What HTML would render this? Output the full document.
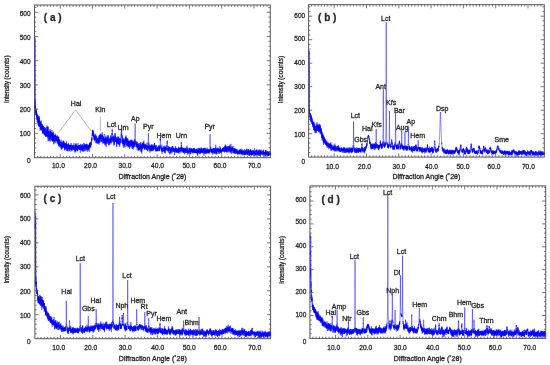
<!DOCTYPE html>
<html><head><meta charset="utf-8"><title>XRD patterns</title>
<style>
html,body{margin:0;padding:0;background:#fff;}
svg{display:block;}
text{font-family:"Liberation Sans", Arial, sans-serif;fill:#2a2a2a;stroke:#2a2a2a;stroke-width:0.3px;}
</style></head>
<body>
<svg width="550" height="365" viewBox="0 0 550 365">
<defs><filter id="soft" x="-2%" y="-5%" width="104%" height="110%"><feGaussianBlur stdDeviation="0.35"/></filter></defs>
<rect x="0" y="0" width="550" height="365" fill="#ffffff"/>
<rect x="34.5" y="5" width="235.8" height="152.7" fill="none" stroke="#585858" stroke-width="1"/>
<path d="M35.3 37.8V110" stroke="#8585f6" stroke-width="1.1" fill="none"/>
<polyline fill="none" stroke="#0000ff" stroke-width="0.45" stroke-linejoin="round" filter="url(#soft)" points="34.8,37.1 34.8,41.4 34.9,53.9 34.9,68.3 35,76 35,86.3 35,88.6 35.1,94.1 35.1,97.2 35.2,107.4 35.2,100.4 35.2,108.1 35.3,106.8 35.3,109.1 35.4,109.3 35.4,107.4 35.4,105.3 35.5,108.4 35.5,109.1 35.6,107.3 35.6,112.4 35.6,113.6 35.7,108.8 35.7,110.6 35.8,114.5 35.8,111.7 35.8,110.9 35.9,114.5 35.9,115 36,112.6 36,109.9 36.1,113.7 36.1,115.8 36.1,111.9 36.2,112.2 36.2,114.4 36.3,111.5 36.3,109 36.3,111.5 36.4,112.8 36.4,111 36.5,113.3 36.5,111.2 36.5,117.1 36.6,114.5 36.6,114.1 36.7,116.5 36.7,112.7 36.7,113.1 36.8,117.7 36.8,113.2 36.9,114.5 36.9,114.7 36.9,115.5 37,114.1 37,119.6 37.1,114.8 37.1,115.8 37.1,122.3 37.2,117.6 37.2,118.8 37.3,114.8 37.3,117.7 37.3,116.8 37.4,116.4 37.4,119 37.5,115.9 37.5,117.4 37.5,116.1 37.6,119.1 37.6,115 37.7,116.3 37.7,119.7 37.7,118.2 37.8,116.2 37.8,114.8 37.9,123.2 37.9,117.3 37.9,118.8 38,120.5 38,122.2 38.1,116 38.1,122.8 38.2,117.8 38.2,116.9 38.2,125.4 38.3,121.6 38.3,125.3 38.4,120.5 38.4,116.9 38.4,116.9 38.5,125.4 38.5,122.9 38.6,120.1 38.6,117.4 38.6,121.5 38.7,124.7 38.7,121.2 38.8,122.6 38.8,123.2 38.8,124.3 38.9,121.3 38.9,120.8 39,122.3 39,124.1 39,126.4 39.1,125.2 39.1,120.7 39.2,123.2 39.2,127.1 39.2,119.4 39.3,121.8 39.3,117.9 39.4,122.3 39.4,122.2 39.4,124.5 39.5,117.1 39.5,116.2 39.6,126.3 39.6,125.4 39.6,122.8 39.7,124.5 39.7,122.8 39.8,123.1 39.8,123.2 39.8,122.4 39.9,125.3 39.9,123.7 40,126.7 40,124.9 40,130.8 40.1,128.4 40.1,121.3 40.2,124.4 40.2,121.5 40.3,123.7 40.3,122.9 40.3,123.3 40.4,123.2 40.4,124.4 40.5,125.5 40.5,127.8 40.5,128.1 40.6,130 40.6,129 40.7,126.1 40.7,124.5 40.7,126.1 40.8,129.2 40.8,125.4 40.9,125.1 40.9,123.1 40.9,123.5 41,127.5 41,128 41.1,120.3 41.1,124.4 41.1,121.8 41.2,121.6 41.2,129.7 41.3,127.8 41.3,127.1 41.3,126.5 41.4,126.6 41.4,126.5 41.5,127.2 41.5,130.7 41.5,127.5 41.6,129.3 41.6,126.4 41.7,127.2 41.7,125.4 41.7,124.6 41.8,126 41.8,127.5 41.9,126.3 41.9,128.5 41.9,127.1 42,127 42,126 42.1,125.7 42.1,124.2 42.1,130 42.2,124 42.2,129.8 42.3,130.3 42.3,128.4 42.4,128.9 42.4,126.3 42.4,129 42.5,131.1 42.5,131.7 42.6,126.7 42.6,129.3 42.6,132.3 42.7,129.3 42.7,133.7 42.8,125.4 42.8,133.6 42.8,129.1 42.9,127.8 42.9,132.6 43,128.1 43,125.7 43,127.7 43.1,129.4 43.1,127.2 43.2,128.2 43.2,127.3 43.2,127.8 43.3,126.4 43.3,130.9 43.4,126.2 43.4,130.1 43.4,131.7 43.5,128.8 43.5,127.2 43.6,128.5 43.6,131.6 43.6,128.8 43.7,130.5 43.7,129.5 43.8,129.4 43.8,134.1 43.8,128.8 43.9,131.4 43.9,131.1 44,133.6 44,134.2 44,133.2 44.1,128.6 44.1,127.2 44.2,131.2 44.2,128.9 44.2,131.6 44.3,135.1 44.3,129.7 44.4,129.5 44.4,133.1 44.4,131.8 44.5,131.9 44.5,135.3 44.6,135.7 44.6,132.5 44.7,131.7 44.7,132.2 44.7,129.1 44.8,127 44.8,131.5 44.9,128.8 44.9,129.3 44.9,130.6 45,131.3 45,134.5 45.1,131.4 45.1,128.4 45.1,130.8 45.2,133.8 45.2,130.1 45.3,128.4 45.3,130.6 45.3,133.3 45.4,128.2 45.4,135 45.5,131.4 45.5,132.7 45.5,136.5 45.6,130.6 45.6,132.2 45.7,135.7 45.7,131.1 45.7,133.4 45.8,137 45.8,134.8 45.9,131.8 45.9,131.2 45.9,132.1 46,131.9 46,132.4 46.1,134.8 46.1,133.4 46.1,136 46.2,134.5 46.2,133.3 46.3,135.8 46.3,135.3 46.3,130.3 46.4,133 46.4,134.3 46.5,133.1 46.5,134 46.5,131.6 46.6,134.1 46.6,130.2 46.7,134.2 46.7,126.9 46.8,130.6 46.8,134.8 46.8,133 46.9,135 46.9,134.6 47,137 47,133.2 47,125.4 47.1,136.4 47.1,131.9 47.2,132.4 47.2,131.1 47.2,136.5 47.3,136.5 47.3,133.5 47.4,133.5 47.4,129 47.4,134.7 47.5,132.6 47.5,127 47.6,136.9 47.6,137.5 47.6,135.5 47.7,134.4 47.7,132.3 47.8,133.5 47.8,135.2 47.8,132.9 47.9,126.2 47.9,130.2 48,141.3 48,135 48,137.2 48.1,132.1 48.1,132.8 48.2,127 48.2,129.6 48.2,130.8 48.3,132.4 48.3,134.5 48.4,134.2 48.4,131.4 48.4,133.9 48.5,135.1 48.5,131 48.6,132.9 48.6,134 48.6,135.9 48.7,135.4 48.7,135.8 48.8,140.9 48.8,131.5 48.9,134.1 48.9,137.2 48.9,132.9 49,134.8 49,133.1 49.1,139.2 49.1,133.3 49.1,132.2 49.2,129.7 49.2,129.8 49.3,131.8 49.3,137.9 49.3,141.3 49.4,135.1 49.4,136.5 49.5,133.7 49.5,135.1 49.5,134.3 49.6,139.4 49.6,135 49.7,137.2 49.7,134.2 49.7,133.5 49.8,135.2 49.8,134.5 49.9,135.8 49.9,133.4 49.9,132.5 50,135.1 50,135.6 50.1,129.1 50.1,134.2 50.1,131.3 50.2,132.1 50.2,135.7 50.3,136.5 50.3,134.5 50.3,135.1 50.4,134.7 50.4,139.4 50.5,137.8 50.5,135.7 50.5,131 50.6,141.6 50.6,135.4 50.7,138.3 50.7,136.1 50.7,137.5 50.8,133.8 50.8,130.8 50.9,133.9 50.9,134.5 51,134.8 51,137.3 51,134.1 51.1,135.5 51.1,137.9 51.2,136.3 51.2,136 51.2,133.8 51.3,136 51.3,137.3 51.4,132.9 51.4,133.4 51.4,132 51.5,133 51.5,134.8 51.6,135.7 51.6,135.4 51.6,132.5 51.7,134.7 51.7,139.5 51.8,136.8 51.8,140.8 51.8,138.1 51.9,139.9 51.9,139 52,134.7 52,133.9 52,137.7 52.1,133.6 52.1,130.1 52.2,140.3 52.2,133.1 52.2,138.2 52.3,138.2 52.3,136 52.4,138.8 52.4,132.7 52.4,135.3 52.5,139.1 52.5,138.3 52.6,141.1 52.6,138.8 52.6,134.8 52.7,141.8 52.7,138.9 52.8,137.1 52.8,135.9 52.8,134.3 52.9,138.7 52.9,139.8 53,136.9 53,139.7 53,140.1 53.1,135.6 53.1,133.2 53.2,136.8 53.2,136.3 53.3,134 53.3,141.2 53.3,135.8 53.4,139.3 53.4,131.7 53.5,136.5 53.5,137.8 53.5,138.6 53.6,144.3 53.6,134.7 53.7,134.2 53.7,139.6 53.7,136.6 53.8,136.6 53.8,140.1 53.9,133.9 53.9,133.4 53.9,136 54,137.7 54,135.7 54.1,140.8 54.1,137.5 54.1,134.9 54.2,141.4 54.2,136.4 54.3,140.2 54.3,143.6 54.3,137.6 54.4,140.2 54.4,137.8 54.5,141.6 54.5,137.5 54.5,141.4 54.6,136.6 54.6,139.1 54.7,138.7 54.7,135 54.7,138.2 54.8,138.7 54.8,140 54.9,135 54.9,136.4 54.9,138.7 55,138.5 55,140.8 55.1,139.9 55.1,140.3 55.1,136.9 55.2,137.4 55.2,140.3 55.3,136.9 55.3,136.6 55.4,137 55.4,135.1 55.4,137.7 55.5,137.4 55.5,136.1 55.6,137.6 55.6,135.5 55.6,139.6 55.7,133.7 55.7,139 55.8,138.4 55.8,143.3 55.8,139.4 55.9,137.3 55.9,138.4 56,137.4 56,142.2 56,139.7 56.1,138.5 56.1,140.5 56.2,137.4 56.2,140.5 56.2,140.6 56.3,138.1 56.3,140.1 56.4,140.3 56.4,141 56.4,138.6 56.5,139 56.5,137.9 56.6,136.4 56.6,140.7 56.6,139 56.7,137.5 56.7,140.3 56.8,139.1 56.8,136.1 56.8,137 56.9,138.2 56.9,140.8 57,140.8 57,137 57,139.2 57.1,137.2 57.1,135.7 57.2,138.4 57.2,138 57.2,137 57.3,135.4 57.3,136.8 57.4,139.5 57.4,139 57.5,144.1 57.5,142.7 57.5,139.9 57.6,141.3 57.6,142.3 57.7,141.8 57.7,141.3 57.7,139.9 57.8,140.8 57.8,139.1 57.9,136.2 57.9,140.9 57.9,138.6 58,139.9 58,142.4 58.1,141.2 58.1,142.6 58.1,138.9 58.2,143.1 58.2,137.3 58.3,138.6 58.3,144.5 58.3,138 58.4,137.3 58.4,142.3 58.5,138.9 58.5,145.2 58.5,140.1 58.6,144.1 58.6,139.3 58.7,143.9 58.7,145.9 58.7,140.3 58.8,136.6 58.8,142.4 58.9,139.6 58.9,140.9 58.9,142.1 59,141.7 59,140.6 59.1,146.5 59.1,142.8 59.1,142 59.2,145.1 59.2,139.8 59.3,139.4 59.3,145.1 59.3,139.7 59.4,142.8 59.4,143.9 59.5,141.6 59.5,144.8 59.5,143.9 59.6,141.1 59.6,140.3 59.7,139.9 59.7,144.3 59.8,145 59.8,140.6 59.8,145 59.9,144 59.9,146.6 60,145.6 60,147.3 60,141.5 60.1,146.5 60.1,144.5 60.2,144.9 60.2,142.7 60.2,146.2 60.3,144.1 60.3,144.2 60.4,142.1 60.4,143.3 60.4,144.8 60.5,144 60.5,145.6 60.6,143.4 60.6,144.5 60.6,146.2 60.7,144.9 60.7,145 60.8,141.7 60.8,146 60.8,144.6 60.9,141.6 60.9,148 61,147.7 61,146 61,144.2 61.1,139.6 61.1,143.1 61.2,142.5 61.2,145.4 61.2,149.8 61.3,148.8 61.3,142.1 61.4,144.6 61.4,147.3 61.4,143.7 61.5,149.3 61.5,144.4 61.6,143.2 61.6,147.6 61.6,147.7 61.7,143.2 61.7,146.3 61.8,142.7 61.8,146 61.9,143.1 61.9,144.4 61.9,144.5 62,145.9 62,143.9 62.1,147.7 62.1,144.9 62.1,146 62.2,144.7 62.2,149.1 62.3,144.4 62.3,147.1 62.3,147.5 62.4,142.6 62.4,142 62.5,145.2 62.5,146.8 62.5,145.9 62.6,147.9 62.6,147.4 62.7,144.1 62.7,146.3 62.7,146.1 62.8,146.2 62.8,146.4 62.9,145 62.9,144.7 62.9,146.5 63,145.8 63,140.5 63.1,143.1 63.1,144.8 63.1,141.3 63.2,144.8 63.2,146.9 63.3,143.3 63.3,146 63.3,146.2 63.4,145.1 63.4,145.9 63.5,147.4 63.5,146.7 63.5,147.5 63.6,144.3 63.6,147.3 63.7,146.3 63.7,140.8 63.7,145.5 63.8,141.4 63.8,141.8 63.9,144.3 63.9,146.8 64,143.8 64,143.1 64,142.9 64.1,144.5 64.1,142.6 64.2,142.2 64.2,146.8 64.2,142.6 64.3,144.6 64.3,146.9 64.4,146.9 64.4,143.5 64.4,145.4 64.5,150.4 64.5,145.9 64.6,145.9 64.6,146.6 64.6,147.2 64.7,149.9 64.7,145.2 64.8,148.1 64.8,146.2 64.8,146 64.9,145.8 64.9,143.1 65,143.9 65,146.8 65,148.3 65.1,147.7 65.1,145.2 65.2,145.8 65.2,145.2 65.2,146.2 65.3,147 65.3,146.2 65.4,149.5 65.4,143.3 65.4,146.3 65.5,146.1 65.5,143.5 65.6,145.5 65.6,146.5 65.6,147.8 65.7,149.4 65.7,146.6 65.8,145.2 65.8,147.9 65.8,143.7 65.9,147.7 65.9,146.9 66,146 66,147 66.1,145.9 66.1,147.4 66.1,148 66.2,149.5 66.2,147.7 66.3,148.4 66.3,147.6 66.3,144.4 66.4,146.1 66.4,148.5 66.5,141.3 66.5,146.9 66.5,148 66.6,142.8 66.6,143.2 66.7,148.4 66.7,148.8 66.7,148 66.8,144.8 66.8,146.1 66.9,147.3 66.9,146.7 66.9,145.5 67,150.8 67,149 67.1,150.9 67.1,144.6 67.1,144.3 67.2,145.5 67.2,147.4 67.3,146.2 67.3,150.9 67.3,147.2 67.4,149.3 67.4,148.1 67.5,147.4 67.5,146.8 67.5,145.2 67.6,145.6 67.6,146.9 67.7,148.6 67.7,146.1 67.7,147.6 67.8,144.5 67.8,148.4 67.9,151.7 67.9,147.4 67.9,143.8 68,147.1 68,148.1 68.1,147.1 68.1,146.9 68.1,146.7 68.2,148.9 68.2,147.6 68.3,148.6 68.3,149.2 68.4,149.3 68.4,146.8 68.4,144.4 68.5,145.4 68.5,146.1 68.6,146 68.6,142.9 68.6,147.1 68.7,146.2 68.7,144.5 68.8,147.7 68.8,147.2 68.8,145.9 68.9,144.9 68.9,147.2 69,146.6 69,146.3 69,149.1 69.1,145.1 69.1,148.3 69.2,151.3 69.2,148.4 69.2,150.9 69.3,148.8 69.3,146.5 69.4,148.1 69.4,145.1 69.4,149.7 69.5,147 69.5,146.3 69.6,145.1 69.6,146 69.6,146.5 69.7,146.9 69.7,147.1 69.8,144.8 69.8,148.3 69.8,146.2 69.9,147.3 69.9,147.3 70,148.6 70,144.6 70,148.3 70.1,146.1 70.1,145.4 70.2,145.2 70.2,146.1 70.2,146.4 70.3,145.7 70.3,150.2 70.4,147.3 70.4,149.2 70.5,146.5 70.5,148.5 70.5,148.7 70.6,147.5 70.6,145.3 70.7,147 70.7,147.5 70.7,146.1 70.8,149.6 70.8,151.5 70.9,149.1 70.9,148.8 70.9,146.8 71,145.1 71,149.6 71.1,142.9 71.1,145.3 71.1,146.1 71.2,147.4 71.2,144.8 71.3,147.7 71.3,148.7 71.3,148 71.4,150 71.4,146.9 71.5,148.1 71.5,147.2 71.5,147.5 71.6,149.7 71.6,145.9 71.7,149.2 71.7,145 71.7,148.6 71.8,145.3 71.8,147.5 71.9,147 71.9,148.6 71.9,151.2 72,150 72,148 72.1,147.6 72.1,150.2 72.1,150.6 72.2,148.5 72.2,147.2 72.3,148.3 72.3,148.5 72.3,146 72.4,145.7 72.4,145.4 72.5,148.3 72.5,146.8 72.6,147.4 72.6,149.5 72.6,146.1 72.7,147.4 72.7,147.9 72.8,144.9 72.8,145.2 72.8,145.2 72.9,144.9 72.9,146.3 73,149.8 73,148.7 73,146.7 73.1,149 73.1,147.7 73.2,147.5 73.2,145.3 73.2,145.8 73.3,146.6 73.3,147.5 73.4,146.2 73.4,146.6 73.4,147.6 73.5,145.7 73.5,147.3 73.6,149.1 73.6,145.5 73.6,147.1 73.7,145.7 73.7,149.5 73.8,147.1 73.8,148.8 73.8,148.3 73.9,149.6 73.9,143.1 74,146.6 74,146.1 74,145.6 74.1,148 74.1,146.9 74.2,149.4 74.2,146.4 74.2,146.9 74.3,145.7 74.3,147.2 74.4,149.6 74.4,150.6 74.4,149.6 74.5,146.8 74.5,147.4 74.6,147.8 74.6,151.1 74.7,152.4 74.7,148.8 74.7,148.4 74.8,148.9 74.8,147.4 74.9,148.2 74.9,149.5 74.9,148.4 75,146.8 75,147.9 75.1,148 75.1,144.7 75.1,148.8 75.2,147.3 75.2,149 75.3,147.8 75.3,145.7 75.3,146.4 75.4,148.6 75.4,147.5 75.5,147.9 75.5,150.1 75.5,151.7 75.6,143.6 75.6,146.2 75.7,148.4 75.7,151 75.7,150.6 75.8,146.5 75.8,152.4 75.9,148.3 75.9,146.2 75.9,146.6 76,145.6 76,147 76.1,143.3 76.1,149 76.1,149.5 76.2,147.1 76.2,144.1 76.3,147.3 76.3,146.1 76.3,148.6 76.4,150.1 76.4,145.7 76.5,144.8 76.5,144.8 76.5,147.9 76.6,148.9 76.6,149.4 76.7,148 76.7,146.9 76.7,146.6 76.8,149.5 76.8,147 76.9,147.4 76.9,148.2 77,148.9 77,149 77,148 77.1,148.2 77.1,147.5 77.2,148.6 77.2,146.7 77.2,147.6 77.3,151.4 77.3,146.9 77.4,147.1 77.4,146.2 77.4,147.5 77.5,147.8 77.5,148.1 77.6,147.6 77.6,148.9 77.6,151.1 77.7,145.6 77.7,151 77.8,148.5 77.8,147 77.8,146.5 77.9,146.6 77.9,146.4 78,145.9 78,148.3 78,143.2 78.1,149.3 78.1,147.2 78.2,148.5 78.2,149.2 78.2,148.1 78.3,145.7 78.3,148.9 78.4,149.3 78.4,146.8 78.4,147.9 78.5,144.9 78.5,146.7 78.6,147.9 78.6,148 78.6,146.7 78.7,146.8 78.7,148.4 78.8,146.6 78.8,147.8 78.8,148 78.9,148.3 78.9,145.1 79,146.4 79,145 79.1,148.2 79.1,149.2 79.1,148.3 79.2,148.6 79.2,148.6 79.3,147.5 79.3,145.1 79.3,146.3 79.4,149 79.4,148.2 79.5,149.2 79.5,147.6 79.5,149.8 79.6,148.2 79.6,147 79.7,148.9 79.7,149.8 79.7,149.4 79.8,147.8 79.8,145.6 79.9,145.1 79.9,146.5 79.9,148.6 80,145 80,147.1 80.1,147.2 80.1,146.6 80.1,148.6 80.2,147.3 80.2,146.6 80.3,146.1 80.3,147.5 80.3,152.7 80.4,148 80.4,146.7 80.5,145.6 80.5,146.8 80.5,143.8 80.6,145.3 80.6,145.3 80.7,146.2 80.7,150.1 80.7,146.7 80.8,147.5 80.8,149 80.9,147 80.9,147.9 80.9,149.7 81,149.5 81,149.7 81.1,148.4 81.1,148.2 81.2,146.3 81.2,150.2 81.2,147.5 81.3,150.4 81.3,147.8 81.4,146.4 81.4,147.6 81.4,147.8 81.5,147.7 81.5,145.3 81.6,149.6 81.6,146 81.6,149.8 81.7,148.1 81.7,146.5 81.8,148.6 81.8,146.8 81.8,146.2 81.9,149.6 81.9,147.8 82,149.1 82,151.2 82,148 82.1,149.2 82.1,144.7 82.2,148.1 82.2,144.1 82.2,147.7 82.3,144.4 82.3,146.4 82.4,147 82.4,146.4 82.4,146.5 82.5,146.5 82.5,145.4 82.6,148.8 82.6,149.3 82.6,151.6 82.7,148.3 82.7,146.1 82.8,147.6 82.8,148.4 82.8,149.2 82.9,149.7 82.9,149.1 83,147.1 83,151.1 83,146.9 83.1,149.3 83.1,147 83.2,146.7 83.2,146.5 83.3,148.5 83.3,148.6 83.3,147.6 83.4,148.6 83.4,143 83.5,147.9 83.5,148.2 83.5,149 83.6,149.6 83.6,151.8 83.7,148 83.7,146.1 83.7,148.6 83.8,146.3 83.8,148.8 83.9,146.6 83.9,145.7 83.9,145.5 84,144.8 84,147 84.1,145.8 84.1,148.1 84.1,147.7 84.2,146.6 84.2,147.6 84.3,149.1 84.3,145.6 84.3,148.4 84.4,148.1 84.4,148.5 84.5,145.2 84.5,147.7 84.5,150.9 84.6,145.3 84.6,143.2 84.7,143.4 84.7,147.5 84.7,147.3 84.8,146.1 84.8,144.4 84.9,145.8 84.9,148 84.9,145.7 85,147.3 85,151.3 85.1,148.9 85.1,147.7 85.1,147.8 85.2,145.8 85.2,145.3 85.3,146.1 85.3,146.8 85.3,149.6 85.4,146.5 85.4,145.1 85.5,144.3 85.5,147.2 85.6,147.3 85.6,144.4 85.6,144.4 85.7,146.1 85.7,144.7 85.8,147.7 85.8,145.5 85.8,147.3 85.9,146.5 85.9,146.9 86,147.3 86,150.7 86,148.3 86.1,145.5 86.1,146.3 86.2,146.3 86.2,145.1 86.2,144.5 86.3,144.9 86.3,148.4 86.4,147.1 86.4,147.4 86.4,148.2 86.5,149 86.5,146.4 86.6,148.4 86.6,143.6 86.6,147.9 86.7,148.1 86.7,148.6 86.8,144.2 86.8,148 86.8,147.3 86.9,147.7 86.9,147.6 87,147.7 87,145.8 87,150 87.1,146.8 87.1,144 87.2,146.9 87.2,146.7 87.2,148.5 87.3,151.9 87.3,147.5 87.4,145.6 87.4,147.9 87.4,149.6 87.5,146.5 87.5,146.8 87.6,145.9 87.6,145.8 87.7,147.9 87.7,147.1 87.7,150.1 87.8,145.7 87.8,147.7 87.9,145.6 87.9,145.3 87.9,147.4 88,146.4 88,148 88.1,150.6 88.1,147.7 88.1,147.4 88.2,148.5 88.2,145 88.3,145.8 88.3,145 88.3,148.2 88.4,149.4 88.4,145.6 88.5,146.4 88.5,146.8 88.5,147.1 88.6,146.7 88.6,146.1 88.7,147.1 88.7,150.1 88.7,145.1 88.8,148.6 88.8,146.4 88.9,145.9 88.9,146.5 88.9,149.6 89,144.8 89,145.8 89.1,145.2 89.1,144.6 89.1,147.9 89.2,151.8 89.2,145.4 89.3,143.9 89.3,144.3 89.3,146.6 89.4,146.1 89.4,144.5 89.5,147.7 89.5,146 89.5,146.2 89.6,143.4 89.6,147.5 89.7,143.7 89.7,145.6 89.8,148.4 89.8,142.4 89.8,147.9 89.9,145.2 89.9,143 90,145.9 90,146.9 90,143.5 90.1,145.1 90.1,147.3 90.2,146.9 90.2,146 90.2,143.2 90.3,145.6 90.3,144.5 90.4,143.1 90.4,143.8 90.4,142.5 90.5,143 90.5,147 90.6,143 90.6,145.1 90.6,145.8 90.7,147.1 90.7,147.5 90.8,146.3 90.8,144 90.8,145.7 90.9,144.5 90.9,143.6 91,141.9 91,144.2 91,144.2 91.1,141.9 91.1,144.4 91.2,142.3 91.2,144.9 91.2,142.3 91.3,142.2 91.3,141.8 91.4,141.7 91.4,141.8 91.4,140.9 91.5,140.5 91.5,138.2 91.6,139 91.6,141.6 91.6,139.2 91.7,141.3 91.7,139.3 91.8,139.9 91.8,140.9 91.8,136.8 91.9,137.6 91.9,139 92,139.8 92,137.9 92.1,138.3 92.1,137.8 92.1,136.2 92.2,134.6 92.2,136 92.3,133.5 92.3,133.3 92.3,134.5 92.4,136.2 92.4,132.5 92.5,133 92.5,130.7 92.5,131.2 92.6,131.9 92.6,130.7 92.7,133.6 92.7,131.7 92.7,132.5 92.8,129.7 92.8,131 92.8,135.8 92.9,129.9 92.9,132.3 92.9,131 93,132.6 93,132.3 93.1,132.6 93.1,133.2 93.1,135 93.2,132.6 93.2,133.1 93.3,134 93.3,133.2 93.3,134.5 93.4,131.2 93.4,134 93.5,134.5 93.5,134.1 93.5,135.8 93.6,136.6 93.6,134.9 93.7,135.6 93.7,133.7 93.7,134.9 93.8,137.2 93.8,134.6 93.9,133.8 93.9,133.4 93.9,134.9 94,138.6 94,135.4 94.1,138.2 94.1,136.7 94.2,140.1 94.2,137.4 94.2,140.4 94.3,136.1 94.3,134.8 94.4,135.1 94.4,139.9 94.4,139.7 94.5,140 94.5,138.4 94.6,137.8 94.6,139 94.6,139.2 94.7,137.7 94.7,137.7 94.8,134.9 94.8,137.1 94.8,137.9 94.9,141.5 94.9,140.8 95,139.9 95,140 95,137.6 95.1,136.3 95.1,139.4 95.2,139.8 95.2,139.6 95.2,139.2 95.3,139.9 95.3,138.5 95.4,138.3 95.4,136.9 95.4,135.8 95.5,137.1 95.5,137.1 95.6,133.7 95.6,137.9 95.6,136 95.7,139.5 95.7,141.5 95.8,142.5 95.8,143.3 95.8,140.5 95.9,140.8 95.9,139.5 96,135.6 96,138.7 96,136.2 96.1,138.4 96.1,138.4 96.2,141.9 96.2,140.6 96.3,135.7 96.3,139 96.3,138.3 96.4,140.4 96.4,137.5 96.5,141.4 96.5,140.9 96.5,137.9 96.6,138.3 96.6,141.7 96.7,140.1 96.7,140.8 96.7,140.3 96.8,141.9 96.8,143.3 96.9,138.5 96.9,142.5 96.9,141.4 97,140.6 97,143.5 97.1,140 97.1,140.5 97.1,140.1 97.2,140.8 97.2,140.8 97.3,139 97.3,138.3 97.3,140.5 97.4,139.2 97.4,139.5 97.5,140.2 97.5,137.8 97.5,141.2 97.6,138.9 97.6,139.3 97.7,140.9 97.7,143.3 97.7,138.9 97.8,139.5 97.8,139.2 97.9,139.5 97.9,139.9 97.9,141.7 98,139.4 98,143.9 98.1,140.8 98.1,142.6 98.1,140 98.2,137.9 98.2,139 98.3,140.6 98.3,138.3 98.4,140 98.4,140.9 98.4,141 98.5,138 98.5,139.6 98.6,139.1 98.6,142.4 98.6,138.4 98.7,142.7 98.7,139.4 98.8,142.1 98.8,135.6 98.8,143.1 98.9,137.3 98.9,138.7 99,144.7 99,139.8 99,136.3 99.1,137.4 99.1,142.8 99.2,141.1 99.2,142.2 99.2,141.2 99.3,139.8 99.3,135.2 99.4,138.2 99.4,139.4 99.4,139.7 99.5,137.2 99.5,138.4 99.6,141.1 99.6,135.6 99.6,141.9 99.7,140.2 99.7,138.4 99.8,136 99.8,139.1 99.8,137.5 99.9,135.9 99.9,137.6 100,136.6 100,136.7 100,137.6 100.1,136.1 100.1,135.1 100.2,137.2 100.2,134.2 100.2,139.6 100.3,137.7 100.3,133.7 100.4,135 100.4,138.5 100.4,137.6 100.5,135.8 100.5,138.7 100.6,135.4 100.6,135.7 100.6,135.6 100.7,136.2 100.7,134.5 100.7,139.1 100.8,138.8 100.8,137.2 100.9,141.4 100.9,142.4 100.9,138.4 101,139.6 101,139.4 101.1,139.1 101.1,141.2 101.1,134.2 101.2,141.5 101.2,139.9 101.3,141.4 101.3,139.4 101.3,135.5 101.4,138.3 101.4,137.6 101.5,139.8 101.5,135.8 101.5,139.3 101.6,141.6 101.6,138.1 101.7,139.1 101.7,137.5 101.7,138.2 101.8,136.8 101.8,137 101.9,138.6 101.9,139.2 101.9,135.3 102,137.2 102,135.2 102.1,136.4 102.1,136.9 102.1,135.6 102.2,132.2 102.2,134.5 102.2,133.7 102.3,135.5 102.3,136 102.3,135.3 102.4,136.5 102.4,136.6 102.5,137.7 102.5,139.3 102.5,138.5 102.6,138.6 102.6,138.9 102.7,135.6 102.7,138.5 102.8,137.7 102.8,140.6 102.8,136.6 102.9,141.3 102.9,143.6 103,142.7 103,139.4 103,142.3 103.1,137.3 103.1,139.2 103.2,143.2 103.2,141 103.2,136.1 103.3,143 103.3,143.3 103.4,139.7 103.4,139.2 103.4,138.5 103.5,141.5 103.5,140.1 103.6,139.3 103.6,138.2 103.6,137 103.7,141.8 103.7,139.3 103.8,142.6 103.8,139.9 103.8,142.6 103.9,141.6 103.9,138.8 104,141.8 104,138.1 104,140.7 104.1,139.8 104.1,140.2 104.2,141.6 104.2,141.4 104.2,139.4 104.3,134 104.3,141.8 104.4,139.3 104.4,139.7 104.4,142.3 104.5,141.2 104.5,142.9 104.6,141.9 104.6,138.9 104.6,144.6 104.7,140.4 104.7,138.9 104.8,141.9 104.8,139.5 104.9,140.3 104.9,141.4 104.9,138.6 105,143.4 105,138.5 105.1,140.9 105.1,142.9 105.1,142.3 105.2,142.7 105.2,141.5 105.3,145.7 105.3,140.9 105.3,141.8 105.4,136.6 105.4,142.6 105.5,137.6 105.5,143.4 105.5,139.1 105.6,139.6 105.6,140.3 105.7,141.9 105.7,144.7 105.7,144.3 105.8,138.3 105.8,141.3 105.9,143.4 105.9,139.2 105.9,142.8 106,142.8 106,142.9 106.1,138.1 106.1,135.5 106.1,141.5 106.2,139.7 106.2,138.5 106.3,137.7 106.3,147.1 106.3,141.6 106.4,139.7 106.4,142.7 106.5,138.8 106.5,139.8 106.5,139.9 106.6,142.9 106.6,140.2 106.7,142 106.7,139.4 106.7,140.3 106.8,141.7 106.8,143.7 106.9,137.1 106.9,138.3 107,139.2 107,142.9 107,143.4 107.1,139.2 107.1,140.6 107.2,143.8 107.2,140.1 107.2,139.5 107.3,139.4 107.3,140.5 107.4,136.8 107.4,138.6 107.4,140.3 107.5,142.1 107.5,140.4 107.6,139.4 107.6,138.9 107.6,141.7 107.7,137.8 107.7,139 107.8,138.4 107.8,141.3 107.8,138.9 107.9,139.7 107.9,138 108,136.9 108,135.5 108,137.5 108,139.3 108.1,134.9 108.1,137.4 108.2,138.4 108.2,138.7 108.2,140.9 108.3,137.9 108.3,137.8 108.4,136.4 108.4,138.2 108.4,139.5 108.5,139.7 108.5,142.2 108.6,141.6 108.6,140.2 108.6,142.4 108.7,141.1 108.7,142.1 108.8,140.1 108.8,142.2 108.8,145.4 108.9,141.4 108.9,138.6 109,145 109,143.4 109,141.8 109.1,145 109.1,142.6 109.2,140.9 109.2,143.6 109.3,140.4 109.3,140.8 109.3,143.1 109.4,141.5 109.4,138.8 109.5,141.5 109.5,141.2 109.5,140.3 109.6,142.2 109.6,139.8 109.7,140.8 109.7,142.2 109.7,139.8 109.8,139.5 109.8,139.3 109.9,142.1 109.9,139.1 109.9,137.5 110,141.2 110,139.6 110.1,138.6 110.1,140.4 110.1,138.9 110.2,140.7 110.2,139.4 110.3,142 110.3,142.6 110.3,142.4 110.4,141.6 110.4,140.8 110.5,140.3 110.5,142.8 110.5,141.5 110.6,138.3 110.6,138.3 110.7,140.4 110.7,135.7 110.7,139.2 110.8,141.3 110.8,139.1 110.9,137.7 110.9,140.3 110.9,144.3 111,139.5 111,139.7 111.1,135.1 111.1,143.1 111.1,136.8 111.2,140 111.2,137.7 111.3,140.6 111.3,139.1 111.4,138 111.4,139.6 111.4,138 111.5,140.6 111.5,141.1 111.6,141.6 111.6,142 111.6,141.8 111.7,137.9 111.7,141.7 111.8,142.2 111.8,138.8 111.8,136.1 111.9,136.1 111.9,134.5 112,133.5 112,135.2 112,133.2 112.1,134.8 112.1,130.9 112.2,128.8 112.2,130.8 112.2,131.2 112.2,131 112.3,130.6 112.3,130.4 112.4,130.3 112.4,132.6 112.4,136.5 112.5,138.9 112.5,136.9 112.6,136.4 112.6,141.4 112.6,140.1 112.7,139.6 112.7,138.9 112.8,139.4 112.8,138.5 112.8,138.3 112.9,140.2 112.9,139.2 113,136.7 113,142.3 113,142 113.1,139.4 113.1,137.3 113.2,140.5 113.2,138.3 113.2,140.3 113.3,137.7 113.3,140.8 113.4,138.5 113.4,139.1 113.5,137.7 113.5,135.6 113.5,138.1 113.6,141.4 113.6,139.7 113.7,145.7 113.7,139.8 113.7,137.1 113.8,141.3 113.8,140.5 113.9,140 113.9,137.7 113.9,139.5 114,137.9 114,140.7 114.1,140.4 114.1,139.6 114.1,140 114.2,142.6 114.2,136.2 114.3,139.5 114.3,143.5 114.3,138.6 114.4,140.4 114.4,140.7 114.5,139.5 114.5,141.8 114.5,145.1 114.6,139.7 114.6,138 114.7,137.1 114.7,139.7 114.7,138.8 114.8,137.9 114.8,138.4 114.9,138.6 114.9,136.7 114.9,138 115,133.4 115,136.4 115.1,135.5 115.1,136.2 115.1,136.8 115.1,134.5 115.2,133.9 115.2,133.3 115.3,135.5 115.3,137.4 115.3,135.6 115.4,139.3 115.4,137.6 115.5,137.6 115.5,137.9 115.6,141.3 115.6,141.9 115.6,136.9 115.7,139.7 115.7,141.8 115.8,140.9 115.8,138.7 115.8,138.4 115.9,142 115.9,140.2 116,141.8 116,140.6 116,139.3 116.1,141.5 116.1,140.5 116.2,141.4 116.2,141.5 116.2,139.2 116.3,142.3 116.3,141.3 116.4,142.9 116.4,141.3 116.4,141.5 116.5,138.4 116.5,140.9 116.6,141 116.6,137.6 116.6,146.7 116.7,142.8 116.7,146.5 116.8,141.4 116.8,139.9 116.8,139.7 116.9,140.1 116.9,141.9 117,136.8 117,139.6 117,141.6 117.1,144 117.1,140.5 117.2,141.7 117.2,140.3 117.2,139.1 117.3,139.8 117.3,142.6 117.4,138.9 117.4,143.3 117.4,143.9 117.5,140.8 117.5,141.3 117.6,140.9 117.6,141.1 117.6,139 117.7,140.1 117.7,143.1 117.8,138.2 117.8,143.1 117.9,142.4 117.9,139.7 117.9,141.9 118,136.1 118,144.2 118.1,143.3 118.1,142.1 118.1,139.2 118.2,141.6 118.2,144 118.3,137.4 118.3,141.7 118.3,140.2 118.4,137.2 118.4,141.4 118.5,141.1 118.5,139.8 118.5,141.5 118.6,140.1 118.6,142 118.7,139.5 118.7,141.8 118.7,142.5 118.8,136.7 118.8,139.9 118.9,138.5 118.9,142.9 118.9,141.8 119,141.8 119,144.5 119.1,140.3 119.1,142.5 119.1,142.6 119.2,145.6 119.2,141.1 119.3,141.2 119.3,141.2 119.3,143.9 119.4,142 119.4,138.3 119.5,141.2 119.5,140.2 119.5,141.3 119.6,144.5 119.6,140.1 119.7,146.8 119.7,141.7 119.7,142.7 119.8,144.6 119.8,140.9 119.9,140.8 119.9,140.8 120,142.2 120,139.9 120,138.4 120.1,140.6 120.1,139.2 120.2,139.6 120.2,140 120.2,138.9 120.3,141.1 120.3,141.5 120.4,139.8 120.4,139.4 120.4,138 120.5,138.9 120.5,141.5 120.6,141.4 120.6,142.6 120.6,143.1 120.7,142 120.7,138.8 120.8,141 120.8,140.1 120.8,139.6 120.9,141.8 120.9,140.8 121,143.2 121,138.2 121,138.1 121.1,136.3 121.1,135.8 121.2,138.1 121.2,132.8 121.2,135.3 121.3,134.6 121.3,135.9 121.4,132 121.4,131.8 121.4,132.3 121.5,131.5 121.5,130.3 121.6,131.5 121.6,130.8 121.6,128.7 121.6,129.6 121.7,130.8 121.7,129.2 121.8,132.4 121.8,133.4 121.8,133.4 121.9,134.9 121.9,135.2 122,135.4 122,137.2 122.1,137.2 122.1,136.6 122.1,137.8 122.2,138.1 122.2,138.8 122.3,139.2 122.3,138.9 122.3,140.5 122.4,140.3 122.4,138.8 122.5,143.9 122.5,139.9 122.5,135.2 122.6,144 122.6,137.9 122.7,143.9 122.7,140.1 122.7,138.1 122.8,138.8 122.8,143.9 122.9,143.8 122.9,143.6 122.9,139.8 123,141.7 123,141.5 123.1,142 123.1,141.5 123.1,141.8 123.2,142.3 123.2,145.6 123.3,139 123.3,147.5 123.3,139.9 123.4,142.7 123.4,142.9 123.5,143.4 123.5,143.3 123.5,143.4 123.6,143.1 123.6,144 123.7,140.3 123.7,142.6 123.7,139 123.8,141.9 123.8,142.8 123.9,140.5 123.9,140.2 123.9,143.2 124,141.5 124,137.9 124.1,142.3 124.1,142.2 124.1,141.4 124.2,144.9 124.2,147.9 124.3,146.8 124.3,142.1 124.4,141.5 124.4,141.5 124.4,142.3 124.5,146.1 124.5,142.8 124.6,141.2 124.6,144.2 124.6,140.3 124.7,141.5 124.7,140.6 124.8,140.1 124.8,144 124.8,139.1 124.9,144.7 124.9,143.3 125,144.4 125,142.9 125,142.1 125.1,143 125.1,139.7 125.2,141.8 125.2,143.3 125.2,147.1 125.3,142.3 125.3,141.5 125.4,141.9 125.4,142.7 125.4,139.7 125.5,138.6 125.5,137.1 125.6,137.5 125.6,140.3 125.6,138 125.7,139.6 125.7,136.5 125.8,137.7 125.8,139.9 125.8,139.4 125.8,140.3 125.9,140.8 125.9,137.8 126,135.4 126,139.3 126,139.4 126.1,141.2 126.1,142.1 126.2,137.9 126.2,142.5 126.2,141 126.3,141.4 126.3,140.3 126.4,141.1 126.4,138.6 126.5,142.9 126.5,139.7 126.5,137.3 126.6,143.6 126.6,143.2 126.7,139.8 126.7,141.9 126.7,139.8 126.8,145.8 126.8,141 126.9,144 126.9,145 126.9,142.1 127,141.3 127,146.7 127.1,145.5 127.1,144.3 127.1,143.6 127.2,145.5 127.2,138.9 127.3,141.6 127.3,143.3 127.3,143.2 127.4,138.2 127.4,138.8 127.5,144.3 127.5,143.9 127.5,140.7 127.6,145.9 127.6,144.3 127.7,139.4 127.7,143.7 127.7,142.8 127.8,146 127.8,145 127.9,142.8 127.9,145.2 127.9,145.1 128,143.6 128,138.7 128.1,142.2 128.1,142.5 128.1,142 128.2,142.6 128.2,143 128.3,147.5 128.3,143 128.3,143.3 128.4,141.4 128.4,146.2 128.5,142 128.5,144.4 128.6,147 128.6,140.5 128.6,144 128.7,142.6 128.7,143.5 128.8,141 128.8,140.8 128.8,141.1 128.9,141.7 128.9,146.2 129,146.3 129,142.8 129,145.4 129.1,143.6 129.1,143.7 129.2,146.3 129.2,144.8 129.2,144.3 129.3,144.5 129.3,142.8 129.4,141.6 129.4,140.5 129.4,145.7 129.5,145.4 129.5,141.6 129.6,143.3 129.6,143.6 129.6,149 129.7,146.5 129.7,145 129.8,146.7 129.8,141.5 129.8,144.3 129.9,142.8 129.9,145.1 130,145.9 130,146.2 130,146.7 130.1,145.6 130.1,142.9 130.2,142.9 130.2,140.9 130.2,145.9 130.3,143.3 130.3,143.1 130.4,140.4 130.4,143.9 130.4,143.2 130.5,144.9 130.5,143 130.6,143.3 130.6,144 130.7,144.2 130.7,143.4 130.7,142.5 130.8,147.2 130.8,142.8 130.9,145.2 130.9,139.9 130.9,140.8 131,144.5 131,144.7 131.1,139.6 131.1,143.3 131.1,143.2 131.2,145.1 131.2,144.4 131.3,141.5 131.3,142.8 131.3,145 131.4,140.8 131.4,142.7 131.5,144.4 131.5,141.6 131.5,144.2 131.6,142.4 131.6,145.4 131.7,142.9 131.7,146.2 131.7,142.1 131.8,146 131.8,142.8 131.9,148.4 131.9,144.7 131.9,142.7 132,143.2 132,141.5 132.1,145.2 132.1,139.8 132.1,139.9 132.2,144.8 132.2,143.9 132.3,143.8 132.3,143 132.3,143.6 132.4,149 132.4,144.4 132.5,146.2 132.5,147.1 132.5,143.7 132.6,145.4 132.6,142.2 132.7,143.5 132.7,144.7 132.7,141 132.8,142 132.8,143.9 132.9,145.8 132.9,144.4 133,142 133,144 133,140.2 133.1,143.4 133.1,144.1 133.2,143.4 133.2,146.4 133.2,145.8 133.3,146.8 133.3,149.5 133.4,148.7 133.4,142.8 133.4,145 133.5,145.6 133.5,147.8 133.6,147.3 133.6,144.2 133.6,145 133.7,145.8 133.7,141.2 133.8,145.1 133.8,145.7 133.8,142.7 133.9,147.5 133.9,143 134,146 134,146 134,146.6 134.1,144.8 134.1,145.2 134.2,145.1 134.2,144.5 134.2,142.5 134.3,141.6 134.3,142.8 134.4,143.2 134.4,144.9 134.4,145.4 134.5,142.5 134.5,144 134.6,142.3 134.6,147 134.6,139.4 134.7,144.1 134.7,141.9 134.8,139.6 134.8,142.5 134.8,140.6 134.9,140.6 134.9,137.4 135,134.6 135,129.6 135.1,127.8 135.1,125.6 135.1,124 135.1,123.7 135.2,125.3 135.2,127 135.3,130 135.3,132.8 135.3,133.5 135.4,136.8 135.4,139.4 135.5,141.2 135.5,141.8 135.5,143.6 135.6,143.1 135.6,144 135.7,141.2 135.7,141.8 135.7,145.5 135.8,143.2 135.8,141.8 135.9,144.3 135.9,143.2 135.9,144.2 136,144.1 136,145.1 136.1,144.3 136.1,143.8 136.1,147.1 136.2,146.2 136.2,146.9 136.3,143.4 136.3,146.3 136.3,146.1 136.4,146.5 136.4,146.6 136.5,146.1 136.5,143.6 136.5,144.9 136.6,142.1 136.6,145 136.7,144.8 136.7,145.7 136.7,145 136.8,144.8 136.8,142.5 136.9,140.9 136.9,147.5 136.9,145.4 137,144.3 137,147 137.1,147 137.1,146.4 137.2,150.5 137.2,145.3 137.2,145.7 137.3,146.6 137.3,146.3 137.4,145.7 137.4,142.4 137.4,146.3 137.5,144.4 137.5,147.3 137.6,146.3 137.6,146.6 137.6,147 137.7,148 137.7,147.4 137.8,144.3 137.8,143.3 137.8,143.7 137.9,145.7 137.9,144.9 138,149.9 138,144.4 138,145.8 138.1,145.7 138.1,144.6 138.2,147.2 138.2,144.6 138.2,146.4 138.3,145.7 138.3,146.8 138.4,146 138.4,144.3 138.4,146.2 138.5,146.9 138.5,146.9 138.6,146.5 138.6,143.4 138.6,148.5 138.7,150.9 138.7,148.2 138.8,149.2 138.8,148.2 138.8,147.2 138.9,148.8 138.9,148.3 139,150.2 139,146.7 139,148 139.1,145.8 139.1,145.7 139.2,149.5 139.2,149 139.3,147.8 139.3,146.5 139.3,150 139.4,146.5 139.4,143 139.5,146.2 139.5,145.7 139.5,146.8 139.6,148.2 139.6,145.4 139.7,146 139.7,146.2 139.7,145.6 139.8,145.4 139.8,150.2 139.9,145.8 139.9,148.6 139.9,147.2 140,148.6 140,148.6 140.1,144.7 140.1,146.2 140.1,147 140.2,147.8 140.2,147.7 140.3,147.6 140.3,151.5 140.3,148.3 140.4,146.8 140.4,145.1 140.5,144.1 140.5,147.9 140.5,142.4 140.6,146 140.6,145.2 140.7,147.4 140.7,148.2 140.7,144.3 140.8,147.4 140.8,147 140.9,145 140.9,144.3 140.9,149.2 141,146.5 141,146.2 141.1,143.2 141.1,142.2 141.1,146.1 141.2,145.8 141.2,144.5 141.3,144.4 141.3,148 141.3,146.2 141.4,149 141.4,152 141.5,149.6 141.5,147.1 141.6,146.6 141.6,151.8 141.6,151 141.7,148.8 141.7,153.7 141.8,146.9 141.8,145.8 141.8,151.1 141.9,145.4 141.9,147.1 142,145.4 142,147.5 142,148.3 142.1,147.5 142.1,144.9 142.2,146.2 142.2,146.8 142.2,149.2 142.3,146.1 142.3,146.5 142.4,143.4 142.4,146.7 142.4,147.3 142.5,148.7 142.5,147.2 142.6,148.1 142.6,148.7 142.6,144.4 142.7,143.7 142.7,147.2 142.8,148.6 142.8,146.1 142.8,148.4 142.9,143.4 142.9,147.4 143,144.5 143,147.5 143,144.7 143.1,142.8 143.1,144.3 143.2,146.2 143.2,141.5 143.2,144.2 143.3,145.4 143.3,145.3 143.4,145.4 143.4,142.8 143.4,145.4 143.5,144.7 143.5,146.1 143.5,143.2 143.6,144.6 143.6,142.9 143.7,143.3 143.7,145.4 143.7,144.3 143.8,143.9 143.8,147.3 143.9,144.7 143.9,140.5 143.9,146.2 144,144.9 144,147.7 144.1,145.2 144.1,147.2 144.1,144.9 144.2,146.6 144.2,148.4 144.3,144.5 144.3,146.9 144.3,148 144.4,146.5 144.4,148.4 144.5,145.6 144.5,146.1 144.5,147.1 144.6,145.5 144.6,149.5 144.7,145.2 144.7,149.8 144.7,144.5 144.8,146.3 144.8,148.1 144.9,148.7 144.9,146.4 144.9,148 145,148 145,146.8 145.1,149.1 145.1,148.3 145.1,146.4 145.2,144.6 145.2,146.3 145.3,146.3 145.3,146.6 145.3,144.7 145.4,143.7 145.4,147.5 145.5,146.7 145.5,146.8 145.5,146.3 145.6,144.3 145.6,147.1 145.7,147.5 145.7,145.6 145.8,149.6 145.8,148.2 145.8,146.9 145.9,146.6 145.9,146.5 146,147.7 146,144.5 146,147.7 146.1,146.9 146.1,145.2 146.2,146.6 146.2,148.9 146.2,148 146.3,147.6 146.3,148 146.4,146.1 146.4,148.9 146.4,146.6 146.5,149.7 146.5,148.5 146.6,148.9 146.6,146 146.6,149.2 146.7,148.2 146.7,149.6 146.8,147.5 146.8,146.8 146.8,147.4 146.9,144.9 146.9,149.4 147,145.4 147,142.4 147,148.4 147.1,145.6 147.1,148.4 147.2,146.1 147.2,148.4 147.2,146.3 147.3,148.7 147.3,150.2 147.4,149.3 147.4,149.7 147.4,147.8 147.5,146.7 147.5,149.1 147.6,149.5 147.6,149.1 147.6,147.1 147.7,151 147.7,147.1 147.8,146.6 147.8,151.5 147.9,146.1 147.9,149.6 147.9,148.1 148,145.8 148,148.5 148.1,148.4 148.1,146.4 148.1,144.5 148.2,142 148.2,139.6 148.3,137.2 148.3,135.3 148.3,133.4 148.4,133.2 148.4,133.2 148.4,133.1 148.5,135.7 148.5,135.5 148.5,139.7 148.6,140.7 148.6,143.7 148.7,143.6 148.7,144.2 148.7,144.2 148.8,144.3 148.8,147.7 148.9,142.6 148.9,146.8 148.9,148.6 149,149.5 149,144.4 149.1,144.9 149.1,147.9 149.1,146.7 149.2,145.8 149.2,147.6 149.3,148.1 149.3,147.3 149.3,146.3 149.4,146.9 149.4,149.3 149.5,146.8 149.5,150.4 149.5,149.7 149.6,146 149.6,146.7 149.7,146 149.7,146.5 149.7,145.2 149.8,147.7 149.8,151.3 149.9,147.5 149.9,152.6 149.9,151.2 150,145.6 150,146.4 150.1,148.9 150.1,147.7 150.2,146.9 150.2,146.2 150.2,149.7 150.3,150.3 150.3,150.4 150.4,149.1 150.4,148.4 150.4,149 150.5,147 150.5,148.9 150.6,146.9 150.6,148.9 150.6,149.2 150.7,145.8 150.7,149.2 150.8,150.1 150.8,148.7 150.8,151 150.9,147.3 150.9,146.8 151,145.8 151,149.4 151,148.9 151.1,145.3 151.1,149 151.2,146.1 151.2,144.9 151.2,148.9 151.3,144.3 151.3,145.1 151.4,145.2 151.4,144.6 151.4,146.8 151.5,148.2 151.5,147.8 151.6,149.3 151.6,148.7 151.6,151.3 151.7,145.7 151.7,149.4 151.8,148 151.8,148.9 151.8,149.1 151.9,148.5 151.9,147.8 152,151.2 152,149.9 152,147.2 152.1,150.9 152.1,150.8 152.2,145.1 152.2,147.2 152.3,146.5 152.3,148.9 152.3,148.6 152.4,147.3 152.4,147.9 152.5,148.1 152.5,149.8 152.5,149.4 152.6,150.6 152.6,146.5 152.7,149.2 152.7,147.8 152.7,146.8 152.8,146.1 152.8,145.5 152.9,147.3 152.9,148.8 152.9,144.2 153,148 153,148 153.1,148.2 153.1,148.5 153.1,148.5 153.2,147.7 153.2,150.5 153.3,148.2 153.3,149.4 153.3,146.5 153.4,150.6 153.4,148.5 153.5,146.9 153.5,149.9 153.5,147.4 153.6,147.6 153.6,149.3 153.7,147.2 153.7,145.9 153.7,146.7 153.8,147.4 153.8,148.4 153.9,147.3 153.9,146.3 153.9,147 154,147 154,145.1 154.1,149 154.1,148.6 154.1,149.1 154.2,145.3 154.2,149.4 154.3,145.7 154.3,144.8 154.4,146.3 154.4,144.9 154.4,144.6 154.5,142.9 154.5,144.8 154.5,143.2 154.6,142.9 154.6,143.6 154.6,144.6 154.7,144.1 154.7,145.7 154.8,146.8 154.8,147.2 154.8,146 154.9,147.1 154.9,146.2 155,147 155,146.1 155,149.1 155.1,147.6 155.1,147.1 155.2,146.4 155.2,145.4 155.2,146.9 155.3,146.2 155.3,145.4 155.4,147 155.4,150.5 155.4,151.6 155.5,148.7 155.5,150.6 155.6,149 155.6,149.2 155.6,146.6 155.7,146.4 155.7,149.7 155.8,147.5 155.8,148.3 155.8,149.8 155.9,146.7 155.9,148.7 156,148.6 156,145.8 156,147.7 156.1,147.6 156.1,149.5 156.2,151 156.2,147.9 156.2,150.6 156.3,150.5 156.3,150 156.4,149.3 156.4,145 156.4,148.4 156.5,148.5 156.5,148.1 156.6,148.2 156.6,150.5 156.7,151.4 156.7,149.3 156.7,149.4 156.8,150.1 156.8,150.6 156.9,150.8 156.9,149.7 156.9,148.9 157,150.8 157,149 157.1,148.3 157.1,149.1 157.1,150.8 157.2,149.4 157.2,148.4 157.3,147.4 157.3,151.5 157.3,147.7 157.4,149.3 157.4,147.9 157.5,146.9 157.5,149.9 157.5,149.2 157.6,148.8 157.6,147.7 157.7,149.1 157.7,150.7 157.7,149.5 157.8,148.3 157.8,147.5 157.9,150.1 157.9,150 157.9,149.5 158,149.1 158,150.8 158.1,149.7 158.1,148.9 158.1,148.8 158.2,148.1 158.2,149.9 158.3,149 158.3,150 158.3,147.1 158.4,146 158.4,147.6 158.5,145.4 158.5,148.5 158.5,149.3 158.6,150.4 158.6,148.1 158.7,149.7 158.7,149.1 158.8,149.3 158.8,150.1 158.8,150.9 158.9,149 158.9,148.8 159,148.5 159,147.6 159,148.8 159.1,148.3 159.1,145.7 159.2,146.9 159.2,148.6 159.2,150 159.3,149.2 159.3,148.1 159.4,147 159.4,145.6 159.4,150.1 159.5,149.5 159.5,151.2 159.6,150.2 159.6,150.1 159.6,150.7 159.7,147.3 159.7,148.7 159.8,146.8 159.8,149.4 159.8,147.9 159.9,146.6 159.9,149.6 160,147.7 160,145.3 160,145 160.1,145.8 160.1,143.7 160.2,143 160.2,141.5 160.2,138.7 160.3,140.3 160.3,138.2 160.3,139.9 160.4,140.4 160.4,139.1 160.4,140.3 160.5,140.6 160.5,141.1 160.6,142.8 160.6,143.8 160.6,147.9 160.7,146.9 160.7,146.3 160.8,146.4 160.8,146.4 160.9,148.2 160.9,146.7 160.9,146.3 161,148.5 161,148.7 161.1,148.6 161.1,147.2 161.1,147.6 161.2,148.1 161.2,147.6 161.3,148.5 161.3,151.4 161.3,148.9 161.4,149 161.4,148.6 161.5,149.6 161.5,148.9 161.5,148.7 161.6,150.6 161.6,148.4 161.7,147.4 161.7,147.8 161.7,150.6 161.8,151.1 161.8,149.2 161.9,149.8 161.9,144.6 161.9,149.2 162,150 162,148.5 162.1,150.8 162.1,153.9 162.1,151.1 162.2,151.9 162.2,150.5 162.3,151.7 162.3,150.1 162.3,149.9 162.4,149.5 162.4,150.8 162.5,150.1 162.5,149.7 162.5,148.1 162.6,148.7 162.6,150.4 162.7,148.5 162.7,151 162.7,149.9 162.8,151.5 162.8,148.8 162.9,149.1 162.9,148.3 163,148.7 163,149.1 163,149.9 163.1,149.9 163.1,150.8 163.2,148.8 163.2,151.2 163.2,151.2 163.3,148.2 163.3,148.7 163.4,145.9 163.4,147.6 163.4,148 163.5,149.7 163.5,148.9 163.6,147.6 163.6,148.3 163.6,148.5 163.7,149.2 163.7,150 163.8,149.6 163.8,150.4 163.8,147.9 163.9,149.5 163.9,149.6 164,148.5 164,149.8 164,148.3 164.1,147.6 164.1,148.9 164.2,150.9 164.2,151.5 164.2,146.7 164.3,149.6 164.3,151.8 164.4,148.5 164.4,152.6 164.4,150.7 164.5,149.8 164.5,149.7 164.6,151 164.6,145.6 164.6,149.7 164.7,148.4 164.7,148.6 164.8,151.5 164.8,150 164.8,148.8 164.9,147.8 164.9,149.3 165,148.3 165,150.1 165,148.3 165.1,152.9 165.1,148.2 165.2,150.4 165.2,150.4 165.3,153.6 165.3,151.5 165.3,148.8 165.4,147.5 165.4,151.2 165.5,150.8 165.5,148.7 165.5,148.1 165.6,149.7 165.6,149.4 165.7,149.9 165.7,147.9 165.7,148 165.8,146.8 165.8,147.4 165.9,148.3 165.9,148.7 165.9,147.4 166,150.5 166,145.6 166.1,148.4 166.1,147 166.1,150.5 166.2,148.2 166.2,148.5 166.3,149.5 166.3,149.8 166.3,149.8 166.4,146.9 166.4,147 166.5,148.4 166.5,148 166.5,148.3 166.6,149.7 166.6,149.2 166.7,147.4 166.7,147 166.7,147.6 166.8,145.4 166.8,145.2 166.9,145.4 166.9,146.9 166.9,144 167,143.5 167,143.4 167.1,144.1 167.1,140.7 167.1,142.1 167.1,142.6 167.2,140.8 167.2,141.6 167.3,142.2 167.3,143.3 167.4,143.7 167.4,143.4 167.4,145.5 167.5,146.4 167.5,146.2 167.6,151 167.6,148.6 167.6,149.7 167.7,149.2 167.7,149.7 167.8,148.9 167.8,149 167.8,149.5 167.9,149.3 167.9,148.2 168,149.6 168,147.7 168,151.6 168.1,148.7 168.1,148.8 168.2,151.1 168.2,150.6 168.2,148.8 168.3,150.5 168.3,150.7 168.4,153 168.4,147.9 168.4,148.3 168.5,147.8 168.5,146.1 168.6,149 168.6,149.5 168.6,150.8 168.7,149.4 168.7,149.3 168.8,147.9 168.8,147.8 168.8,149.5 168.9,149.1 168.9,146.4 169,150.1 169,148.1 169,147.2 169.1,148.3 169.1,148.7 169.2,147.1 169.2,148.2 169.2,149 169.3,149.5 169.3,147.9 169.4,148.7 169.4,147.6 169.5,150.2 169.5,149.5 169.5,149.6 169.6,148.4 169.6,150 169.7,148.5 169.7,149.7 169.7,151.9 169.8,154.5 169.8,152 169.9,147 169.9,148.7 169.9,148.6 170,150.2 170,148.8 170.1,153 170.1,153.5 170.1,152.8 170.2,150.5 170.2,148.9 170.3,148.8 170.3,149.2 170.3,150.9 170.4,148.8 170.4,150.7 170.5,151.1 170.5,151.3 170.5,152 170.6,152.5 170.6,152 170.7,152.7 170.7,149.7 170.7,150 170.8,147.9 170.8,152.3 170.9,147.3 170.9,149.6 170.9,150.4 171,151.8 171,153.2 171.1,153.7 171.1,149.4 171.1,150.4 171.2,148.7 171.2,148.5 171.3,150.7 171.3,150.5 171.3,150.4 171.4,148.4 171.4,149.6 171.5,149.1 171.5,148.4 171.6,149.2 171.6,146.6 171.6,150.8 171.7,148.4 171.7,149.1 171.8,152.5 171.8,149.7 171.8,149.8 171.9,148.2 171.9,150.7 172,149.4 172,151.4 172,150.5 172.1,148.6 172.1,150 172.2,152.6 172.2,151 172.2,150.4 172.3,146.7 172.3,149 172.4,149.9 172.4,146.3 172.4,147.2 172.5,147.4 172.5,148.9 172.6,146.1 172.6,148 172.6,149.8 172.6,148.6 172.7,148.6 172.7,148.5 172.8,148.1 172.8,149.5 172.8,150.1 172.9,146.4 172.9,148.6 173,150 173,149.2 173,151.3 173.1,149 173.1,148.7 173.2,150 173.2,147.8 173.2,149.2 173.3,148.4 173.3,150 173.4,149.9 173.4,151.4 173.4,149.4 173.5,150.4 173.5,150.5 173.6,151.6 173.6,151.5 173.6,151.2 173.7,150 173.7,150.3 173.8,151.3 173.8,149.7 173.9,147.7 173.9,150.3 173.9,148.2 174,150.9 174,149.4 174.1,152 174.1,149.3 174.1,151.6 174.2,149.2 174.2,149.3 174.3,151.6 174.3,151.2 174.3,148.2 174.4,150.1 174.4,149.5 174.5,151.2 174.5,155.2 174.5,149.5 174.6,150.2 174.6,150.4 174.7,150.7 174.7,151.7 174.7,152.3 174.8,148.8 174.8,149.7 174.9,151.4 174.9,150.5 174.9,148.4 175,149.4 175,149.3 175.1,151.1 175.1,150 175.1,150.8 175.2,152.3 175.2,148.6 175.3,150.3 175.3,150.5 175.3,150.5 175.4,148 175.4,146 175.5,147.6 175.5,148.2 175.5,151.3 175.6,149 175.6,149.6 175.7,147.5 175.7,149.9 175.7,151.6 175.8,150.7 175.8,150.8 175.9,147.7 175.9,149 176,148.8 176,149.7 176,149.2 176.1,150.8 176.1,151.7 176.2,153.1 176.2,148.7 176.2,149.9 176.3,150.1 176.3,150.5 176.4,148 176.4,151.5 176.4,148.3 176.5,151.1 176.5,150.7 176.6,151.8 176.6,149.8 176.6,150.3 176.7,149 176.7,150.7 176.8,151.9 176.8,149 176.8,148.2 176.9,148.8 176.9,149.4 177,149 177,151.6 177,150 177.1,148.7 177.1,149.8 177.2,151.2 177.2,149 177.2,150.7 177.3,149.4 177.3,153 177.4,151.5 177.4,149.5 177.4,149.6 177.5,149.5 177.5,150.1 177.6,150.8 177.6,149.8 177.6,149.3 177.7,153 177.7,151.4 177.8,151.2 177.8,150.1 177.8,148.7 177.9,152.1 177.9,149.5 178,152.8 178,151.3 178.1,150.2 178.1,150.2 178.1,150.5 178.2,150.1 178.2,150.8 178.3,150.3 178.3,153 178.3,152.7 178.4,151 178.4,149.8 178.5,149.3 178.5,146.6 178.5,149.9 178.6,150.7 178.6,148.9 178.7,147.9 178.7,148.9 178.7,151.1 178.8,150.4 178.8,150.3 178.9,152.4 178.9,152 178.9,148.8 179,153.7 179,149.8 179.1,150.5 179.1,147.5 179.1,148.8 179.2,151.2 179.2,148.3 179.3,152 179.3,148.3 179.3,148.6 179.4,150.7 179.4,148.2 179.5,148.9 179.5,150.4 179.5,148 179.6,148.5 179.6,148.6 179.7,148.6 179.7,148 179.7,149.1 179.8,150.1 179.8,149.6 179.9,149.5 179.9,150.7 179.9,150.7 180,148.1 180,149.9 180.1,147.7 180.1,151.9 180.2,150.7 180.2,150.7 180.2,151 180.3,150.7 180.3,150 180.4,150.6 180.4,147.3 180.4,149 180.5,151.2 180.5,150.7 180.6,149 180.6,149.1 180.6,150.1 180.7,148.7 180.7,151.1 180.8,149.5 180.8,147.6 180.8,152.8 180.9,150 180.9,148.2 181,148.8 181,148.5 181,147.8 181.1,148.5 181.1,146.5 181.2,144.3 181.2,144.1 181.2,142.8 181.3,142.8 181.3,142.3 181.3,143.5 181.4,142.6 181.4,143.8 181.4,144.8 181.5,145.7 181.5,147.6 181.6,146.3 181.6,146.1 181.6,145.3 181.7,148.4 181.7,147.7 181.8,150 181.8,151.6 181.8,149.1 181.9,150.5 181.9,148.1 182,148.7 182,151.1 182,149 182.1,149.3 182.1,149.5 182.2,148.6 182.2,147 182.2,149.5 182.3,152.3 182.3,151.6 182.4,149.5 182.4,149.9 182.5,151.3 182.5,147.9 182.5,149.8 182.6,148.1 182.6,149 182.7,150.6 182.7,149.5 182.7,150.8 182.8,151.4 182.8,151 182.9,150.2 182.9,149.1 182.9,152.1 183,149.5 183,150.1 183.1,150 183.1,147.7 183.1,149.8 183.2,147.9 183.2,150.6 183.3,151.6 183.3,150 183.3,152.9 183.4,153 183.4,151.1 183.5,150.1 183.5,150.8 183.5,152.5 183.6,152.4 183.6,149.5 183.7,149 183.7,151.1 183.7,149.3 183.8,149.7 183.8,148.8 183.9,151.3 183.9,148.3 183.9,151.3 184,149.4 184,150.4 184.1,153.4 184.1,152.2 184.1,150.5 184.2,149.2 184.2,151.8 184.3,150.5 184.3,149.1 184.3,149.2 184.4,151.3 184.4,150.6 184.5,149 184.5,150.5 184.6,149.3 184.6,148.8 184.6,150 184.7,154.4 184.7,148.6 184.8,147.9 184.8,147.8 184.8,148.4 184.9,152.2 184.9,148.9 185,150.8 185,150 185,150.9 185.1,150.8 185.1,149.8 185.2,147.8 185.2,150.2 185.2,150.8 185.3,152.5 185.3,149.7 185.4,150.1 185.4,149.4 185.4,148.8 185.5,149.2 185.5,150.3 185.6,150.6 185.6,150.3 185.6,150 185.7,150.5 185.7,151.1 185.8,153.1 185.8,149.6 185.8,148.7 185.9,150.9 185.9,148.1 186,149.6 186,152.7 186,150.2 186.1,149.7 186.1,152 186.2,152 186.2,150.1 186.2,152.7 186.3,152.6 186.3,152.2 186.4,150.4 186.4,150.8 186.4,152.7 186.5,152 186.5,152 186.6,152.2 186.6,152.6 186.7,153 186.7,149.4 186.7,150.1 186.8,145.7 186.8,149 186.9,151.7 186.9,150.8 186.9,150.5 187,150.2 187,150 187.1,150.4 187.1,151.5 187.1,150.1 187.2,147.5 187.2,150.6 187.3,150.1 187.3,148.7 187.3,148.3 187.4,148.7 187.4,148.7 187.5,150.2 187.5,150.4 187.5,149.2 187.6,148.8 187.6,147.9 187.7,148.4 187.7,153.3 187.7,150.6 187.8,152.7 187.8,154.7 187.9,151.5 187.9,151.8 187.9,152.1 188,153.3 188,153 188.1,151.2 188.1,152.6 188.1,150.6 188.2,149.9 188.2,150.7 188.3,150.1 188.3,150.2 188.3,151.7 188.4,151.5 188.4,150.3 188.5,149.7 188.5,151 188.5,152.3 188.6,151.1 188.6,153.6 188.7,153.1 188.7,151.4 188.7,151 188.8,151.8 188.8,151.6 188.9,153.1 188.9,151.7 189,150 189,152.6 189,151.9 189.1,150.6 189.1,147.8 189.2,149.5 189.2,148.2 189.2,148.8 189.3,151.7 189.3,150.6 189.4,151.9 189.4,149.1 189.4,149.3 189.5,149.6 189.5,149.3 189.6,149.3 189.6,150 189.6,149.6 189.7,148.5 189.7,150.8 189.8,151 189.8,149.3 189.8,148.1 189.9,149.8 189.9,150.8 190,150.4 190,151 190,154.3 190.1,152.9 190.1,153.6 190.2,151 190.2,151 190.2,149.8 190.3,147.7 190.3,151.1 190.4,150.2 190.4,150.6 190.4,154 190.5,151.7 190.5,151.5 190.6,150.1 190.6,151.4 190.6,152.1 190.7,149.6 190.7,150.5 190.8,152.2 190.8,152 190.8,151.4 190.9,150.4 190.9,149.5 191,153.5 191,150.2 191.1,151.5 191.1,151.1 191.1,149.7 191.2,151.9 191.2,148.9 191.3,152 191.3,150.9 191.3,152.2 191.4,148.8 191.4,148.4 191.5,149.8 191.5,149.8 191.5,151.1 191.6,148 191.6,148.6 191.7,149.5 191.7,151.6 191.7,152.2 191.8,151.9 191.8,149.8 191.9,152.2 191.9,151.1 191.9,149 192,150.2 192,149.6 192.1,151.1 192.1,151 192.1,149.5 192.2,149.8 192.2,150 192.3,151 192.3,152.4 192.3,148.5 192.4,151 192.4,151.9 192.5,149.8 192.5,152.5 192.5,153.4 192.6,151.5 192.6,150.7 192.7,150 192.7,149.9 192.7,149.5 192.8,150.9 192.8,150.6 192.9,150.9 192.9,151.8 192.9,151.1 193,150.9 193,148.9 193.1,150.4 193.1,151.5 193.2,149.7 193.2,150.8 193.2,148.3 193.3,153.3 193.3,152.1 193.4,152.3 193.4,151.4 193.4,150.9 193.5,152.4 193.5,152.8 193.6,150.1 193.6,148.1 193.6,148.7 193.7,151.2 193.7,149.4 193.8,151.5 193.8,151.8 193.8,148.2 193.9,149.2 193.9,149.9 194,150 194,148.3 194,149.1 194.1,150.3 194.1,149.5 194.2,150 194.2,150.8 194.2,152 194.3,149.6 194.3,151.3 194.4,152.2 194.4,147.9 194.4,148.7 194.5,150.3 194.5,151.1 194.6,150.7 194.6,153.1 194.6,151 194.7,150.3 194.7,151.2 194.8,150.3 194.8,151.6 194.8,150.8 194.9,153.1 194.9,151.7 195,152.5 195,153 195,152 195.1,150.9 195.1,152.1 195.2,150.1 195.2,152.3 195.3,150.5 195.3,150.3 195.3,152.3 195.4,149.5 195.4,153 195.5,150.2 195.5,151 195.5,149.9 195.6,152.9 195.6,152.2 195.7,151 195.7,149.3 195.7,149.8 195.8,149.9 195.8,150.6 195.9,151.5 195.9,151.7 195.9,150.5 196,149.6 196,149.4 196.1,151.7 196.1,149.7 196.1,153.1 196.2,150.1 196.2,152.9 196.3,151.1 196.3,152.9 196.3,152.8 196.4,152 196.4,149.2 196.5,151.4 196.5,148.9 196.5,149.5 196.6,150 196.6,150.2 196.7,150.9 196.7,153.2 196.7,151.1 196.8,150.7 196.8,151.3 196.9,150.1 196.9,152.3 196.9,150.1 197,152 197,150.8 197.1,148.9 197.1,148.5 197.1,151.1 197.2,151.7 197.2,149.9 197.3,155.5 197.3,150 197.3,150.4 197.4,153.5 197.4,149.9 197.5,151 197.5,150.1 197.6,153.9 197.6,151.5 197.6,150.7 197.7,151.1 197.7,151.5 197.8,151.5 197.8,155.6 197.8,151.9 197.9,152.3 197.9,151 198,151.4 198,151.2 198,150.5 198.1,148.5 198.1,152.2 198.2,148.2 198.2,151.3 198.2,152 198.3,152.2 198.3,149.6 198.4,152.6 198.4,149.9 198.4,151.6 198.5,152.5 198.5,152.6 198.6,150.8 198.6,151.2 198.6,150.4 198.7,151.3 198.7,152.6 198.8,149.8 198.8,152 198.8,149.6 198.9,150.6 198.9,152.5 199,152.1 199,150.7 199,152.6 199.1,148 199.1,149.3 199.2,151.8 199.2,150.1 199.2,148.3 199.3,150 199.3,152.5 199.4,154.2 199.4,153.1 199.4,149.1 199.5,150.4 199.5,152.2 199.6,149.6 199.6,151 199.7,150.7 199.7,150.9 199.7,150.6 199.8,147.8 199.8,151.8 199.9,151.3 199.9,149.5 199.9,149.2 200,152.5 200,148.4 200.1,150.1 200.1,153.8 200.1,148.7 200.2,153 200.2,150 200.3,152.5 200.3,154.1 200.3,150.5 200.4,151.1 200.4,151.2 200.5,150.9 200.5,151.3 200.5,150.8 200.6,152.3 200.6,149.5 200.7,150.2 200.7,150.7 200.7,150.5 200.8,150.8 200.8,152.2 200.9,151.2 200.9,152.7 200.9,149.6 201,152.7 201,152.1 201.1,152.1 201.1,150.7 201.1,151.1 201.2,151 201.2,147.4 201.3,150.5 201.3,150.3 201.3,147.9 201.4,152.7 201.4,150.6 201.5,150.7 201.5,152.2 201.5,151.1 201.6,148.5 201.6,152 201.7,150.9 201.7,148.8 201.8,150.8 201.8,149.7 201.8,151.1 201.9,151.6 201.9,151.3 202,151.8 202,150.7 202,151.8 202.1,149.6 202.1,151 202.2,151.1 202.2,148.5 202.2,151.9 202.3,153.1 202.3,151.5 202.4,153.1 202.4,151 202.4,149.8 202.5,151.2 202.5,152.9 202.6,152.2 202.6,150.9 202.6,150.1 202.7,151.9 202.7,152.1 202.8,149.9 202.8,150.9 202.8,150.7 202.9,150.7 202.9,153 203,152.1 203,149.4 203,150.4 203.1,150 203.1,149 203.2,150.4 203.2,148.1 203.2,152.5 203.3,151.3 203.3,148 203.4,150.3 203.4,149.9 203.4,152.4 203.5,149.3 203.5,149.3 203.6,149.2 203.6,150.7 203.6,150.2 203.7,151.1 203.7,150.2 203.8,151.1 203.8,149.9 203.9,153.2 203.9,152 203.9,155.7 204,152.2 204,150.6 204.1,151.9 204.1,147.9 204.1,152.1 204.2,150.6 204.2,151.8 204.3,151.8 204.3,152.3 204.3,153.8 204.4,152.5 204.4,148.2 204.5,151.1 204.5,149.8 204.5,152.5 204.6,150.3 204.6,149.5 204.7,150.2 204.7,151.2 204.7,150.7 204.8,149.4 204.8,148.5 204.9,147.7 204.9,152.4 204.9,154 205,152.1 205,152.2 205.1,150.2 205.1,150.4 205.1,151.5 205.2,147.8 205.2,150.3 205.3,152.7 205.3,149.5 205.3,150.5 205.4,150.7 205.4,153.8 205.5,152 205.5,151 205.5,151.5 205.6,149.7 205.6,149.6 205.7,149.7 205.7,149.8 205.7,151.5 205.8,148.5 205.8,149.8 205.9,148.8 205.9,150.3 205.9,152 206,153.5 206,150.1 206.1,151.6 206.1,151.1 206.2,149.7 206.2,153.8 206.2,154 206.3,151.4 206.3,151.7 206.4,151 206.4,151.8 206.4,152.5 206.5,150.4 206.5,152.7 206.6,151 206.6,150.4 206.6,152.4 206.7,150.8 206.7,150.1 206.8,150 206.8,149.4 206.8,150.6 206.9,150.6 206.9,150 207,150.6 207,149.7 207,149.5 207.1,148.6 207.1,148.9 207.2,147.6 207.2,152.1 207.2,150.4 207.3,152.6 207.3,151.4 207.4,152.7 207.4,149 207.4,149.2 207.5,151.5 207.5,149.8 207.6,149.8 207.6,149.5 207.6,150.9 207.7,152.1 207.7,151.2 207.8,149.9 207.8,150.5 207.8,151.2 207.9,153.4 207.9,150.1 208,152.6 208,153.1 208,151.5 208.1,152.7 208.1,150.8 208.2,153 208.2,150.3 208.3,153 208.3,153.2 208.3,152.4 208.4,150.1 208.4,150.9 208.5,152.2 208.5,148.9 208.5,152.6 208.6,151.7 208.6,150.6 208.7,150.9 208.7,149.5 208.7,149.3 208.8,150.9 208.8,150.3 208.9,152 208.9,152.6 208.9,150.7 209,151.2 209,150 209.1,150.6 209.1,150.8 209.1,150.5 209.2,150.7 209.2,154.2 209.3,150.7 209.3,150.1 209.3,149.4 209.4,151.6 209.4,152.2 209.5,149.9 209.5,149.3 209.5,152.5 209.6,151.4 209.6,150 209.7,151.9 209.7,149.2 209.7,148 209.8,147.9 209.8,145.3 209.9,144.1 209.9,140.6 209.9,138.6 210,135.7 210,135.3 210.1,134.1 210.1,134.3 210.1,135.5 210.1,135.3 210.2,139 210.2,140.7 210.3,140.7 210.3,144.1 210.4,146.9 210.4,147.1 210.4,148.7 210.5,148.5 210.5,150.1 210.6,148.3 210.6,151 210.6,149 210.7,149 210.7,148.9 210.8,146.7 210.8,151.8 210.8,151.9 210.9,151.7 210.9,151.5 211,149.7 211,151.7 211,151.9 211.1,152.1 211.1,151.1 211.2,150.9 211.2,150.4 211.2,153.4 211.3,151.7 211.3,149.9 211.4,151.1 211.4,152.6 211.4,149.5 211.5,149.7 211.5,149.3 211.6,151.3 211.6,151.4 211.6,149.5 211.7,151.4 211.7,151.8 211.8,149.5 211.8,150.1 211.8,149.9 211.9,149.4 211.9,149.3 212,151.9 212,149.1 212,150.3 212.1,150 212.1,148.6 212.2,150.3 212.2,149.1 212.2,151.4 212.3,152 212.3,152.1 212.4,150.8 212.4,153 212.5,150.8 212.5,151.3 212.5,152.2 212.6,154.2 212.6,154.4 212.7,150.8 212.7,152.8 212.7,149.4 212.8,151.7 212.8,149.8 212.9,151.7 212.9,150.9 212.9,150.7 213,149.5 213,148.3 213.1,149.5 213.1,152.4 213.1,150.5 213.2,151 213.2,151.4 213.3,150.8 213.3,149 213.3,151.6 213.4,149.4 213.4,148.2 213.5,152 213.5,147.9 213.5,148.2 213.6,149.9 213.6,148.4 213.7,150.2 213.7,148.9 213.7,149.8 213.8,151.6 213.8,151 213.9,151.5 213.9,153 213.9,153.2 214,152.7 214,153.7 214.1,149.4 214.1,153.5 214.1,150.4 214.2,150.8 214.2,152 214.3,150.1 214.3,152 214.3,149.9 214.4,152.2 214.4,151.6 214.5,152.6 214.5,151.2 214.5,149.8 214.6,151.3 214.6,150.7 214.7,148 214.7,151.5 214.8,148.4 214.8,151.6 214.8,151.8 214.9,153.4 214.9,151.9 215,153.2 215,151.5 215,150 215.1,151.3 215.1,151.9 215.2,153.1 215.2,152.1 215.2,153.8 215.3,152.9 215.3,147.5 215.4,149.8 215.4,151.4 215.4,149.3 215.5,148.8 215.5,152 215.6,150.7 215.6,152.2 215.6,152.1 215.7,147.9 215.7,144.7 215.8,150.9 215.8,151.9 215.8,148.1 215.9,149.3 215.9,150.1 216,149.2 216,151.1 216,150.4 216.1,149.5 216.1,151.1 216.2,149.5 216.2,150.1 216.2,149.7 216.3,150.7 216.3,154.5 216.4,151.4 216.4,153 216.4,151.7 216.5,153 216.5,149.7 216.6,151.4 216.6,150.7 216.6,148.2 216.7,149.2 216.7,150.7 216.8,154.1 216.8,151 216.9,151.9 216.9,151.8 216.9,150.2 217,151.8 217,151.1 217.1,149.7 217.1,149.9 217.1,151.1 217.2,148.6 217.2,148.9 217.3,147.6 217.3,150.5 217.3,150.5 217.4,149.3 217.4,150.3 217.5,150.6 217.5,150.2 217.5,150.4 217.6,151 217.6,151 217.7,149.4 217.7,150.7 217.7,152.1 217.8,150 217.8,148.1 217.9,148.8 217.9,153.8 217.9,152.1 218,149.6 218,150.2 218.1,150.4 218.1,150.5 218.1,149.5 218.2,151 218.2,147.7 218.3,150.9 218.3,150.9 218.3,148.4 218.4,149.3 218.4,151.3 218.5,150.8 218.5,152.4 218.5,152 218.6,151.4 218.6,149.2 218.7,151 218.7,149.4 218.7,149.7 218.8,149.8 218.8,151.4 218.9,149.8 218.9,150.7 219,150.9 219,150.9 219,153.7 219.1,149.3 219.1,148.9 219.2,151.7 219.2,151.1 219.2,150.2 219.3,152 219.3,149 219.4,149.3 219.4,149.4 219.4,149.5 219.5,153.6 219.5,150.3 219.6,151.9 219.6,149.5 219.6,149.7 219.7,149.5 219.7,150.1 219.8,146.1 219.8,149.8 219.8,151.2 219.9,149.1 219.9,152.7 220,148.4 220,150.1 220,148.9 220.1,149.3 220.1,149.9 220.2,152.1 220.2,151.8 220.2,150 220.3,151.1 220.3,150.1 220.4,151.5 220.4,151.5 220.4,149.9 220.5,149.5 220.5,150.5 220.6,151.4 220.6,152.7 220.6,147.5 220.7,151.7 220.7,151.6 220.8,151.4 220.8,149.4 220.8,151.9 220.9,149.9 220.9,149.7 221,151.4 221,149.7 221,152.1 221.1,150.8 221.1,150 221.2,151.7 221.2,152.6 221.3,151.2 221.3,150.4 221.3,149.8 221.4,153.8 221.4,153.8 221.5,150.9 221.5,151.1 221.5,150.8 221.6,150.8 221.6,151.4 221.7,151.8 221.7,150.6 221.7,149.5 221.8,149.3 221.8,149.9 221.9,151.1 221.9,149.8 221.9,151.7 222,151.1 222,150.4 222.1,150.4 222.1,149 222.1,149.1 222.2,149.2 222.2,150.4 222.3,150 222.3,150.7 222.3,148.1 222.4,149.1 222.4,151.1 222.5,150.7 222.5,148.2 222.5,151.1 222.6,149 222.6,149.5 222.7,148.2 222.7,150.9 222.7,149.1 222.8,149.7 222.8,148.2 222.9,148.2 222.9,150 222.9,150.4 223,149.4 223,152 223.1,149.2 223.1,151 223.1,150.6 223.2,151.1 223.2,151.8 223.3,147.8 223.3,147.6 223.4,149.2 223.4,147.9 223.4,149.8 223.5,150.5 223.5,150.8 223.6,148.3 223.6,147.9 223.6,147.7 223.7,151 223.7,149.7 223.8,151.1 223.8,147.3 223.8,147.8 223.9,148.3 223.9,149.3 224,149.7 224,149.9 224,148.4 224.1,150.4 224.1,147.9 224.2,148.8 224.2,150 224.2,150.8 224.3,150.6 224.3,150.1 224.4,152.1 224.4,149.6 224.4,148.5 224.5,149.2 224.5,152.4 224.6,152.6 224.6,147.9 224.6,146.6 224.7,149.8 224.7,148.7 224.8,150.1 224.8,150.4 224.8,147.9 224.9,150.6 224.9,148 225,146.6 225,149.2 225,146.1 225.1,151.3 225.1,148.1 225.2,148.3 225.2,144.4 225.2,147.6 225.3,149.5 225.3,146.9 225.4,151.4 225.4,149 225.5,150.3 225.5,146.8 225.5,148.8 225.6,147.3 225.6,148.8 225.7,150 225.7,151.9 225.7,145.6 225.8,148 225.8,150.7 225.9,149.2 225.9,147.5 225.9,151.2 226,145.7 226,149.9 226.1,150.3 226.1,147.7 226.1,149.3 226.2,151.2 226.2,148.1 226.3,148.4 226.3,146.5 226.3,149.5 226.4,150.4 226.4,147.9 226.5,150.1 226.5,152.2 226.5,149.2 226.6,147.7 226.6,149.6 226.7,147.4 226.7,150.8 226.7,149.9 226.8,151.5 226.8,150.2 226.9,149.3 226.9,148.5 226.9,149.5 227,148.3 227,152.7 227.1,148.8 227.1,150 227.1,151.1 227.2,149.3 227.2,150.5 227.3,148.2 227.3,148.7 227.3,147.4 227.4,150.3 227.4,146.7 227.5,148.5 227.5,146.8 227.6,149.2 227.6,150.1 227.6,149.5 227.7,150.8 227.7,152.2 227.8,150.2 227.8,149.4 227.8,150.1 227.9,149.4 227.9,150.4 228,148.8 228,150.9 228,146 228.1,148.6 228.1,147.4 228.2,150.8 228.2,148.1 228.2,148.6 228.3,146.4 228.3,146.4 228.4,150.5 228.4,146.8 228.4,151.4 228.5,147.5 228.5,149.4 228.6,150.5 228.6,147.3 228.6,148.1 228.7,149.6 228.7,150 228.8,148 228.8,151 228.8,151 228.9,146.4 228.9,150.7 229,148.7 229,147.9 229,147.1 229.1,147.5 229.1,152.5 229.2,149.3 229.2,146.9 229.2,149.9 229.3,146.2 229.3,149.1 229.4,150.7 229.4,148 229.4,146.3 229.5,149.2 229.5,147.2 229.6,148.6 229.6,147.8 229.6,147.9 229.7,147.3 229.7,147.6 229.8,148 229.8,144.5 229.9,150.1 229.9,151.8 229.9,148.5 230,148.8 230,151.2 230.1,146.9 230.1,149.6 230.1,151.2 230.2,149.2 230.2,148.5 230.3,146.6 230.3,152.1 230.3,151.9 230.4,150.1 230.4,150.2 230.5,149.8 230.5,151 230.5,152.7 230.6,151.4 230.6,149.2 230.7,148.5 230.7,150.2 230.7,147.2 230.8,147.7 230.8,148.9 230.9,148.6 230.9,148.5 230.9,143.9 231,147.8 231,150.1 231.1,150.1 231.1,151.4 231.1,149 231.2,154 231.2,152.2 231.3,149.2 231.3,149.8 231.3,150.2 231.4,148.1 231.4,150.8 231.5,148.5 231.5,150.3 231.5,151.2 231.6,149.1 231.6,150.8 231.7,149.6 231.7,148.1 231.7,150.6 231.8,148 231.8,146.2 231.9,149.8 231.9,147.9 232,148.4 232,151.9 232,152.6 232.1,150.5 232.1,153.2 232.2,149.6 232.2,148.8 232.2,148.1 232.3,148.2 232.3,146.8 232.4,149.6 232.4,147.7 232.4,149.2 232.5,149 232.5,149.7 232.6,148 232.6,150.5 232.6,148.1 232.7,147.7 232.7,150.6 232.8,150.8 232.8,151.1 232.8,149.4 232.9,148.1 232.9,147.4 233,145.9 233,146.7 233,148.7 233.1,149.6 233.1,150.6 233.2,148.4 233.2,149.7 233.2,151.1 233.3,151 233.3,149.9 233.4,153.2 233.4,150 233.4,149.7 233.5,150.8 233.5,153 233.6,151.1 233.6,150.7 233.6,148.5 233.7,148.6 233.7,149 233.8,149.8 233.8,151.9 233.8,150.9 233.9,152.7 233.9,150.6 234,148.8 234,148.5 234.1,148.2 234.1,149.9 234.1,148.5 234.2,150.7 234.2,153.3 234.3,151 234.3,151.4 234.3,153.3 234.4,151.6 234.4,153.1 234.5,150.2 234.5,148.9 234.5,151.7 234.6,149.5 234.6,151.1 234.7,151.7 234.7,152.6 234.7,149.2 234.8,148.5 234.8,151.6 234.9,150.9 234.9,148.3 234.9,151.4 235,150.1 235,153.5 235.1,152.3 235.1,150.4 235.1,152.5 235.2,152.7 235.2,153.3 235.3,151.5 235.3,154.1 235.3,151.3 235.4,150.2 235.4,148.8 235.5,151.5 235.5,149.3 235.5,150.5 235.6,152 235.6,150.5 235.7,149.2 235.7,148.9 235.7,149.4 235.8,151.3 235.8,149.2 235.9,150.4 235.9,151 235.9,150.4 236,148.8 236,152.8 236.1,150.8 236.1,151.9 236.2,149.7 236.2,149.5 236.2,149.7 236.3,152.8 236.3,152.2 236.4,151.6 236.4,152.1 236.4,151.6 236.5,151.4 236.5,151.1 236.6,151.7 236.6,150.7 236.6,153.6 236.7,152.3 236.7,153.6 236.8,152.2 236.8,153.2 236.8,151.4 236.9,150.2 236.9,152.8 237,151.9 237,150.5 237,149.5 237.1,151 237.1,151.1 237.2,151.3 237.2,151.3 237.2,149.8 237.3,149.5 237.3,149.9 237.4,150.9 237.4,152.8 237.4,152.3 237.5,152 237.5,153.4 237.6,151.3 237.6,153.9 237.6,153 237.7,152.4 237.7,151.5 237.8,152.2 237.8,150.8 237.8,152.6 237.9,153.2 237.9,150.9 238,153.7 238,153.2 238,155.1 238.1,151.3 238.1,151.4 238.2,153 238.2,154.2 238.2,151.7 238.3,152.5 238.3,151.4 238.4,150.4 238.4,151.9 238.5,151.7 238.5,151.7 238.5,152.2 238.6,153.8 238.6,153.6 238.7,152.3 238.7,154 238.7,153.3 238.8,150.2 238.8,152.4 238.9,151.3 238.9,151.3 238.9,152.6 239,152 239,152.8 239.1,153.3 239.1,152.4 239.1,151.9 239.2,152.1 239.2,152.5 239.3,152.8 239.3,150.9 239.3,152.5 239.4,153.4 239.4,151.3 239.5,154.3 239.5,152.8 239.5,150.3 239.6,152.2 239.6,150 239.7,151.7 239.7,151.6 239.7,151.4 239.8,152.2 239.8,151.9 239.9,152.1 239.9,150.6 239.9,151.5 240,152.8 240,153.7 240.1,148.9 240.1,152.4 240.1,149.5 240.2,152.8 240.2,152 240.3,149.6 240.3,152.8 240.3,153.4 240.4,152.3 240.4,153 240.5,153 240.5,152.3 240.6,151.1 240.6,152.8 240.6,152.3 240.7,150.3 240.7,150.4 240.8,152.6 240.8,154.6 240.8,153.9 240.9,151.3 240.9,153.1 241,153.7 241,153.5 241,150.6 241.1,152.1 241.1,152.7 241.2,153.2 241.2,153.7 241.2,148.8 241.3,152 241.3,151 241.4,151.6 241.4,150.2 241.4,153.1 241.5,154.8 241.5,153.3 241.6,152.7 241.6,149.8 241.6,152.8 241.7,153.7 241.7,152.3 241.8,153.5 241.8,153.2 241.8,152.4 241.9,152.3 241.9,153.3 242,150.9 242,152.5 242,152.2 242.1,153.7 242.1,152.8 242.2,152.3 242.2,152.4 242.2,153.3 242.3,151.9 242.3,153.1 242.4,152.3 242.4,151.7 242.4,150.9 242.5,153.9 242.5,154.6 242.6,153.2 242.6,151.5 242.7,153.4 242.7,149.5 242.7,155.3 242.8,150.9 242.8,151.2 242.9,151.6 242.9,153.7 242.9,151.3 243,151 243,150.3 243.1,152.7 243.1,152.5 243.1,151.2 243.2,152.6 243.2,152.8 243.3,152.9 243.3,151.1 243.3,153.6 243.4,151.3 243.4,152.2 243.5,154.5 243.5,151.7 243.5,151.4 243.6,152.6 243.6,154.1 243.7,153.1 243.7,150.5 243.7,153.1 243.8,152.7 243.8,150.8 243.9,153 243.9,153.1 243.9,151.4 244,150.9 244,152.1 244.1,154.4 244.1,154.7 244.1,152.6 244.2,154.5 244.2,152.4 244.3,151.3 244.3,155.4 244.3,151.8 244.4,151.3 244.4,152.3 244.5,151.3 244.5,151.4 244.5,151 244.6,149.1 244.6,152.7 244.7,154.8 244.7,155 244.8,155 244.8,152.3 244.8,153.1 244.9,152.6 244.9,152.4 245,151.1 245,151.4 245,151.7 245.1,154.4 245.1,153.4 245.2,154.9 245.2,153.7 245.2,152.7 245.3,154.6 245.3,153.5 245.4,150.4 245.4,152.6 245.4,154 245.5,153.9 245.5,151.9 245.6,151.1 245.6,152.2 245.6,150.5 245.7,151.9 245.7,153.8 245.8,151.4 245.8,153.1 245.8,150.3 245.9,153.7 245.9,153.2 246,153.8 246,152.9 246,151.9 246.1,152.6 246.1,150.7 246.2,152.1 246.2,150.5 246.2,152.3 246.3,150.8 246.3,150.9 246.4,153 246.4,149.4 246.4,151.3 246.5,152.4 246.5,153.1 246.6,153.5 246.6,154 246.6,152.8 246.7,154.8 246.7,152.5 246.8,152.4 246.8,149.7 246.8,150.3 246.9,149.1 246.9,148.5 247,151.6 247,149.6 247.1,152.3 247.1,152.9 247.1,154.2 247.2,153.3 247.2,151.3 247.3,152.2 247.3,153.3 247.3,152.5 247.4,153.5 247.4,153.4 247.5,154.8 247.5,151.8 247.5,151.9 247.6,153.4 247.6,154.6 247.7,153.2 247.7,149.9 247.7,153.5 247.8,153 247.8,153 247.9,152 247.9,155.2 247.9,152.9 248,154.4 248,153.4 248.1,154.2 248.1,151.9 248.1,153.2 248.2,153.3 248.2,150.8 248.3,151.4 248.3,149 248.3,152 248.4,153.2 248.4,153.3 248.5,149.4 248.5,150.5 248.5,151.5 248.6,151.2 248.6,152.9 248.7,151.3 248.7,152.9 248.7,152.8 248.8,151.2 248.8,150.4 248.9,151.7 248.9,151.7 248.9,152.7 249,155.9 249,152.8 249.1,152.9 249.1,152.3 249.2,150.9 249.2,151.8 249.2,155 249.3,152.3 249.3,152.1 249.4,150.9 249.4,152.2 249.4,155.3 249.5,154.3 249.5,153.8 249.6,155.5 249.6,152.7 249.6,152.8 249.7,150.7 249.7,153 249.8,153.8 249.8,152.9 249.8,152.6 249.9,151.6 249.9,153.6 250,155.2 250,149.5 250,151.6 250.1,152.5 250.1,150 250.2,154.3 250.2,154.7 250.2,154.6 250.3,153.4 250.3,154.4 250.4,151.6 250.4,152.1 250.4,149.5 250.5,150.6 250.5,154 250.6,152.7 250.6,154.2 250.6,153 250.7,152.5 250.7,149.3 250.8,152.9 250.8,154.8 250.8,152.3 250.9,154.1 250.9,149.8 251,151 251,150.6 251,152.8 251.1,154 251.1,152.3 251.2,153.9 251.2,153.6 251.3,153.6 251.3,152.8 251.3,155.1 251.4,155.8 251.4,151.2 251.5,153.4 251.5,152.8 251.5,151.9 251.6,152.1 251.6,154.4 251.7,154 251.7,151.4 251.7,152 251.8,152.2 251.8,150.9 251.9,155.2 251.9,152.3 251.9,152.5 252,154.4 252,151.7 252.1,151.4 252.1,152.2 252.1,155.2 252.2,153.3 252.2,153.1 252.3,153.6 252.3,152.6 252.3,152.3 252.4,151 252.4,152.8 252.5,150.4 252.5,153.6 252.5,153.3 252.6,152.9 252.6,153.2 252.7,153 252.7,151.1 252.7,155 252.8,154.7 252.8,150.2 252.9,151.4 252.9,151.5 252.9,151.9 253,152.1 253,153.9 253.1,152.9 253.1,153.8 253.1,150.3 253.2,151.5 253.2,152.7 253.3,153.2 253.3,154.5 253.3,155.6 253.4,151.6 253.4,152.3 253.5,152.8 253.5,152 253.6,150.7 253.6,151.1 253.6,152.3 253.7,151.7 253.7,153.1 253.8,150.8 253.8,151.3 253.8,151.1 253.9,154.1 253.9,152 254,151.7 254,151.9 254,156.3 254.1,155.3 254.1,152.1 254.2,153.9 254.2,152.1 254.2,152.5 254.3,151.7 254.3,153.8 254.4,154 254.4,151.6 254.4,152.7 254.5,153.1 254.5,154.6 254.6,148.4 254.6,152.8 254.6,153.4 254.7,155.7 254.7,154.9 254.8,154 254.8,153.5 254.8,152.9 254.9,154.5 254.9,152.6 255,151.5 255,153 255,152.7 255.1,154.9 255.1,153.5 255.2,154.9 255.2,152.2 255.2,153.6 255.3,151.6 255.3,153.7 255.4,152.9 255.4,152.9 255.4,153 255.5,154.2 255.5,150.8 255.6,153 255.6,155.3 255.7,153.6 255.7,154.2 255.7,151.5 255.8,151.5 255.8,150.7 255.9,150 255.9,153 255.9,154.9 256,153.9 256,152 256.1,156.5 256.1,153.9 256.1,152.1 256.2,154.6 256.2,153.7 256.3,154.2 256.3,150.7 256.3,150.2 256.4,154 256.4,153.4 256.5,152.4 256.5,151.1 256.5,151.6 256.6,151.8 256.6,150.9 256.7,151.3 256.7,150.5 256.7,152.5 256.8,153.3 256.8,152.3 256.9,148.9 256.9,151.1 256.9,151.6 257,150.8 257,151.1 257.1,150 257.1,153.8 257.1,153.1 257.2,152.7 257.2,152.3 257.3,153.8 257.3,155.5 257.3,153.3 257.4,153.3 257.4,152.7 257.5,150.9 257.5,151.6 257.5,154.9 257.6,154.1 257.6,153.2 257.7,151.8 257.7,152.6 257.8,152.8 257.8,154.7 257.8,153.2 257.9,153.8 257.9,152.1 258,152.3 258,153 258,153.7 258.1,152.3 258.1,153.7 258.2,151.8 258.2,153.2 258.2,153.8 258.3,152 258.3,154.4 258.4,151.4 258.4,153.5 258.4,152 258.5,153.9 258.5,154.2 258.6,155.5 258.6,153.5 258.6,152.9 258.7,154.6 258.7,150.3 258.8,152 258.8,153.5 258.8,150.3 258.9,153.3 258.9,150.7 259,156.1 259,149.5 259,152.3 259.1,153.2 259.1,152.7 259.2,154.7 259.2,151.8 259.2,152.2 259.3,152.8 259.3,154 259.4,154.7 259.4,153 259.4,152.4 259.5,152.8 259.5,153.1 259.6,153.9 259.6,152.5 259.6,151.7 259.7,154.2 259.7,154.3 259.8,149.5 259.8,154.5 259.9,151.5 259.9,152.5 259.9,151.2 260,153.5 260,156 260.1,154.7 260.1,152.8 260.1,153.1 260.2,153.9 260.2,154.3 260.3,155.8 260.3,155.8 260.3,154.1 260.4,153.7 260.4,153 260.5,154 260.5,150.8 260.5,155.2 260.6,151.4 260.6,151.7 260.7,150 260.7,150.1 260.7,154.2 260.8,152.3 260.8,152.6 260.9,152.1 260.9,152.4 260.9,153.2 261,151.1 261,153.2 261.1,153.9 261.1,153.4 261.1,153.9 261.2,154.7 261.2,152.7 261.3,149.7 261.3,152.8 261.3,152.3 261.4,153.3 261.4,152.7 261.5,154.3 261.5,152.4 261.5,153.2 261.6,152.8 261.6,152.6 261.7,154 261.7,152.1 261.7,152 261.8,152 261.8,152.8 261.9,152 261.9,153.5 261.9,151.5 262,152.9 262,151.7 262.1,153.3 262.1,153.7 262.2,154.7 262.2,152.3 262.2,152.7 262.3,153.1 262.3,152.7 262.4,152.9 262.4,154.1 262.4,154.3 262.5,152.2 262.5,152.9 262.6,151.1 262.6,150.6 262.6,153 262.7,153 262.7,153 262.8,153.2 262.8,152.6 262.8,155.4 262.9,150.9 262.9,151.5 263,153.2 263,153.2 263,152.4 263.1,152.4 263.1,152.6 263.2,152.9 263.2,151.8 263.2,151.3 263.3,150.3 263.3,154.1 263.4,152.1 263.4,154.3 263.4,153.4 263.5,149.7 263.5,153.1 263.6,153.1 263.6,154.3 263.6,152.8 263.7,154.7 263.7,156.2 263.8,153.2 263.8,152.2 263.8,152.8 263.9,152.1 263.9,153 264,153.6 264,152.8 264,154.2 264.1,153.7 264.1,154.6 264.2,153.7 264.2,152.5 264.3,153.6 264.3,151.9 264.3,152.7 264.4,153.6 264.4,154.6 264.5,153 264.5,154.4 264.5,152.1 264.6,154.1 264.6,154.2 264.7,153.8 264.7,154.1 264.7,152.4 264.8,154 264.8,153.9 264.9,153.2 264.9,157 264.9,154.6 265,153.6 265,152.9 265.1,153.5 265.1,153.9 265.1,152 265.2,151.5 265.2,150.2 265.3,151 265.3,153.8 265.3,151.6 265.4,153 265.4,154.2 265.5,152 265.5,151.8 265.5,156.3 265.6,151.4 265.6,154.2 265.7,150.8 265.7,152.2 265.7,152.3 265.8,150.3 265.8,152.5 265.9,149.9 265.9,153.8 265.9,153.3 266,154.1 266,151.7 266.1,152.9 266.1,152 266.1,152.2 266.2,152.3 266.2,151.4 266.3,151.4 266.3,152.6 266.4,154 266.4,154.7 266.4,153 266.5,154.4 266.5,155 266.6,154.6 266.6,153.6 266.6,152.8 266.7,153 266.7,153.4 266.8,151.4 266.8,155.5 266.8,153.3 266.9,151.9 266.9,153.2 267,151.7 267,153.2 267,152.7 267.1,152.9 267.1,153.7 267.2,152.8 267.2,152.3 267.2,155.8 267.3,154.7 267.3,156.1 267.4,154.6 267.4,155.4 267.4,153.9 267.5,153.6 267.5,152 267.6,151.2 267.6,153.9 267.6,153.1 267.7,152.2 267.7,153.7 267.8,153.4 267.8,156.2 267.8,152.7 267.9,153.8 267.9,155.2 268,155.4 268,154.5 268,152.5 268.1,153.8 268.1,154.8 268.2,153.8 268.2,152.3 268.2,151.3 268.3,151.2 268.3,153 268.4,153 268.4,153.6 268.5,153.1 268.5,153.3 268.5,155.8 268.6,155.7 268.6,155.5 268.7,154.6 268.7,155.8 268.7,155.5 268.8,152.9 268.8,152.1 268.9,155.3 268.9,154.6 268.9,153.3 269,154.7 269,152.6 269.1,155.3 269.1,153.6 269.1,152.4 269.2,151.3 269.2,151.4 269.3,154.3 269.3,154.4 269.3,153.7 269.4,152.4 269.4,153 269.5,152.5 269.5,152.8 269.5,153.8 269.6,153.2 269.6,153.7 269.7,151.5 269.7,154.6 269.7,152.9 269.8,152.8 269.8,151.7 269.9,154.2 269.9,152.9 269.9,155.4 270,152.7 270,154.8 270.1,154 270.1,154.3 270.1,154"/>
<path d="M37.6 157.7v-1.8 M37.6 5v1.8 M40.8 157.7v-1.8 M40.8 5v1.8 M44.1 157.7v-1.8 M44.1 5v1.8 M47.3 157.7v-1.8 M47.3 5v1.8 M50.5 157.7v-1.8 M50.5 5v1.8 M53.7 157.7v-1.8 M53.7 5v1.8 M57 157.7v-1.8 M57 5v1.8 M60.2 157.7v-3.6 M60.2 5v3.6 M63.4 157.7v-1.8 M63.4 5v1.8 M66.7 157.7v-1.8 M66.7 5v1.8 M69.9 157.7v-1.8 M69.9 5v1.8 M73.1 157.7v-1.8 M73.1 5v1.8 M76.3 157.7v-1.8 M76.3 5v1.8 M79.6 157.7v-1.8 M79.6 5v1.8 M82.8 157.7v-1.8 M82.8 5v1.8 M86 157.7v-1.8 M86 5v1.8 M89.3 157.7v-1.8 M89.3 5v1.8 M92.5 157.7v-3.6 M92.5 5v3.6 M95.7 157.7v-1.8 M95.7 5v1.8 M99 157.7v-1.8 M99 5v1.8 M102.2 157.7v-1.8 M102.2 5v1.8 M105.4 157.7v-1.8 M105.4 5v1.8 M108.7 157.7v-1.8 M108.7 5v1.8 M111.9 157.7v-1.8 M111.9 5v1.8 M115.1 157.7v-1.8 M115.1 5v1.8 M118.3 157.7v-1.8 M118.3 5v1.8 M121.6 157.7v-1.8 M121.6 5v1.8 M124.8 157.7v-3.6 M124.8 5v3.6 M128 157.7v-1.8 M128 5v1.8 M131.3 157.7v-1.8 M131.3 5v1.8 M134.5 157.7v-1.8 M134.5 5v1.8 M137.7 157.7v-1.8 M137.7 5v1.8 M140.9 157.7v-1.8 M140.9 5v1.8 M144.2 157.7v-1.8 M144.2 5v1.8 M147.4 157.7v-1.8 M147.4 5v1.8 M150.6 157.7v-1.8 M150.6 5v1.8 M153.9 157.7v-1.8 M153.9 5v1.8 M157.1 157.7v-3.6 M157.1 5v3.6 M160.3 157.7v-1.8 M160.3 5v1.8 M163.6 157.7v-1.8 M163.6 5v1.8 M166.8 157.7v-1.8 M166.8 5v1.8 M170 157.7v-1.8 M170 5v1.8 M173.2 157.7v-1.8 M173.2 5v1.8 M176.5 157.7v-1.8 M176.5 5v1.8 M179.7 157.7v-1.8 M179.7 5v1.8 M182.9 157.7v-1.8 M182.9 5v1.8 M186.2 157.7v-1.8 M186.2 5v1.8 M189.4 157.7v-3.6 M189.4 5v3.6 M192.6 157.7v-1.8 M192.6 5v1.8 M195.9 157.7v-1.8 M195.9 5v1.8 M199.1 157.7v-1.8 M199.1 5v1.8 M202.3 157.7v-1.8 M202.3 5v1.8 M205.6 157.7v-1.8 M205.6 5v1.8 M208.8 157.7v-1.8 M208.8 5v1.8 M212 157.7v-1.8 M212 5v1.8 M215.2 157.7v-1.8 M215.2 5v1.8 M218.5 157.7v-1.8 M218.5 5v1.8 M221.7 157.7v-3.6 M221.7 5v3.6 M224.9 157.7v-1.8 M224.9 5v1.8 M228.2 157.7v-1.8 M228.2 5v1.8 M231.4 157.7v-1.8 M231.4 5v1.8 M234.6 157.7v-1.8 M234.6 5v1.8 M237.9 157.7v-1.8 M237.9 5v1.8 M241.1 157.7v-1.8 M241.1 5v1.8 M244.3 157.7v-1.8 M244.3 5v1.8 M247.5 157.7v-1.8 M247.5 5v1.8 M250.8 157.7v-1.8 M250.8 5v1.8 M254 157.7v-3.6 M254 5v3.6 M257.2 157.7v-1.8 M257.2 5v1.8 M260.5 157.7v-1.8 M260.5 5v1.8 M263.7 157.7v-1.8 M263.7 5v1.8 M266.9 157.7v-1.8 M266.9 5v1.8 M34.5 152.7h1.8 M270.3 152.7h-1.8 M34.5 147.8h1.8 M270.3 147.8h-1.8 M34.5 143h1.8 M270.3 143h-1.8 M34.5 138.1h1.8 M270.3 138.1h-1.8 M34.5 133.3h3.6 M270.3 133.3h-3.6 M34.5 128.5h1.8 M270.3 128.5h-1.8 M34.5 123.6h1.8 M270.3 123.6h-1.8 M34.5 118.8h1.8 M270.3 118.8h-1.8 M34.5 113.9h1.8 M270.3 113.9h-1.8 M34.5 109.1h3.6 M270.3 109.1h-3.6 M34.5 104.3h1.8 M270.3 104.3h-1.8 M34.5 99.4h1.8 M270.3 99.4h-1.8 M34.5 94.6h1.8 M270.3 94.6h-1.8 M34.5 89.7h1.8 M270.3 89.7h-1.8 M34.5 84.9h3.6 M270.3 84.9h-3.6 M34.5 80.1h1.8 M270.3 80.1h-1.8 M34.5 75.2h1.8 M270.3 75.2h-1.8 M34.5 70.4h1.8 M270.3 70.4h-1.8 M34.5 65.5h1.8 M270.3 65.5h-1.8 M34.5 60.7h3.6 M270.3 60.7h-3.6 M34.5 55.9h1.8 M270.3 55.9h-1.8 M34.5 51h1.8 M270.3 51h-1.8 M34.5 46.2h1.8 M270.3 46.2h-1.8 M34.5 41.3h1.8 M270.3 41.3h-1.8 M34.5 36.5h3.6 M270.3 36.5h-3.6 M34.5 31.7h1.8 M270.3 31.7h-1.8 M34.5 26.8h1.8 M270.3 26.8h-1.8 M34.5 22h1.8 M270.3 22h-1.8 M34.5 17.1h1.8 M270.3 17.1h-1.8 M34.5 12.3h3.6 M270.3 12.3h-3.6 M34.5 7.5h1.8 M270.3 7.5h-1.8" stroke="#585858" stroke-width="0.8" fill="none"/>
<text x="30.5" y="162.6" text-anchor="end" font-size="7.2" textLength="3.6" lengthAdjust="spacingAndGlyphs">0</text>
<text x="30.5" y="135.9" text-anchor="end" font-size="7.2" textLength="10.8" lengthAdjust="spacingAndGlyphs">100</text>
<text x="30.5" y="112" text-anchor="end" font-size="7.2" textLength="10.8" lengthAdjust="spacingAndGlyphs">200</text>
<text x="30.5" y="87.9" text-anchor="end" font-size="7.2" textLength="10.8" lengthAdjust="spacingAndGlyphs">300</text>
<text x="30.5" y="63.6" text-anchor="end" font-size="7.2" textLength="10.8" lengthAdjust="spacingAndGlyphs">400</text>
<text x="30.5" y="39.8" text-anchor="end" font-size="7.2" textLength="10.8" lengthAdjust="spacingAndGlyphs">500</text>
<text x="30.5" y="16.2" text-anchor="end" font-size="7.2" textLength="10.8" lengthAdjust="spacingAndGlyphs">600</text>
<text x="58.4" y="168.3" text-anchor="middle" font-size="7.2" textLength="12.9" lengthAdjust="spacingAndGlyphs">10.0</text>
<text x="90.5" y="168.3" text-anchor="middle" font-size="7.2" textLength="12.9" lengthAdjust="spacingAndGlyphs">20.0</text>
<text x="125" y="168.3" text-anchor="middle" font-size="7.2" textLength="12.9" lengthAdjust="spacingAndGlyphs">30.0</text>
<text x="157.5" y="168.3" text-anchor="middle" font-size="7.2" textLength="12.9" lengthAdjust="spacingAndGlyphs">40.0</text>
<text x="188.9" y="168.3" text-anchor="middle" font-size="7.2" textLength="12.9" lengthAdjust="spacingAndGlyphs">50.0</text>
<text x="220" y="168.3" text-anchor="middle" font-size="7.2" textLength="12.9" lengthAdjust="spacingAndGlyphs">60.0</text>
<text x="254.4" y="168.3" text-anchor="middle" font-size="7.2" textLength="12.9" lengthAdjust="spacingAndGlyphs">70.0</text>
<text x="152.4" y="179" text-anchor="middle" font-size="7.0" textLength="68" lengthAdjust="spacingAndGlyphs">Diffraction Angle (&#730;2&#952;)</text>
<g transform="translate(6.1 78.9) rotate(-90)"><text x="-24.05" y="2.4" font-size="6.6" textLength="21.9" lengthAdjust="spacingAndGlyphs">Intensity</text><text x="-0.75" y="2.4" font-size="6.6" textLength="24.3" lengthAdjust="spacingAndGlyphs">(counts)</text></g>
<text x="43.8" y="20.7" font-size="10" font-weight="bold" fill="#111" xml:space="preserve">( a )</text>
<text x="76.1" y="106.1" text-anchor="middle" font-size="7">Hal</text>
<text x="100.4" y="112.3" text-anchor="middle" font-size="7">Kln</text>
<text x="111.5" y="127.3" text-anchor="middle" font-size="7">Lct</text>
<text x="123.1" y="130.2" text-anchor="middle" font-size="7">Urn</text>
<text x="135.3" y="120.6" text-anchor="middle" font-size="7">Ap</text>
<text x="148.3" y="128.8" text-anchor="middle" font-size="7">Pyr</text>
<text x="163.9" y="137.6" text-anchor="middle" font-size="7">Hem</text>
<text x="181.4" y="137.6" text-anchor="middle" font-size="7">Urn</text>
<text x="209.7" y="129" text-anchor="middle" font-size="7">Pyr</text>
<rect x="308.6" y="4.7" width="235.7" height="152.4" fill="none" stroke="#585858" stroke-width="1"/>
<path d="M309.4 50.4V116" stroke="#6a6af4" stroke-width="1.1" fill="none"/>
<polyline fill="none" stroke="#0000ff" stroke-width="0.45" stroke-linejoin="round" filter="url(#soft)" points="308.9,51 308.9,54.1 309,62 309,68.2 309.1,71.3 309.1,82.5 309.1,85 309.2,90.4 309.2,92.5 309.3,93.7 309.3,99.7 309.3,102.3 309.4,110.6 309.4,109.3 309.5,114.6 309.5,110 309.5,111.1 309.6,110.2 309.6,112.3 309.7,111.6 309.7,111.7 309.7,114.8 309.8,115.3 309.8,114.7 309.9,116.5 309.9,117.3 309.9,116.5 310,116.9 310,112.8 310.1,117.9 310.1,113.5 310.2,117.8 310.2,118.5 310.2,120.3 310.3,117.3 310.3,117.9 310.4,117.4 310.4,119.9 310.4,118.4 310.5,113.7 310.5,116.4 310.6,117.8 310.6,114.3 310.6,117.1 310.7,115.7 310.7,116.1 310.8,119.1 310.8,122.3 310.8,119.2 310.9,117.2 310.9,119.5 311,118 311,117 311,120.6 311.1,116.4 311.1,116 311.2,117.4 311.2,117 311.2,117.8 311.3,114.8 311.3,119.6 311.4,120.3 311.4,118.1 311.4,121.6 311.5,121.9 311.5,119.7 311.6,117.6 311.6,118 311.6,123.2 311.7,123.6 311.7,120.4 311.8,119.6 311.8,119.1 311.8,118.3 311.9,117.4 311.9,119.6 312,119.2 312,123.6 312,123.7 312.1,121.3 312.1,119.3 312.2,119.7 312.2,119.3 312.3,118.9 312.3,119.7 312.3,124.4 312.4,123 312.4,121 312.5,120.9 312.5,125.2 312.5,120.4 312.6,124.2 312.6,124.5 312.7,124 312.7,122.6 312.7,126.9 312.8,121.2 312.8,122.5 312.9,123.3 312.9,122.3 312.9,126.6 313,123.8 313,122.3 313.1,123.4 313.1,123.3 313.1,123 313.2,124 313.2,122.7 313.3,125.3 313.3,126.4 313.3,125.1 313.4,122.3 313.4,127.2 313.5,125.1 313.5,129.9 313.5,123.3 313.6,124.3 313.6,122.7 313.7,124.7 313.7,128.1 313.7,124.3 313.8,124.6 313.8,127.7 313.9,127.4 313.9,123.6 313.9,126.3 314,121.6 314,129.6 314.1,129.6 314.1,127.9 314.1,130.3 314.2,128.9 314.2,123.3 314.3,126.9 314.3,128.1 314.4,128.8 314.4,125.5 314.4,125.6 314.5,126.9 314.5,128.6 314.6,126.8 314.6,127.4 314.6,130.2 314.7,127.2 314.7,132.6 314.8,129.9 314.8,127.6 314.8,127.5 314.9,130.7 314.9,127.9 315,126.2 315,127.1 315,127 315.1,126.2 315.1,127 315.2,130.9 315.2,129.6 315.2,126.7 315.3,131.9 315.3,128.6 315.4,129.4 315.4,130.7 315.4,131 315.5,128.8 315.5,128.7 315.6,128.6 315.6,132.7 315.6,130.8 315.7,127.9 315.7,127 315.8,126.8 315.8,126 315.8,125.8 315.9,126 315.9,129.8 316,128 316,130 316,133.3 316.1,131.3 316.1,123.4 316.2,130.6 316.2,132.9 316.2,129.3 316.3,125.6 316.3,128 316.4,127.5 316.4,129.5 316.5,128.8 316.5,126 316.5,126.3 316.6,127.4 316.6,125.5 316.7,124.6 316.7,126.2 316.7,125.5 316.8,125.9 316.8,128.7 316.9,126 316.9,128.9 316.9,129.3 317,130.5 317,128.4 317.1,122.3 317.1,127.5 317.1,124.7 317.2,127.6 317.2,126.2 317.3,126.9 317.3,130.9 317.3,130.1 317.4,129 317.4,128.7 317.5,128.4 317.5,128.9 317.5,127.3 317.6,126 317.6,127.3 317.7,130.3 317.7,127 317.7,127.7 317.8,127.1 317.8,124.1 317.9,129.5 317.9,128.8 317.9,130.5 318,128.7 318,129.5 318.1,125.7 318.1,128.3 318.1,130.6 318.2,125.3 318.2,131.2 318.3,127 318.3,125.9 318.3,126.4 318.4,127.8 318.4,127.2 318.5,127.8 318.5,125.6 318.5,131.8 318.6,128.2 318.6,127 318.7,127.9 318.7,131.3 318.8,129.2 318.8,130.8 318.8,127.5 318.9,125.9 318.9,127 319,130.9 319,127.7 319,129.9 319.1,127.5 319.1,124.4 319.2,127.2 319.2,123.7 319.2,124.4 319.3,126.7 319.3,130.3 319.4,127.8 319.4,131.1 319.4,126.1 319.5,127.6 319.5,125.1 319.6,127.9 319.6,133.3 319.6,127.9 319.7,127.3 319.7,125.7 319.8,130.4 319.8,130.1 319.8,127.6 319.9,129.7 319.9,131.1 320,131.7 320,124.6 320,131.6 320.1,131.9 320.1,130.1 320.2,129.1 320.2,126.3 320.2,126.9 320.3,128.1 320.3,130.6 320.4,129.6 320.4,131.8 320.4,132.8 320.5,125.3 320.5,131.1 320.6,128.6 320.6,131.4 320.6,131.6 320.7,131.9 320.7,133.8 320.8,132 320.8,130.1 320.9,129.7 320.9,130 320.9,128.9 321,131.7 321,131.7 321.1,135.1 321.1,132.5 321.1,127.9 321.2,130.5 321.2,129.8 321.3,132.6 321.3,133.8 321.3,128.6 321.4,132.8 321.4,129.7 321.5,132 321.5,134.6 321.5,138.1 321.6,134 321.6,136.5 321.7,138 321.7,131.1 321.7,132.4 321.8,132.6 321.8,134.2 321.9,135.3 321.9,135.1 321.9,136.2 322,135.9 322,134.9 322.1,140.3 322.1,134.2 322.1,136.3 322.2,133 322.2,132 322.3,136 322.3,134.1 322.3,134.4 322.4,137.5 322.4,137.5 322.5,136.1 322.5,140.5 322.5,137.1 322.6,135.4 322.6,136.1 322.7,138.6 322.7,137 322.7,133.7 322.8,135.1 322.8,136.7 322.9,138.4 322.9,137.8 323,137.6 323,139.1 323,138.5 323.1,137 323.1,135.5 323.2,141.5 323.2,136.4 323.2,137.4 323.3,136.1 323.3,138 323.4,136.7 323.4,134.7 323.4,143.4 323.5,135.9 323.5,138.8 323.6,142.9 323.6,145 323.6,140.5 323.7,142.4 323.7,139.3 323.8,139.4 323.8,139.6 323.8,137.6 323.9,138.4 323.9,138.1 324,137 324,137.9 324,137.4 324.1,136.6 324.1,140.9 324.2,139.8 324.2,139.3 324.2,140.5 324.3,142.6 324.3,140.4 324.4,139.6 324.4,139.8 324.4,137.8 324.5,141.7 324.5,141.1 324.6,141 324.6,140.5 324.6,141.5 324.7,143.5 324.7,140.6 324.8,139.9 324.8,139.5 324.8,143.4 324.9,142.2 324.9,138.6 325,140.9 325,140.2 325.1,141.4 325.1,140.2 325.1,140.8 325.2,138.7 325.2,140.9 325.3,141.2 325.3,143.5 325.3,142.8 325.4,142.9 325.4,142.2 325.5,144.3 325.5,139.9 325.5,144 325.6,142.1 325.6,144.4 325.7,141.9 325.7,140.3 325.7,143.8 325.8,142 325.8,143.3 325.9,142.6 325.9,142.5 325.9,143.7 326,142.6 326,143.6 326.1,144.3 326.1,145.5 326.1,142.2 326.2,144.3 326.2,142 326.3,142.2 326.3,145 326.3,142.4 326.4,145.3 326.4,143.1 326.5,141.6 326.5,144.3 326.5,144.7 326.6,145.1 326.6,140.6 326.7,144.1 326.7,145.9 326.7,142.7 326.8,143.9 326.8,144.8 326.9,145.8 326.9,147.7 326.9,145.3 327,145.4 327,146.1 327.1,144.5 327.1,144.4 327.1,141.5 327.2,142 327.2,143.1 327.3,144.6 327.3,146 327.4,143.7 327.4,143.1 327.4,142.7 327.5,144 327.5,143.9 327.6,143.2 327.6,145.4 327.6,145.9 327.7,144.5 327.7,147.5 327.8,144.7 327.8,143.8 327.8,143.8 327.9,143.3 327.9,146.3 328,144.4 328,145 328,144 328.1,143.7 328.1,144.2 328.2,142.3 328.2,143.9 328.2,144.8 328.3,146.2 328.3,144.9 328.4,146.4 328.4,143.5 328.4,144.4 328.5,145.1 328.5,145.7 328.6,147.2 328.6,145.8 328.6,143.7 328.7,144.2 328.7,145.2 328.8,145.8 328.8,149.1 328.8,145.5 328.9,147.4 328.9,145 329,147.5 329,148.1 329,146.1 329.1,146.9 329.1,143.5 329.2,144.6 329.2,145 329.2,146 329.3,147.1 329.3,146.3 329.4,146.8 329.4,143.9 329.5,146.5 329.5,145.4 329.5,145.6 329.6,145.8 329.6,145.8 329.7,143.5 329.7,145.9 329.7,144.3 329.8,145.9 329.8,146.1 329.9,148.7 329.9,145.3 329.9,143.6 330,147.2 330,145.2 330.1,145.4 330.1,147.5 330.1,145.2 330.2,146.6 330.2,145.9 330.3,143.8 330.3,145.6 330.3,147.3 330.4,143.7 330.4,147.6 330.5,146.4 330.5,147.6 330.5,147.1 330.6,147.4 330.6,148.5 330.7,143.6 330.7,147.8 330.7,148.4 330.8,150.6 330.8,146.7 330.9,144.9 330.9,144.6 330.9,142.2 331,144.8 331,146.4 331.1,146.8 331.1,144.8 331.1,146.6 331.2,146.7 331.2,148.2 331.3,147 331.3,144.5 331.3,146.5 331.4,146.4 331.4,150.7 331.5,145.1 331.5,147.3 331.6,145 331.6,146.6 331.6,148.4 331.7,148 331.7,145.9 331.8,146.7 331.8,147.3 331.8,146.6 331.9,147.7 331.9,145.9 332,148.8 332,150.3 332,148.2 332.1,149 332.1,145.2 332.2,147.3 332.2,149.4 332.2,147.2 332.3,147.7 332.3,147.2 332.4,147 332.4,148.9 332.4,147.8 332.5,148.1 332.5,149.3 332.6,148.4 332.6,147.1 332.6,149.3 332.7,148 332.7,147.5 332.8,147.5 332.8,147 332.8,150.2 332.9,147.1 332.9,145.9 333,144.6 333,146.7 333,148.2 333.1,149.2 333.1,147 333.2,146.8 333.2,149.4 333.2,148.7 333.3,147.8 333.3,147.9 333.4,149.1 333.4,147.5 333.4,147.9 333.5,148.7 333.5,147.1 333.6,146.8 333.6,149.4 333.6,147.2 333.7,145.7 333.7,150.7 333.8,147.1 333.8,147 333.9,147.8 333.9,147.1 333.9,148.3 334,146.1 334,149.3 334.1,148.2 334.1,150 334.1,146.7 334.2,146.9 334.2,150.4 334.3,149.7 334.3,148.4 334.3,149.3 334.4,149.8 334.4,151.5 334.5,148 334.5,145.9 334.5,149.3 334.6,148.2 334.6,148.2 334.7,148.1 334.7,147.2 334.7,147 334.8,148 334.8,143.9 334.9,143.5 334.9,146.6 334.9,145.1 335,149.4 335,148.2 335.1,147.1 335.1,150.1 335.1,149.5 335.2,148 335.2,150.4 335.3,145.6 335.3,147 335.3,148.1 335.4,147.7 335.4,149.6 335.5,149.9 335.5,147.8 335.5,147.7 335.6,148.5 335.6,148.5 335.7,149.1 335.7,146.8 335.7,151.4 335.8,151 335.8,150.2 335.9,151.5 335.9,150.4 336,150.1 336,147.1 336,145.9 336.1,148.1 336.1,150 336.2,149.4 336.2,149.1 336.2,148.9 336.3,148.9 336.3,147.8 336.4,150.7 336.4,149.4 336.4,149.2 336.5,148.7 336.5,149.3 336.6,150 336.6,150 336.6,150 336.7,148.8 336.7,148.9 336.8,149.2 336.8,147.2 336.8,146.7 336.9,148.2 336.9,147.4 337,146.7 337,148.5 337,149.1 337.1,148.6 337.1,151.3 337.2,150.5 337.2,148.1 337.2,148.6 337.3,147.3 337.3,150.1 337.4,147.5 337.4,147.4 337.4,146 337.5,149.8 337.5,149.5 337.6,148.3 337.6,148.7 337.6,150.4 337.7,149.6 337.7,150.8 337.8,146.3 337.8,148.9 337.8,149 337.9,149.8 337.9,149 338,147.8 338,149.1 338.1,148.2 338.1,145.3 338.1,147.7 338.2,149.3 338.2,150 338.3,149.5 338.3,149.9 338.3,147.9 338.4,149.2 338.4,149.5 338.5,149 338.5,150 338.5,148.8 338.6,145.6 338.6,149.8 338.7,151.3 338.7,148.1 338.7,149.6 338.8,146.8 338.8,148.6 338.9,147.5 338.9,149.4 338.9,150.8 339,149.4 339,148.6 339.1,150.3 339.1,150.6 339.1,148.8 339.2,149 339.2,149.6 339.3,149.9 339.3,147.8 339.3,150.4 339.4,150.3 339.4,150.9 339.5,148.4 339.5,151 339.5,148.1 339.6,150 339.6,151.7 339.7,150 339.7,150.4 339.7,148.7 339.8,151.9 339.8,149.7 339.9,149.3 339.9,148.5 339.9,150.9 340,150.6 340,147.2 340.1,148.4 340.1,151.1 340.2,148.9 340.2,150.6 340.2,150.4 340.3,151.2 340.3,149.2 340.4,150.8 340.4,149.9 340.4,150.4 340.5,152 340.5,151.1 340.6,149.6 340.6,152.1 340.6,149.7 340.7,150 340.7,148.8 340.8,148.4 340.8,148.1 340.8,149.2 340.9,149.2 340.9,150.5 341,150.5 341,148.5 341,150.3 341.1,148.4 341.1,148.2 341.2,150.5 341.2,148.9 341.2,150.6 341.3,148.9 341.3,150.5 341.4,149.5 341.4,149.9 341.4,151.5 341.5,147.5 341.5,148.5 341.6,150.9 341.6,149.1 341.6,150.3 341.7,147.5 341.7,150.5 341.8,149.9 341.8,150.6 341.8,148.8 341.9,150.2 341.9,150.5 342,149.8 342,150.3 342,149.2 342.1,150.1 342.1,150.8 342.2,150.7 342.2,151.1 342.2,150 342.3,152.6 342.3,150.4 342.4,148.6 342.4,149.9 342.5,150 342.5,150 342.5,151 342.6,151 342.6,149.6 342.7,151 342.7,148.1 342.7,150.1 342.8,150.4 342.8,150.5 342.9,150.5 342.9,152.6 342.9,149.7 343,149.3 343,149.1 343.1,150.5 343.1,149.4 343.1,149.7 343.2,150.8 343.2,149.9 343.3,148.6 343.3,149 343.3,149.8 343.4,149.3 343.4,149.7 343.5,151.4 343.5,149.2 343.5,150.1 343.6,152.5 343.6,151.9 343.7,147.8 343.7,149 343.7,147.4 343.8,149.6 343.8,147.5 343.9,149.2 343.9,150.9 343.9,150 344,148.5 344,147.5 344.1,149.6 344.1,150.3 344.1,150.5 344.2,148.5 344.2,148.7 344.3,150.2 344.3,151 344.3,150.6 344.4,150.6 344.4,150.6 344.5,153 344.5,151.6 344.6,148.7 344.6,150.8 344.6,147.5 344.7,149.4 344.7,150.2 344.8,149.5 344.8,149.2 344.8,151.3 344.9,149.7 344.9,150.8 345,148.1 345,150.3 345,150.2 345.1,152.3 345.1,152.1 345.2,150.9 345.2,152.1 345.2,151.4 345.3,150.9 345.3,150.4 345.4,152.6 345.4,151.1 345.4,150.4 345.5,151.9 345.5,152.6 345.6,152.1 345.6,149.7 345.6,150.8 345.7,148.8 345.7,150.7 345.8,148.7 345.8,152.6 345.8,151.7 345.9,151.2 345.9,149.4 346,150.7 346,150 346,151.9 346.1,151.6 346.1,149.7 346.2,148.7 346.2,148.7 346.2,149.1 346.3,150.7 346.3,147.7 346.4,150.2 346.4,148.6 346.4,149.7 346.5,152.6 346.5,152.2 346.6,152 346.6,150.1 346.7,149.2 346.7,151 346.7,149.5 346.8,151.8 346.8,150.7 346.9,151.6 346.9,150.8 346.9,152.2 347,151 347,149.8 347.1,150.7 347.1,151.5 347.1,150.8 347.2,151.8 347.2,151.8 347.3,149.3 347.3,149.9 347.3,151.7 347.4,150.1 347.4,149 347.5,148.5 347.5,149 347.5,148.9 347.6,150.1 347.6,150.5 347.7,150.8 347.7,148.8 347.7,148.8 347.8,147.4 347.8,148.4 347.9,150.8 347.9,151.8 347.9,151.6 348,150.9 348,149.2 348.1,151.7 348.1,152.8 348.1,151 348.2,149.5 348.2,149.3 348.3,148.5 348.3,150.2 348.3,151.4 348.4,151.2 348.4,152.2 348.5,151.6 348.5,149.3 348.5,148.5 348.6,149.4 348.6,150.4 348.7,150.8 348.7,149.8 348.8,152.1 348.8,149.3 348.8,149.2 348.9,151.1 348.9,150.9 349,152.8 349,149.7 349,149.8 349.1,153.6 349.1,151.1 349.2,149.9 349.2,147.3 349.2,150 349.3,148.8 349.3,147.9 349.4,149.7 349.4,150.9 349.4,151.8 349.5,150.6 349.5,151.6 349.6,149.9 349.6,152.1 349.6,151 349.7,150.9 349.7,150.2 349.8,151.3 349.8,151.3 349.8,150.6 349.9,150.8 349.9,149.5 350,150.8 350,148.5 350,147.5 350.1,151.4 350.1,149.8 350.2,151.6 350.2,149.3 350.2,149.8 350.3,150.8 350.3,151.6 350.4,150.3 350.4,147.8 350.4,148.6 350.5,149.9 350.5,151.5 350.6,151.5 350.6,152.1 350.6,152.6 350.7,152.2 350.7,149.5 350.8,149.8 350.8,150.1 350.8,151.5 350.9,151.7 350.9,149.5 351,150.4 351,148.5 351.1,150.7 351.1,148.8 351.1,150.2 351.2,151.2 351.2,151.8 351.3,148.2 351.3,149.1 351.3,150.3 351.4,149.5 351.4,151.5 351.5,147.5 351.5,147.8 351.5,149.6 351.6,149.4 351.6,153.3 351.7,149 351.7,149.8 351.7,150.3 351.8,150.1 351.8,150.9 351.9,152.4 351.9,151.8 351.9,150.8 352,149.8 352,150.3 352.1,150.6 352.1,149.4 352.1,150.9 352.2,147.7 352.2,150.2 352.3,152.2 352.3,150.8 352.3,149.9 352.4,150.1 352.4,148.1 352.5,151.8 352.5,148.7 352.5,150.1 352.6,148.9 352.6,148.3 352.7,151.6 352.7,151.9 352.7,151.3 352.8,152.2 352.8,152 352.9,150 352.9,148.4 352.9,150 353,148.8 353,145.4 353.1,148.5 353.1,149.2 353.2,148 353.2,147.4 353.2,147.1 353.3,145.1 353.3,144.2 353.4,141.7 353.4,138.4 353.4,134.7 353.5,130.6 353.5,126 353.6,122.7 353.6,121.5 353.6,122 353.6,125 353.7,129.6 353.7,132.9 353.8,137.8 353.8,140.3 353.8,144.4 353.9,145.1 353.9,145.8 354,147.6 354,149.2 354,147.2 354.1,149.5 354.1,151.1 354.2,151.3 354.2,149.9 354.2,150.8 354.3,149.4 354.3,149.3 354.4,148.5 354.4,150.1 354.4,150.4 354.5,150.8 354.5,151.3 354.6,150.6 354.6,150.2 354.6,149.3 354.7,150.9 354.7,150.6 354.8,149.4 354.8,152.8 354.8,151.4 354.9,151.3 354.9,150.4 355,152 355,150.9 355,147.7 355.1,150.9 355.1,149.7 355.2,149.2 355.2,150.1 355.3,151.4 355.3,149 355.3,152.9 355.4,151.3 355.4,151 355.5,151 355.5,148.8 355.5,151.1 355.6,148.5 355.6,150.6 355.7,148.7 355.7,149.6 355.7,150.2 355.8,150.5 355.8,149.1 355.9,150.5 355.9,149.9 355.9,150.6 356,152.5 356,150.2 356.1,150.3 356.1,152.8 356.1,150.7 356.2,151 356.2,152.8 356.3,151.6 356.3,149.6 356.3,149.3 356.4,150 356.4,147.3 356.5,150.5 356.5,151.5 356.5,152.6 356.6,149.4 356.6,151.4 356.7,151.7 356.7,152 356.7,151.7 356.8,151 356.8,149.8 356.9,149.7 356.9,149.7 356.9,149.2 357,150.8 357,151.3 357.1,150.3 357.1,152.1 357.1,149 357.2,149 357.2,149.1 357.3,151.4 357.3,150.5 357.4,150.5 357.4,152 357.4,152.5 357.5,152 357.5,151.4 357.6,151.9 357.6,149.1 357.6,147.7 357.7,149.2 357.7,150.1 357.8,151.2 357.8,148.7 357.8,150.8 357.9,150.9 357.9,150.7 358,151.9 358,149.5 358,150.4 358.1,150.2 358.1,153 358.2,147.9 358.2,150.2 358.2,150.9 358.3,150.8 358.3,151.3 358.4,152.9 358.4,150.2 358.4,152 358.5,150 358.5,149.6 358.6,148.1 358.6,149.7 358.6,149.2 358.7,149 358.7,150.7 358.8,150.7 358.8,150.7 358.8,149.9 358.9,150.4 358.9,151.6 359,149.4 359,150.8 359,151.9 359.1,148.4 359.1,150 359.2,150.7 359.2,150.9 359.2,150.1 359.3,148.3 359.3,149.9 359.4,148 359.4,150.2 359.4,148.8 359.5,150.5 359.5,150.9 359.6,150.8 359.6,150.6 359.7,151.6 359.7,152.1 359.7,150.8 359.8,150.2 359.8,151.5 359.9,150.9 359.9,151.5 359.9,148.7 360,149 360,151.6 360.1,150.1 360.1,151.1 360.1,152 360.2,148.6 360.2,149.6 360.3,149.7 360.3,148.6 360.3,150.8 360.4,149.6 360.4,149.1 360.5,150.7 360.5,150.2 360.5,151.7 360.6,149.7 360.6,149.5 360.7,151.6 360.7,150.9 360.7,150.6 360.8,149.2 360.8,151 360.9,152.3 360.9,150.9 360.9,149.6 361,152.8 361,150.8 361.1,149.3 361.1,150.3 361.1,150.8 361.2,149.4 361.2,151.2 361.3,147.3 361.3,148.3 361.3,148.7 361.4,148.5 361.4,149.5 361.5,149.9 361.5,150.5 361.5,149.2 361.6,150.2 361.6,146.9 361.7,149 361.7,148.4 361.8,147.6 361.8,145.8 361.8,146 361.9,144.1 361.9,144.9 362,144.2 362,144.1 362,144.2 362,143.1 362.1,143.7 362.1,144.3 362.2,147.5 362.2,147 362.2,148.5 362.3,148.6 362.3,149.7 362.4,148.9 362.4,148.3 362.4,148.1 362.5,147.7 362.5,151 362.6,150.9 362.6,150.1 362.6,150.6 362.7,150.7 362.7,152.2 362.8,149.8 362.8,148.5 362.8,148.6 362.9,149.6 362.9,151 363,150.7 363,148.8 363,149.3 363.1,148.4 363.1,147.7 363.2,150.6 363.2,149.2 363.2,149.5 363.3,148.4 363.3,150.1 363.4,149.8 363.4,150.4 363.4,149.8 363.5,150 363.5,150.3 363.6,149.2 363.6,149.8 363.6,150.2 363.7,149.6 363.7,150.7 363.8,149.5 363.8,149 363.9,150.8 363.9,152.6 363.9,149.4 364,150 364,150.5 364.1,150.1 364.1,148.2 364.1,152.1 364.2,151.5 364.2,150.5 364.3,153.3 364.3,150.3 364.3,149 364.4,149.4 364.4,149.6 364.5,150.7 364.5,150.9 364.5,147 364.6,149.9 364.6,148.5 364.7,150.7 364.7,149.7 364.7,149.3 364.8,149.2 364.8,152.2 364.9,150 364.9,148.6 364.9,149.2 365,150.4 365,148.2 365.1,150.6 365.1,147.5 365.1,147.5 365.2,148.4 365.2,148.8 365.3,150.1 365.3,148.5 365.3,146.8 365.4,147.6 365.4,147.9 365.5,147.5 365.5,148.5 365.5,147 365.6,150.7 365.6,147.8 365.7,148.3 365.7,148.4 365.7,148.5 365.8,147.7 365.8,148.9 365.9,146.7 365.9,147.5 365.9,146.2 366,146.8 366,145.9 366.1,146.2 366.1,147.7 366.2,146.7 366.2,148.4 366.2,147.2 366.3,146.2 366.3,147 366.4,146.8 366.4,145 366.4,144.9 366.5,144.5 366.5,146 366.6,145.9 366.6,143.7 366.6,143.8 366.7,146.3 366.7,142.9 366.8,144.4 366.8,146.3 366.8,144 366.9,145.3 366.9,144.2 367,144.2 367,143.9 367,143.3 367.1,143.1 367.1,143.7 367.2,142.5 367.2,142.6 367.2,141.6 367.3,142.2 367.3,142.1 367.4,140 367.4,142.5 367.4,141.6 367.5,140.1 367.5,140 367.6,139.8 367.6,138.4 367.6,139.2 367.7,138.4 367.7,137.6 367.8,137.8 367.8,138.2 367.8,137.8 367.9,137.1 367.9,136.9 368,138.3 368,136.5 368,137 368.1,136 368.1,136 368.2,135.6 368.2,137.5 368.3,136.3 368.3,135.3 368.3,135.8 368.4,136.1 368.4,135.2 368.4,135.8 368.5,135.4 368.5,136 368.5,135.5 368.6,134.9 368.6,135.7 368.7,135.7 368.7,136.7 368.7,136.4 368.8,137.6 368.8,138.1 368.9,137 368.9,137.1 368.9,136.3 369,136 369,137.9 369.1,138.4 369.1,138.4 369.1,139.4 369.2,139.6 369.2,139.3 369.3,139.4 369.3,140.1 369.3,138 369.4,138.8 369.4,140 369.5,141.8 369.5,141.6 369.5,140.8 369.6,142.6 369.6,139.2 369.7,141.6 369.7,141.9 369.7,141.7 369.8,143.7 369.8,142.3 369.9,143.3 369.9,142.5 369.9,144 370,142.5 370,141.5 370.1,142.2 370.1,142.7 370.1,143.6 370.2,144.5 370.2,143.8 370.3,143.7 370.3,142.6 370.4,143.1 370.4,142.7 370.4,145 370.5,144.9 370.5,146.8 370.6,146.2 370.6,146.4 370.6,145.4 370.7,144.5 370.7,145.5 370.8,145.3 370.8,144.7 370.8,144.1 370.9,144.5 370.9,148.6 371,144.3 371,146 371,147.4 371.1,145.9 371.1,144.5 371.2,149.5 371.2,145.5 371.2,146.2 371.3,146.3 371.3,148.5 371.4,146.8 371.4,147.4 371.4,144.1 371.5,147.2 371.5,145.9 371.6,147.2 371.6,148.4 371.6,144.8 371.7,144.4 371.7,143.7 371.8,146.4 371.8,145.1 371.8,144.6 371.9,146.1 371.9,146 372,143.5 372,146.5 372,144.7 372.1,146.9 372.1,145 372.2,147.7 372.2,148.6 372.2,146.5 372.3,147.6 372.3,148 372.4,148 372.4,148.2 372.5,146.3 372.5,146.4 372.5,144.4 372.6,147.6 372.6,144.9 372.7,145.8 372.7,147.7 372.7,144.6 372.8,148.2 372.8,145.3 372.9,149 372.9,145.9 372.9,146.7 373,147.1 373,148.1 373.1,147.3 373.1,145.4 373.1,146 373.2,147.5 373.2,146.8 373.3,147.2 373.3,145.2 373.3,147.1 373.4,145.7 373.4,148.9 373.5,148.2 373.5,144.1 373.5,147.3 373.6,146.8 373.6,146.6 373.7,145.6 373.7,145.2 373.7,144.9 373.8,143.4 373.8,145.4 373.9,144.8 373.9,146.1 373.9,145.9 374,143.8 374,146.6 374.1,149.8 374.1,146 374.1,146 374.2,143.8 374.2,146.9 374.3,147.7 374.3,146 374.3,143.8 374.4,146.8 374.4,145.1 374.5,146.2 374.5,146.1 374.5,147.7 374.6,146.2 374.6,147.3 374.7,146.7 374.7,147.7 374.8,145.6 374.8,147.9 374.8,147.3 374.9,149.8 374.9,148.4 375,143.7 375,146.6 375,148.2 375.1,146 375.1,146.2 375.2,147.3 375.2,146.9 375.2,147.5 375.3,145.7 375.3,148.9 375.4,146.4 375.4,144.9 375.4,147 375.5,142.1 375.5,145.4 375.6,145.6 375.6,146.4 375.6,145.4 375.7,148.4 375.7,145.9 375.8,144.2 375.8,145.3 375.8,144.1 375.9,145.6 375.9,142.2 376,142.2 376,139.6 376,137 376.1,133.2 376.1,131.9 376.2,131.1 376.2,129.2 376.2,128.9 376.2,130.8 376.3,133.4 376.3,135.6 376.4,138.6 376.4,140.7 376.4,143.5 376.5,145.8 376.5,143.3 376.6,146.5 376.6,144.4 376.6,144.7 376.7,147.9 376.7,147.4 376.8,146.2 376.8,145.5 376.9,147.9 376.9,147 376.9,148.3 377,148.3 377,146.2 377.1,146.6 377.1,148.3 377.1,144.8 377.2,146.1 377.2,146.1 377.3,147.1 377.3,144.5 377.3,145.7 377.4,145.5 377.4,146.4 377.5,145.6 377.5,144.2 377.5,146.5 377.6,146.7 377.6,148.1 377.7,146.6 377.7,148 377.7,148.2 377.8,145 377.8,146.5 377.9,147.1 377.9,146.9 377.9,147 378,147.9 378,144.6 378.1,145.8 378.1,148.6 378.1,145.3 378.2,147.3 378.2,146.2 378.3,147.1 378.3,145.8 378.3,146.8 378.4,146.4 378.4,145.9 378.5,150 378.5,146.6 378.5,146.2 378.6,147 378.6,149.3 378.7,148.3 378.7,147.8 378.7,150.3 378.8,148.4 378.8,145.4 378.9,147.7 378.9,146.9 379,146.7 379,146.4 379,146.5 379.1,145.4 379.1,146.3 379.2,146.1 379.2,146.3 379.2,146.4 379.3,147.1 379.3,145.8 379.4,144.9 379.4,147.5 379.4,148.7 379.5,145.1 379.5,146.7 379.6,148.3 379.6,145.1 379.6,144.6 379.7,147.8 379.7,148 379.8,147.5 379.8,147.3 379.8,146.4 379.9,147.2 379.9,145.8 380,146.1 380,144.5 380,144.7 380.1,143.4 380.1,141.8 380.2,142.6 380.2,142.3 380.2,142.6 380.3,142.1 380.3,140.2 380.4,140.5 380.4,142.4 380.4,143 380.4,142.4 380.5,141.8 380.5,144.8 380.6,143.2 380.6,145.4 380.6,142.7 380.7,146.1 380.7,143.1 380.8,144.8 380.8,144.6 380.8,143 380.9,145.8 380.9,145.5 381,145.3 381,147.2 381.1,146.1 381.1,144.4 381.1,146 381.2,145.9 381.2,147.3 381.3,144.9 381.3,147.5 381.3,144.4 381.4,146.6 381.4,146.4 381.5,149.1 381.5,147.4 381.5,147.9 381.6,146.1 381.6,144.7 381.7,146.1 381.7,146.6 381.7,145.6 381.8,148 381.8,146.1 381.9,147 381.9,144.8 381.9,147 382,144.1 382,144.1 382.1,148.7 382.1,146.7 382.1,147.7 382.2,143.7 382.2,146.6 382.3,144.2 382.3,145.3 382.3,146.7 382.4,147.1 382.4,144.2 382.5,145.6 382.5,144 382.5,142.2 382.6,143.8 382.6,144.2 382.7,145 382.7,143.7 382.7,144.6 382.8,145.1 382.8,142.5 382.9,140.9 382.9,139.6 382.9,136 383,132.8 383,128.5 383.1,122.8 383.1,116.4 383.1,109.7 383.2,102 383.2,95 383.3,89.9 383.3,89.4 383.3,90.5 383.4,93.4 383.4,100.2 383.4,107.3 383.5,114.8 383.5,121.9 383.6,126.7 383.6,132.1 383.6,136.2 383.7,138 383.7,138.9 383.8,141.8 383.8,140.9 383.8,143.5 383.9,142 383.9,146.5 384,142 384,146.6 384,144.6 384.1,146.3 384.1,145.2 384.2,145.5 384.2,145.8 384.2,144.6 384.3,144.1 384.3,145.9 384.4,144.2 384.4,147.9 384.4,146.6 384.5,147.3 384.5,144.8 384.6,143.6 384.6,145.5 384.6,145.4 384.7,147.1 384.7,145.3 384.8,144.6 384.8,146.3 384.8,145.5 384.9,145.2 384.9,144.8 385,144.3 385,147.1 385,145.6 385.1,143.4 385.1,145.3 385.2,143 385.2,142.9 385.2,145.8 385.3,145.1 385.3,142.8 385.4,145.1 385.4,143.8 385.5,144.7 385.5,142.7 385.5,142.4 385.6,142 385.6,142.1 385.7,142.5 385.7,139.2 385.7,139.1 385.8,137.9 385.8,134 385.9,131.6 385.9,126.2 385.9,118.8 386,108.3 386,95.1 386.1,76.8 386.1,57.7 386.1,38.4 386.2,24.4 386.2,22.1 386.2,24.3 386.3,34.1 386.3,52.7 386.3,72.6 386.4,90.5 386.4,106.1 386.5,117.4 386.5,125.5 386.5,131.3 386.6,134.6 386.6,137.8 386.7,138.7 386.7,140 386.7,140.5 386.8,143.3 386.8,143.2 386.9,142.8 386.9,142.9 386.9,142.6 387,144.6 387,143.5 387.1,142.5 387.1,144.6 387.1,143.3 387.2,143.8 387.2,144.8 387.3,145.6 387.3,145.4 387.3,142.8 387.4,144.6 387.4,145.7 387.5,145.5 387.5,144.8 387.6,146.9 387.6,145.1 387.6,145.3 387.7,145.9 387.7,144.3 387.8,148.1 387.8,147.2 387.8,146.9 387.9,145.8 387.9,147.9 388,147.2 388,144.5 388,147.2 388.1,145.3 388.1,146.8 388.2,147.4 388.2,145.8 388.2,144.6 388.3,146.6 388.3,148.4 388.4,147.6 388.4,147.3 388.4,147.2 388.5,148.3 388.5,146.3 388.6,148.1 388.6,144.8 388.6,147 388.7,147.2 388.7,144.5 388.8,145.5 388.8,146.4 388.8,146.4 388.9,146.5 388.9,145.4 389,145.2 389,143.5 389,144.9 389.1,143.1 389.1,141 389.2,140 389.2,135.4 389.2,131.4 389.3,127.1 389.3,122.1 389.4,115.4 389.4,111.5 389.4,112.1 389.4,111.6 389.5,114.5 389.5,120.3 389.6,126 389.6,130.3 389.7,136.5 389.7,138.5 389.7,141.5 389.8,143.1 389.8,142.5 389.9,144.3 389.9,145.5 389.9,144.9 390,145.2 390,143.9 390.1,145.9 390.1,144.8 390.1,146.9 390.2,146.1 390.2,147.1 390.3,146.5 390.3,146.3 390.3,144.5 390.4,147.6 390.4,148.3 390.5,147.8 390.5,146.3 390.5,145.9 390.6,145.7 390.6,146.4 390.7,146.2 390.7,147 390.7,145.8 390.8,147.3 390.8,147 390.9,146.4 390.9,147 390.9,145.4 391,147.5 391,146.1 391.1,146.1 391.1,146.6 391.1,143.5 391.2,144.7 391.2,145.1 391.3,143.3 391.3,143.5 391.3,143.6 391.4,144.1 391.4,143.4 391.5,142.3 391.5,142.8 391.5,140.9 391.6,140.2 391.6,139.6 391.7,140.1 391.7,139.5 391.7,141.5 391.7,141.2 391.8,140.5 391.8,140.2 391.9,141.3 391.9,143.7 392,144 392,143.3 392,141.7 392.1,143.7 392.1,143.3 392.2,144.6 392.2,145.7 392.2,147.1 392.3,146.5 392.3,145.9 392.4,146.2 392.4,146.4 392.4,145.6 392.5,144.4 392.5,143.1 392.6,147.6 392.6,146.1 392.6,146.3 392.7,147.7 392.7,146.8 392.8,147.3 392.8,148.3 392.8,148.8 392.9,147.6 392.9,149.5 393,148.6 393,148.1 393,148.6 393.1,149.1 393.1,149.8 393.2,148.2 393.2,145.4 393.2,149.1 393.3,145.4 393.3,147.8 393.4,147.9 393.4,146.1 393.4,146.7 393.5,146.4 393.5,147.2 393.6,146 393.6,148.1 393.6,146.8 393.7,146.2 393.7,147.4 393.8,148.8 393.8,146 393.8,148.4 393.9,149.5 393.9,147.1 394,146.7 394,147.8 394.1,149.5 394.1,147.7 394.1,147.2 394.2,146.2 394.2,149.1 394.3,149.1 394.3,147.2 394.3,147.2 394.4,146.2 394.4,145.2 394.5,147.8 394.5,148.1 394.5,147.8 394.6,144.6 394.6,146.6 394.7,144.6 394.7,149.2 394.7,146.7 394.8,146.4 394.8,145.8 394.9,147.3 394.9,143.9 394.9,146.7 395,144.6 395,143.9 395.1,145.2 395.1,146.2 395.1,142.1 395.2,143.5 395.2,143.7 395.3,139.6 395.3,138.1 395.3,133.6 395.4,130.3 395.4,126.6 395.5,121.2 395.5,117.5 395.5,114.7 395.6,113.6 395.6,114 395.6,115.9 395.7,119.3 395.7,124.5 395.7,128.7 395.8,132.9 395.8,135.5 395.9,137.2 395.9,139.7 395.9,142.7 396,143.7 396,144.4 396.1,144.2 396.1,145.5 396.2,145.5 396.2,146.4 396.2,145.5 396.3,145.8 396.3,145.2 396.4,145.2 396.4,145.2 396.4,146.6 396.5,148.2 396.5,147.3 396.6,148.7 396.6,147.4 396.6,148.7 396.7,148.6 396.7,149.3 396.8,147.9 396.8,147.9 396.8,145.2 396.9,146.6 396.9,144.8 397,147.8 397,149 397,145.9 397.1,147 397.1,145.3 397.2,148.4 397.2,149.5 397.2,145.2 397.3,147.1 397.3,148 397.4,144.8 397.4,147.1 397.4,148.2 397.5,146.8 397.5,148.2 397.6,148.7 397.6,147.5 397.6,148.1 397.7,148.4 397.7,148.2 397.8,148.8 397.8,145.8 397.8,143.5 397.9,145.7 397.9,145.1 398,144.2 398,147.2 398,148.2 398.1,148.5 398.1,148.1 398.2,147 398.2,148.1 398.2,146.6 398.3,148.9 398.3,145.3 398.4,147.2 398.4,147 398.5,146.4 398.5,147.4 398.5,147.3 398.6,146.1 398.6,147.3 398.7,147.2 398.7,149 398.7,149.1 398.8,149.7 398.8,146.5 398.9,147.7 398.9,145.8 398.9,145.8 399,145.3 399,145.3 399.1,144.2 399.1,144.4 399.1,142.8 399.2,144.5 399.2,144.5 399.3,143.9 399.3,141.1 399.3,143.1 399.4,141.5 399.4,141.9 399.4,143 399.5,142.5 399.5,140.6 399.5,141.7 399.6,142.8 399.6,142.4 399.7,141.8 399.7,143.7 399.7,144.1 399.8,143.9 399.8,143.3 399.9,145.3 399.9,146.4 399.9,145.9 400,146.7 400,147.9 400.1,146.6 400.1,147.1 400.1,144.5 400.2,145.5 400.2,149.4 400.3,147.9 400.3,146.6 400.3,148.2 400.4,147.7 400.4,147.1 400.5,147.5 400.5,145.9 400.6,147.3 400.6,148.5 400.6,145.9 400.7,148.6 400.7,147.2 400.8,148.6 400.8,148.5 400.8,148.6 400.9,148.9 400.9,148.3 401,145.3 401,148.3 401,144.8 401.1,145.6 401.1,144.8 401.2,146.8 401.2,144.7 401.2,145.6 401.3,143.3 401.3,145.4 401.4,143.7 401.4,144.3 401.4,141.5 401.5,141.2 401.5,139.8 401.6,137.2 401.6,134.3 401.6,130.9 401.7,131.3 401.7,130.7 401.7,130.3 401.8,131.6 401.8,133.6 401.8,135.3 401.9,138.5 401.9,141.4 402,141.5 402,144 402,145 402.1,145.9 402.1,144.7 402.2,145.7 402.2,147.4 402.2,148.1 402.3,146.6 402.3,147.9 402.4,149.1 402.4,148 402.4,146.2 402.5,147.9 402.5,147.5 402.6,144.6 402.6,145.1 402.7,145.7 402.7,148.9 402.7,148.2 402.8,146.5 402.8,147.3 402.9,148.7 402.9,147.7 402.9,148.7 403,148.8 403,147.6 403.1,147.9 403.1,149.6 403.1,146.7 403.2,147.9 403.2,146.3 403.3,148.8 403.3,147.7 403.3,150.3 403.4,146.8 403.4,146.3 403.5,146 403.5,147.5 403.5,146.9 403.6,147.1 403.6,145.9 403.7,148.5 403.7,148.4 403.7,147.6 403.8,148.2 403.8,148.4 403.9,147.3 403.9,147.2 403.9,146.1 404,149.1 404,150.7 404.1,145.8 404.1,147.1 404.1,145.8 404.2,146.9 404.2,147.2 404.3,148.8 404.3,146.2 404.3,148.3 404.4,146.3 404.4,149.6 404.5,146 404.5,147 404.5,147.9 404.6,145.1 404.6,144 404.7,143.1 404.7,143.1 404.8,139 404.8,138.6 404.8,135.6 404.9,135.4 404.9,132.6 404.9,132.2 405,132.3 405,132.9 405,135.4 405.1,136.9 405.1,140 405.2,141.9 405.2,144.6 405.2,144.6 405.3,145 405.3,146 405.4,146.5 405.4,147.7 405.4,148.2 405.5,148.1 405.5,147.7 405.6,149.5 405.6,149.1 405.6,146.2 405.7,146.8 405.7,148.8 405.8,145.3 405.8,149.2 405.8,147.8 405.9,146.6 405.9,147.5 406,148 406,149.5 406,149.8 406.1,147.2 406.1,148 406.2,146.1 406.2,149.2 406.2,149.9 406.3,149.5 406.3,150.5 406.4,148.4 406.4,148.7 406.4,148.5 406.5,146.3 406.5,146.2 406.6,148.4 406.6,148.9 406.6,146.6 406.7,146.5 406.7,149.3 406.8,148.7 406.8,149 406.8,150.3 406.9,149 406.9,150 407,147.8 407,148 407.1,150.8 407.1,148.8 407.1,148.5 407.2,146 407.2,147.9 407.3,147.2 407.3,146.3 407.3,149.9 407.4,148.9 407.4,148.5 407.5,147.3 407.5,149.2 407.5,147.5 407.6,149 407.6,146.4 407.7,149.7 407.7,147.5 407.7,149.7 407.8,148.9 407.8,149 407.9,148.1 407.9,147.3 407.9,146.3 408,146 408,146.7 408.1,147.1 408.1,144.4 408.1,145.2 408.2,143.4 408.2,142.2 408.3,139.5 408.3,136.5 408.3,134.5 408.4,131.6 408.4,128.8 408.5,126.8 408.5,126.3 408.5,126.4 408.5,127.8 408.6,129.8 408.6,132.9 408.7,137 408.7,139.2 408.7,140.7 408.8,143.9 408.8,144 408.9,145.3 408.9,146.5 408.9,145.9 409,147.2 409,148.9 409.1,147.7 409.1,150.2 409.2,146.7 409.2,147.7 409.2,147.1 409.3,146.2 409.3,146.1 409.4,148.1 409.4,147.3 409.4,145.9 409.5,146.4 409.5,148.4 409.6,147.6 409.6,150 409.6,149.3 409.7,149 409.7,148.6 409.8,149 409.8,149.3 409.8,148.3 409.9,149.9 409.9,148.7 410,150.4 410,147.4 410,149.3 410.1,148.5 410.1,149.5 410.2,147.9 410.2,148.8 410.2,148.3 410.3,149 410.3,147.7 410.4,148.8 410.4,147.8 410.4,149 410.5,149 410.5,148.5 410.6,148.4 410.6,148.5 410.6,149.7 410.7,148.8 410.7,148 410.8,149.2 410.8,148.7 410.8,149.4 410.9,146.7 410.9,149.1 411,148 411,148.8 411,147.1 411.1,149.7 411.1,150.7 411.2,148.5 411.2,151.6 411.3,150.1 411.3,149.8 411.3,149.5 411.4,148.2 411.4,150.2 411.5,147.7 411.5,146.7 411.5,146.4 411.6,149.8 411.6,149.3 411.7,146.1 411.7,149.7 411.7,147.5 411.8,148 411.8,148.4 411.9,151.3 411.9,151.5 411.9,151.2 412,148.8 412,148.4 412.1,149.5 412.1,148 412.1,148.5 412.2,149.8 412.2,150.5 412.3,152.2 412.3,151.6 412.3,151.2 412.4,148 412.4,148.1 412.5,149.2 412.5,148.8 412.5,150.6 412.6,152.5 412.6,149.3 412.7,148.3 412.7,149.5 412.7,146.8 412.8,146.2 412.8,146.9 412.9,150.6 412.9,148.1 412.9,148.1 413,149.7 413,149.6 413.1,148.4 413.1,146.9 413.1,149 413.2,149.7 413.2,149.8 413.3,150.5 413.3,149.8 413.4,147.8 413.4,150 413.4,147 413.5,150.7 413.5,150.8 413.6,148.7 413.6,149 413.6,149.1 413.7,150.2 413.7,150.4 413.8,148.3 413.8,149.8 413.8,149.8 413.9,147 413.9,147.3 414,147.9 414,146.2 414,150.8 414.1,148.6 414.1,150.1 414.2,148 414.2,150 414.2,147.6 414.3,149.1 414.3,145.8 414.4,148.9 414.4,146.7 414.4,150.3 414.5,150.3 414.5,148.7 414.6,151.4 414.6,150.3 414.6,147.1 414.7,148.1 414.7,149.2 414.8,147 414.8,147.7 414.8,147.5 414.9,149.3 414.9,147.5 415,149.3 415,147.2 415,150.3 415.1,145.9 415.1,150 415.2,150.6 415.2,150.5 415.2,149 415.3,148.5 415.3,149.4 415.4,147.7 415.4,146 415.4,148.8 415.5,148 415.5,147.5 415.6,147.4 415.6,149.1 415.7,145.7 415.7,146.9 415.7,146.4 415.8,145.3 415.8,148.4 415.9,145 415.9,145.7 415.9,144.4 415.9,145.5 416,144.8 416,145.1 416.1,147.2 416.1,146.4 416.1,147.3 416.2,146.6 416.2,148.5 416.3,149.5 416.3,148.5 416.3,148.8 416.4,147.9 416.4,146.5 416.5,149 416.5,148.8 416.5,147.1 416.6,147.8 416.6,150.9 416.7,149.6 416.7,151.3 416.7,150.5 416.8,150 416.8,149.3 416.9,149.5 416.9,149.3 416.9,149.6 417,148.5 417,149 417.1,151.2 417.1,148.4 417.1,149.4 417.2,151.4 417.2,150.9 417.3,149.4 417.3,149.3 417.3,149.1 417.4,151.1 417.4,149.7 417.5,146.8 417.5,151 417.5,150.4 417.6,148.8 417.6,148.1 417.7,149.6 417.7,148.5 417.8,148.5 417.8,148.7 417.8,146.6 417.9,146 417.9,144.8 418,144.1 418,144.3 418,142.8 418.1,142.6 418.1,140.9 418.2,140.2 418.2,140 418.2,140.7 418.2,140.7 418.3,141.4 418.3,142.5 418.4,143.5 418.4,144.9 418.4,145 418.5,148.2 418.5,147 418.6,149 418.6,147.2 418.6,149.3 418.7,149 418.7,148.5 418.8,148.6 418.8,147.5 418.8,147.3 418.9,149.5 418.9,149.9 419,147.8 419,148.7 419,149.1 419.1,149 419.1,148.1 419.2,148.4 419.2,152 419.2,150.2 419.3,150 419.3,151.1 419.4,147.8 419.4,147.7 419.4,149.3 419.5,147.3 419.5,149.8 419.6,147.8 419.6,147.6 419.6,148.1 419.7,147.6 419.7,148.9 419.8,147.4 419.8,149.4 419.9,148.6 419.9,150.6 419.9,150.6 420,149.2 420,149.3 420.1,147.8 420.1,149.8 420.1,149.3 420.2,148.7 420.2,146.9 420.3,148.8 420.3,150.5 420.3,151.7 420.4,150 420.4,149.7 420.5,150.8 420.5,150.8 420.5,150.8 420.6,150.3 420.6,149.9 420.7,150.9 420.7,151.1 420.7,148.3 420.8,147.5 420.8,148.7 420.9,150.3 420.9,150.1 420.9,148.2 421,151.1 421,150.3 421.1,147.7 421.1,150.6 421.1,150 421.2,147.2 421.2,149.8 421.3,148.1 421.3,150 421.3,151.1 421.4,149.5 421.4,150.1 421.5,149.5 421.5,152.2 421.5,149.3 421.6,149.6 421.6,149 421.7,149.4 421.7,151.2 421.7,148.6 421.8,149.2 421.8,149.7 421.9,150.1 421.9,150 422,150.4 422,151.9 422,152 422.1,150.6 422.1,153.4 422.2,151.2 422.2,149.1 422.2,150.7 422.3,147.3 422.3,151.5 422.4,148.5 422.4,152.3 422.4,150.2 422.5,147.9 422.5,150.7 422.6,151.5 422.6,151.2 422.6,149.8 422.7,148.8 422.7,149.3 422.8,150 422.8,150.4 422.8,150.8 422.9,150.6 422.9,151.5 423,148.8 423,148.1 423,148.9 423.1,148.3 423.1,150.7 423.2,152.4 423.2,149.8 423.2,150.6 423.3,151.7 423.3,150.2 423.4,151.3 423.4,149.6 423.4,149.6 423.5,151 423.5,149.3 423.6,150 423.6,149.1 423.6,149.8 423.7,151.4 423.7,150 423.8,151.3 423.8,151 423.8,150.7 423.9,148.3 423.9,149.9 424,150.3 424,150.7 424,151.6 424.1,149.9 424.1,149.6 424.2,150.2 424.2,149.1 424.3,149.7 424.3,149.5 424.3,150.4 424.4,148 424.4,149.1 424.5,151.2 424.5,150.4 424.5,149.2 424.6,151.3 424.6,149 424.7,151.7 424.7,153.5 424.7,150 424.8,151.3 424.8,149.9 424.9,150.1 424.9,148.9 424.9,150.1 425,149.1 425,151.1 425.1,150 425.1,150.5 425.1,150 425.2,147.2 425.2,150.7 425.3,149.8 425.3,151.2 425.3,150.5 425.4,152 425.4,150.9 425.5,151.4 425.5,148.5 425.5,149.5 425.6,150 425.6,151.9 425.7,148.4 425.7,149.2 425.7,150.7 425.8,150.3 425.8,150.8 425.9,149.2 425.9,153.1 425.9,150.6 426,150.5 426,150.1 426.1,151.7 426.1,150.4 426.1,150.9 426.2,149 426.2,150.1 426.3,149.8 426.3,150.5 426.4,150.3 426.4,151.5 426.4,150.9 426.5,148.5 426.5,149.5 426.6,150.8 426.6,149.9 426.6,149.8 426.7,150 426.7,149.6 426.8,150.1 426.8,149.7 426.8,148.7 426.9,149.2 426.9,150.8 427,147.2 427,148.8 427,149.4 427.1,147.4 427.1,147.2 427.2,148.8 427.2,147.4 427.2,148.2 427.3,147.6 427.3,147.4 427.4,145.8 427.4,146.1 427.4,145 427.5,146.5 427.5,145 427.5,145.4 427.6,144.4 427.6,146 427.6,144.7 427.7,146.5 427.7,146.7 427.8,147.3 427.8,146.2 427.8,149.7 427.9,149.3 427.9,148.2 428,149 428,149 428,148.4 428.1,149.3 428.1,148.5 428.2,148.1 428.2,151.5 428.2,149.2 428.3,151.3 428.3,152.4 428.4,151.3 428.4,151.4 428.5,150.8 428.5,152.2 428.5,150.2 428.6,150.9 428.6,148.4 428.7,149.5 428.7,150.6 428.7,150.9 428.8,150.4 428.8,148.2 428.9,152.1 428.9,151.2 428.9,149.1 429,149.3 429,150.6 429.1,150.7 429.1,151.3 429.1,151.6 429.2,151 429.2,149.8 429.3,149.2 429.3,151.7 429.3,150.2 429.4,151.1 429.4,149.8 429.5,152.1 429.5,152.1 429.5,152 429.6,146.5 429.6,149 429.7,151 429.7,150.3 429.7,153.3 429.8,151.1 429.8,148.2 429.9,151 429.9,152 429.9,151.7 430,151.6 430,151.1 430.1,151.5 430.1,151.4 430.1,152.7 430.2,150.7 430.2,150 430.3,151.8 430.3,149.6 430.3,150.2 430.4,148.1 430.4,149.2 430.5,150.6 430.5,150.8 430.5,148.1 430.6,149 430.6,149.7 430.7,149.2 430.7,152 430.8,149.3 430.8,150.1 430.8,149.9 430.9,149.2 430.9,149.4 431,151.7 431,149.9 431,149.9 431.1,149.1 431.1,150.4 431.2,150 431.2,151.8 431.2,151.3 431.3,151.4 431.3,149.5 431.4,150.9 431.4,150 431.4,147.3 431.5,148.5 431.5,146.8 431.6,150.3 431.6,150.6 431.6,150.6 431.7,149.6 431.7,151.2 431.8,147.7 431.8,151.1 431.8,148 431.9,150.8 431.9,151 432,149.2 432,150.2 432,150 432.1,150.1 432.1,149.1 432.2,150.3 432.2,148 432.2,149.5 432.3,149.9 432.3,151.5 432.4,147.1 432.4,149.3 432.4,150.6 432.5,150.8 432.5,153.2 432.6,151.3 432.6,153.3 432.6,152.9 432.7,149.5 432.7,151.5 432.8,151.7 432.8,148.6 432.9,151.2 432.9,148.2 432.9,150.1 433,150 433,150.8 433.1,151 433.1,150.5 433.1,149.3 433.2,151.1 433.2,152.2 433.3,152.7 433.3,149.6 433.3,151.4 433.4,152.2 433.4,150.1 433.5,150 433.5,149.7 433.5,151.1 433.6,152.5 433.6,149.9 433.7,150.4 433.7,150.2 433.7,151.3 433.8,150 433.8,150.4 433.9,149.6 433.9,148.7 433.9,149.7 434,149.4 434,149.6 434.1,149.9 434.1,148.4 434.1,146.8 434.2,146.5 434.2,147.4 434.3,147.7 434.3,145.8 434.3,145.6 434.4,145 434.4,143.7 434.5,143.6 434.5,141.9 434.5,141.8 434.6,140.8 434.6,141.4 434.7,140.6 434.7,140.9 434.7,141.4 434.7,141.1 434.8,142.3 434.8,141.6 434.9,145.1 434.9,143.9 435,145.7 435,147.6 435,147.9 435.1,149.3 435.1,147.4 435.2,147.5 435.2,147.7 435.2,146.9 435.3,150.7 435.3,150.3 435.4,149.5 435.4,148.7 435.4,148.6 435.5,150.3 435.5,149.8 435.6,149.5 435.6,152.4 435.6,150.9 435.7,150.3 435.7,149.8 435.8,149.2 435.8,150.2 435.8,152.5 435.9,152.2 435.9,151.8 436,151.3 436,150.1 436,150.3 436.1,150 436.1,148.6 436.2,151.6 436.2,150.2 436.2,150.7 436.3,150.1 436.3,149 436.4,150.7 436.4,152.4 436.4,151.1 436.5,152.4 436.5,150.5 436.6,151.1 436.6,150.4 436.6,149.6 436.7,150.7 436.7,149.7 436.8,150.3 436.8,149.8 436.8,150.6 436.9,151 436.9,152.3 437,149.9 437,149.8 437.1,151.3 437.1,151.7 437.1,149.1 437.2,149.6 437.2,148.9 437.3,149.6 437.3,148.5 437.3,150 437.4,150.3 437.4,148.8 437.5,150.8 437.5,149.4 437.5,149.2 437.6,150.1 437.6,149.6 437.7,150.1 437.7,151.3 437.7,147.8 437.8,149.4 437.8,149.8 437.9,151.2 437.9,149.8 437.9,149.7 438,150.5 438,148.1 438.1,148.8 438.1,151.3 438.1,149.1 438.2,150.1 438.2,148.3 438.3,148.8 438.3,148.3 438.3,148.5 438.4,147.6 438.4,148.8 438.5,148.6 438.5,148.1 438.5,148.1 438.6,146.4 438.6,147.8 438.7,146.6 438.7,147.4 438.7,147.4 438.8,146 438.8,147.3 438.9,146.1 438.9,145.5 438.9,146.6 439,146.2 439,146.1 439.1,144.9 439.1,144 439.1,144.1 439.2,144.2 439.2,143.1 439.3,143.4 439.3,142.3 439.4,140.7 439.4,140.6 439.4,139.4 439.5,138.5 439.5,137.6 439.6,136.7 439.6,136.5 439.6,135.7 439.7,134.2 439.7,132.9 439.8,131.5 439.8,129.1 439.8,129.2 439.9,127.6 439.9,126.5 440,125.1 440,123.4 440,121.8 440.1,119.9 440.1,119.4 440.2,117.9 440.2,115.9 440.2,115.2 440.3,114.6 440.3,113.5 440.4,112.5 440.4,112.5 440.4,112.8 440.5,112.9 440.5,112.9 440.5,112.1 440.6,112.8 440.6,114.1 440.6,114.2 440.7,114.7 440.7,116.5 440.8,118 440.8,119.4 440.8,119.8 440.9,122 440.9,122.9 441,124.2 441,126.1 441,127.1 441.1,128.2 441.1,130.2 441.2,132.2 441.2,132.9 441.2,133.9 441.3,134.7 441.3,135.5 441.4,136.7 441.4,138.1 441.5,138.9 441.5,140.3 441.5,141.3 441.6,142 441.6,142.6 441.7,142.2 441.7,142 441.7,144.4 441.8,143.2 441.8,144.7 441.9,145.4 441.9,145.9 441.9,146.1 442,146.1 442,147.5 442.1,148.1 442.1,147.9 442.1,148.4 442.2,147 442.2,148.2 442.3,147.8 442.3,148.5 442.3,148.4 442.4,148 442.4,148.3 442.5,147.5 442.5,150.2 442.5,148.3 442.6,148.6 442.6,149.6 442.7,151.6 442.7,149.9 442.7,149.7 442.8,148.3 442.8,148.3 442.9,148.5 442.9,149.2 442.9,149.8 443,150 443,149.6 443.1,150.9 443.1,149.5 443.1,149.3 443.2,150.4 443.2,149.7 443.3,150.9 443.3,151.4 443.3,151 443.4,151.3 443.4,151.9 443.5,150.5 443.5,149.7 443.6,149.8 443.6,149.1 443.6,150.6 443.7,148.4 443.7,150.5 443.8,150.7 443.8,149.5 443.8,152.3 443.9,150.3 443.9,150 444,148.4 444,151 444,151 444.1,154.1 444.1,151.6 444.2,152.9 444.2,152 444.2,150.2 444.3,151.9 444.3,152.5 444.4,150.1 444.4,150.7 444.4,151.3 444.5,152.6 444.5,152.3 444.6,152.7 444.6,151.5 444.6,152 444.7,151.6 444.7,151.8 444.8,151.3 444.8,149.6 444.8,150.8 444.9,149.7 444.9,149.8 445,150 445,153.1 445,150.2 445.1,151.1 445.1,151.1 445.2,151.5 445.2,152.1 445.2,152.9 445.3,152.7 445.3,151.8 445.4,152.9 445.4,152.5 445.4,151.4 445.5,150.7 445.5,151.8 445.6,153.8 445.6,151.1 445.7,150.8 445.7,151.9 445.7,152.2 445.8,153.7 445.8,152 445.9,149.4 445.9,151.5 445.9,152.3 446,153.1 446,152 446.1,153.7 446.1,152.7 446.1,152.2 446.2,152 446.2,151.3 446.3,151.6 446.3,152.9 446.3,153.7 446.4,151.7 446.4,154.1 446.5,152.9 446.5,149.7 446.5,152.1 446.6,150.2 446.6,152.1 446.7,150.8 446.7,150.5 446.7,150.2 446.8,151.9 446.8,153.4 446.9,152.4 446.9,154.1 446.9,154 447,151.2 447,152.7 447.1,150.5 447.1,150.7 447.1,152.4 447.2,152.3 447.2,151.8 447.3,150.3 447.3,151.4 447.3,150 447.4,151.1 447.4,149.7 447.5,151.2 447.5,149.8 447.5,150.3 447.6,150 447.6,150.6 447.7,152.9 447.7,149.3 447.7,151.5 447.8,152.9 447.8,152.3 447.9,152.7 447.9,151 448,151.7 448,151.4 448,150.9 448.1,153.3 448.1,153.6 448.2,152.2 448.2,153.8 448.2,151.4 448.3,153.5 448.3,153.1 448.4,151.3 448.4,150.6 448.4,152.2 448.5,152.4 448.5,153.5 448.6,152.3 448.6,152.1 448.6,152.7 448.7,151.8 448.7,150.5 448.8,151.7 448.8,154.7 448.8,150.5 448.9,151.2 448.9,153.7 449,150.8 449,153.4 449,151.6 449.1,151.4 449.1,152.9 449.2,151.7 449.2,151.7 449.2,151.8 449.3,153.8 449.3,151 449.4,152.1 449.4,150.7 449.4,150.7 449.5,151.6 449.5,153.7 449.6,150.1 449.6,151.8 449.6,152.1 449.7,152.2 449.7,152.2 449.8,150.4 449.8,153.5 449.8,151.4 449.9,152.9 449.9,153.2 450,151.9 450,151.3 450.1,152.2 450.1,150.9 450.1,149.6 450.2,151.3 450.2,152.4 450.3,152.2 450.3,152.4 450.3,150.6 450.4,152.4 450.4,154.1 450.5,153.7 450.5,151.4 450.5,152 450.6,153.5 450.6,153.9 450.7,151.3 450.7,153.3 450.7,151.7 450.8,150.4 450.8,150.8 450.9,152.5 450.9,151.3 450.9,153.7 451,152.1 451,152.8 451.1,154.5 451.1,151 451.1,152.4 451.2,151.7 451.2,152.4 451.3,149.7 451.3,150.8 451.3,152.6 451.4,150.4 451.4,151.3 451.5,150.2 451.5,153.8 451.5,151.8 451.6,153.1 451.6,152.7 451.7,153 451.7,152.2 451.7,154.2 451.8,152.3 451.8,153.4 451.9,151.3 451.9,152.2 451.9,151.6 452,151.6 452,151.9 452.1,152.8 452.1,151.9 452.2,153.6 452.2,151.8 452.2,152.1 452.3,152.2 452.3,151.1 452.4,151.6 452.4,149.8 452.4,150.7 452.5,151.5 452.5,151.5 452.6,151.7 452.6,150.1 452.6,152.8 452.7,151.2 452.7,153.3 452.8,152.3 452.8,153.1 452.8,151.4 452.9,151.8 452.9,153.2 453,154.1 453,155.3 453,153.2 453.1,151 453.1,153.5 453.2,152.3 453.2,153.2 453.2,151.7 453.3,153.5 453.3,151.1 453.4,153.1 453.4,152.4 453.4,150.1 453.5,151.4 453.5,151.6 453.6,151.9 453.6,151.3 453.6,152.6 453.7,152.9 453.7,150.7 453.8,151.8 453.8,151.9 453.8,152.5 453.9,151.9 453.9,150.9 454,151.9 454,152.2 454,152.5 454.1,151.9 454.1,150.6 454.2,152.1 454.2,152 454.3,150.5 454.3,152 454.3,151.1 454.4,153.4 454.4,152.9 454.5,152.8 454.5,151.5 454.5,153.4 454.6,151.6 454.6,152.3 454.7,151.4 454.7,150.9 454.7,150.6 454.8,153.9 454.8,150.9 454.9,150.9 454.9,152.8 454.9,151.6 455,151.9 455,151.3 455.1,152.8 455.1,150 455.1,152.2 455.2,150.3 455.2,149.7 455.3,150.4 455.3,150.7 455.3,149.6 455.4,150.6 455.4,151 455.5,149.6 455.5,151.8 455.5,151.2 455.6,151.6 455.6,151.7 455.7,149.6 455.7,149.7 455.7,148.7 455.8,148.6 455.8,151.7 455.9,149.2 455.9,148.9 455.9,149 456,147.3 456,149 456.1,147.9 456.1,148.9 456.1,148.3 456.2,148.9 456.2,146.8 456.3,147.5 456.3,148.5 456.3,147.6 456.3,149.3 456.4,147.2 456.4,149.1 456.5,148.9 456.5,148.5 456.6,149.8 456.6,147.9 456.6,149.3 456.7,149.4 456.7,149.4 456.8,149.7 456.8,150.1 456.8,148.5 456.9,150.5 456.9,151.2 457,148.8 457,149.8 457,151.3 457.1,151.2 457.1,150.1 457.2,150.8 457.2,150.7 457.2,151.1 457.3,151.7 457.3,150.3 457.4,152.1 457.4,151.9 457.4,152.7 457.5,152 457.5,152.9 457.6,151.5 457.6,152.3 457.6,151.3 457.7,150.3 457.7,150.9 457.8,151.6 457.8,152 457.8,152.5 457.9,152 457.9,152.3 458,150.7 458,151.3 458,151.6 458.1,152.8 458.1,151.8 458.2,153 458.2,153.5 458.2,151.1 458.3,150.9 458.3,154.8 458.4,150.9 458.4,153.4 458.4,152.6 458.5,151.6 458.5,152 458.6,151.7 458.6,153.3 458.7,150.8 458.7,152.3 458.7,152.4 458.8,150.3 458.8,152 458.9,151.7 458.9,151.9 458.9,152.9 459,153.7 459,151.4 459.1,152.4 459.1,150.7 459.1,151.1 459.2,155.4 459.2,150 459.3,153.1 459.3,151.6 459.3,151.2 459.4,151.4 459.4,151.1 459.5,150.4 459.5,151.3 459.5,151.8 459.6,151.6 459.6,151.1 459.7,150.9 459.7,150.6 459.7,150.4 459.8,149.7 459.8,151.1 459.9,151.5 459.9,150 459.9,150.9 460,149.6 460,150.1 460.1,150.3 460.1,149.4 460.1,147.8 460.2,149.9 460.2,149 460.3,149.6 460.3,148.4 460.3,148.1 460.4,146.2 460.4,148.5 460.5,146.4 460.5,146.4 460.5,145.7 460.6,145.8 460.6,145.2 460.7,145.8 460.7,145.2 460.8,145 460.8,146.7 460.8,144.8 460.8,145.7 460.9,145.6 460.9,144.6 461,144.6 461,145.4 461,146.2 461.1,147.3 461.1,147 461.2,147.3 461.2,147.4 461.2,148.6 461.3,148.4 461.3,148.5 461.4,149.8 461.4,150.7 461.4,149.3 461.5,150.7 461.5,150.7 461.6,150.7 461.6,150.9 461.6,151.6 461.7,151.4 461.7,150.8 461.8,150.9 461.8,150.9 461.8,150.3 461.9,150 461.9,152 462,151.4 462,151.4 462,151.5 462.1,150.9 462.1,151.2 462.2,152.8 462.2,152.4 462.2,151.3 462.3,150.8 462.3,150.8 462.4,151.6 462.4,151.5 462.4,153.1 462.5,153 462.5,151.5 462.6,148.9 462.6,150.7 462.6,151.5 462.7,151.8 462.7,151.2 462.8,151 462.8,149.8 462.8,151.5 462.9,150.9 462.9,151.6 463,150.3 463,149.7 463.1,149.9 463.1,149.5 463.1,150.6 463.2,150.5 463.2,148.7 463.3,150.6 463.3,149.7 463.3,150.1 463.4,148.3 463.4,149.2 463.4,148.2 463.5,148.8 463.5,149.7 463.5,149 463.6,148.6 463.6,150.5 463.7,148.8 463.7,149.8 463.7,149.3 463.8,149.3 463.8,150.9 463.9,150.8 463.9,150.6 463.9,150 464,153.1 464,150.2 464.1,151.8 464.1,153.2 464.1,151.8 464.2,152.5 464.2,149.6 464.3,151.7 464.3,152.3 464.3,152.2 464.4,153.1 464.4,152.2 464.5,151.2 464.5,151.6 464.5,152.5 464.6,150.7 464.6,152.2 464.7,152.1 464.7,151.3 464.7,152 464.8,154.7 464.8,151.9 464.9,154.3 464.9,154 464.9,153 465,152.4 465,151.9 465.1,152.5 465.1,151.7 465.2,152 465.2,152.6 465.2,154 465.3,151.7 465.3,153.5 465.4,152.9 465.4,152.9 465.4,153 465.5,154.2 465.5,152.5 465.6,153.1 465.6,152.7 465.6,151.3 465.7,150.7 465.7,152 465.8,153.3 465.8,152.9 465.8,150.9 465.9,151 465.9,151.8 466,148.5 466,149.7 466,151.5 466.1,151.1 466.1,151.9 466.2,152.1 466.2,149.8 466.2,150.5 466.3,148.4 466.3,150 466.4,149.8 466.4,148.6 466.4,150.2 466.5,148.2 466.5,149.8 466.6,146.9 466.6,149.6 466.6,149.2 466.6,146.8 466.7,149.6 466.7,148.5 466.8,149.4 466.8,150.8 466.8,148.8 466.9,150 466.9,148.2 467,150.5 467,148.5 467,150.5 467.1,150.7 467.1,149.1 467.2,151.6 467.2,151.4 467.3,150.3 467.3,151.9 467.3,150.1 467.4,149.9 467.4,150.6 467.5,152.2 467.5,153.1 467.5,152 467.6,151.7 467.6,153.7 467.7,151.5 467.7,151.1 467.7,151.4 467.8,150.1 467.8,152.5 467.9,152 467.9,153.3 467.9,151.6 468,152.6 468,152.7 468.1,152.2 468.1,154.4 468.1,151.2 468.2,152.3 468.2,152.1 468.3,151.9 468.3,149.6 468.3,152.5 468.4,153.2 468.4,152.7 468.5,152.8 468.5,152.7 468.5,152.3 468.6,151.8 468.6,153.9 468.7,152.6 468.7,152.9 468.7,151.7 468.8,150.4 468.8,151.3 468.9,153.7 468.9,151.5 468.9,151.5 469,151.6 469,152.8 469.1,149.8 469.1,151.9 469.1,152.3 469.2,149.8 469.2,153.9 469.3,150.5 469.3,150.8 469.4,151.4 469.4,152.4 469.4,150.3 469.5,150.5 469.5,149.9 469.6,151.3 469.6,151.7 469.6,151.9 469.7,153.4 469.7,151 469.8,151.1 469.8,150.9 469.8,153.3 469.9,152.4 469.9,151.7 470,151.8 470,152.3 470,150.9 470.1,149.6 470.1,152 470.2,151.5 470.2,152 470.2,152.2 470.3,151.3 470.3,150 470.4,149.8 470.4,150.1 470.4,148.8 470.5,148.8 470.5,149.1 470.6,148.4 470.6,148.4 470.6,148 470.7,148.4 470.7,147.1 470.8,147.7 470.8,146.2 470.8,147 470.9,146.1 470.9,146.3 471,146.5 471,145.1 471,145.4 471.1,144.8 471.1,144.7 471.2,143.4 471.2,145 471.2,144.8 471.2,145 471.3,144 471.3,145.1 471.4,145.9 471.4,144.9 471.4,145.5 471.5,146.7 471.5,147.8 471.6,146.3 471.6,147.2 471.7,147.9 471.7,147.6 471.7,148.7 471.8,150.3 471.8,149.1 471.9,149.7 471.9,148.5 471.9,149.4 472,148.5 472,150.2 472.1,150.9 472.1,151.3 472.1,150.7 472.2,151.8 472.2,150 472.3,150.9 472.3,150.6 472.3,151.3 472.4,151 472.4,151 472.5,152.4 472.5,152.7 472.5,152.1 472.6,150.3 472.6,152.7 472.7,151.3 472.7,149.8 472.7,150.8 472.8,149.5 472.8,150 472.9,148.6 472.9,149.4 472.9,151.9 473,151.1 473,152.2 473.1,151.5 473.1,151.9 473.1,151.6 473.2,149.3 473.2,149.9 473.3,149.3 473.3,148.8 473.3,148.1 473.4,148.6 473.4,150.3 473.5,147.9 473.5,148.8 473.5,150 473.6,148.7 473.6,149.2 473.7,149.2 473.7,147.9 473.7,149 473.8,148.6 473.8,149 473.8,148 473.9,149.9 473.9,149.2 474,148.8 474,149.8 474,150.1 474.1,150.7 474.1,148.6 474.2,149.1 474.2,149.7 474.2,150.4 474.3,149.9 474.3,150.5 474.4,152.6 474.4,151.7 474.4,150.9 474.5,150.5 474.5,153.5 474.6,151 474.6,150.2 474.6,151.2 474.7,150.6 474.7,152.1 474.8,152.1 474.8,152.6 474.8,152.4 474.9,151.2 474.9,152.3 475,151.3 475,151.8 475,152.9 475.1,150.7 475.1,153.6 475.2,152 475.2,153.1 475.2,153.2 475.3,152 475.3,151.1 475.4,151 475.4,151.8 475.4,153.3 475.5,151.5 475.5,153.6 475.6,153.7 475.6,153.1 475.6,153.6 475.7,153.1 475.7,151.7 475.8,152.7 475.8,151.9 475.9,154 475.9,152.3 475.9,151.9 476,152.2 476,153.3 476.1,151.2 476.1,153.3 476.1,151.4 476.2,152.3 476.2,153.5 476.3,151.8 476.3,151.9 476.3,151.6 476.4,152.7 476.4,152.5 476.5,150.6 476.5,152.1 476.5,151.2 476.6,151.7 476.6,153.1 476.7,150.7 476.7,151.9 476.7,152.3 476.8,152.5 476.8,153.4 476.9,152.8 476.9,152.6 476.9,151.5 477,152.5 477,152.5 477.1,153.6 477.1,151.8 477.1,153.3 477.2,152.9 477.2,152.4 477.3,153.7 477.3,152.5 477.3,152.3 477.4,151.2 477.4,152.2 477.5,153.3 477.5,152.2 477.5,152.2 477.6,154 477.6,152.6 477.7,152.3 477.7,152.1 477.7,154.8 477.8,152.3 477.8,152.6 477.9,151.9 477.9,152.1 478,151.9 478,153.2 478,152.1 478.1,152.2 478.1,150 478.2,150.4 478.2,151.3 478.2,152.5 478.3,150.5 478.3,149.9 478.4,151.3 478.4,150.4 478.4,150.7 478.5,150 478.5,149.9 478.6,150.2 478.6,149.5 478.6,147.9 478.7,148.2 478.7,147.1 478.8,148.1 478.8,147.8 478.8,146.6 478.9,148.1 478.9,147 479,146.5 479,147.2 479,145.4 479.1,147.4 479.1,146.9 479.2,146.6 479.2,146.1 479.2,146 479.2,146 479.3,146.1 479.3,147.6 479.4,146.7 479.4,147.9 479.4,146.3 479.5,146.7 479.5,148.6 479.6,147.2 479.6,147.5 479.6,148.8 479.7,148.1 479.7,148.4 479.8,148.3 479.8,149.4 479.8,148.6 479.9,149.3 479.9,151.2 480,150.2 480,148.8 480,148.2 480.1,149.1 480.1,150.1 480.2,150.3 480.2,151.8 480.3,152.8 480.3,150.6 480.3,154.2 480.4,152.2 480.4,150.5 480.5,151.1 480.5,153.1 480.5,151.5 480.6,150.3 480.6,152.3 480.7,151.1 480.7,150.3 480.7,152.8 480.8,152.1 480.8,152.4 480.9,153.2 480.9,152.9 480.9,152.8 481,152 481,151.4 481.1,151.4 481.1,151.6 481.1,153.2 481.2,153.5 481.2,151.6 481.3,152.4 481.3,153.1 481.3,151.5 481.4,152.4 481.4,152.4 481.5,153.5 481.5,153.1 481.5,151.6 481.6,152.1 481.6,153.4 481.7,152.5 481.7,151.4 481.7,152.4 481.8,152 481.8,154.2 481.9,152.6 481.9,152.7 481.9,152.7 482,150.3 482,152.1 482.1,152.4 482.1,151.8 482.1,153.2 482.2,152.7 482.2,153.3 482.3,152.3 482.3,153.1 482.4,154.2 482.4,152.6 482.4,152.9 482.5,153.7 482.5,151.8 482.6,150.3 482.6,154.5 482.6,151.8 482.7,150.3 482.7,150.8 482.8,150.3 482.8,150.2 482.8,151.5 482.9,150.1 482.9,150.4 483,151.4 483,152 483,148.7 483.1,149.4 483.1,150.1 483.2,150.7 483.2,151.3 483.2,149.2 483.3,149.1 483.3,149.4 483.4,148.5 483.4,147.5 483.4,147.6 483.5,147.2 483.5,148.2 483.6,146.3 483.6,146.9 483.6,146.7 483.7,146.5 483.7,146.9 483.7,146 483.8,146.4 483.8,146.4 483.8,145.9 483.9,145.9 483.9,147 484,147.8 484,146.9 484,148.3 484.1,147.8 484.1,148 484.2,149.5 484.2,148.1 484.2,149.3 484.3,149.9 484.3,149.1 484.4,149.9 484.4,149.9 484.5,151.6 484.5,150.2 484.5,148.7 484.6,149.9 484.6,150.6 484.7,150.6 484.7,151.3 484.7,152.7 484.8,148.9 484.8,151.2 484.9,151.2 484.9,150.3 484.9,148.5 485,151.7 485,149.7 485.1,151.2 485.1,150.9 485.1,150.7 485.2,150.9 485.2,150.2 485.3,150.9 485.3,148.1 485.3,150.4 485.4,151.1 485.4,149.5 485.5,149.4 485.5,150 485.5,147.9 485.6,149 485.6,147.8 485.7,148.6 485.7,147.6 485.7,148.4 485.7,149.5 485.8,149.2 485.8,149.3 485.9,149.7 485.9,150.1 485.9,149.3 486,149.8 486,150 486.1,150.5 486.1,151 486.1,150 486.2,149.7 486.2,149.8 486.3,152.4 486.3,151 486.3,151.2 486.4,151 486.4,151.1 486.5,152 486.5,152.3 486.6,151.8 486.6,151.1 486.6,151.8 486.7,150.1 486.7,149.8 486.8,152.1 486.8,151.8 486.8,152.8 486.9,150.1 486.9,150.5 487,150.7 487,152.4 487,152.3 487.1,152.4 487.1,151.9 487.2,150.7 487.2,150.1 487.2,151.7 487.3,152.5 487.3,150.5 487.4,154.3 487.4,152.1 487.4,153.2 487.5,152 487.5,153.3 487.6,152.3 487.6,151.3 487.6,152.6 487.7,151.5 487.7,153.7 487.8,152.4 487.8,151.9 487.8,151.7 487.9,151.5 487.9,151 488,149 488,150.9 488,152.2 488.1,150.9 488.1,150.6 488.2,152.6 488.2,151.6 488.2,151 488.3,152.5 488.3,152 488.4,153.4 488.4,153.4 488.4,150.6 488.5,150.9 488.5,150.5 488.6,153.4 488.6,153 488.6,153.2 488.7,152.1 488.7,153.6 488.8,154.1 488.8,150.1 488.9,151.4 488.9,152.6 488.9,152.1 489,151.3 489,153.1 489.1,151.9 489.1,151.7 489.1,151.6 489.2,151.5 489.2,152.8 489.3,151.8 489.3,150.8 489.3,150.7 489.4,151.4 489.4,152.5 489.5,150.6 489.5,150.5 489.5,150 489.6,150 489.6,150.1 489.7,150.4 489.7,150 489.7,150 489.8,148.9 489.8,149.3 489.9,149.4 489.9,148.5 489.9,148.3 490,149 490,148 490.1,148.5 490.1,147.8 490.1,148.9 490.2,148.5 490.2,146.4 490.2,147.6 490.3,148.3 490.3,148.8 490.3,147.3 490.4,148.7 490.4,147.9 490.5,148.4 490.5,149.5 490.5,147.4 490.6,149.5 490.6,148.6 490.7,149.3 490.7,148.4 490.7,148.4 490.8,150.8 490.8,151 490.9,148.8 490.9,150.5 491,151.8 491,149.8 491,150.5 491.1,151 491.1,152.4 491.2,151.3 491.2,152.3 491.2,151.4 491.3,151.8 491.3,152.3 491.4,152.3 491.4,151.1 491.4,150.7 491.5,152.5 491.5,152.5 491.6,151 491.6,152.9 491.6,151.9 491.7,151.2 491.7,152.6 491.8,152.9 491.8,153.1 491.8,152.4 491.9,152.7 491.9,152.6 492,152.4 492,155.4 492,153.5 492.1,151.3 492.1,153.5 492.2,153.2 492.2,152.5 492.2,151.1 492.3,151 492.3,153.9 492.4,153.1 492.4,153.3 492.4,152.2 492.5,152.4 492.5,153.2 492.6,151.6 492.6,150.7 492.6,152.3 492.7,151.1 492.7,152.2 492.8,153.2 492.8,152.7 492.8,150.3 492.9,153.4 492.9,153.2 493,151.9 493,152.4 493.1,152.4 493.1,150.9 493.1,151.8 493.2,154.1 493.2,153.4 493.3,152.4 493.3,152.1 493.3,151.9 493.4,152.7 493.4,152.9 493.5,154.3 493.5,152.4 493.5,152.1 493.6,153.7 493.6,152 493.7,150.5 493.7,152.3 493.7,151.6 493.8,153.1 493.8,153.4 493.9,150.9 493.9,153.3 493.9,153.7 494,153.1 494,153 494.1,151.3 494.1,152.9 494.1,152.4 494.2,152.8 494.2,153.6 494.3,153.1 494.3,151.1 494.3,151.5 494.4,152.8 494.4,152 494.5,153.1 494.5,151.9 494.5,152.3 494.6,151 494.6,152.6 494.7,152.8 494.7,153.6 494.7,153.8 494.8,153.2 494.8,152.9 494.9,152.8 494.9,152.7 494.9,151.4 495,152 495,154.4 495.1,153.2 495.1,153.1 495.1,152.7 495.2,153.4 495.2,152.8 495.3,152.2 495.3,152.4 495.4,152.9 495.4,151.4 495.4,152.5 495.5,153 495.5,151.3 495.6,153 495.6,152.3 495.6,153.2 495.7,151.7 495.7,153.4 495.8,152.9 495.8,151.9 495.8,151.5 495.9,152 495.9,150.7 496,151.2 496,150.7 496,150.8 496.1,150 496.1,150.2 496.2,151.8 496.2,151 496.2,151.2 496.3,151.5 496.3,151.4 496.4,150.7 496.4,153.2 496.4,151 496.5,150.6 496.5,151.1 496.6,152.2 496.6,150.6 496.6,150.3 496.7,150.3 496.7,151.4 496.8,149.1 496.8,150.3 496.8,150 496.9,149.7 496.9,148.7 497,150.2 497,150 497,148.9 497.1,148.9 497.1,149.1 497.2,148.8 497.2,147.6 497.2,146.5 497.3,146.8 497.3,148.9 497.4,147 497.4,147.6 497.5,147 497.5,146.9 497.5,146.9 497.6,146.9 497.6,146.6 497.6,146.3 497.7,146.2 497.7,146.7 497.7,146.8 497.8,145.5 497.8,146.3 497.9,146.6 497.9,146.9 497.9,146.8 498,145.8 498,146.6 498.1,145.8 498.1,148.1 498.1,147.9 498.2,148.2 498.2,149.1 498.3,147.5 498.3,147.4 498.3,147.9 498.4,147.6 498.4,149 498.5,149.1 498.5,148.5 498.5,149.8 498.6,149.2 498.6,148.3 498.6,148.3 498.7,148.5 498.7,148.9 498.7,150.2 498.8,150.1 498.8,149.4 498.9,149.2 498.9,149.3 498.9,148.6 499,148.1 499,149.6 499.1,149 499.1,149.1 499.1,148.8 499.2,149.5 499.2,150.6 499.3,150.5 499.3,150.7 499.3,150.4 499.4,150.3 499.4,151 499.5,150.8 499.5,150.6 499.6,150.3 499.6,150.9 499.6,150.5 499.7,151.3 499.7,151.3 499.8,149.9 499.8,149.9 499.8,149.7 499.9,151.5 499.9,152 500,150.7 500,151.2 500,152 500.1,152.1 500.1,153.2 500.2,150.4 500.2,150.9 500.2,150.6 500.3,149.7 500.3,151.6 500.4,152.6 500.4,150.8 500.4,151.1 500.5,152.4 500.5,152.1 500.6,153.1 500.6,151.5 500.6,150.9 500.7,152.1 500.7,151.7 500.8,152 500.8,152.2 500.8,151.6 500.9,151.9 500.9,151.3 501,151 501,152 501,151.3 501.1,150.9 501.1,152.5 501.2,152.2 501.2,152.7 501.2,152.5 501.3,152.3 501.3,152.6 501.4,153.1 501.4,152.7 501.4,153.3 501.5,152.1 501.5,153.9 501.6,153.5 501.6,152.2 501.7,152.5 501.7,151.9 501.7,153.2 501.8,150.3 501.8,153.6 501.9,152.6 501.9,151.9 501.9,153.9 502,150.8 502,150.2 502.1,153.1 502.1,153.2 502.1,152 502.2,151.6 502.2,152.2 502.3,153.2 502.3,153.4 502.3,153.1 502.4,152.6 502.4,151.9 502.5,152.2 502.5,150.9 502.5,152 502.6,152.6 502.6,151.9 502.7,152.2 502.7,152.4 502.7,153.6 502.8,153.1 502.8,153 502.9,152.5 502.9,152.1 502.9,151.4 503,152.3 503,151.6 503.1,152.4 503.1,153 503.1,153.1 503.2,152.4 503.2,152.9 503.3,152.9 503.3,152.6 503.3,152.2 503.4,153.5 503.4,155 503.5,153.9 503.5,152.9 503.5,153.1 503.6,152.8 503.6,153.6 503.7,154.8 503.7,151.8 503.7,154 503.8,154 503.8,152.2 503.9,153 503.9,152.3 504,153.2 504,151.9 504,151.5 504.1,153.2 504.1,150.8 504.2,153.4 504.2,153.5 504.2,151.6 504.3,151.8 504.3,152.6 504.4,151 504.4,153.9 504.4,154 504.5,150.4 504.5,153.2 504.6,152.3 504.6,150.9 504.6,151.3 504.7,151.3 504.7,151.1 504.8,153.5 504.8,153.5 504.8,152.7 504.9,152.6 504.9,153.3 505,155.4 505,154.2 505,154.4 505.1,152.4 505.1,153.2 505.2,153.3 505.2,153.7 505.2,153.3 505.3,154.7 505.3,153 505.4,152.7 505.4,152.1 505.4,152.9 505.5,153.6 505.5,151.8 505.6,152.9 505.6,151.8 505.6,152 505.7,151.6 505.7,153 505.8,152 505.8,150.6 505.8,153.9 505.9,152.8 505.9,152.5 506,152 506,152.3 506.1,153 506.1,150.9 506.1,152.1 506.2,151.7 506.2,152.2 506.3,152.5 506.3,152.9 506.3,153.8 506.4,150.9 506.4,151.1 506.5,151.2 506.5,151.1 506.5,152.4 506.6,152.1 506.6,153.1 506.7,152.3 506.7,154.1 506.7,155.4 506.8,155.4 506.8,154.3 506.9,152.7 506.9,152.4 506.9,152.3 507,151.9 507,153.1 507.1,153.5 507.1,153.4 507.1,151.6 507.2,153.7 507.2,153.6 507.3,151.8 507.3,153.1 507.3,154.1 507.4,153 507.4,152.1 507.5,151.2 507.5,152 507.5,153 507.6,152 507.6,150.9 507.7,151.7 507.7,153.5 507.7,154 507.8,153.9 507.8,152.1 507.9,152.2 507.9,152.8 507.9,151.7 508,153.2 508,153.3 508.1,152.6 508.1,152 508.2,155.2 508.2,151 508.2,152 508.3,153.6 508.3,153.2 508.4,153.4 508.4,154.6 508.4,153.9 508.5,152.9 508.5,153.5 508.6,153.6 508.6,153.4 508.6,152.8 508.7,153.9 508.7,153.7 508.8,154.9 508.8,155.1 508.8,153.4 508.9,153.9 508.9,154.2 509,151.9 509,154.1 509,152.6 509.1,152.2 509.1,150.4 509.2,153.3 509.2,152.9 509.2,154.3 509.3,153.2 509.3,152.1 509.4,151.4 509.4,152.2 509.4,153.1 509.5,152.1 509.5,154.2 509.6,152.3 509.6,153.8 509.6,154.6 509.7,152.5 509.7,152.2 509.8,154.1 509.8,151.6 509.8,153.5 509.9,155.7 509.9,153.4 510,154.4 510,154.7 510,153.7 510.1,153.6 510.1,154.2 510.2,153.5 510.2,152.4 510.3,152.5 510.3,153.1 510.3,153 510.4,152.1 510.4,152.1 510.5,152.3 510.5,152.1 510.5,153.6 510.6,154.2 510.6,154.7 510.7,152.5 510.7,152.9 510.7,154 510.8,153.5 510.8,153.2 510.9,153.3 510.9,153.8 510.9,153.1 511,154.1 511,154.8 511.1,152.3 511.1,153.1 511.1,153.1 511.2,151.7 511.2,152.9 511.3,152.1 511.3,152.8 511.3,151.7 511.4,154.1 511.4,153.2 511.5,153.5 511.5,153.6 511.5,152.2 511.6,152.4 511.6,153 511.7,153.5 511.7,155.2 511.7,153.2 511.8,155.2 511.8,150.5 511.9,149.8 511.9,152.6 511.9,150.6 512,154.5 512,153.2 512.1,153 512.1,153.7 512.1,154.1 512.2,152.9 512.2,151.9 512.3,150.7 512.3,151.5 512.3,151.5 512.4,153.9 512.4,154.4 512.5,152.7 512.5,152.2 512.6,152.9 512.6,151.9 512.6,151.3 512.7,150.4 512.7,150.2 512.8,152.7 512.8,152.1 512.8,151.2 512.9,150.6 512.9,151.8 513,151.5 513,151.4 513,151 513.1,151.6 513.1,151.1 513.2,151.1 513.2,151.9 513.2,150.1 513.3,150.6 513.3,150.3 513.4,149.3 513.4,149.8 513.4,150.6 513.5,150.1 513.5,150.1 513.5,152.1 513.6,150.9 513.6,150.5 513.6,150.9 513.7,151.8 513.7,150.7 513.8,149.9 513.8,149.4 513.8,150.3 513.9,151.4 513.9,151.4 514,151.2 514,151.6 514,151.5 514.1,153.2 514.1,150.8 514.2,152.5 514.2,152.2 514.2,153.8 514.3,152.7 514.3,151.8 514.4,151.8 514.4,152.4 514.4,152.7 514.5,151.7 514.5,152.5 514.6,150.3 514.6,152.6 514.7,151.5 514.7,152.3 514.7,153.6 514.8,152.6 514.8,152.1 514.9,152.4 514.9,152.9 514.9,152.3 515,153.1 515,155 515.1,155.7 515.1,153.9 515.1,153.6 515.2,152.1 515.2,152.3 515.3,153.2 515.3,151.6 515.3,151.9 515.4,150.9 515.4,152.1 515.5,154.3 515.5,152.9 515.5,152.6 515.6,152.2 515.6,152.4 515.7,154.2 515.7,152.7 515.7,153 515.8,153 515.8,152 515.9,153.7 515.9,153.9 515.9,152.1 516,151.7 516,151.6 516.1,151.5 516.1,151.6 516.1,151.9 516.2,153.7 516.2,154 516.3,154.4 516.3,152.3 516.3,152.4 516.4,151.8 516.4,152.2 516.5,152.6 516.5,152.9 516.5,153.2 516.6,152.2 516.6,151.5 516.7,152 516.7,153.2 516.8,152.9 516.8,155.3 516.8,152.1 516.9,151.9 516.9,152.4 517,152.6 517,154.6 517,152.2 517.1,156.8 517.1,153.6 517.2,155.4 517.2,154.4 517.2,153.3 517.3,154.2 517.3,153.4 517.4,152.8 517.4,152.6 517.4,152.2 517.5,153.1 517.5,152.9 517.6,152.9 517.6,154.1 517.6,154.7 517.7,151.9 517.7,152.5 517.8,154 517.8,153.8 517.8,152 517.9,152.7 517.9,154.7 518,152.6 518,151.6 518,154.5 518.1,153.8 518.1,154.4 518.2,153.1 518.2,152.2 518.2,153.7 518.3,154.5 518.3,152.1 518.4,153.7 518.4,154.9 518.4,152.2 518.5,150.5 518.5,152.4 518.6,152.3 518.6,152.2 518.6,152.4 518.7,153 518.7,152.8 518.8,153.4 518.8,152.7 518.9,150.7 518.9,152.6 518.9,153 519,154 519,152.6 519.1,153.8 519.1,153.3 519.1,153.7 519.2,154.1 519.2,151.7 519.3,150.9 519.3,152.8 519.3,154.7 519.4,153 519.4,154.6 519.5,150.8 519.5,154.3 519.5,150.7 519.6,153 519.6,154.1 519.7,152.5 519.7,153.7 519.7,154.3 519.8,152.6 519.8,154 519.9,154.1 519.9,153.3 519.9,154.4 520,153.7 520,152.2 520.1,150.9 520.1,151.2 520.1,153 520.2,152 520.2,152.1 520.3,152.4 520.3,152.1 520.3,151.4 520.4,152.5 520.4,154 520.5,152.9 520.5,153 520.5,152.7 520.6,153.2 520.6,153.9 520.7,154.3 520.7,151.7 520.7,151.4 520.8,152.1 520.8,152.6 520.9,151 520.9,151.7 520.9,151.3 521,153.1 521,153.2 521.1,153.4 521.1,153.5 521.2,153.7 521.2,153.8 521.2,153 521.3,154 521.3,153.9 521.4,153.6 521.4,152.9 521.4,154.8 521.5,153 521.5,152.1 521.6,152.3 521.6,151 521.6,154 521.7,151.9 521.7,152.4 521.8,154.3 521.8,153.9 521.8,153.6 521.9,154.6 521.9,154.2 522,153.9 522,153.5 522,153.8 522.1,152.9 522.1,150.4 522.2,152.6 522.2,151.9 522.2,153.8 522.3,153.3 522.3,152.3 522.4,151.9 522.4,151.8 522.4,152.1 522.5,151.2 522.5,153.9 522.6,152.7 522.6,151.4 522.6,151.6 522.7,153.6 522.7,155.2 522.8,153.3 522.8,153 522.8,152.2 522.9,150.4 522.9,151.5 523,151.3 523,150.7 523,151.9 523.1,151.9 523.1,152.6 523.2,152.7 523.2,152.1 523.2,153.4 523.3,152.2 523.3,152.3 523.3,152.7 523.4,152.4 523.4,152.3 523.5,150.1 523.5,152.2 523.5,151.9 523.6,152.8 523.6,151.4 523.7,151.9 523.7,153.8 523.7,152.2 523.8,150.8 523.8,154.4 523.9,150.7 523.9,152.8 523.9,150.7 524,153.2 524,151.4 524.1,151.7 524.1,152.1 524.1,151.6 524.2,153 524.2,152.9 524.3,152.9 524.3,153.7 524.3,152.4 524.4,154.4 524.4,152.1 524.5,150.8 524.5,152.9 524.5,153.1 524.6,150.3 524.6,151.8 524.7,152.5 524.7,152.6 524.7,150.7 524.8,153 524.8,152.4 524.9,152.9 524.9,154.8 524.9,152.4 525,153.5 525,153.5 525.1,153.5 525.1,151.8 525.1,152.1 525.2,152.3 525.2,151.8 525.3,151 525.3,153.2 525.4,151.8 525.4,152.6 525.4,152.5 525.5,155.1 525.5,153.8 525.6,152.3 525.6,154.6 525.6,153.6 525.7,155.4 525.7,154.2 525.8,153.3 525.8,152.2 525.8,152.6 525.9,154 525.9,152.4 526,153.2 526,152.9 526,153.7 526.1,153.1 526.1,152.3 526.2,152.3 526.2,153.2 526.2,153.1 526.3,152.5 526.3,153.7 526.4,152.1 526.4,153.1 526.4,154 526.5,155.5 526.5,155.6 526.6,154.5 526.6,154.1 526.6,152.9 526.7,154 526.7,154.6 526.8,156.2 526.8,153.7 526.8,154.3 526.9,153 526.9,152.9 527,152.8 527,153.5 527,152 527.1,152.7 527.1,154.8 527.2,152.4 527.2,154 527.2,152.1 527.3,153.4 527.3,153.1 527.4,152.1 527.4,152.7 527.4,152.4 527.5,153.4 527.5,153.8 527.6,153.3 527.6,151.9 527.7,150.7 527.7,152.5 527.7,150.3 527.8,154.4 527.8,154.3 527.9,152.2 527.9,152.7 527.9,153.9 528,154 528,153 528.1,153.1 528.1,153.1 528.1,153.5 528.2,152.3 528.2,153.6 528.3,153.9 528.3,151.7 528.3,153.2 528.4,153.5 528.4,152.6 528.5,152.3 528.5,153.9 528.5,154.6 528.6,151.3 528.6,153.4 528.7,154.1 528.7,153 528.7,153.5 528.8,153.1 528.8,153.1 528.9,153.6 528.9,153.2 528.9,153.1 529,152.8 529,151.9 529.1,151.7 529.1,153.5 529.1,154.7 529.2,152.3 529.2,153 529.3,152.3 529.3,153.2 529.3,152.1 529.4,152 529.4,151.3 529.5,154.2 529.5,153.6 529.5,153.1 529.6,152.8 529.6,154.7 529.7,154.5 529.7,154.1 529.8,153.5 529.8,155.2 529.8,152.4 529.9,154.8 529.9,152.4 530,153 530,153.3 530,155.1 530.1,153.3 530.1,156.2 530.2,153.7 530.2,152.5 530.2,152.4 530.3,152.2 530.3,153.6 530.4,150.9 530.4,150.5 530.4,152.5 530.5,152.6 530.5,153.3 530.6,151.7 530.6,152.8 530.6,153 530.7,152 530.7,151.9 530.8,151.3 530.8,153.2 530.8,151.5 530.9,150.4 530.9,151.4 531,151.2 531,151.5 531,150.3 531.1,152.3 531.1,152.2 531.2,149.7 531.2,152.1 531.2,151.2 531.2,151.5 531.3,151.4 531.3,150.7 531.4,152.8 531.4,150.4 531.4,151.8 531.5,150.8 531.5,151.5 531.6,152 531.6,151.1 531.6,152.1 531.7,152.3 531.7,151.7 531.8,151.2 531.8,152.7 531.9,151 531.9,153.1 531.9,154.2 532,153 532,153.4 532.1,153.3 532.1,153 532.1,152.2 532.2,153.8 532.2,151.5 532.3,151.2 532.3,152.7 532.3,152.1 532.4,155.6 532.4,153.9 532.5,152.9 532.5,152.8 532.5,153.7 532.6,153.6 532.6,154.3 532.7,153.7 532.7,154.2 532.7,155.2 532.8,154.3 532.8,152.9 532.9,154 532.9,153.6 532.9,153.7 533,154 533,152.2 533.1,151.9 533.1,153.5 533.1,153.8 533.2,153.7 533.2,151.5 533.3,151.3 533.3,155.4 533.3,153.3 533.4,153.8 533.4,153.8 533.5,152.5 533.5,152.6 533.5,152.3 533.6,153.6 533.6,153 533.7,155.3 533.7,151.5 533.7,153.1 533.8,154.4 533.8,153.8 533.9,153.6 533.9,153.4 534,155.2 534,152.9 534,152.9 534.1,153.4 534.1,153.6 534.2,154.6 534.2,152.3 534.2,154.7 534.3,153.7 534.3,154.1 534.4,153.9 534.4,153.7 534.4,154 534.5,152.9 534.5,152.6 534.6,155.2 534.6,154.6 534.6,153.9 534.7,154.5 534.7,152.9 534.8,153.8 534.8,154 534.8,151.6 534.9,152.6 534.9,152 535,152.4 535,152.3 535,152.2 535.1,152.9 535.1,152.4 535.2,153.1 535.2,153.5 535.2,152.3 535.3,152 535.3,153.6 535.4,154.7 535.4,152.7 535.4,154.3 535.5,152.8 535.5,151.2 535.6,153.1 535.6,154.4 535.6,153.6 535.7,155.6 535.7,151.9 535.8,152.4 535.8,151.1 535.8,151 535.9,153.5 535.9,155.6 536,153.8 536,153.6 536,154.2 536.1,153 536.1,152.3 536.2,151.8 536.2,152.8 536.3,153.3 536.3,152.9 536.3,153 536.4,153.9 536.4,151.6 536.5,152.3 536.5,152.3 536.5,152.4 536.6,153.1 536.6,153.9 536.7,152.9 536.7,152.1 536.7,153.5 536.8,153.5 536.8,155.6 536.9,153.1 536.9,155.4 536.9,153.9 537,154.3 537,153.9 537.1,153.3 537.1,153.2 537.1,154 537.2,154.2 537.2,152.7 537.3,152.7 537.3,152.1 537.3,153.5 537.4,153.6 537.4,153.2 537.5,154.2 537.5,152.8 537.5,153 537.6,154.5 537.6,155.3 537.7,153.1 537.7,153.3 537.7,153.7 537.8,152.7 537.8,152.9 537.9,152.9 537.9,154.3 537.9,153.3 538,154.5 538,152.5 538.1,153.1 538.1,153.2 538.1,153.1 538.2,153.3 538.2,150.8 538.3,150.7 538.3,152.9 538.4,151.7 538.4,153.4 538.4,152.3 538.5,153.7 538.5,153.7 538.6,152.9 538.6,152.6 538.6,153.8 538.7,154.1 538.7,155.2 538.8,156.5 538.8,152.4 538.8,153.6 538.9,152.3 538.9,154.5 539,152.4 539,153 539,152.9 539.1,150.7 539.1,153.2 539.2,151.7 539.2,155 539.2,152.7 539.3,153.1 539.3,154.2 539.4,154.2 539.4,153.6 539.4,152.7 539.5,153.9 539.5,153.1 539.6,152.6 539.6,152.4 539.6,154.1 539.7,152.8 539.7,154.4 539.8,153.6 539.8,153.5 539.8,152.4 539.9,153.4 539.9,155 540,153.1 540,154.5 540,151.8 540.1,154.2 540.1,152.4 540.2,151.9 540.2,154.4 540.2,154.4 540.3,150.4 540.3,153 540.4,153 540.4,154.3 540.5,153.1 540.5,151.9 540.5,155.8 540.6,155.2 540.6,151.9 540.7,153.7 540.7,153.3 540.7,151.7 540.8,154.5 540.8,154.8 540.9,152.1 540.9,154.5 540.9,153.3 541,152.6 541,153.5 541.1,153.5 541.1,153.9 541.1,154.4 541.2,152.8 541.2,153.7 541.3,155.7 541.3,152.7 541.3,152.5 541.4,154.1 541.4,152.6 541.5,151.7 541.5,152.1 541.5,152.3 541.6,152.8 541.6,151.6 541.7,152.1 541.7,152.8 541.7,152.9 541.8,154.4 541.8,152.7 541.9,151.1 541.9,155.8 541.9,153.9 542,153.2 542,153.2 542.1,152.5 542.1,153.1 542.1,151.5 542.2,153.7 542.2,155.1 542.3,153.4 542.3,153.6 542.3,153.6 542.4,153.9 542.4,152.9 542.5,153.3 542.5,154 542.6,152.8 542.6,153.9 542.6,155 542.7,152.7 542.7,154 542.8,152.6 542.8,155.1 542.8,152.3 542.9,152.6 542.9,152 543,153.9 543,152.5 543,154.7 543.1,152.6 543.1,153.7 543.2,155.1 543.2,153.5 543.2,151.9 543.3,151.6 543.3,152.5 543.4,153 543.4,152.7 543.4,153.6 543.5,153.1 543.5,152.7 543.6,152.1 543.6,152.8 543.6,153.6 543.7,154.1 543.7,154.5 543.8,152.8 543.8,153.6 543.8,154.4 543.9,153.7 543.9,152.6 544,152.8 544,152.9 544,153.4 544.1,154.3 544.1,152.2"/>
<path d="M311.6 157.1v-1.8 M311.6 4.7v1.8 M314.8 157.1v-1.8 M314.8 4.7v1.8 M318.1 157.1v-1.8 M318.1 4.7v1.8 M321.3 157.1v-1.8 M321.3 4.7v1.8 M324.5 157.1v-1.8 M324.5 4.7v1.8 M327.7 157.1v-1.8 M327.7 4.7v1.8 M331 157.1v-1.8 M331 4.7v1.8 M334.2 157.1v-3.6 M334.2 4.7v3.6 M337.4 157.1v-1.8 M337.4 4.7v1.8 M340.7 157.1v-1.8 M340.7 4.7v1.8 M343.9 157.1v-1.8 M343.9 4.7v1.8 M347.1 157.1v-1.8 M347.1 4.7v1.8 M350.3 157.1v-1.8 M350.3 4.7v1.8 M353.6 157.1v-1.8 M353.6 4.7v1.8 M356.8 157.1v-1.8 M356.8 4.7v1.8 M360 157.1v-1.8 M360 4.7v1.8 M363.3 157.1v-1.8 M363.3 4.7v1.8 M366.5 157.1v-3.6 M366.5 4.7v3.6 M369.7 157.1v-1.8 M369.7 4.7v1.8 M373 157.1v-1.8 M373 4.7v1.8 M376.2 157.1v-1.8 M376.2 4.7v1.8 M379.4 157.1v-1.8 M379.4 4.7v1.8 M382.6 157.1v-1.8 M382.6 4.7v1.8 M385.9 157.1v-1.8 M385.9 4.7v1.8 M389.1 157.1v-1.8 M389.1 4.7v1.8 M392.3 157.1v-1.8 M392.3 4.7v1.8 M395.6 157.1v-1.8 M395.6 4.7v1.8 M398.8 157.1v-3.6 M398.8 4.7v3.6 M402 157.1v-1.8 M402 4.7v1.8 M405.3 157.1v-1.8 M405.3 4.7v1.8 M408.5 157.1v-1.8 M408.5 4.7v1.8 M411.7 157.1v-1.8 M411.7 4.7v1.8 M414.9 157.1v-1.8 M414.9 4.7v1.8 M418.2 157.1v-1.8 M418.2 4.7v1.8 M421.4 157.1v-1.8 M421.4 4.7v1.8 M424.6 157.1v-1.8 M424.6 4.7v1.8 M427.9 157.1v-1.8 M427.9 4.7v1.8 M431.1 157.1v-3.6 M431.1 4.7v3.6 M434.3 157.1v-1.8 M434.3 4.7v1.8 M437.6 157.1v-1.8 M437.6 4.7v1.8 M440.8 157.1v-1.8 M440.8 4.7v1.8 M444 157.1v-1.8 M444 4.7v1.8 M447.2 157.1v-1.8 M447.2 4.7v1.8 M450.5 157.1v-1.8 M450.5 4.7v1.8 M453.7 157.1v-1.8 M453.7 4.7v1.8 M456.9 157.1v-1.8 M456.9 4.7v1.8 M460.2 157.1v-1.8 M460.2 4.7v1.8 M463.4 157.1v-3.6 M463.4 4.7v3.6 M466.6 157.1v-1.8 M466.6 4.7v1.8 M469.9 157.1v-1.8 M469.9 4.7v1.8 M473.1 157.1v-1.8 M473.1 4.7v1.8 M476.3 157.1v-1.8 M476.3 4.7v1.8 M479.5 157.1v-1.8 M479.5 4.7v1.8 M482.8 157.1v-1.8 M482.8 4.7v1.8 M486 157.1v-1.8 M486 4.7v1.8 M489.2 157.1v-1.8 M489.2 4.7v1.8 M492.5 157.1v-1.8 M492.5 4.7v1.8 M495.7 157.1v-3.6 M495.7 4.7v3.6 M498.9 157.1v-1.8 M498.9 4.7v1.8 M502.2 157.1v-1.8 M502.2 4.7v1.8 M505.4 157.1v-1.8 M505.4 4.7v1.8 M508.6 157.1v-1.8 M508.6 4.7v1.8 M511.9 157.1v-1.8 M511.9 4.7v1.8 M515.1 157.1v-1.8 M515.1 4.7v1.8 M518.3 157.1v-1.8 M518.3 4.7v1.8 M521.5 157.1v-1.8 M521.5 4.7v1.8 M524.8 157.1v-1.8 M524.8 4.7v1.8 M528 157.1v-3.6 M528 4.7v3.6 M531.2 157.1v-1.8 M531.2 4.7v1.8 M534.5 157.1v-1.8 M534.5 4.7v1.8 M537.7 157.1v-1.8 M537.7 4.7v1.8 M540.9 157.1v-1.8 M540.9 4.7v1.8 M308.6 152.5h1.8 M544.3 152.5h-1.8 M308.6 147.8h1.8 M544.3 147.8h-1.8 M308.6 143.1h1.8 M544.3 143.1h-1.8 M308.6 138.4h1.8 M544.3 138.4h-1.8 M308.6 133.7h3.6 M544.3 133.7h-3.6 M308.6 129h1.8 M544.3 129h-1.8 M308.6 124.3h1.8 M544.3 124.3h-1.8 M308.6 119.6h1.8 M544.3 119.6h-1.8 M308.6 114.9h1.8 M544.3 114.9h-1.8 M308.6 110.2h3.6 M544.3 110.2h-3.6 M308.6 105.5h1.8 M544.3 105.5h-1.8 M308.6 100.8h1.8 M544.3 100.8h-1.8 M308.6 96.1h1.8 M544.3 96.1h-1.8 M308.6 91.4h1.8 M544.3 91.4h-1.8 M308.6 86.7h3.6 M544.3 86.7h-3.6 M308.6 82h1.8 M544.3 82h-1.8 M308.6 77.3h1.8 M544.3 77.3h-1.8 M308.6 72.6h1.8 M544.3 72.6h-1.8 M308.6 67.9h1.8 M544.3 67.9h-1.8 M308.6 63.2h3.6 M544.3 63.2h-3.6 M308.6 58.5h1.8 M544.3 58.5h-1.8 M308.6 53.8h1.8 M544.3 53.8h-1.8 M308.6 49.1h1.8 M544.3 49.1h-1.8 M308.6 44.4h1.8 M544.3 44.4h-1.8 M308.6 39.7h3.6 M544.3 39.7h-3.6 M308.6 35h1.8 M544.3 35h-1.8 M308.6 30.3h1.8 M544.3 30.3h-1.8 M308.6 25.6h1.8 M544.3 25.6h-1.8 M308.6 20.9h1.8 M544.3 20.9h-1.8 M308.6 16.2h3.6 M544.3 16.2h-3.6 M308.6 11.5h1.8 M544.3 11.5h-1.8 M308.6 6.8h1.8 M544.3 6.8h-1.8" stroke="#585858" stroke-width="0.8" fill="none"/>
<text x="305.1" y="163.7" text-anchor="end" font-size="7.2" textLength="3.6" lengthAdjust="spacingAndGlyphs">0</text>
<text x="305.1" y="136.8" text-anchor="end" font-size="7.2" textLength="10.8" lengthAdjust="spacingAndGlyphs">100</text>
<text x="305.1" y="113.2" text-anchor="end" font-size="7.2" textLength="10.8" lengthAdjust="spacingAndGlyphs">200</text>
<text x="305.1" y="88.5" text-anchor="end" font-size="7.2" textLength="10.8" lengthAdjust="spacingAndGlyphs">300</text>
<text x="305.1" y="64.9" text-anchor="end" font-size="7.2" textLength="10.8" lengthAdjust="spacingAndGlyphs">400</text>
<text x="305.1" y="41.1" text-anchor="end" font-size="7.2" textLength="10.8" lengthAdjust="spacingAndGlyphs">500</text>
<text x="305.1" y="18" text-anchor="end" font-size="7.2" textLength="10.8" lengthAdjust="spacingAndGlyphs">600</text>
<text x="332.4" y="169.3" text-anchor="middle" font-size="7.2" textLength="12.9" lengthAdjust="spacingAndGlyphs">10.0</text>
<text x="364.5" y="169.3" text-anchor="middle" font-size="7.2" textLength="12.9" lengthAdjust="spacingAndGlyphs">20.0</text>
<text x="399" y="169.3" text-anchor="middle" font-size="7.2" textLength="12.9" lengthAdjust="spacingAndGlyphs">30.0</text>
<text x="431.5" y="169.3" text-anchor="middle" font-size="7.2" textLength="12.9" lengthAdjust="spacingAndGlyphs">40.0</text>
<text x="462.9" y="169.3" text-anchor="middle" font-size="7.2" textLength="12.9" lengthAdjust="spacingAndGlyphs">50.0</text>
<text x="494" y="169.3" text-anchor="middle" font-size="7.2" textLength="12.9" lengthAdjust="spacingAndGlyphs">60.0</text>
<text x="528.4" y="169.3" text-anchor="middle" font-size="7.2" textLength="12.9" lengthAdjust="spacingAndGlyphs">70.0</text>
<text x="426.4" y="179.3" text-anchor="middle" font-size="7.0" textLength="68" lengthAdjust="spacingAndGlyphs">Diffraction Angle (&#730;2&#952;)</text>
<g transform="translate(280.4 79.2) rotate(-90)"><text x="-24.05" y="2.4" font-size="6.6" textLength="21.9" lengthAdjust="spacingAndGlyphs">Intensity</text><text x="-0.75" y="2.4" font-size="6.6" textLength="24.3" lengthAdjust="spacingAndGlyphs">(counts)</text></g>
<text x="318.1" y="20.8" font-size="10" font-weight="bold" fill="#111" xml:space="preserve">( b )</text>
<text x="355.4" y="117.8" text-anchor="middle" font-size="7">Lct</text>
<text x="360.7" y="141.6" text-anchor="middle" font-size="7">Gbs</text>
<text x="367.2" y="131" text-anchor="middle" font-size="7">Hal</text>
<text x="376.6" y="126.9" text-anchor="middle" font-size="7">Kfs</text>
<text x="380.7" y="89.1" text-anchor="middle" font-size="7">Ant</text>
<text x="385.7" y="21.1" text-anchor="middle" font-size="7">Lct</text>
<text x="391.1" y="104.9" text-anchor="middle" font-size="7">Kfs</text>
<text x="399.4" y="113" text-anchor="middle" font-size="7">Bar</text>
<text x="402.2" y="129.6" text-anchor="middle" font-size="7">Aug</text>
<text x="410.8" y="123.9" text-anchor="middle" font-size="7">Ap</text>
<text x="417.6" y="137.7" text-anchor="middle" font-size="7">Hem</text>
<text x="442.3" y="110.9" text-anchor="middle" font-size="7">Dsp</text>
<text x="501.7" y="142.1" text-anchor="middle" font-size="7">Sme</text>
<rect x="34.9" y="186.2" width="235.7" height="152.5" fill="none" stroke="#585858" stroke-width="1"/>
<path d="M35.7 215.5V286" stroke="#3a3aec" stroke-width="1.1" fill="none"/>
<polyline fill="none" stroke="#0000ff" stroke-width="0.45" stroke-linejoin="round" filter="url(#soft)" points="35.2,210.6 35.2,228.4 35.3,223.8 35.3,230.9 35.4,232 35.4,238 35.4,239.6 35.5,249.4 35.5,254.4 35.6,255.1 35.6,258.3 35.6,262.7 35.7,266.1 35.7,268.1 35.8,270.9 35.8,276 35.8,278 35.9,282.9 35.9,277.1 36,283.8 36,281.8 36,283.9 36.1,281.4 36.1,281.8 36.2,284 36.2,281.9 36.2,287 36.3,282.7 36.3,289.9 36.4,285.4 36.4,284.8 36.5,286.7 36.5,287.8 36.5,290.5 36.6,290 36.6,289.1 36.7,289.5 36.7,292.3 36.7,293.8 36.8,288.3 36.8,292.8 36.9,290.5 36.9,292.4 36.9,289.7 37,291.3 37,291.5 37.1,291.8 37.1,294.2 37.1,292.2 37.2,290.5 37.2,293.4 37.3,291.8 37.3,294 37.3,291.6 37.4,293.6 37.4,293.9 37.5,295.2 37.5,292.7 37.5,298 37.6,298.5 37.6,299.8 37.7,296.5 37.7,297.6 37.7,297.2 37.8,294 37.8,294.3 37.9,296.1 37.9,302.8 37.9,299.4 38,300.2 38,301.3 38.1,300.8 38.1,295.9 38.1,300.3 38.2,300.2 38.2,297 38.3,298.1 38.3,298.1 38.3,301.1 38.4,298.9 38.4,297.7 38.5,302.7 38.5,301.6 38.6,296.3 38.6,297.1 38.6,300.4 38.7,301.7 38.7,299.9 38.8,302.9 38.8,301.5 38.8,296.9 38.9,300.7 38.9,298.8 39,300.6 39,299.4 39,297.6 39.1,303.5 39.1,302.4 39.2,302.4 39.2,300.5 39.2,297.6 39.3,299.1 39.3,304.4 39.4,302.1 39.4,302.9 39.4,302.4 39.5,295.1 39.5,302.4 39.6,300 39.6,302.4 39.6,299.8 39.7,300.7 39.7,301.3 39.8,302.1 39.8,300 39.8,304.1 39.9,303.3 39.9,304.3 40,298.2 40,301.6 40,303.6 40.1,302.4 40.1,296.7 40.2,301.8 40.2,299.2 40.2,300.5 40.3,301.5 40.3,303.5 40.4,303.3 40.4,301.6 40.4,305.8 40.5,295.5 40.5,299.1 40.6,301.8 40.6,302.4 40.7,304.4 40.7,301 40.7,304.4 40.8,302 40.8,305.4 40.9,301 40.9,296.5 40.9,301.1 41,298.7 41,300.8 41.1,297.9 41.1,298.6 41.1,299.7 41.2,301 41.2,300 41.3,300.5 41.3,303 41.3,300.7 41.4,300.6 41.4,304.3 41.5,302.9 41.5,296.3 41.5,301.5 41.6,303.1 41.6,299 41.7,305.9 41.7,310 41.7,308.5 41.8,305.9 41.8,301 41.9,299.7 41.9,306.7 41.9,300.3 42,306 42,302.9 42.1,302.2 42.1,302.4 42.1,304.4 42.2,304.1 42.2,306.4 42.3,303.1 42.3,300.9 42.3,300.8 42.4,297.1 42.4,300.7 42.5,302.1 42.5,299.8 42.5,302.7 42.6,305.8 42.6,307.3 42.7,300.3 42.7,302.9 42.8,303.1 42.8,305.7 42.8,304.4 42.9,300.8 42.9,303.6 43,306.5 43,304.7 43,301.3 43.1,306.2 43.1,308.4 43.2,307.9 43.2,304.7 43.2,300.5 43.3,303.8 43.3,305.1 43.4,306.8 43.4,305.1 43.4,305.3 43.5,306.3 43.5,305.3 43.6,306 43.6,300 43.6,308.8 43.7,303.9 43.7,306.4 43.8,303.1 43.8,305.6 43.8,305.4 43.9,304.4 43.9,304.8 44,303.2 44,307.9 44,303.7 44.1,306.6 44.1,305.7 44.2,303.6 44.2,304.6 44.2,303 44.3,311.9 44.3,309.1 44.4,306 44.4,309.2 44.4,308 44.5,304.8 44.5,306.5 44.6,310.6 44.6,306.9 44.6,306.2 44.7,307.1 44.7,307.6 44.8,307.5 44.8,311 44.8,308 44.9,310.2 44.9,308.1 45,306.8 45,309.3 45.1,306 45.1,306 45.1,308 45.2,307.4 45.2,311.6 45.3,311.8 45.3,311.5 45.3,311.5 45.4,308.7 45.4,315.8 45.5,312 45.5,314.5 45.5,311.2 45.6,309 45.6,308.9 45.7,308.1 45.7,309.2 45.7,315.1 45.8,312.2 45.8,306.6 45.9,307 45.9,310.7 45.9,313.5 46,306.4 46,314.4 46.1,310.4 46.1,311.9 46.1,311.2 46.2,314.6 46.2,312.6 46.3,310.2 46.3,313.5 46.3,314.6 46.4,312.7 46.4,311.8 46.5,312.5 46.5,314.5 46.5,312.3 46.6,313.6 46.6,315.5 46.7,312.9 46.7,313.4 46.7,313 46.8,316.7 46.8,315.2 46.9,312.3 46.9,312.1 46.9,313.4 47,313.6 47,312.8 47.1,312.5 47.1,311.3 47.2,313.8 47.2,315.8 47.2,313.4 47.3,317.9 47.3,313.9 47.4,315.2 47.4,315 47.4,314 47.5,315.5 47.5,318.6 47.6,315.4 47.6,316.3 47.6,314.7 47.7,313.3 47.7,317 47.8,314.4 47.8,312.6 47.8,316.1 47.9,314.2 47.9,317.5 48,317.6 48,314.8 48,319.8 48.1,317.5 48.1,317.1 48.2,313.3 48.2,312.7 48.2,316.2 48.3,315.6 48.3,320.6 48.4,314.7 48.4,315.3 48.4,313 48.5,319.9 48.5,314.7 48.6,316.9 48.6,321 48.6,318.1 48.7,318.2 48.7,316.2 48.8,317.6 48.8,319.4 48.8,317.1 48.9,318.3 48.9,319 49,318.3 49,316.6 49,316.8 49.1,314.2 49.1,319.3 49.2,315.9 49.2,317.7 49.3,316.3 49.3,319.6 49.3,319.8 49.4,318.6 49.4,318.1 49.5,319.5 49.5,318.3 49.5,320 49.6,317.3 49.6,319 49.7,320.7 49.7,318.7 49.7,319.3 49.8,316 49.8,318.7 49.9,318.4 49.9,319.6 49.9,317.1 50,318.1 50,318 50.1,321.5 50.1,322.2 50.1,319 50.2,318.6 50.2,317.1 50.3,322.2 50.3,319.2 50.3,321.3 50.4,320.2 50.4,319.5 50.5,317.4 50.5,320.8 50.5,321 50.6,321.2 50.6,318.9 50.7,316 50.7,323 50.7,319.9 50.8,320.8 50.8,318.4 50.9,319.4 50.9,318.1 50.9,321.8 51,320.9 51,321.9 51.1,323.2 51.1,321.6 51.1,322.2 51.2,316.7 51.2,319.6 51.3,322.2 51.3,321.9 51.4,317.8 51.4,321.4 51.4,319.8 51.5,320.4 51.5,319.8 51.6,320.2 51.6,321.7 51.6,321.9 51.7,323.7 51.7,320.6 51.8,320.4 51.8,321.9 51.8,320.9 51.9,323 51.9,317.4 52,322.1 52,324.2 52,324.4 52.1,323 52.1,321.3 52.2,326.8 52.2,321.1 52.2,323.1 52.3,322.1 52.3,320.5 52.4,321.7 52.4,324.6 52.4,324 52.5,320.1 52.5,320.3 52.6,321 52.6,322.3 52.6,321 52.7,321.7 52.7,323.4 52.8,324.4 52.8,321.2 52.8,321.9 52.9,320.9 52.9,323.5 53,320.2 53,323 53,319.6 53.1,320.9 53.1,322.7 53.2,323.9 53.2,322.7 53.2,322.7 53.3,321.6 53.3,323.6 53.4,324.6 53.4,322.7 53.4,319.1 53.5,319.6 53.5,323.9 53.6,323 53.6,322.4 53.7,324.6 53.7,323.3 53.7,323.5 53.8,325.1 53.8,324.4 53.9,324.8 53.9,323.9 53.9,326 54,323.8 54,325.1 54.1,324.4 54.1,325.1 54.1,316.7 54.2,320.8 54.2,320.7 54.3,320.9 54.3,322.5 54.3,322.9 54.4,322.4 54.4,323.1 54.5,322.8 54.5,321.2 54.5,329.5 54.6,324.8 54.6,323.5 54.7,325.4 54.7,324.4 54.7,321.3 54.8,323.3 54.8,320.6 54.9,323.7 54.9,324 54.9,326.2 55,328.3 55,325.8 55.1,324.8 55.1,325.3 55.1,326.2 55.2,322.9 55.2,324 55.3,324.3 55.3,325.8 55.3,322.7 55.4,322.8 55.4,323.8 55.5,325 55.5,323.6 55.5,321.5 55.6,320.3 55.6,324.4 55.7,325.2 55.7,327.4 55.8,320.3 55.8,326.7 55.8,323.7 55.9,324.2 55.9,322.5 56,326.2 56,328.2 56,325.5 56.1,325.4 56.1,323.9 56.2,328.8 56.2,326.6 56.2,326 56.3,328.4 56.3,326 56.4,324.6 56.4,326.2 56.4,328.9 56.5,326 56.5,325.4 56.6,326.1 56.6,324.1 56.6,327.1 56.7,323.6 56.7,322.7 56.8,325.4 56.8,324.5 56.8,325.3 56.9,322.5 56.9,325.5 57,327 57,326.4 57,326.3 57.1,325.2 57.1,326.8 57.2,325.9 57.2,324.8 57.2,320.9 57.3,324.7 57.3,327.5 57.4,325.5 57.4,327.9 57.4,329.5 57.5,327.1 57.5,326 57.6,324.1 57.6,322.7 57.6,323.3 57.7,324 57.7,326.2 57.8,325.9 57.8,326.5 57.9,324.6 57.9,328.1 57.9,327.5 58,324.8 58,325.6 58.1,326.8 58.1,325.8 58.1,326.1 58.2,326.4 58.2,325.4 58.3,326.8 58.3,327.5 58.3,328.2 58.4,329.9 58.4,326.3 58.5,322.9 58.5,324.5 58.5,326.3 58.6,325.8 58.6,327 58.7,324.8 58.7,321.9 58.7,323.2 58.8,325.2 58.8,326.5 58.9,328.5 58.9,329.8 58.9,326.9 59,327.2 59,325.1 59.1,325.9 59.1,327 59.1,325.4 59.2,321.7 59.2,328.1 59.3,324.9 59.3,325.5 59.3,326.4 59.4,327.4 59.4,326.5 59.5,326.2 59.5,325.4 59.5,325 59.6,325 59.6,327.2 59.7,325.5 59.7,327.2 59.7,328.4 59.8,325.5 59.8,328.4 59.9,329.1 59.9,327.3 59.9,329.4 60,325.8 60,325.7 60.1,327.1 60.1,326.8 60.2,324.2 60.2,324.4 60.2,325.2 60.3,325.2 60.3,326.9 60.4,326.9 60.4,327 60.4,326.9 60.5,326.7 60.5,328.4 60.6,324.5 60.6,328.5 60.6,327 60.7,326.2 60.7,327.7 60.8,329.2 60.8,327.7 60.8,323.3 60.9,326.1 60.9,326.8 61,326.2 61,328.3 61,330.3 61.1,327.2 61.1,325.3 61.2,325.7 61.2,327.8 61.2,330.3 61.3,326.4 61.3,328.5 61.4,327.1 61.4,325.7 61.4,326.7 61.5,326.8 61.5,327.8 61.6,328.1 61.6,327.9 61.6,329 61.7,328.5 61.7,332 61.8,330.4 61.8,329.1 61.8,329.2 61.9,328 61.9,329.1 62,325.9 62,325.4 62,330.3 62.1,327.6 62.1,331.4 62.2,328.6 62.2,331.7 62.3,327.8 62.3,328.7 62.3,328.4 62.4,326.5 62.4,326.5 62.5,327.3 62.5,328.7 62.5,327.8 62.6,329.8 62.6,330 62.7,326.9 62.7,328 62.7,328.8 62.8,327.8 62.8,330.2 62.9,327.7 62.9,329.9 62.9,328.1 63,327.6 63,327.6 63.1,327.7 63.1,328.5 63.1,328 63.2,327.9 63.2,325.6 63.3,326.9 63.3,331.3 63.3,329.4 63.4,327.8 63.4,329.9 63.5,329.6 63.5,331 63.5,331.6 63.6,329.2 63.6,329.4 63.7,328.6 63.7,330.9 63.7,330.4 63.8,329.2 63.8,329.8 63.9,328.1 63.9,330.4 63.9,327.9 64,328.2 64,328.9 64.1,328.3 64.1,328.9 64.1,328.7 64.2,328.6 64.2,330.8 64.3,329.5 64.3,328.5 64.4,331.6 64.4,328.1 64.4,329.4 64.5,329 64.5,328.4 64.6,328.7 64.6,327.8 64.6,329.6 64.7,327.1 64.7,329 64.8,327.6 64.8,327.8 64.8,330.1 64.9,330.4 64.9,329 65,328.2 65,328.4 65,330.6 65.1,327.9 65.1,329.9 65.2,330.5 65.2,327.3 65.2,327.4 65.3,330.7 65.3,327.8 65.4,331.3 65.4,328.8 65.4,326.1 65.5,327.7 65.5,328.2 65.6,328.3 65.6,329.9 65.6,328.2 65.7,328.2 65.7,329.6 65.8,327.7 65.8,326.8 65.8,326.3 65.9,326.1 65.9,326.7 66,326.6 66,324.7 66,324.9 66.1,321.8 66.1,316.7 66.2,312.4 66.2,309 66.2,305.2 66.3,301.1 66.3,301.2 66.3,301 66.4,303.4 66.4,308.2 66.5,312.9 66.5,317.7 66.5,320.1 66.6,325.1 66.6,324.4 66.7,325.5 66.7,325.1 66.7,325 66.8,325.7 66.8,325.7 66.9,327 66.9,327.4 66.9,327 67,329 67,330 67.1,328.8 67.1,331.5 67.1,330 67.2,326.6 67.2,328.8 67.3,328.9 67.3,329.7 67.3,331.3 67.4,329.3 67.4,330.1 67.5,329.6 67.5,330.2 67.5,330.7 67.6,333.4 67.6,328 67.7,328.2 67.7,328.9 67.7,329.4 67.8,328.5 67.8,327.2 67.9,328.5 67.9,331 67.9,331.3 68,333.6 68,330.1 68.1,329.1 68.1,328.5 68.1,329.6 68.2,328.9 68.2,331.5 68.3,329.5 68.3,330.2 68.3,330.5 68.4,332.5 68.4,328.5 68.5,333.8 68.5,330 68.5,331.3 68.6,329.4 68.6,331 68.7,328.8 68.7,329.7 68.8,330.9 68.8,330.1 68.8,331.3 68.9,329.5 68.9,328.2 69,328.9 69,329.9 69,328 69.1,330.5 69.1,328.1 69.2,328.8 69.2,327.8 69.2,326.9 69.3,327.9 69.3,325.8 69.4,324.8 69.4,324.8 69.4,322.8 69.5,321.2 69.5,320.7 69.5,321.6 69.6,320.5 69.6,321.9 69.6,323.1 69.7,325.2 69.7,325.7 69.8,328.4 69.8,328 69.8,327.8 69.9,328.1 69.9,329.8 70,328 70,329.1 70,327.3 70.1,329.8 70.1,330.5 70.2,329.3 70.2,330 70.2,329.7 70.3,331 70.3,333 70.4,331.9 70.4,331.4 70.4,329.6 70.5,330.5 70.5,331 70.6,330.1 70.6,329.8 70.6,325.6 70.7,328.2 70.7,330 70.8,332 70.8,331 70.9,331.6 70.9,329.4 70.9,327.1 71,329.8 71,331.8 71.1,330.1 71.1,332.7 71.1,329.4 71.2,329.9 71.2,331.2 71.3,333.3 71.3,331.3 71.3,328.7 71.4,330.9 71.4,330.8 71.5,329.7 71.5,330.1 71.5,331 71.6,330.2 71.6,329.9 71.7,330.8 71.7,329.5 71.7,329.7 71.8,332 71.8,329.9 71.9,330.2 71.9,329.6 71.9,329.6 72,331.7 72,332.8 72.1,330.7 72.1,331.5 72.1,330.7 72.2,331 72.2,332 72.3,329.7 72.3,330.2 72.3,329.2 72.4,328.2 72.4,328.6 72.5,329.3 72.5,332.2 72.5,333.7 72.6,331.6 72.6,332.4 72.7,332.2 72.7,329.3 72.7,332 72.8,328.2 72.8,328.5 72.9,326.9 72.9,329 73,327.9 73,331 73,330.3 73.1,328.6 73.1,332.1 73.2,329.3 73.2,332.2 73.2,334.4 73.3,328.4 73.3,333 73.4,327.5 73.4,332.5 73.4,331.3 73.5,329 73.5,329.5 73.6,332.2 73.6,330.4 73.6,330.6 73.7,329.9 73.7,332.7 73.8,331.5 73.8,331.3 73.8,330.5 73.9,331.4 73.9,331.5 74,331.2 74,328.1 74,331.3 74.1,329.9 74.1,333.2 74.2,328.1 74.2,329.5 74.2,332.2 74.3,328.9 74.3,327.8 74.4,328.9 74.4,330 74.4,329.1 74.5,331.3 74.5,330.8 74.6,331.3 74.6,330.7 74.6,332.7 74.7,329 74.7,331.4 74.8,332.4 74.8,331.8 74.8,331.2 74.9,330.9 74.9,329.4 75,330.9 75,331.9 75.1,330.3 75.1,329.9 75.1,332.2 75.2,332.2 75.2,331.4 75.3,330.6 75.3,332.3 75.3,330.9 75.4,331.8 75.4,328.9 75.5,332.1 75.5,331.6 75.5,330.4 75.6,329.5 75.6,328.6 75.7,331 75.7,329.7 75.7,328.9 75.8,328.6 75.8,332.3 75.9,333 75.9,331.2 75.9,330.6 76,328.5 76,330.5 76.1,329.5 76.1,331.5 76.1,329.1 76.2,328.4 76.2,330.3 76.3,331.6 76.3,329.4 76.3,330.5 76.4,330.5 76.4,331.6 76.5,329.4 76.5,331.5 76.5,330.2 76.6,329.4 76.6,329.3 76.7,332 76.7,329.9 76.7,332.4 76.8,330.8 76.8,332.3 76.9,330.7 76.9,331.1 76.9,331.8 77,329.7 77,330.1 77.1,329.8 77.1,329.8 77.1,331.7 77.2,329 77.2,327.4 77.3,330.3 77.3,331.5 77.4,332.3 77.4,330.6 77.4,332.3 77.5,328.7 77.5,330.2 77.6,331.2 77.6,330.1 77.6,332.4 77.7,333.3 77.7,330.9 77.8,328.2 77.8,331.3 77.8,328.9 77.9,332.9 77.9,331.1 78,329.8 78,328.2 78,332.8 78.1,330.5 78.1,331.8 78.2,330.2 78.2,331.3 78.2,330 78.3,331.5 78.3,331.5 78.4,330.6 78.4,329 78.4,330.6 78.5,330.5 78.5,331.3 78.6,328.4 78.6,333 78.6,333.3 78.7,331.3 78.7,329.3 78.8,329.5 78.8,329.6 78.8,329.9 78.9,330.6 78.9,330.6 79,331.4 79,329.1 79,331.4 79.1,330.1 79.1,330.1 79.2,331.4 79.2,331 79.2,330.7 79.3,328.9 79.3,329.8 79.4,330.7 79.4,328.9 79.5,327.5 79.5,328.7 79.5,329 79.6,330.1 79.6,330.6 79.7,329.2 79.7,329.1 79.7,328.2 79.8,326.3 79.8,327 79.9,326.1 79.9,324.3 79.9,321.2 80,319 80,312.1 80.1,301.7 80.1,290.7 80.1,276.5 80.2,266 80.2,263.6 80.2,263 80.3,273.3 80.3,287 80.3,299.8 80.4,308.6 80.4,316.9 80.5,321.7 80.5,324.6 80.5,325.9 80.6,325.2 80.6,327.8 80.7,328.8 80.7,327 80.7,327 80.8,327.7 80.8,327.7 80.9,329.9 80.9,331.2 80.9,330.7 81,329.6 81,331.9 81.1,329.8 81.1,328.4 81.1,330.3 81.2,327.2 81.2,329 81.3,331.9 81.3,331.4 81.3,330.1 81.4,328.8 81.4,329.1 81.5,331 81.5,330.5 81.6,328.7 81.6,328.8 81.6,332.2 81.7,331.2 81.7,331.6 81.8,332.9 81.8,329 81.8,331.6 81.9,331.6 81.9,332 82,329.8 82,329.3 82,329 82.1,328.7 82.1,332.2 82.2,328.6 82.2,327.5 82.2,331.1 82.3,330.9 82.3,329.7 82.4,328.1 82.4,329.6 82.4,329.5 82.5,325.7 82.5,329.9 82.6,334 82.6,330.5 82.6,329.7 82.7,328.2 82.7,327.4 82.8,325.6 82.8,330.6 82.8,331.2 82.9,331.9 82.9,327.2 83,330.3 83,332.2 83,332.6 83.1,329 83.1,329.6 83.2,329 83.2,331.4 83.2,332.3 83.3,330.5 83.3,331.2 83.4,330.1 83.4,330.4 83.4,330.8 83.5,329.4 83.5,330.3 83.6,329.7 83.6,328.9 83.7,331 83.7,329.8 83.7,329.6 83.8,329.4 83.8,329.5 83.9,329.4 83.9,329.2 83.9,329.7 84,328.5 84,330.2 84.1,331.5 84.1,328.9 84.1,332.8 84.2,330.3 84.2,328.4 84.3,328.8 84.3,331 84.3,328.9 84.4,329.1 84.4,331.3 84.5,329.6 84.5,330.7 84.5,330.6 84.6,329.8 84.6,333.1 84.7,329.1 84.7,328.3 84.7,330.7 84.8,332 84.8,331.2 84.9,328 84.9,330.9 84.9,329.5 85,327.4 85,331.4 85.1,329.4 85.1,329.9 85.1,329.5 85.2,329.3 85.2,331 85.3,329.4 85.3,329.6 85.3,327.6 85.4,328.2 85.4,329 85.5,327.4 85.5,329.9 85.5,327.4 85.6,328.6 85.6,325.9 85.7,329 85.7,328.1 85.7,330.7 85.8,329.2 85.8,331.2 85.9,330.5 85.9,331.2 86,329.5 86,328.9 86,328.6 86.1,329.2 86.1,330.3 86.2,329.7 86.2,328.8 86.2,331 86.3,331.4 86.3,329.1 86.4,326.8 86.4,329.9 86.4,330.3 86.5,331.5 86.5,330.8 86.6,331.1 86.6,331 86.6,327.5 86.7,327.4 86.7,329.2 86.8,328.9 86.8,328.7 86.8,329.7 86.9,329.6 86.9,328.1 87,328.8 87,327 87,324.8 87.1,330.5 87.1,330.1 87.2,331.1 87.2,330.2 87.2,328.7 87.3,328.2 87.3,329.4 87.4,330.2 87.4,328.4 87.4,329.5 87.5,328.3 87.5,330 87.6,329.7 87.6,329.7 87.6,332.3 87.7,326.8 87.7,329.9 87.8,327.7 87.8,327.4 87.8,329.1 87.9,329.6 87.9,326.6 88,328.2 88,326.2 88.1,325.1 88.1,324.9 88.1,324.4 88.2,321.2 88.2,318.3 88.3,318 88.3,316.1 88.3,318.4 88.3,319.1 88.4,321.3 88.4,322.6 88.5,322.5 88.5,324.9 88.5,326.8 88.6,328.5 88.6,326.7 88.7,328.3 88.7,329.7 88.7,326.6 88.8,330.1 88.8,328.5 88.9,327.9 88.9,327.5 88.9,326.8 89,328.2 89,331.1 89.1,328.7 89.1,329.8 89.1,331.7 89.2,330.3 89.2,330.1 89.3,332.6 89.3,328.9 89.3,329.4 89.4,329 89.4,330.6 89.5,329.8 89.5,327.9 89.5,329.4 89.6,329.6 89.6,330.3 89.7,329.4 89.7,327.4 89.7,329.8 89.8,327 89.8,326.7 89.9,329.1 89.9,332.3 89.9,329.8 90,327.9 90,330.6 90.1,330.7 90.1,330.1 90.2,325.6 90.2,329.7 90.2,331.6 90.3,327.9 90.3,327.2 90.4,327 90.4,327.4 90.4,327.3 90.5,329.3 90.5,326.8 90.6,329.2 90.6,328.8 90.6,330.2 90.7,327.6 90.7,329.2 90.8,329.4 90.8,328.9 90.8,330.8 90.9,329.6 90.9,327.9 91,328.4 91,327.8 91,328.3 91.1,329.6 91.1,328.3 91.2,325.5 91.2,328 91.2,330.2 91.3,327.7 91.3,328.7 91.4,328.7 91.4,328.5 91.4,330.8 91.5,328.4 91.5,329.1 91.6,328.8 91.6,330.6 91.6,330.7 91.7,330.1 91.7,326.3 91.8,331.1 91.8,327.2 91.8,328 91.9,326.3 91.9,329.4 92,328.7 92,329.6 92,326.8 92.1,329.6 92.1,328.5 92.2,329.6 92.2,328.7 92.2,330.2 92.3,329.1 92.3,328 92.4,327.4 92.4,329.2 92.5,329.3 92.5,326.6 92.5,328.4 92.6,327.7 92.6,328.5 92.7,330.1 92.7,328.3 92.7,328.3 92.8,325.4 92.8,331.6 92.9,329.8 92.9,328.7 92.9,330.8 93,332.7 93,328.9 93.1,329.4 93.1,330.6 93.1,330.9 93.2,330.1 93.2,328.9 93.3,329.1 93.3,329.4 93.3,327.8 93.4,326.6 93.4,329.1 93.5,326.1 93.5,328.6 93.5,327.6 93.6,328.4 93.6,328.5 93.7,328.6 93.7,331.6 93.7,328.7 93.8,325.5 93.8,328.7 93.9,327.8 93.9,330.3 93.9,329.3 94,326 94,328.3 94.1,330.1 94.1,330 94.1,331.6 94.2,327.7 94.2,328.8 94.3,327 94.3,326.4 94.3,328.4 94.4,329.7 94.4,330 94.5,328.7 94.5,327.8 94.6,325.6 94.6,329 94.6,327.1 94.7,329.1 94.7,328.4 94.8,326.7 94.8,327.6 94.8,329.7 94.9,330 94.9,327.4 95,328.7 95,327.8 95,328.7 95.1,323.8 95.1,324.5 95.2,327.5 95.2,325.2 95.2,327.2 95.3,328.6 95.3,327.2 95.4,325.2 95.4,328 95.4,325.3 95.5,325.1 95.5,325.3 95.6,327 95.6,325.6 95.6,328.7 95.7,325.3 95.7,323.4 95.8,323.8 95.8,323.4 95.8,324 95.9,321.8 95.9,321.5 96,318.2 96,315.9 96,314.6 96.1,311.7 96.1,310.4 96.2,309.1 96.2,309.9 96.2,310.7 96.2,311.8 96.3,312.3 96.3,313.3 96.4,315.7 96.4,318.5 96.4,319 96.5,321.4 96.5,321.2 96.6,324.8 96.6,323.1 96.7,324.6 96.7,325.6 96.7,326.7 96.8,325.2 96.8,327.5 96.9,326 96.9,324.8 96.9,327.2 97,326.8 97,326.3 97.1,327.3 97.1,323.2 97.1,326 97.2,325.6 97.2,326.5 97.3,328.4 97.3,326.3 97.3,327.4 97.4,329.2 97.4,328.2 97.5,328.7 97.5,327.5 97.5,324.4 97.6,325.1 97.6,328.5 97.7,326 97.7,325.6 97.7,325.9 97.8,325 97.8,330.2 97.9,327.5 97.9,328.8 97.9,326.5 98,327.9 98,326.3 98.1,326.1 98.1,330 98.1,328.5 98.2,328.4 98.2,327.6 98.3,329 98.3,325.3 98.3,324.1 98.4,326.6 98.4,326.4 98.5,332.1 98.5,330.3 98.5,327.1 98.6,326.8 98.6,325.3 98.7,324.2 98.7,326.4 98.8,327.7 98.8,327.8 98.8,325.9 98.9,329 98.9,322.9 99,328.7 99,328.1 99,326.1 99.1,325.4 99.1,326.1 99.2,325 99.2,328.2 99.2,328.4 99.3,327.1 99.3,328.9 99.4,325.8 99.4,325.1 99.4,325.1 99.5,328.8 99.5,326.7 99.6,329.2 99.6,325.5 99.6,326.9 99.7,324.8 99.7,324.4 99.8,327.9 99.8,325.4 99.8,326.2 99.9,325 99.9,329.5 100,329.5 100,329.1 100,330.9 100.1,327.7 100.1,328.4 100.2,327.2 100.2,326.5 100.2,325 100.3,328.2 100.3,325.2 100.4,324.6 100.4,326.4 100.4,326.3 100.5,327 100.5,323.5 100.6,323.6 100.6,325.6 100.6,324.9 100.7,324.3 100.7,323.9 100.8,324.2 100.8,321.4 100.8,325.2 100.9,322.9 100.9,324.3 100.9,324.2 101,325.4 101,327.1 101.1,325.2 101.1,324.2 101.1,325.8 101.2,326.5 101.2,324.8 101.3,325 101.3,326.4 101.3,325.5 101.4,325.1 101.4,325.5 101.5,324.1 101.5,323.9 101.5,325.7 101.6,326.5 101.6,328.5 101.7,324.6 101.7,326 101.7,326.5 101.8,329.3 101.8,328.1 101.9,328.8 101.9,327.9 101.9,328.3 102,326.4 102,325.5 102.1,325.8 102.1,326.7 102.1,328 102.2,324.3 102.2,325.1 102.3,325.9 102.3,327.1 102.3,326.1 102.4,328.2 102.4,328.4 102.5,325.3 102.5,325.4 102.5,325.2 102.6,328.6 102.6,326.6 102.7,328.8 102.7,327.5 102.7,326.6 102.8,327.6 102.8,329.2 102.9,329.3 102.9,327.8 102.9,328.8 103,329.2 103,327 103.1,328.1 103.1,324.7 103.2,323.8 103.2,325.3 103.2,322.7 103.3,328.8 103.3,329.6 103.4,327 103.4,330.1 103.4,327.8 103.5,326.3 103.5,326.9 103.6,326.4 103.6,327.8 103.6,328.1 103.7,327.8 103.7,327.5 103.8,325.8 103.8,327.1 103.8,326.7 103.9,328 103.9,325.2 104,326.9 104,326.2 104,327 104.1,329.7 104.1,327.8 104.2,331 104.2,327.9 104.2,329.8 104.3,325.9 104.3,328 104.4,327.4 104.4,328.1 104.4,329.6 104.5,331.5 104.5,332.3 104.6,328.7 104.6,329.8 104.6,324.2 104.7,327.5 104.7,326.6 104.8,325.6 104.8,325.5 104.8,323.6 104.9,325.3 104.9,325.8 105,325.9 105,324.1 105,325.2 105.1,328.6 105.1,326.3 105.2,326.6 105.2,325.1 105.3,324.4 105.3,324.7 105.3,324.3 105.4,323.3 105.4,327.6 105.5,325.3 105.5,325.3 105.5,324.4 105.6,324.8 105.6,323.5 105.7,324.2 105.7,323.7 105.7,326 105.7,323.5 105.8,325 105.8,323.1 105.9,321.7 105.9,325 105.9,325 106,324.5 106,323.9 106.1,324.3 106.1,323.8 106.1,325.9 106.2,326 106.2,327.4 106.3,321.8 106.3,326.8 106.3,323.6 106.4,325.5 106.4,325.9 106.5,327.9 106.5,326.9 106.5,326.9 106.6,326.6 106.6,327.7 106.7,327.6 106.7,329.6 106.7,326.4 106.8,329 106.8,321.9 106.9,327.2 106.9,328.3 106.9,327 107,327.4 107,325.9 107.1,325 107.1,327.7 107.1,327.5 107.2,327.1 107.2,324.9 107.3,324.7 107.3,325 107.4,327.2 107.4,327.6 107.4,326.3 107.5,325.4 107.5,327 107.6,324.7 107.6,326.9 107.6,326.5 107.7,324.6 107.7,327.5 107.8,328.7 107.8,328 107.8,327.1 107.9,328.1 107.9,327 108,325.1 108,327.2 108,325.6 108.1,327.2 108.1,328.8 108.2,325.7 108.2,325.1 108.2,324.8 108.3,326.6 108.3,326.7 108.4,328.3 108.4,327.8 108.4,326.8 108.5,326.3 108.5,327.9 108.6,325.6 108.6,328 108.6,325.8 108.7,329.1 108.7,324.1 108.8,325.6 108.8,325.8 108.8,329.6 108.9,325.8 108.9,327.3 109,328.1 109,327 109,329.1 109.1,327.2 109.1,325.4 109.2,328.8 109.2,326.8 109.2,329.1 109.3,331.1 109.3,326.8 109.4,323.7 109.4,323.9 109.4,326.9 109.5,324.4 109.5,325.5 109.6,326.5 109.6,327.8 109.7,325.5 109.7,326.5 109.7,327.6 109.8,325.4 109.8,328.2 109.9,326.1 109.9,324.7 109.9,328.5 110,326.8 110,326.7 110.1,330 110.1,327.5 110.1,327.5 110.2,327.2 110.2,327.7 110.3,325 110.3,328.9 110.3,327.4 110.4,326.4 110.4,323.9 110.5,328.6 110.5,328 110.5,327.1 110.6,326.2 110.6,324.6 110.7,325.8 110.7,325.8 110.7,324.3 110.8,326.1 110.8,326.3 110.9,323.8 110.9,324.8 110.9,327.4 111,327.5 111,323.9 111.1,328.1 111.1,328.2 111.1,325.1 111.2,324.6 111.2,324.4 111.3,328.2 111.3,326.1 111.3,332.2 111.4,328 111.4,322.1 111.5,324.2 111.5,325.8 111.5,328.6 111.6,329 111.6,325.6 111.7,327.2 111.7,326.9 111.8,324.3 111.8,324 111.8,325.8 111.9,326.3 111.9,323.1 112,327.4 112,325.1 112,327.1 112.1,327.2 112.1,327.2 112.2,325.7 112.2,325.4 112.2,324.5 112.3,326.1 112.3,324.2 112.4,324.8 112.4,324.4 112.4,322.6 112.5,321.4 112.5,323 112.6,320.5 112.6,321.4 112.6,318.7 112.7,313.3 112.7,309.3 112.8,303.3 112.8,290.8 112.8,273.6 112.9,250.6 112.9,225.5 113,206.5 113,203 113,204 113,220.9 113.1,244.5 113.1,268.7 113.2,287.8 113.2,301 113.2,309.7 113.3,315.1 113.3,317.5 113.4,319.6 113.4,319.3 113.4,320.7 113.5,323.8 113.5,321.7 113.6,323.7 113.6,322.8 113.6,324.7 113.7,323.7 113.7,325.1 113.8,323.5 113.8,324.8 113.9,325.2 113.9,327.8 113.9,328.4 114,325.3 114,328.4 114.1,327.3 114.1,325.1 114.1,325.5 114.2,324.5 114.2,327.6 114.3,328.7 114.3,327.8 114.3,325.3 114.4,326.4 114.4,326 114.5,325.7 114.5,326.2 114.5,326.7 114.6,327.3 114.6,326.3 114.7,326 114.7,327.1 114.7,325.7 114.8,326.9 114.8,327.7 114.9,328 114.9,325.9 114.9,327 115,325 115,328.7 115.1,327 115.1,330.1 115.1,327.2 115.2,327 115.2,327.3 115.3,329.1 115.3,327.5 115.3,327.2 115.4,330.1 115.4,326.7 115.5,327 115.5,326.2 115.5,327.1 115.6,330 115.6,327 115.7,330.3 115.7,327.6 115.7,327.7 115.8,328.9 115.8,329 115.9,328.5 115.9,325.8 116,326 116,327.7 116,325.4 116.1,323.9 116.1,324.1 116.2,330 116.2,326.5 116.2,326.8 116.3,329.2 116.3,330.8 116.4,325.8 116.4,328.5 116.4,329.7 116.5,329.3 116.5,326.3 116.6,324.4 116.6,325.9 116.6,328.9 116.7,325.9 116.7,329.7 116.8,325.7 116.8,326 116.8,325 116.9,326.6 116.9,326.9 117,328.1 117,328.5 117,328 117.1,325 117.1,328.3 117.2,327.6 117.2,327.9 117.2,326.4 117.3,327.2 117.3,325.4 117.4,326 117.4,327.3 117.4,327.7 117.5,329 117.5,330.9 117.6,327.3 117.6,327.3 117.6,328.8 117.7,326.5 117.7,326.3 117.8,329.3 117.8,326.9 117.8,327.4 117.9,329 117.9,327.5 118,326.6 118,327.8 118,327.7 118.1,325.6 118.1,326.5 118.2,326.6 118.2,328.1 118.3,326.6 118.3,324.9 118.3,328.3 118.4,329.1 118.4,327.5 118.5,327.5 118.5,329.1 118.5,329.9 118.6,325 118.6,327.5 118.7,327.7 118.7,330.3 118.7,325.1 118.8,328.5 118.8,324.4 118.9,325.8 118.9,326.3 118.9,326.7 119,324.7 119,326 119.1,324.5 119.1,325.5 119.1,325.1 119.2,322.5 119.2,322.4 119.3,324 119.3,323.3 119.3,321.5 119.4,321.2 119.4,319.7 119.5,319.6 119.5,319.8 119.5,317.6 119.6,318.1 119.6,317.5 119.6,318.3 119.7,316.8 119.7,318.6 119.7,318.5 119.8,319.2 119.8,322.3 119.9,320.8 119.9,322.6 119.9,323.9 120,323.3 120,322.8 120.1,326.2 120.1,324 120.1,328.8 120.2,326.4 120.2,327 120.3,326.4 120.3,323.6 120.4,325.1 120.4,328.7 120.4,324.5 120.5,328.5 120.5,328.6 120.6,328.8 120.6,327.5 120.6,327.6 120.7,324.6 120.7,326.2 120.8,325.8 120.8,326.6 120.8,324.8 120.9,328.1 120.9,328.4 121,324.9 121,325.7 121,326.8 121.1,323.5 121.1,328.7 121.2,324.9 121.2,325.3 121.2,329 121.3,325.7 121.3,325.8 121.4,325.9 121.4,326.4 121.4,326.2 121.5,327 121.5,328 121.6,325.3 121.6,326.5 121.6,326 121.7,324.8 121.7,324.7 121.8,324 121.8,321.7 121.8,321.7 121.9,320.9 121.9,319 122,318.1 122,319.4 122,318.3 122.1,318.2 122.1,317 122.2,315.6 122.2,316.2 122.2,314.9 122.2,316.7 122.3,318.1 122.3,318.7 122.4,317.1 122.4,319.6 122.5,319.7 122.5,321.1 122.5,322.2 122.6,320.9 122.6,324.4 122.7,324.8 122.7,324.3 122.7,325.2 122.8,323.7 122.8,324.9 122.9,323.7 122.9,325.3 122.9,324.5 123,324.1 123,324 123.1,325.9 123.1,324.3 123.1,325.9 123.2,322.9 123.2,322.4 123.3,320.2 123.3,317.5 123.3,316.5 123.4,316.3 123.4,313.7 123.5,312.8 123.5,313.7 123.5,313.6 123.5,314.9 123.6,315.3 123.6,316.2 123.7,318.5 123.7,318.4 123.7,320.7 123.8,322.6 123.8,322.9 123.9,323.4 123.9,324.6 123.9,325.4 124,327.3 124,327.4 124.1,327.5 124.1,325.7 124.1,324.8 124.2,326.3 124.2,327 124.3,328.4 124.3,328.2 124.3,328.7 124.4,326.5 124.4,329.1 124.5,328.9 124.5,326.3 124.5,327.7 124.6,326.7 124.6,328.7 124.7,328.3 124.7,328.8 124.8,330.5 124.8,327.6 124.8,326.5 124.9,328.7 124.9,328 125,326.8 125,324.8 125,326.5 125.1,323 125.1,327.6 125.2,324.1 125.2,328 125.2,327.2 125.3,328.5 125.3,326.3 125.4,327.2 125.4,330.9 125.4,331.6 125.5,324.4 125.5,328.3 125.6,330.1 125.6,329.3 125.6,328.9 125.7,325.4 125.7,327.2 125.8,327.8 125.8,329.4 125.8,326.7 125.9,330 125.9,326 126,326.2 126,328.7 126,330.1 126.1,329 126.1,327.9 126.2,325.3 126.2,325.5 126.2,329.2 126.3,329.5 126.3,330.1 126.4,328.3 126.4,328.6 126.4,327.2 126.5,328.3 126.5,328.6 126.6,329.2 126.6,329.9 126.6,326.3 126.7,328.8 126.7,326.3 126.8,328.9 126.8,330.5 126.9,327.8 126.9,327.6 126.9,326 127,326.8 127,326.1 127.1,325.5 127.1,326.8 127.1,324.9 127.2,322.1 127.2,324.4 127.3,324.9 127.3,323.2 127.3,322.7 127.4,320.4 127.4,316.3 127.5,314.7 127.5,309.3 127.5,301.8 127.6,294.3 127.6,285.9 127.7,280.6 127.7,279.9 127.7,280.3 127.7,284.3 127.8,292.3 127.8,300.6 127.9,307.7 127.9,313.3 127.9,316.1 128,319.4 128,321.8 128.1,322.9 128.1,324.8 128.1,324.9 128.2,324.4 128.2,324.2 128.3,326.6 128.3,327.5 128.3,328.5 128.4,326.8 128.4,328.6 128.5,327.4 128.5,327.8 128.5,328.7 128.6,326.6 128.6,326.4 128.7,328.8 128.7,328.2 128.7,328.9 128.8,327.8 128.8,325.3 128.9,327.4 128.9,326.6 129,327.1 129,328.1 129,327.9 129.1,327.1 129.1,327.8 129.2,327.4 129.2,327.3 129.2,329 129.3,326.2 129.3,326.8 129.4,327.8 129.4,328.1 129.4,327 129.5,329.4 129.5,330.2 129.6,329.1 129.6,326.4 129.6,328 129.7,326.8 129.7,328.4 129.8,326.9 129.8,328.5 129.8,328.9 129.9,328.5 129.9,327.9 130,329.5 130,328.4 130,328 130.1,329.3 130.1,330 130.2,327.5 130.2,330.5 130.2,331.5 130.3,329.3 130.3,328.6 130.4,327 130.4,326.1 130.4,330.9 130.5,329 130.5,327.4 130.6,329.1 130.6,325.5 130.6,325.8 130.7,326.3 130.7,325.9 130.8,324.3 130.8,322 130.8,322.5 130.9,326 130.9,324.5 130.9,327.2 131,325.8 131,326.9 131.1,326.5 131.1,327.1 131.1,326.3 131.2,328.3 131.2,326.4 131.3,327.7 131.3,329 131.3,326.1 131.4,328.1 131.4,329 131.5,328.4 131.5,327.4 131.5,328.3 131.6,328.5 131.6,328.5 131.7,328.8 131.7,329 131.7,326.2 131.8,326.5 131.8,326 131.9,328.4 131.9,330.3 131.9,329 132,327.7 132,329.5 132.1,328.8 132.1,330.7 132.1,329.2 132.2,329.5 132.2,328.7 132.3,327.7 132.3,329.3 132.3,330.8 132.4,330.4 132.4,329.2 132.5,330.8 132.5,328.7 132.5,329.5 132.6,327.8 132.6,328.8 132.7,327.4 132.7,328.4 132.7,332.2 132.8,326.8 132.8,327.2 132.9,328.8 132.9,329.8 132.9,331.1 133,328.5 133,329.9 133.1,329.9 133.1,330.1 133.1,331.3 133.2,328.2 133.2,330.8 133.3,329.6 133.3,329 133.4,328 133.4,329.4 133.4,327.5 133.5,329.6 133.5,326 133.6,331 133.6,328.1 133.6,326.5 133.7,330.5 133.7,327.5 133.8,326.4 133.8,328.9 133.8,326.7 133.9,329.2 133.9,327.7 134,329.1 134,329.7 134,330.2 134.1,329.8 134.1,331.1 134.2,329.2 134.2,329.3 134.2,327.9 134.3,328.7 134.3,329.1 134.4,329 134.4,325.3 134.4,331.2 134.5,331.2 134.5,326.7 134.6,328 134.6,329.1 134.6,328.4 134.7,327.7 134.7,331.5 134.8,329.6 134.8,328.4 134.8,328.3 134.9,327.6 134.9,328.8 135,329.9 135,330.2 135,328.8 135.1,329.8 135.1,328.2 135.2,326.6 135.2,326.4 135.2,329.4 135.3,326.7 135.3,329.5 135.4,331.1 135.4,325.6 135.5,329 135.5,329.9 135.5,329 135.6,327.6 135.6,325.6 135.7,326.6 135.7,328.7 135.7,330 135.8,329 135.8,327.7 135.9,328.4 135.9,330.8 135.9,328.7 136,328.5 136,330.5 136.1,328.1 136.1,327.1 136.1,327.2 136.2,328.9 136.2,328 136.3,327.4 136.3,328 136.3,325.8 136.4,325.5 136.4,324 136.5,322.5 136.5,321 136.5,319.9 136.6,316.7 136.6,313.8 136.7,311 136.7,310 136.7,310.2 136.7,309.3 136.8,311 136.8,313.4 136.9,315 136.9,316.9 136.9,320.4 137,323.5 137,325.1 137.1,324.3 137.1,325.9 137.1,326.6 137.2,326.3 137.2,327.9 137.3,328.5 137.3,327.1 137.3,327.9 137.4,327.3 137.4,327.1 137.5,326.4 137.5,326.7 137.6,329.3 137.6,329.2 137.6,327.4 137.7,328.8 137.7,326.2 137.8,329 137.8,329.8 137.8,328.3 137.9,329 137.9,328.9 138,329 138,330.3 138,327.8 138.1,328.4 138.1,329.4 138.2,330.6 138.2,327.5 138.2,328.4 138.3,327.8 138.3,327.7 138.4,327.1 138.4,328.5 138.4,330.2 138.5,328.2 138.5,327.6 138.6,329.4 138.6,327.8 138.6,325.8 138.7,328.5 138.7,325.6 138.8,328.6 138.8,329.7 138.8,327.9 138.9,327.7 138.9,325.5 139,329 139,328.1 139,328.6 139.1,329.2 139.1,327.9 139.2,328.3 139.2,327.6 139.2,327.8 139.3,325.7 139.3,327.4 139.4,326.5 139.4,325 139.4,325.2 139.5,325.7 139.5,324.3 139.6,324.6 139.6,323.9 139.6,324.8 139.7,324.2 139.7,324.6 139.7,326.1 139.8,325 139.8,325.2 139.9,325.2 139.9,326.8 139.9,327.1 140,326.1 140,325.1 140.1,327.3 140.1,325.5 140.1,327 140.2,326 140.2,325.5 140.3,325.6 140.3,325.3 140.3,324.9 140.4,324.7 140.4,326 140.5,326.3 140.5,327.9 140.5,326.8 140.6,325.8 140.6,325.4 140.7,326.5 140.7,326.1 140.7,326.2 140.8,327.2 140.8,326 140.9,326.9 140.9,324.6 140.9,329.3 141,329.2 141,328 141.1,326.8 141.1,326.7 141.1,327.3 141.2,330.1 141.2,326.9 141.2,328.2 141.3,325.5 141.3,326.7 141.3,327.3 141.4,326.8 141.4,324.7 141.5,326.6 141.5,327.7 141.5,329.5 141.6,326.9 141.6,327.6 141.7,325.6 141.7,326.8 141.7,326 141.8,327.2 141.8,327.5 141.9,325.6 141.9,326.4 142,327.4 142,326.6 142,325.8 142.1,328.2 142.1,325 142.2,326.5 142.2,328 142.2,327.5 142.3,326.6 142.3,326.9 142.4,327.1 142.4,327.5 142.4,327.3 142.5,328.1 142.5,329.2 142.6,330.2 142.6,326.3 142.6,328.1 142.7,326.9 142.7,327.7 142.8,326.1 142.8,327.7 142.8,326.3 142.9,328.3 142.9,328.3 143,327.6 143,327.4 143,327.1 143.1,329.1 143.1,327.8 143.2,329.3 143.2,330 143.2,326.7 143.3,327.6 143.3,328.1 143.4,328.2 143.4,327.2 143.4,328.5 143.5,328.5 143.5,327.9 143.6,328.3 143.6,330.1 143.6,327.1 143.7,328.5 143.7,328.3 143.8,330.5 143.8,331.4 143.8,327.5 143.9,328.2 143.9,328 144,327.9 144,326.9 144.1,325.8 144.1,326.3 144.1,328.8 144.2,328.7 144.2,327.9 144.3,326.2 144.3,326.1 144.3,328.1 144.4,328.7 144.4,326.8 144.5,326.6 144.5,324.9 144.5,323.3 144.6,322.2 144.6,321.7 144.7,319.6 144.7,316.2 144.7,313.8 144.8,312.7 144.8,312 144.8,312.8 144.9,313.3 144.9,315.6 144.9,318.3 145,320.8 145,322.2 145.1,323.6 145.1,323.2 145.1,325.6 145.2,325.3 145.2,328.8 145.3,326.2 145.3,327.6 145.3,328.7 145.4,331 145.4,329.3 145.5,327 145.5,328.6 145.5,328.4 145.6,330.4 145.6,328.8 145.7,329 145.7,329.3 145.7,330.6 145.8,330.2 145.8,329.5 145.9,325.4 145.9,331.8 145.9,327.2 146,327.7 146,328.5 146.1,328 146.1,328.5 146.2,327.6 146.2,329.6 146.2,331.4 146.3,325.3 146.3,327.3 146.4,331.5 146.4,328.5 146.4,330.8 146.5,329.8 146.5,331.9 146.6,331.2 146.6,327.5 146.6,330.1 146.7,329.3 146.7,328.8 146.8,327.9 146.8,330.5 146.8,329.5 146.9,329.2 146.9,330.6 147,331.2 147,330.2 147,331.4 147.1,328.8 147.1,332.8 147.2,328.9 147.2,330.2 147.2,332 147.3,330.1 147.3,331.6 147.4,329.9 147.4,327.7 147.4,330.2 147.5,328.6 147.5,329.4 147.6,331.1 147.6,331.1 147.6,330.6 147.7,330 147.7,331 147.8,330.8 147.8,329.7 147.8,332.4 147.9,332.2 147.9,329.8 148,329.6 148,332.9 148,330.1 148.1,328.5 148.1,329.4 148.2,330.2 148.2,329 148.3,331.4 148.3,328.2 148.3,328.1 148.4,326.5 148.4,326.5 148.5,324.9 148.5,324.6 148.5,322.4 148.6,321.5 148.6,321.4 148.7,320.7 148.7,319.1 148.7,318.2 148.7,318.9 148.8,320.5 148.8,322.2 148.9,324 148.9,325.7 148.9,327.1 149,326.1 149,328.4 149.1,326.6 149.1,330.4 149.1,329.5 149.2,329.2 149.2,328.7 149.3,329.6 149.3,332 149.3,329.9 149.4,328.1 149.4,329.2 149.5,329.4 149.5,330.4 149.5,331.8 149.6,331.3 149.6,332.3 149.7,329.3 149.7,329.7 149.7,329.5 149.8,328.8 149.8,329 149.9,331 149.9,329.7 149.9,331.2 150,331.6 150,330.2 150.1,328.3 150.1,331.4 150.1,329.8 150.2,328.2 150.2,332.5 150.3,330.8 150.3,332.2 150.3,330.4 150.4,329.3 150.4,330.7 150.5,329 150.5,329.4 150.6,327 150.6,334.7 150.6,331.9 150.7,331.4 150.7,330.6 150.8,328.2 150.8,328.3 150.8,331.3 150.9,332.5 150.9,329.2 151,331.2 151,330.8 151,329.4 151.1,328 151.1,330 151.2,328.1 151.2,332.3 151.2,329.5 151.3,327 151.3,329.1 151.4,331.3 151.4,331.1 151.4,328.7 151.5,330.1 151.5,330.2 151.6,332.9 151.6,332.1 151.6,330.8 151.7,332.3 151.7,331.6 151.8,332.9 151.8,330.8 151.8,330.4 151.9,331.2 151.9,335.1 152,330.9 152,332.3 152,331.3 152.1,332.5 152.1,329.7 152.2,329.3 152.2,330.5 152.2,329.1 152.3,331.5 152.3,332.3 152.4,334.6 152.4,332.7 152.4,332.4 152.5,329.1 152.5,332 152.6,330.5 152.6,329.5 152.7,330.4 152.7,330.7 152.7,329.1 152.8,331.9 152.8,330.5 152.9,330 152.9,327.6 152.9,328.6 153,329.8 153,329.9 153.1,334.6 153.1,330.4 153.1,331 153.2,332.2 153.2,328.8 153.3,330.7 153.3,331.1 153.3,332.4 153.4,330.5 153.4,329.9 153.5,331.6 153.5,331.1 153.5,330.2 153.6,330.7 153.6,331.3 153.7,331.1 153.7,331.1 153.7,331.6 153.8,330.7 153.8,332.4 153.9,329.6 153.9,332.5 153.9,328.4 154,331.1 154,331.6 154.1,329.9 154.1,332.4 154.1,333.3 154.2,329.7 154.2,328.6 154.3,333.3 154.3,330.3 154.3,331.8 154.4,331.3 154.4,329.2 154.5,332.8 154.5,331.2 154.5,328.9 154.6,329.5 154.6,329.7 154.7,331.8 154.7,332 154.8,331.9 154.8,330.7 154.8,331.5 154.9,330.7 154.9,328.6 155,334.6 155,332.7 155,332.7 155.1,334.1 155.1,332.1 155.2,332.5 155.2,332.6 155.2,330.5 155.3,328.6 155.3,331.3 155.4,330.9 155.4,332.5 155.4,332.3 155.5,333.4 155.5,331.8 155.6,330.9 155.6,333.3 155.6,333.5 155.7,329.7 155.7,331.4 155.8,333.6 155.8,330.9 155.8,332.6 155.9,332.7 155.9,332 156,332.4 156,327.5 156,334.6 156.1,332.1 156.1,330.5 156.2,331 156.2,332.9 156.2,331.9 156.3,331.6 156.3,329.2 156.4,328.9 156.4,328.9 156.4,330.5 156.5,329.2 156.5,330.4 156.6,331.3 156.6,332 156.6,330.3 156.7,330.4 156.7,331.3 156.8,332 156.8,332 156.8,329.2 156.9,331.7 156.9,330.7 157,329.4 157,328.9 157.1,330.2 157.1,331.3 157.1,332.2 157.2,331.4 157.2,331 157.3,330.1 157.3,331.9 157.3,330.5 157.4,330.4 157.4,331.3 157.5,333.8 157.5,334.3 157.5,330.6 157.6,334.1 157.6,331.1 157.7,327.9 157.7,331.6 157.7,332.7 157.8,329.9 157.8,331.3 157.9,330.3 157.9,332.8 157.9,331.8 158,328.8 158,332 158.1,332.5 158.1,331.8 158.1,331.3 158.2,330.5 158.2,331 158.3,329.4 158.3,332.8 158.3,331.7 158.4,334.1 158.4,329.9 158.5,333 158.5,331.5 158.5,329 158.6,330.9 158.6,332.5 158.7,332.9 158.7,332.3 158.7,330.6 158.8,327.5 158.8,332.8 158.9,329 158.9,329.2 158.9,330.9 159,330.4 159,330.4 159.1,331.7 159.1,331.9 159.2,329.1 159.2,331.1 159.2,331.6 159.3,332.4 159.3,330.9 159.4,330 159.4,329.5 159.4,328.8 159.5,330.7 159.5,331.6 159.6,329 159.6,328.3 159.6,329.3 159.7,327.6 159.7,328.2 159.8,327.5 159.8,326.9 159.8,325.5 159.9,324.5 159.9,324.7 160,322.8 160,323.5 160,325.2 160,324.6 160.1,323.8 160.1,324.7 160.2,327.3 160.2,326.9 160.2,329.2 160.3,327.9 160.3,331.3 160.4,330.9 160.4,329.3 160.4,329.6 160.5,331.8 160.5,331.5 160.6,330.2 160.6,332.6 160.6,331.2 160.7,332.8 160.7,333.4 160.8,328.7 160.8,331.2 160.8,331.8 160.9,332.8 160.9,328.8 161,328.3 161,327.9 161,330.4 161.1,330.3 161.1,331.5 161.2,333 161.2,331.7 161.3,331.9 161.3,332.5 161.3,331.7 161.4,330.2 161.4,331.9 161.5,332.7 161.5,332.3 161.5,331.7 161.6,331.2 161.6,331 161.7,332.1 161.7,329.4 161.7,332.9 161.8,332 161.8,332.7 161.9,331.6 161.9,332 161.9,331.5 162,333.9 162,331.4 162.1,333.8 162.1,329.9 162.1,331.8 162.2,330 162.2,328.6 162.3,331.9 162.3,328.1 162.3,330.3 162.4,334.6 162.4,331.5 162.5,331.4 162.5,329.3 162.5,333.4 162.6,334.7 162.6,331 162.7,331.7 162.7,333.3 162.7,332.5 162.8,330 162.8,332.3 162.9,330.5 162.9,332.9 162.9,333.9 163,332.6 163,329.7 163.1,330.2 163.1,330.4 163.1,332.5 163.2,330.6 163.2,330.3 163.3,333.2 163.3,331.7 163.4,329.3 163.4,333.7 163.4,331.5 163.5,331.9 163.5,331.9 163.6,329.5 163.6,332.5 163.6,330.4 163.7,331.3 163.7,330.4 163.8,332.8 163.8,330.5 163.8,332.3 163.9,332.7 163.9,332.9 164,334.4 164,330.2 164,332.2 164.1,329.3 164.1,328 164.2,333.7 164.2,331.5 164.2,333 164.3,331.6 164.3,331.3 164.4,333.6 164.4,330 164.4,331.6 164.5,328.9 164.5,330.7 164.6,330.2 164.6,330.4 164.6,326.2 164.7,331.2 164.7,334.6 164.8,330.6 164.8,331.9 164.8,331.3 164.9,331 164.9,330.1 165,331.8 165,330.7 165,328.9 165.1,328.6 165.1,332.8 165.2,328.9 165.2,333.7 165.2,332.5 165.3,331.7 165.3,333.7 165.4,333.3 165.4,330.3 165.4,329.8 165.5,333.9 165.5,331.9 165.6,330.8 165.6,328.8 165.7,330.3 165.7,330.7 165.7,331.6 165.8,331.5 165.8,329 165.9,331 165.9,331.4 165.9,334.3 166,333.2 166,334.1 166.1,331.6 166.1,331.7 166.1,332.9 166.2,330.4 166.2,334.1 166.3,331.8 166.3,332.3 166.3,333.1 166.4,333.4 166.4,332.8 166.5,330.4 166.5,329.9 166.5,332.7 166.6,330.7 166.6,331.9 166.7,330.9 166.7,331.3 166.7,331.4 166.8,332.1 166.8,330.9 166.9,334.4 166.9,331.9 166.9,332 167,332.7 167,332.6 167.1,332.6 167.1,332.4 167.1,332 167.2,334.9 167.2,332.5 167.3,331.8 167.3,330.1 167.3,329.8 167.4,330.6 167.4,331.2 167.5,331.4 167.5,330.1 167.5,330.3 167.6,334.2 167.6,330.9 167.7,332.6 167.7,331.7 167.8,332.1 167.8,331.2 167.8,332.8 167.9,331.3 167.9,333.1 168,330.1 168,330.2 168,331.7 168.1,331 168.1,331.3 168.2,329.6 168.2,329.2 168.2,329.8 168.3,329.7 168.3,329.4 168.4,330.4 168.4,329.7 168.4,328.8 168.4,326.4 168.5,329.3 168.5,330.4 168.6,328.5 168.6,330 168.6,330.4 168.7,329 168.7,331.2 168.8,329.4 168.8,330.3 168.8,332.1 168.9,331.4 168.9,328.3 169,331.6 169,331.7 169,330.5 169.1,331.7 169.1,332.1 169.2,331.2 169.2,334.2 169.2,331.2 169.3,329.7 169.3,329.7 169.4,332.9 169.4,332 169.4,331.3 169.5,332.6 169.5,331.9 169.6,331.5 169.6,334.4 169.6,331.6 169.7,332 169.7,332.4 169.8,332.2 169.8,334.4 169.9,332.2 169.9,331.1 169.9,330.7 170,332.2 170,332.3 170.1,332.4 170.1,329.7 170.1,328.9 170.2,331.4 170.2,335.2 170.3,331.8 170.3,329.7 170.3,333.5 170.4,332.8 170.4,333.8 170.5,331.7 170.5,329.6 170.5,330.9 170.6,334.1 170.6,333.3 170.7,330.5 170.7,331.7 170.7,334.1 170.8,331.5 170.8,332.7 170.9,330.2 170.9,329.7 170.9,330.2 171,332 171,332.1 171.1,331.7 171.1,332 171.1,330.8 171.2,330.8 171.2,331.7 171.3,331.1 171.3,329.7 171.3,332.4 171.4,331.8 171.4,329.3 171.5,332 171.5,332.4 171.5,331.7 171.6,330.4 171.6,332.2 171.7,330 171.7,328.8 171.7,330.2 171.8,329.8 171.8,328 171.9,329.4 171.9,329.5 171.9,328.7 172,327.8 172,328.8 172,331.3 172.1,329.1 172.1,328 172.2,326.7 172.2,328.4 172.2,326 172.3,329.4 172.3,329.7 172.3,329.3 172.4,328.6 172.4,329.7 172.4,329.2 172.5,330.1 172.5,329.7 172.6,329.4 172.6,329.8 172.6,330.7 172.7,331.7 172.7,332.5 172.8,327.9 172.8,332.4 172.8,329.8 172.9,330.6 172.9,332.5 173,332.5 173,333.6 173,332.3 173.1,333.6 173.1,332.8 173.2,330.2 173.2,331.1 173.2,334.6 173.3,331.7 173.3,332.1 173.4,332.9 173.4,329.9 173.4,334.1 173.5,331.5 173.5,330.4 173.6,330.5 173.6,334 173.6,332 173.7,331.8 173.7,332 173.8,331.6 173.8,332.1 173.8,330.8 173.9,333.1 173.9,331.8 174,330.9 174,331.6 174,335.2 174.1,332.5 174.1,332.2 174.2,332.4 174.2,333.6 174.3,331 174.3,331.7 174.3,332.7 174.4,331 174.4,331.8 174.5,332.7 174.5,333 174.5,333.7 174.6,332 174.6,332.1 174.7,330.3 174.7,331.9 174.7,330.8 174.8,334 174.8,333.4 174.9,332 174.9,331.1 174.9,330.9 175,331.5 175,331.7 175.1,331.5 175.1,330.7 175.1,330.8 175.2,334.6 175.2,331.2 175.3,332.9 175.3,332.1 175.3,333.2 175.4,331 175.4,329.9 175.5,330.5 175.5,332.3 175.5,333.4 175.6,330.1 175.6,332.7 175.7,335.3 175.7,331.6 175.7,335.7 175.8,331.2 175.8,332.6 175.9,329.8 175.9,332.1 175.9,333 176,332.2 176,333.2 176.1,332.4 176.1,331.3 176.1,331.5 176.2,333.9 176.2,333.3 176.3,330.1 176.3,334.7 176.4,331.8 176.4,329.3 176.4,333.9 176.5,331.5 176.5,332.5 176.6,334.2 176.6,332 176.6,332.4 176.7,333.4 176.7,333.8 176.8,331.2 176.8,331.4 176.8,332.5 176.9,333.7 176.9,332.7 177,333.3 177,333.5 177,330.5 177.1,332.8 177.1,330.8 177.2,331.5 177.2,331.6 177.2,332.1 177.3,332.8 177.3,332.3 177.4,329.4 177.4,330.3 177.4,332.5 177.5,330.6 177.5,332.6 177.6,332.4 177.6,333.2 177.6,333.8 177.7,334 177.7,332 177.8,331 177.8,332.9 177.8,332.4 177.9,332.7 177.9,332.7 178,331 178,332.4 178,329.3 178.1,330.6 178.1,331.4 178.2,332.2 178.2,334.1 178.2,331.2 178.3,333.3 178.3,333.8 178.4,333.6 178.4,332.5 178.5,331.6 178.5,332 178.5,331.1 178.6,332.6 178.6,333.3 178.7,331.4 178.7,332.7 178.7,329.2 178.8,333.2 178.8,331.2 178.9,332.5 178.9,331.4 178.9,330.4 179,332.6 179,333.4 179.1,331.1 179.1,331.1 179.1,331.3 179.2,333.6 179.2,333.1 179.3,333.6 179.3,333.4 179.3,332.9 179.4,331.1 179.4,332.2 179.5,332.7 179.5,333.4 179.5,329.7 179.6,330.8 179.6,330.4 179.7,336.8 179.7,329.3 179.7,333.7 179.8,333 179.8,332.7 179.9,332.4 179.9,330.2 179.9,335 180,330.4 180,329.7 180.1,330.1 180.1,331.6 180.1,331.2 180.2,332.9 180.2,333.3 180.3,333.2 180.3,335.4 180.3,331.4 180.4,332.4 180.4,331.8 180.5,329.9 180.5,330.8 180.6,331.4 180.6,332.9 180.6,334.3 180.7,329.9 180.7,333.9 180.8,332.5 180.8,332.3 180.8,333.7 180.9,332.5 180.9,330.7 181,330.4 181,332.6 181,333.8 181.1,332.8 181.1,333.2 181.2,333.8 181.2,331.9 181.2,330.4 181.3,331.6 181.3,331.4 181.4,330.9 181.4,331.9 181.4,334.2 181.5,333.1 181.5,332.9 181.6,330.5 181.6,334.2 181.6,332.3 181.7,335.3 181.7,332.5 181.8,333.6 181.8,334.2 181.8,331.7 181.9,333.3 181.9,330.2 182,331.3 182,331.8 182,333 182.1,329.1 182.1,331.1 182.2,328.4 182.2,327.8 182.2,331.7 182.3,331.3 182.3,331.4 182.4,333.2 182.4,335.3 182.4,332.1 182.5,333.5 182.5,334 182.6,332.7 182.6,329.7 182.6,333.4 182.7,332.3 182.7,333 182.8,330.1 182.8,330.5 182.9,329.8 182.9,330.6 182.9,331.4 183,330 183,330.4 183.1,331 183.1,329.8 183.1,328.3 183.2,329.3 183.2,331.4 183.3,331.5 183.3,328.9 183.3,325.6 183.4,325.4 183.4,323.9 183.5,322.5 183.5,321.3 183.5,320.5 183.6,320.4 183.6,320.7 183.6,321.4 183.7,323.8 183.7,325.6 183.7,325 183.8,327.4 183.8,327.6 183.9,329.4 183.9,329.4 183.9,329 184,331.3 184,331.7 184.1,330.9 184.1,330.6 184.1,332.7 184.2,333.4 184.2,330.5 184.3,334 184.3,333.6 184.3,333.7 184.4,332.3 184.4,332.7 184.5,331.6 184.5,333.9 184.5,332.7 184.6,331.9 184.6,332.3 184.7,333.3 184.7,332.7 184.7,333.3 184.8,332.5 184.8,333.8 184.9,330.8 184.9,332 185,331.7 185,335.5 185,333.5 185.1,332.7 185.1,332.7 185.2,334.6 185.2,330 185.2,329 185.3,332.6 185.3,330.1 185.4,332.9 185.4,331.2 185.4,331.6 185.5,330.8 185.5,332.2 185.6,333.2 185.6,333.1 185.6,332.6 185.7,333.6 185.7,331.9 185.8,333 185.8,331.4 185.8,331 185.9,333.3 185.9,332.1 186,336.1 186,333.3 186,330.1 186.1,334.2 186.1,334.6 186.2,332.3 186.2,333.7 186.2,334.2 186.3,333.9 186.3,331.7 186.4,333.2 186.4,335.1 186.4,331.5 186.5,331.2 186.5,332.2 186.6,333 186.6,333.6 186.6,329.5 186.7,334.8 186.7,330.7 186.8,331.1 186.8,331.4 186.8,331.5 186.9,330.8 186.9,332.1 187,330.8 187,330.8 187.1,330.9 187.1,331.3 187.1,331.5 187.2,330.6 187.2,334.5 187.3,333.1 187.3,331.2 187.3,333.3 187.4,331.9 187.4,332.2 187.5,334.3 187.5,332.2 187.5,331.5 187.6,333.5 187.6,331.7 187.7,332.3 187.7,331.6 187.7,334.5 187.8,332.2 187.8,331.9 187.9,332.1 187.9,331.6 187.9,333 188,333.7 188,334.7 188.1,332.7 188.1,334 188.1,331.2 188.2,331.2 188.2,334.3 188.3,331.9 188.3,333.4 188.3,335.2 188.4,331.5 188.4,333.8 188.5,332.4 188.5,330.9 188.5,331.1 188.6,328.5 188.6,330.9 188.7,332.4 188.7,333.5 188.7,335.9 188.8,334.3 188.8,333.9 188.9,331.3 188.9,333.9 188.9,335.1 189,332.7 189,332.9 189.1,331.5 189.1,332.4 189.1,333 189.2,333.9 189.2,332.6 189.3,332.7 189.3,332.2 189.4,330 189.4,333.1 189.4,332.8 189.5,335.5 189.5,331.5 189.6,334 189.6,333.2 189.6,334.1 189.7,332.5 189.7,332.8 189.8,332.7 189.8,334.2 189.8,332.1 189.9,333.8 189.9,333.2 190,330.5 190,333.9 190,330.1 190.1,333.6 190.1,331.3 190.2,330.4 190.2,333.2 190.2,332.4 190.3,330.9 190.3,332.1 190.4,328.9 190.4,331.3 190.4,332.4 190.5,330.6 190.5,332.4 190.6,329.6 190.6,333.9 190.6,329.5 190.7,329.2 190.7,330 190.8,332.5 190.8,335.7 190.8,333.4 190.9,332.1 190.9,330.7 191,332.3 191,333.3 191,331.9 191.1,329.8 191.1,332.5 191.2,332.5 191.2,332.7 191.2,332.3 191.3,331.6 191.3,331.1 191.4,334.7 191.4,331.9 191.5,332.6 191.5,333.7 191.5,332 191.6,332.4 191.6,333.2 191.7,332.3 191.7,333.6 191.7,332.6 191.8,332.6 191.8,332.2 191.9,332.2 191.9,332.7 191.9,330.5 192,331.6 192,332 192.1,331.5 192.1,333.8 192.1,330.4 192.2,334.5 192.2,332.9 192.3,334.8 192.3,334.3 192.3,333.1 192.4,333.3 192.4,330.3 192.5,332.7 192.5,332.3 192.5,333.1 192.6,334.6 192.6,332 192.7,330.5 192.7,334.1 192.7,334.8 192.8,334.3 192.8,333.4 192.9,333.7 192.9,332.9 192.9,337.3 193,336.1 193,332.5 193.1,332.2 193.1,333.1 193.1,333.4 193.2,332.4 193.2,334 193.3,335.2 193.3,331.1 193.3,331.5 193.4,332.6 193.4,331.8 193.5,332.6 193.5,329.3 193.6,332 193.6,331.7 193.6,333.5 193.7,335 193.7,329.9 193.8,332.3 193.8,331.6 193.8,330.9 193.9,330.1 193.9,331.7 194,334 194,331.2 194,332.9 194.1,333.1 194.1,331.6 194.2,332.4 194.2,332.9 194.2,332.1 194.3,330.7 194.3,329.6 194.4,330.2 194.4,334.1 194.4,331.9 194.5,331.8 194.5,331.3 194.6,331.2 194.6,331.5 194.6,331.7 194.7,333 194.7,332.4 194.8,331.6 194.8,334.6 194.8,335.3 194.9,333.8 194.9,333.6 195,333.5 195,334.6 195,334.5 195.1,332 195.1,331.7 195.2,334 195.2,332.7 195.2,335.5 195.3,334.5 195.3,333.6 195.4,333.9 195.4,333.2 195.4,335.8 195.5,333.8 195.5,335.5 195.6,332.6 195.6,331.3 195.7,332.5 195.7,332.2 195.7,332.1 195.8,332.5 195.8,329.7 195.9,329.9 195.9,332.7 195.9,329 196,332 196,329.6 196.1,331.9 196.1,334.2 196.1,332.9 196.2,333.1 196.2,331.1 196.3,333 196.3,332.6 196.3,335.2 196.4,333 196.4,333.4 196.5,334.2 196.5,332 196.5,332.1 196.6,333.3 196.6,333.3 196.7,334.7 196.7,335.4 196.7,334.1 196.8,334.3 196.8,335.9 196.9,334.4 196.9,334.1 196.9,334.2 197,331.3 197,334.4 197.1,331.5 197.1,331.2 197.1,331.9 197.2,330.3 197.2,331.1 197.3,332.3 197.3,335.4 197.3,335 197.4,334 197.4,333.1 197.5,331.9 197.5,329.9 197.5,331.7 197.6,329.2 197.6,330.7 197.7,330.9 197.7,332 197.7,331.7 197.8,331 197.8,332.5 197.9,332.6 197.9,335.1 198,331.9 198,332.6 198,333.7 198.1,332.1 198.1,331.5 198.2,332.3 198.2,333.9 198.2,331.6 198.3,331.8 198.3,330.9 198.4,332.4 198.4,331.4 198.4,331.6 198.5,331.4 198.5,331.7 198.6,332.2 198.6,332.2 198.6,333.4 198.7,334 198.7,332.8 198.8,330.4 198.8,329.6 198.8,326.7 198.9,326.4 198.9,325.4 199,322.8 199,320.4 199,318.8 199.1,317 199.1,318.1 199.1,319.4 199.2,321.9 199.2,325 199.2,326.6 199.3,329.9 199.3,329.7 199.4,329.6 199.4,331.7 199.4,329.9 199.5,332 199.5,332.7 199.6,332.7 199.6,331.2 199.6,334.3 199.7,333 199.7,334.8 199.8,333 199.8,331.4 199.8,335.8 199.9,333.9 199.9,333.8 200,333.2 200,334.7 200.1,332.6 200.1,333.8 200.1,333.7 200.2,332.4 200.2,333 200.3,333.6 200.3,330 200.3,332.5 200.4,333 200.4,331.8 200.5,332 200.5,332.1 200.5,331.7 200.6,334.1 200.6,331.3 200.7,333.5 200.7,332.3 200.7,334.7 200.8,332.3 200.8,333.3 200.9,334 200.9,331 200.9,332.7 201,331.5 201,332.4 201.1,328.9 201.1,332.9 201.1,333.3 201.2,332.2 201.2,331.4 201.3,333.7 201.3,331.2 201.3,332.9 201.4,332.9 201.4,332.9 201.5,330.8 201.5,334.2 201.5,333.5 201.6,333.9 201.6,333.1 201.7,333 201.7,334.4 201.7,333.5 201.8,335 201.8,331.3 201.9,332.2 201.9,331.9 201.9,332.1 202,333.5 202,330.1 202.1,329 202.1,332.6 202.2,329.5 202.2,330.7 202.2,330 202.3,329.8 202.3,329.5 202.3,328.6 202.4,328.3 202.4,329.2 202.4,329.5 202.5,331 202.5,330 202.6,329.8 202.6,329.5 202.6,330.5 202.7,329.8 202.7,331.9 202.8,335.1 202.8,331.4 202.8,332.2 202.9,331.7 202.9,334.5 203,332.7 203,332.8 203,334 203.1,334.2 203.1,330.8 203.2,330.1 203.2,332.2 203.2,333.7 203.3,332.8 203.3,333.8 203.4,333.2 203.4,333.1 203.4,333.5 203.5,331.7 203.5,335.3 203.6,332.5 203.6,331.6 203.6,333.1 203.7,332.5 203.7,334.9 203.8,333.5 203.8,336.2 203.8,334.6 203.9,334.1 203.9,333 204,334.3 204,333.2 204,337.5 204.1,334.1 204.1,332.7 204.2,331.4 204.2,332.9 204.3,333.1 204.3,330.6 204.3,333.8 204.4,334.1 204.4,333.3 204.5,334.1 204.5,334.9 204.5,335.6 204.6,334.7 204.6,332.7 204.7,332.4 204.7,332.7 204.7,334.2 204.8,334 204.8,332.7 204.9,334.4 204.9,334.2 204.9,331.7 205,332.2 205,333.1 205.1,333.5 205.1,331 205.1,333.6 205.2,333.4 205.2,333.1 205.3,336.6 205.3,334.4 205.3,333.4 205.4,333.1 205.4,332.4 205.5,334.3 205.5,334.1 205.5,333.5 205.6,331.8 205.6,335.2 205.7,334.2 205.7,334.6 205.7,335 205.8,333.4 205.8,333.8 205.9,336.8 205.9,334.8 205.9,334.1 206,334.7 206,334.1 206.1,330.9 206.1,336.6 206.1,335.6 206.2,332.6 206.2,333.2 206.3,332.6 206.3,333.4 206.3,333.5 206.4,334.3 206.4,332 206.5,335.3 206.5,331.9 206.6,334.6 206.6,335.5 206.6,333.8 206.7,331.5 206.7,333.1 206.8,333 206.8,330.2 206.8,331.9 206.9,332.9 206.9,331.3 207,333.5 207,329.4 207,330.5 207.1,331.5 207.1,331.8 207.2,330.3 207.2,329.7 207.2,332.2 207.3,331.5 207.3,331.3 207.4,332.4 207.4,329.7 207.4,330.9 207.5,331.8 207.5,330.6 207.5,332.5 207.6,331.3 207.6,331.6 207.6,332.3 207.7,332.6 207.7,331.6 207.8,334 207.8,332.3 207.8,331.8 207.9,332.4 207.9,332.7 208,334.1 208,332.6 208,332.5 208.1,331.5 208.1,332.6 208.2,331.8 208.2,332.8 208.2,332.4 208.3,331.6 208.3,332.3 208.4,331.1 208.4,334.7 208.4,334.3 208.5,332.3 208.5,335.5 208.6,334.7 208.6,334.8 208.7,332.8 208.7,334.2 208.7,334.3 208.8,330.7 208.8,334 208.9,333.3 208.9,332.3 208.9,332.9 209,332.9 209,333.4 209.1,332.5 209.1,331.4 209.1,332.6 209.2,332 209.2,332.1 209.3,330 209.3,330.7 209.3,333 209.4,333.4 209.4,332.9 209.5,333.1 209.5,332.3 209.5,332.1 209.6,333.3 209.6,333.4 209.7,332.7 209.7,330.3 209.7,329.7 209.8,330.7 209.8,331 209.9,330.3 209.9,330.9 209.9,330.3 210,328.9 210,332.1 210,330.9 210.1,328.1 210.1,330.7 210.1,330.9 210.2,331.8 210.2,331.1 210.3,331.9 210.3,331.6 210.3,331.2 210.4,330 210.4,331.9 210.5,331 210.5,332.8 210.5,328.8 210.6,334.9 210.6,333.4 210.7,334 210.7,334.3 210.8,332.2 210.8,332.1 210.8,332.4 210.9,329.9 210.9,333.6 211,333.2 211,333.7 211,333.6 211.1,332.5 211.1,332.7 211.2,333 211.2,332.6 211.2,332.4 211.3,333.3 211.3,333.3 211.4,334.6 211.4,335.9 211.4,332.5 211.5,333.6 211.5,331.5 211.6,333.8 211.6,332.8 211.6,335.3 211.7,331.6 211.7,334.2 211.8,334.2 211.8,333.5 211.8,334.5 211.9,330 211.9,336 212,332.5 212,336.9 212,332.7 212.1,334.8 212.1,334.5 212.2,334.7 212.2,332.3 212.2,333.9 212.3,331.5 212.3,331.6 212.4,331.8 212.4,333.5 212.4,331.9 212.5,332 212.5,334.8 212.6,333 212.6,332.5 212.6,330.7 212.7,334 212.7,332.4 212.8,333.1 212.8,334.5 212.9,333.3 212.9,335 212.9,333.8 213,330.9 213,333.1 213.1,332 213.1,332.1 213.1,332.7 213.2,333 213.2,334.6 213.3,334.8 213.3,330.8 213.3,334.4 213.4,333.2 213.4,332 213.5,335 213.5,333 213.5,334.7 213.6,332.9 213.6,334.4 213.7,330.2 213.7,332.6 213.7,330.3 213.8,333.8 213.8,332.7 213.9,334.4 213.9,330.6 213.9,334.3 214,332.7 214,331.9 214.1,333.5 214.1,332.1 214.1,333.4 214.2,333.4 214.2,334.8 214.3,332.3 214.3,332 214.3,335.6 214.4,333.4 214.4,334.6 214.5,333.7 214.5,332.9 214.5,334.6 214.6,333.8 214.6,333.1 214.7,332.8 214.7,331.7 214.7,334.3 214.8,332.9 214.8,332.8 214.9,331.5 214.9,330.6 214.9,332.4 215,332.8 215,334.7 215.1,333.9 215.1,333 215.2,333.2 215.2,332 215.2,336.3 215.3,333.5 215.3,332.4 215.4,332.8 215.4,333 215.4,333.5 215.5,333.2 215.5,333.5 215.6,333.5 215.6,332.5 215.6,331.6 215.7,331.1 215.7,331.8 215.8,329 215.8,331.7 215.8,330.6 215.9,330.9 215.9,331.4 215.9,332.5 216,332.3 216,333.1 216,330 216.1,332.8 216.1,330.2 216.2,331.1 216.2,331.4 216.2,332.2 216.3,333.4 216.3,333.2 216.4,333.1 216.4,330.5 216.4,333 216.5,334.8 216.5,333.3 216.6,331.1 216.6,332.1 216.6,332 216.7,332.8 216.7,334.2 216.8,331.2 216.8,331.7 216.8,335.5 216.9,333 216.9,333.8 217,331.5 217,333.6 217,336 217.1,331.1 217.1,333.6 217.2,333 217.2,332.8 217.3,333 217.3,335.5 217.3,336.5 217.4,333.2 217.4,333 217.5,333.5 217.5,331.7 217.5,334.7 217.6,335.7 217.6,331.7 217.7,332.5 217.7,333.8 217.7,336.6 217.8,331.2 217.8,333.7 217.9,331.8 217.9,334 217.9,331.3 218,333.2 218,334.6 218.1,336 218.1,331.7 218.1,335.3 218.2,332.3 218.2,331.1 218.3,334.5 218.3,331.7 218.3,333.5 218.4,334.7 218.4,334.2 218.5,333.1 218.5,334.5 218.5,333.1 218.6,333.9 218.6,333.8 218.7,332.6 218.7,332 218.7,332.8 218.8,332.3 218.8,330 218.9,332.4 218.9,335.4 218.9,331.1 219,332.4 219,331.9 219.1,333.4 219.1,332.7 219.1,331.6 219.2,332.1 219.2,333.6 219.3,331.2 219.3,334.5 219.4,332.3 219.4,332.5 219.4,333.4 219.5,332.5 219.5,334.3 219.6,333.5 219.6,328.7 219.6,336.3 219.7,332 219.7,334.3 219.8,333.8 219.8,335.6 219.8,335.3 219.9,333.9 219.9,332 220,331.6 220,330.6 220,332.7 220.1,334.3 220.1,331.2 220.2,332.2 220.2,334 220.2,329.8 220.3,330.5 220.3,330.2 220.4,331.3 220.4,332.7 220.4,331.5 220.5,333.4 220.5,331.2 220.6,333.1 220.6,332.8 220.6,330.3 220.7,330.2 220.7,331.6 220.8,330.5 220.8,330.9 220.8,332.5 220.9,330.4 220.9,334.2 221,333.2 221,333.6 221,333.9 221.1,333.9 221.1,332.9 221.2,334 221.2,333.9 221.2,333.4 221.3,334 221.3,333.1 221.4,331.6 221.4,333.5 221.4,334.7 221.5,333.8 221.5,334.1 221.6,332.7 221.6,332.4 221.7,333.2 221.7,333 221.7,331.3 221.8,333.2 221.8,332.4 221.9,334.1 221.9,330.8 221.9,332.5 222,331.7 222,332.8 222.1,330.3 222.1,329.8 222.1,329.2 222.2,332.3 222.2,331.3 222.3,334.9 222.3,333.7 222.3,330.2 222.4,329.9 222.4,331.4 222.5,332.3 222.5,328.8 222.5,330.5 222.6,329.5 222.6,329.5 222.7,330.1 222.7,332.5 222.7,331.3 222.8,332.3 222.8,332.7 222.9,332 222.9,332.3 222.9,330.5 223,334.1 223,331.9 223.1,333.5 223.1,332.8 223.1,334 223.2,332.4 223.2,331.2 223.3,331.1 223.3,332.7 223.3,330 223.4,333.9 223.4,330 223.5,332.3 223.5,329.7 223.5,331.3 223.6,332.4 223.6,329.9 223.7,333.4 223.7,331.2 223.8,331 223.8,329.5 223.8,332.6 223.9,330.5 223.9,333.6 224,332.1 224,331.2 224,331.3 224.1,330.9 224.1,331.5 224.2,331 224.2,331.6 224.2,329.9 224.3,329.5 224.3,330.9 224.4,329.6 224.4,330.1 224.4,329.1 224.5,330.5 224.5,330.2 224.6,330.5 224.6,331.7 224.6,333.4 224.7,328.3 224.7,329.6 224.8,329.2 224.8,329.2 224.8,330.4 224.9,329.4 224.9,329.9 225,331.9 225,331.3 225,332.4 225.1,331.8 225.1,331.6 225.2,332.1 225.2,333.9 225.2,330.7 225.3,332.3 225.3,332.6 225.4,329.6 225.4,328.6 225.4,328.1 225.5,329.1 225.5,329.5 225.6,327.8 225.6,332.4 225.6,328.9 225.7,330.6 225.7,329 225.8,329.7 225.8,329.8 225.9,330.2 225.9,329.6 225.9,330.7 226,327.7 226,328.6 226.1,329.1 226.1,329.4 226.1,331.4 226.2,329.3 226.2,328 226.3,332.8 226.3,328.8 226.3,329.1 226.4,330 226.4,330.6 226.5,328.5 226.5,332.6 226.5,330.7 226.6,331.2 226.6,329.3 226.7,328.7 226.7,328.1 226.7,329.5 226.8,328.4 226.8,327.8 226.9,328.1 226.9,325.6 226.9,326.3 227,328.2 227,327.5 227.1,326.5 227.1,327.7 227.1,329.2 227.2,328.2 227.2,329.7 227.3,330.4 227.3,332.3 227.3,332.4 227.4,330.5 227.4,331.1 227.5,330.1 227.5,326.9 227.5,330.9 227.6,331.5 227.6,328.7 227.7,329.4 227.7,330.6 227.7,329.8 227.8,333.4 227.8,331.8 227.9,328.7 227.9,328.5 228,327.4 228,327.5 228,329.2 228.1,331.3 228.1,329.5 228.2,327.8 228.2,327 228.2,324.7 228.3,326 228.3,327.7 228.4,329.4 228.4,330 228.4,329.4 228.5,331.9 228.5,328.8 228.6,329.3 228.6,329.5 228.6,328.7 228.7,329.2 228.7,330.9 228.8,329 228.8,328.9 228.8,329.3 228.9,327.4 228.9,327.8 229,329.3 229,330.3 229,330.1 229.1,327.2 229.1,328.3 229.2,326.8 229.2,330.3 229.2,329.3 229.3,330.7 229.3,329.9 229.4,327.7 229.4,330.2 229.4,330.7 229.5,330.4 229.5,326.2 229.6,331.2 229.6,328.8 229.6,331.3 229.7,329.4 229.7,328.6 229.8,328.6 229.8,328.4 229.8,332.6 229.9,332.2 229.9,330.6 230,329.2 230,329.5 230,330.1 230.1,331 230.1,329.6 230.2,330.3 230.2,330.3 230.3,327.1 230.3,327.1 230.3,327.8 230.4,327.3 230.4,327.2 230.5,325.6 230.5,328.2 230.5,328.9 230.6,329.1 230.6,328.6 230.7,330.4 230.7,330 230.7,330.7 230.8,329.9 230.8,329.5 230.9,330 230.9,332.4 230.9,332.5 231,332.6 231,330.8 231.1,333.2 231.1,334 231.1,330.1 231.2,329.2 231.2,328.4 231.3,329.3 231.3,330.2 231.3,330.3 231.4,328.7 231.4,331 231.5,331.1 231.5,332.3 231.5,331.9 231.6,331.3 231.6,332.2 231.7,330.2 231.7,329.7 231.7,331.7 231.8,329.4 231.8,330.7 231.9,328.3 231.9,331.1 231.9,330.1 232,329.7 232,329.2 232.1,328.6 232.1,330.7 232.1,327.8 232.2,331.7 232.2,331.8 232.3,328.1 232.3,330.4 232.4,330.2 232.4,328.8 232.4,331.7 232.5,328.8 232.5,332 232.6,332.4 232.6,331.6 232.6,329.9 232.7,329.1 232.7,330.1 232.8,329.5 232.8,332 232.8,332.6 232.9,330.5 232.9,334.3 233,331.6 233,332.3 233,331.3 233.1,334.3 233.1,332.7 233.2,331.5 233.2,331.7 233.2,334.7 233.3,331.1 233.3,330.9 233.4,331.8 233.4,332.5 233.4,332.4 233.5,329.1 233.5,331.5 233.6,331 233.6,328.3 233.6,330.2 233.7,331.3 233.7,333.8 233.8,331.6 233.8,334 233.8,333 233.9,331.4 233.9,332.3 234,332.6 234,331.4 234,330.1 234.1,330.6 234.1,331.7 234.2,331.8 234.2,330.3 234.2,330.4 234.3,333.2 234.3,330.6 234.4,334.6 234.4,330.6 234.5,332.7 234.5,332.5 234.5,330.7 234.6,330.8 234.6,331.8 234.7,332.5 234.7,331.7 234.7,330.1 234.8,332.8 234.8,333.7 234.9,331.8 234.9,332.2 234.9,332.8 235,335.5 235,332.5 235.1,334.9 235.1,334.8 235.1,332.3 235.2,333.1 235.2,334.6 235.3,331.6 235.3,331.6 235.3,331 235.4,331.1 235.4,329.2 235.5,331.7 235.5,330.7 235.5,332.5 235.6,332 235.6,333.1 235.7,332.3 235.7,331.5 235.7,331 235.8,334.9 235.8,331.1 235.9,333.1 235.9,330.8 235.9,333.7 236,332.9 236,334 236.1,332.2 236.1,334 236.1,334.5 236.2,334.1 236.2,332.3 236.3,332.6 236.3,333.6 236.3,334.6 236.4,330.7 236.4,331 236.5,333.6 236.5,332.5 236.6,332.2 236.6,333.5 236.6,333 236.7,334.7 236.7,333.7 236.8,332 236.8,332.4 236.8,330.6 236.9,331.1 236.9,331.6 237,331.7 237,331.1 237,332 237.1,331.5 237.1,332.1 237.2,331.9 237.2,334.8 237.2,334.1 237.3,333.1 237.3,333.9 237.4,331.7 237.4,332.6 237.4,332.7 237.5,330.5 237.5,335.8 237.6,331.1 237.6,332.4 237.6,331.3 237.7,335.2 237.7,336.4 237.8,334.8 237.8,334.3 237.8,332.1 237.9,333.7 237.9,333.2 238,333.7 238,333.3 238,333.3 238.1,334.1 238.1,333.2 238.2,331.2 238.2,332 238.2,333.4 238.3,332.4 238.3,331.3 238.4,334.6 238.4,333 238.4,332.2 238.5,332.7 238.5,331.8 238.6,333 238.6,333.1 238.6,335.1 238.7,330.2 238.7,331.7 238.8,335.4 238.8,333.8 238.9,334.5 238.9,331.4 238.9,332.6 239,332.4 239,333.4 239.1,337.2 239.1,332.6 239.1,334.5 239.2,333.8 239.2,333.9 239.3,333.9 239.3,334.1 239.3,332.7 239.4,332.9 239.4,331.1 239.5,332 239.5,334.1 239.5,334.7 239.6,330.8 239.6,333.3 239.7,330.5 239.7,329.7 239.7,332.9 239.8,335.6 239.8,336.9 239.9,333.6 239.9,332.6 239.9,334.7 240,334.2 240,332.5 240.1,333.9 240.1,332.3 240.1,334 240.2,332.2 240.2,331.9 240.3,331.9 240.3,332.1 240.3,333.1 240.4,333.8 240.4,334.6 240.5,333.9 240.5,335.5 240.5,330.4 240.6,331.2 240.6,332.6 240.7,336.2 240.7,333.8 240.7,333.1 240.8,330.6 240.8,331.6 240.9,332.7 240.9,332.3 241,331 241,335.7 241,333.5 241.1,332.4 241.1,331.3 241.2,332.4 241.2,335.1 241.2,332.3 241.3,331.8 241.3,332.2 241.4,334.5 241.4,330.8 241.4,332.4 241.5,330.9 241.5,332.8 241.6,332.5 241.6,330 241.6,332.8 241.7,330.7 241.7,330.9 241.8,330.8 241.8,330.1 241.8,328.4 241.9,329.5 241.9,329.8 242,329 242,329.1 242,329 242,327.9 242.1,328.4 242.1,328.6 242.2,329.2 242.2,327.7 242.2,330.4 242.3,331 242.3,331.3 242.4,332.1 242.4,333.5 242.4,332.1 242.5,333.6 242.5,329.8 242.6,333.6 242.6,332.8 242.6,334.1 242.7,330.5 242.7,333 242.8,334.9 242.8,333.1 242.8,334.4 242.9,333 242.9,332.8 243,332 243,330.2 243.1,331.6 243.1,333.5 243.1,335.3 243.2,330.6 243.2,332.6 243.3,334.2 243.3,333.8 243.3,332.5 243.4,334.7 243.4,332.7 243.5,332.1 243.5,334 243.5,333.2 243.6,334.1 243.6,333.2 243.7,335.6 243.7,333.4 243.7,328.7 243.8,333.5 243.8,332.8 243.9,333.7 243.9,332.5 243.9,332.1 244,331.7 244,334.1 244.1,333.9 244.1,332.6 244.1,332.9 244.2,333.6 244.2,333.4 244.3,333.5 244.3,330.2 244.3,333.1 244.4,328.8 244.4,332.4 244.5,333.8 244.5,330.9 244.5,332.2 244.6,329.8 244.6,334 244.7,330.8 244.7,335.7 244.7,335.6 244.8,332.1 244.8,331.2 244.9,332.1 244.9,336.1 244.9,333.3 245,332.3 245,332.5 245.1,332.9 245.1,332.6 245.2,333.9 245.2,335.3 245.2,331.3 245.3,331.5 245.3,332 245.4,337 245.4,335.4 245.4,331.9 245.5,334.5 245.5,331.3 245.6,334.7 245.6,332.8 245.6,336.9 245.7,332.6 245.7,332.8 245.8,334.1 245.8,333.3 245.8,333.1 245.9,334.7 245.9,334.7 246,331.2 246,332.8 246,333.4 246.1,331.5 246.1,332.4 246.2,334.7 246.2,334.9 246.2,332.2 246.3,334.5 246.3,333.2 246.4,334.6 246.4,336 246.4,335 246.5,336.9 246.5,331.8 246.6,333.2 246.6,333.6 246.6,330.8 246.7,333.1 246.7,334.9 246.8,332.1 246.8,332.3 246.8,333.8 246.9,331.6 246.9,334.4 247,333.8 247,333 247,334.2 247.1,336 247.1,335.4 247.2,334.6 247.2,332 247.2,333.5 247.3,335.2 247.3,333.8 247.4,334 247.4,333.1 247.5,334.7 247.5,335 247.5,332.6 247.6,334.9 247.6,332.5 247.7,334.1 247.7,334.1 247.7,334.4 247.8,333 247.8,332.9 247.9,335 247.9,332.1 247.9,334.3 248,332.9 248,333.8 248.1,331.7 248.1,334.2 248.1,334.9 248.2,334.1 248.2,332.5 248.3,334.3 248.3,336.3 248.3,334.2 248.4,335.2 248.4,332.5 248.5,333.9 248.5,333.3 248.5,330.9 248.6,332.6 248.6,335 248.7,333 248.7,334.8 248.7,334 248.8,335.9 248.8,335.1 248.9,333.5 248.9,333.4 248.9,334.2 249,331.2 249,334.7 249.1,331.4 249.1,332.1 249.1,333.2 249.2,334.4 249.2,334.1 249.3,335 249.3,335.5 249.3,334.6 249.4,333.2 249.4,334.2 249.5,332.7 249.5,334.4 249.6,335.6 249.6,333.2 249.6,335.6 249.7,335.7 249.7,334.6 249.8,333.3 249.8,334.5 249.8,333.9 249.9,335.6 249.9,332.8 250,333 250,334.7 250,332.7 250.1,332.9 250.1,332.2 250.2,334 250.2,334.5 250.2,331.5 250.3,335.6 250.3,332.8 250.4,332.9 250.4,332.1 250.4,332.7 250.5,332.6 250.5,333.1 250.6,332.8 250.6,333.4 250.6,332.9 250.7,330.2 250.7,335.2 250.8,336.4 250.8,332.7 250.8,330.4 250.9,334.7 250.9,332.1 251,333.4 251,332.5 251,333.5 251.1,331 251.1,333 251.2,330.9 251.2,329.8 251.2,330.2 251.3,331.8 251.3,335.8 251.4,333.2 251.4,332.9 251.4,334.3 251.5,334.1 251.5,333.9 251.6,329.8 251.6,331.9 251.7,332.3 251.7,332.3 251.7,331.2 251.8,331 251.8,331.9 251.9,330.8 251.9,329.9 251.9,330.1 252,328.1 252,329.1 252,329.3 252.1,331.9 252.1,330.2 252.1,328.1 252.2,327.8 252.2,329.1 252.3,328.9 252.3,331.5 252.3,332.6 252.4,332.9 252.4,331.7 252.5,332.7 252.5,333.8 252.5,331.3 252.6,333.7 252.6,334.2 252.7,333.1 252.7,332.3 252.7,333.3 252.8,332.5 252.8,333.5 252.9,332.1 252.9,334.6 252.9,332.8 253,334.3 253,332.7 253.1,332.5 253.1,334.3 253.1,331.5 253.2,333.8 253.2,332.8 253.3,333.7 253.3,332.4 253.3,332.6 253.4,333.6 253.4,333.1 253.5,333.9 253.5,333.1 253.5,334 253.6,332.8 253.6,334.3 253.7,334.1 253.7,334 253.7,333.4 253.8,333.1 253.8,332.8 253.9,333 253.9,335.1 254,336.1 254,335.7 254,331.4 254.1,335.5 254.1,334 254.2,331.9 254.2,333.2 254.2,333.6 254.3,334.4 254.3,334.6 254.4,334.1 254.4,332.6 254.4,332.3 254.5,332 254.5,333.8 254.6,333.8 254.6,333.5 254.6,333.4 254.7,332.4 254.7,334 254.8,334.1 254.8,332.7 254.8,332.4 254.9,331.2 254.9,332.9 255,333.3 255,335 255,334.1 255.1,333.9 255.1,334.5 255.2,333.1 255.2,333.4 255.2,332.9 255.3,335.9 255.3,332.6 255.4,333.1 255.4,337.4 255.4,335.3 255.5,337.1 255.5,335.3 255.6,335 255.6,335 255.6,332.6 255.7,332.6 255.7,334.4 255.8,335.1 255.8,332.1 255.8,334.3 255.9,333 255.9,331.9 256,332.2 256,332.8 256.1,333.2 256.1,333 256.1,333.3 256.2,334.3 256.2,335 256.3,332.7 256.3,333 256.3,332 256.4,334 256.4,334.7 256.5,334.9 256.5,333.3 256.5,336 256.6,333.9 256.6,335.4 256.7,333.1 256.7,333.9 256.7,333.9 256.8,333.1 256.8,332.3 256.9,331.4 256.9,333.3 256.9,331.5 257,333 257,332.7 257.1,332.9 257.1,333.5 257.1,334 257.2,335.5 257.2,335.5 257.3,333.7 257.3,332.1 257.3,334.7 257.4,332.1 257.4,335.1 257.5,333.1 257.5,332.1 257.5,331.9 257.6,333.2 257.6,330.7 257.7,332.8 257.7,333.4 257.7,335.5 257.8,333.7 257.8,334 257.9,334.3 257.9,332.8 257.9,334.8 258,335.6 258,335.6 258.1,333.3 258.1,334.3 258.2,332.8 258.2,333.3 258.2,335.1 258.3,337.9 258.3,334.6 258.4,334.2 258.4,333.4 258.4,332.3 258.5,333.9 258.5,335.2 258.6,335.3 258.6,334.6 258.6,333.9 258.7,334 258.7,333.2 258.8,330.7 258.8,335.8 258.8,337.4 258.9,334.7 258.9,334.6 259,335.5 259,332.1 259,333.1 259.1,331.9 259.1,331.8 259.2,332.3 259.2,333.7 259.2,334.8 259.3,334.4 259.3,333.8 259.4,336.9 259.4,336.7 259.4,336.4 259.5,336.4 259.5,337.7 259.6,335.5 259.6,335.3 259.6,335 259.7,336.9 259.7,336.2 259.8,333.5 259.8,332.2 259.8,331.1 259.9,332.4 259.9,334.1 260,331.8 260,335.1 260,332.5 260.1,334.8 260.1,338.1 260.2,332.7 260.2,334.1 260.3,332.4 260.3,334.2 260.3,333 260.4,333.4 260.4,333.9 260.5,336.7 260.5,334.9 260.5,336.4 260.6,333.6 260.6,335.4 260.7,333.6 260.7,335.4 260.7,334.5 260.8,333.4 260.8,335.8 260.9,334.4 260.9,338.1 260.9,335.2 261,332.4 261,330.5 261.1,336.8 261.1,333 261.1,333.9 261.2,335.6 261.2,336.3 261.3,335 261.3,333.8 261.3,332.9 261.4,335.5 261.4,333.7 261.5,335 261.5,335.1 261.5,333.3 261.6,333.7 261.6,337.4 261.7,334.1 261.7,334.8 261.7,334 261.8,334.1 261.8,333.7 261.9,333.9 261.9,333.4 261.9,332.7 262,336.4 262,334.7 262.1,334.9 262.1,334.9 262.1,336.8 262.2,332.4 262.2,334 262.3,331.9 262.3,330.7 262.3,335.9 262.4,333.2 262.4,334.2 262.5,333.2 262.5,332.3 262.6,332.2 262.6,332.4 262.6,332.7 262.7,334.2 262.7,334.1 262.8,334.4 262.8,335.1 262.8,333.6 262.9,334.9 262.9,336.4 263,336 263,333.8 263,334.3 263.1,332.6 263.1,333.6 263.2,333.2 263.2,331.4 263.2,334.8 263.3,333.1 263.3,334.5 263.4,335.1 263.4,334.6 263.4,336.6 263.5,334.6 263.5,334.5 263.6,334.2 263.6,333.6 263.6,334.3 263.7,333.5 263.7,337.6 263.8,336.5 263.8,334.1 263.8,335 263.9,334.1 263.9,337.7 264,335.6 264,335.4 264,334.3 264.1,336.1 264.1,332.5 264.2,333.6 264.2,333.6 264.2,333.1 264.3,334 264.3,334.2 264.4,331.5 264.4,332.5 264.4,333.9 264.5,335 264.5,334.5 264.6,332.7 264.6,333.7 264.7,332.6 264.7,333 264.7,332.4 264.8,333.9 264.8,334.6 264.9,334.7 264.9,336.3 264.9,336.1 265,333.9 265,335.2 265.1,336.2 265.1,332.6 265.1,335 265.2,333.6 265.2,334 265.3,334.5 265.3,332.1 265.3,333.2 265.4,336.2 265.4,330.8 265.5,335 265.5,333.6 265.5,333.7 265.6,334.7 265.6,336.2 265.7,337.5 265.7,331.9 265.7,336.3 265.8,332.9 265.8,336.3 265.9,336.1 265.9,333.7 265.9,335.9 266,335 266,335.9 266.1,336.4 266.1,333.6 266.1,335 266.2,334.5 266.2,334.9 266.3,334.8 266.3,333.7 266.3,332.7 266.4,332.7 266.4,333.5 266.5,333 266.5,336.4 266.5,332.8 266.6,334.7 266.6,334.8 266.7,333 266.7,334.2 266.8,335.5 266.8,334.5 266.8,335.6 266.9,335.2 266.9,333.2 267,334.2 267,331.9 267,333.5 267.1,333.6 267.1,335.8 267.2,335 267.2,334.1 267.2,334.1 267.3,337 267.3,333.7 267.4,336.5 267.4,334.7 267.4,332.6 267.5,333.8 267.5,335.2 267.6,333.4 267.6,337 267.6,333.7 267.7,334.2 267.7,338.6 267.8,335.1 267.8,333.4 267.8,334.1 267.9,334.3 267.9,335.2 268,336 268,333.4 268,333.6 268.1,331.9 268.1,334.8 268.2,331.9 268.2,333.3 268.2,333.9 268.3,333.8 268.3,334.8 268.4,334.9 268.4,332.9 268.4,334.7 268.5,332.9 268.5,331.7 268.6,332 268.6,332 268.6,333.3 268.7,334.3 268.7,331.9 268.8,332.6 268.8,335.3 268.9,335.5 268.9,335.7 268.9,335 269,336.9 269,337.4 269.1,335.1 269.1,335.6 269.1,334.3 269.2,336.6 269.2,333.9 269.3,335 269.3,333.4 269.3,331.6 269.4,333.2 269.4,333.8 269.5,332.9 269.5,335.8 269.5,334.3 269.6,333.9 269.6,334 269.7,334.6 269.7,331.5 269.7,333.4 269.8,333.2 269.8,333.7 269.9,335.9 269.9,332.8 269.9,333 270,333.9 270,334.3 270.1,333.6 270.1,335.4 270.1,331.4 270.2,334.1 270.2,333 270.3,333.7 270.3,335.7 270.3,334 270.4,334.7 270.4,334.7"/>
<path d="M37.9 338.7v-1.8 M37.9 186.2v1.8 M41.1 338.7v-1.8 M41.1 186.2v1.8 M44.4 338.7v-1.8 M44.4 186.2v1.8 M47.6 338.7v-1.8 M47.6 186.2v1.8 M50.8 338.7v-1.8 M50.8 186.2v1.8 M54 338.7v-1.8 M54 186.2v1.8 M57.3 338.7v-1.8 M57.3 186.2v1.8 M60.5 338.7v-3.6 M60.5 186.2v3.6 M63.7 338.7v-1.8 M63.7 186.2v1.8 M67 338.7v-1.8 M67 186.2v1.8 M70.2 338.7v-1.8 M70.2 186.2v1.8 M73.4 338.7v-1.8 M73.4 186.2v1.8 M76.7 338.7v-1.8 M76.7 186.2v1.8 M79.9 338.7v-1.8 M79.9 186.2v1.8 M83.1 338.7v-1.8 M83.1 186.2v1.8 M86.3 338.7v-1.8 M86.3 186.2v1.8 M89.6 338.7v-1.8 M89.6 186.2v1.8 M92.8 338.7v-3.6 M92.8 186.2v3.6 M96 338.7v-1.8 M96 186.2v1.8 M99.3 338.7v-1.8 M99.3 186.2v1.8 M102.5 338.7v-1.8 M102.5 186.2v1.8 M105.7 338.7v-1.8 M105.7 186.2v1.8 M109 338.7v-1.8 M109 186.2v1.8 M112.2 338.7v-1.8 M112.2 186.2v1.8 M115.4 338.7v-1.8 M115.4 186.2v1.8 M118.6 338.7v-1.8 M118.6 186.2v1.8 M121.9 338.7v-1.8 M121.9 186.2v1.8 M125.1 338.7v-3.6 M125.1 186.2v3.6 M128.3 338.7v-1.8 M128.3 186.2v1.8 M131.6 338.7v-1.8 M131.6 186.2v1.8 M134.8 338.7v-1.8 M134.8 186.2v1.8 M138 338.7v-1.8 M138 186.2v1.8 M141.2 338.7v-1.8 M141.2 186.2v1.8 M144.5 338.7v-1.8 M144.5 186.2v1.8 M147.7 338.7v-1.8 M147.7 186.2v1.8 M150.9 338.7v-1.8 M150.9 186.2v1.8 M154.2 338.7v-1.8 M154.2 186.2v1.8 M157.4 338.7v-3.6 M157.4 186.2v3.6 M160.6 338.7v-1.8 M160.6 186.2v1.8 M163.9 338.7v-1.8 M163.9 186.2v1.8 M167.1 338.7v-1.8 M167.1 186.2v1.8 M170.3 338.7v-1.8 M170.3 186.2v1.8 M173.6 338.7v-1.8 M173.6 186.2v1.8 M176.8 338.7v-1.8 M176.8 186.2v1.8 M180 338.7v-1.8 M180 186.2v1.8 M183.2 338.7v-1.8 M183.2 186.2v1.8 M186.5 338.7v-1.8 M186.5 186.2v1.8 M189.7 338.7v-3.6 M189.7 186.2v3.6 M192.9 338.7v-1.8 M192.9 186.2v1.8 M196.2 338.7v-1.8 M196.2 186.2v1.8 M199.4 338.7v-1.8 M199.4 186.2v1.8 M202.6 338.7v-1.8 M202.6 186.2v1.8 M205.8 338.7v-1.8 M205.8 186.2v1.8 M209.1 338.7v-1.8 M209.1 186.2v1.8 M212.3 338.7v-1.8 M212.3 186.2v1.8 M215.5 338.7v-1.8 M215.5 186.2v1.8 M218.8 338.7v-1.8 M218.8 186.2v1.8 M222 338.7v-3.6 M222 186.2v3.6 M225.2 338.7v-1.8 M225.2 186.2v1.8 M228.5 338.7v-1.8 M228.5 186.2v1.8 M231.7 338.7v-1.8 M231.7 186.2v1.8 M234.9 338.7v-1.8 M234.9 186.2v1.8 M238.2 338.7v-1.8 M238.2 186.2v1.8 M241.4 338.7v-1.8 M241.4 186.2v1.8 M244.6 338.7v-1.8 M244.6 186.2v1.8 M247.8 338.7v-1.8 M247.8 186.2v1.8 M251.1 338.7v-1.8 M251.1 186.2v1.8 M254.3 338.7v-3.6 M254.3 186.2v3.6 M257.5 338.7v-1.8 M257.5 186.2v1.8 M260.8 338.7v-1.8 M260.8 186.2v1.8 M264 338.7v-1.8 M264 186.2v1.8 M267.2 338.7v-1.8 M267.2 186.2v1.8 M34.9 333.8h1.8 M270.6 333.8h-1.8 M34.9 329h1.8 M270.6 329h-1.8 M34.9 324.2h1.8 M270.6 324.2h-1.8 M34.9 319.4h1.8 M270.6 319.4h-1.8 M34.9 314.7h3.6 M270.6 314.7h-3.6 M34.9 309.9h1.8 M270.6 309.9h-1.8 M34.9 305.1h1.8 M270.6 305.1h-1.8 M34.9 300.3h1.8 M270.6 300.3h-1.8 M34.9 295.5h1.8 M270.6 295.5h-1.8 M34.9 290.7h3.6 M270.6 290.7h-3.6 M34.9 285.9h1.8 M270.6 285.9h-1.8 M34.9 281.1h1.8 M270.6 281.1h-1.8 M34.9 276.3h1.8 M270.6 276.3h-1.8 M34.9 271.5h1.8 M270.6 271.5h-1.8 M34.9 266.8h3.6 M270.6 266.8h-3.6 M34.9 262h1.8 M270.6 262h-1.8 M34.9 257.2h1.8 M270.6 257.2h-1.8 M34.9 252.4h1.8 M270.6 252.4h-1.8 M34.9 247.6h1.8 M270.6 247.6h-1.8 M34.9 242.8h3.6 M270.6 242.8h-3.6 M34.9 238h1.8 M270.6 238h-1.8 M34.9 233.2h1.8 M270.6 233.2h-1.8 M34.9 228.4h1.8 M270.6 228.4h-1.8 M34.9 223.6h1.8 M270.6 223.6h-1.8 M34.9 218.9h3.6 M270.6 218.9h-3.6 M34.9 214.1h1.8 M270.6 214.1h-1.8 M34.9 209.3h1.8 M270.6 209.3h-1.8 M34.9 204.5h1.8 M270.6 204.5h-1.8 M34.9 199.7h1.8 M270.6 199.7h-1.8 M34.9 194.9h3.6 M270.6 194.9h-3.6 M34.9 190.1h1.8 M270.6 190.1h-1.8" stroke="#585858" stroke-width="0.8" fill="none"/>
<text x="30.7" y="343.9" text-anchor="end" font-size="7.2" textLength="3.6" lengthAdjust="spacingAndGlyphs">0</text>
<text x="30.7" y="317.7" text-anchor="end" font-size="7.2" textLength="10.8" lengthAdjust="spacingAndGlyphs">100</text>
<text x="30.7" y="293.7" text-anchor="end" font-size="7.2" textLength="10.8" lengthAdjust="spacingAndGlyphs">200</text>
<text x="30.7" y="268.6" text-anchor="end" font-size="7.2" textLength="10.8" lengthAdjust="spacingAndGlyphs">300</text>
<text x="30.7" y="245.2" text-anchor="end" font-size="7.2" textLength="10.8" lengthAdjust="spacingAndGlyphs">400</text>
<text x="30.7" y="221.4" text-anchor="end" font-size="7.2" textLength="10.8" lengthAdjust="spacingAndGlyphs">500</text>
<text x="30.7" y="198.2" text-anchor="end" font-size="7.2" textLength="10.8" lengthAdjust="spacingAndGlyphs">600</text>
<text x="58.7" y="349.8" text-anchor="middle" font-size="7.2" textLength="12.9" lengthAdjust="spacingAndGlyphs">10.0</text>
<text x="90.8" y="349.8" text-anchor="middle" font-size="7.2" textLength="12.9" lengthAdjust="spacingAndGlyphs">20.0</text>
<text x="125.3" y="349.8" text-anchor="middle" font-size="7.2" textLength="12.9" lengthAdjust="spacingAndGlyphs">30.0</text>
<text x="157.8" y="349.8" text-anchor="middle" font-size="7.2" textLength="12.9" lengthAdjust="spacingAndGlyphs">40.0</text>
<text x="189.2" y="349.8" text-anchor="middle" font-size="7.2" textLength="12.9" lengthAdjust="spacingAndGlyphs">50.0</text>
<text x="220.3" y="349.8" text-anchor="middle" font-size="7.2" textLength="12.9" lengthAdjust="spacingAndGlyphs">60.0</text>
<text x="254.7" y="349.8" text-anchor="middle" font-size="7.2" textLength="12.9" lengthAdjust="spacingAndGlyphs">70.0</text>
<text x="152.8" y="360.6" text-anchor="middle" font-size="7.0" textLength="68" lengthAdjust="spacingAndGlyphs">Diffraction Angle (&#730;2&#952;)</text>
<g transform="translate(6.6 259.5) rotate(-90)"><text x="-24.05" y="2.4" font-size="6.6" textLength="21.9" lengthAdjust="spacingAndGlyphs">Intensity</text><text x="-0.75" y="2.4" font-size="6.6" textLength="24.3" lengthAdjust="spacingAndGlyphs">(counts)</text></g>
<text x="43.6" y="201.5" font-size="10" font-weight="bold" fill="#111" xml:space="preserve">( c )</text>
<text x="66.6" y="293.7" text-anchor="middle" font-size="7">Hal</text>
<text x="80.4" y="261.3" text-anchor="middle" font-size="7">Lct</text>
<text x="88.3" y="310.8" text-anchor="middle" font-size="7">Gbs</text>
<text x="95.8" y="302.9" text-anchor="middle" font-size="7">Hal</text>
<text x="110.8" y="198.8" text-anchor="middle" font-size="7">Lct</text>
<text x="121.8" y="308.2" text-anchor="middle" font-size="7">Nph</text>
<text x="127" y="277.8" text-anchor="middle" font-size="7">Lct</text>
<text x="137.8" y="302.9" text-anchor="middle" font-size="7">Hem</text>
<text x="144.1" y="309.4" text-anchor="middle" font-size="7">Rt</text>
<text x="151.6" y="315.6" text-anchor="middle" font-size="7">Pyr</text>
<text x="163.9" y="320.7" text-anchor="middle" font-size="7">Hem</text>
<text x="181.8" y="313.7" text-anchor="middle" font-size="7">Ant</text>
<text x="191.7" y="325.2" text-anchor="middle" font-size="7">Bhm</text>
<rect x="309.9" y="185.9" width="235.8" height="152.5" fill="none" stroke="#585858" stroke-width="1"/>
<path d="M310.7 235.8V300" stroke="#6060f2" stroke-width="1.1" fill="none"/>
<polyline fill="none" stroke="#0000ff" stroke-width="0.45" stroke-linejoin="round" filter="url(#soft)" points="310.2,233.3 310.2,241.2 310.3,247.2 310.3,254.9 310.4,252.2 310.4,252.2 310.4,258.7 310.5,261.2 310.5,263.6 310.6,271 310.6,267.8 310.6,277.5 310.7,275.4 310.7,270.5 310.8,277.1 310.8,278.2 310.8,281.1 310.9,282.1 310.9,288.1 311,285.9 311,281.3 311,284.3 311.1,284.4 311.1,284 311.2,284.7 311.2,286.2 311.2,287.2 311.3,292.4 311.3,289.1 311.4,292.5 311.4,290.2 311.5,292.6 311.5,296.5 311.5,295.4 311.6,297.9 311.6,294.3 311.7,296.1 311.7,295.5 311.7,301.1 311.8,296.5 311.8,300.4 311.9,296.8 311.9,298 311.9,301.6 312,299.9 312,301.9 312.1,299.5 312.1,298.1 312.1,299.5 312.2,298.9 312.2,304.5 312.3,302.7 312.3,303.1 312.3,302.7 312.4,306.9 312.4,304.5 312.5,305.3 312.5,309.8 312.5,308.1 312.6,305.2 312.6,308.4 312.7,307.9 312.7,304.8 312.7,306.5 312.8,307.2 312.8,306.7 312.9,307.8 312.9,307.5 312.9,307.1 313,306.2 313,304.3 313.1,307.9 313.1,307.5 313.1,307.7 313.2,309.9 313.2,307.1 313.3,306.5 313.3,310.2 313.3,307 313.4,310 313.4,305.3 313.5,305.6 313.5,308.5 313.6,311.4 313.6,309.3 313.6,310.8 313.7,311.4 313.7,309.8 313.8,306.6 313.8,309.1 313.8,309.1 313.9,312.4 313.9,310.6 314,312.7 314,308.9 314,311.2 314.1,310.8 314.1,311 314.2,311.7 314.2,309.3 314.2,310.2 314.3,311.5 314.3,310.1 314.4,309.8 314.4,307.7 314.4,310.3 314.5,307 314.5,310.4 314.6,310.1 314.6,312.1 314.6,309.3 314.7,312.9 314.7,313.3 314.8,310 314.8,312.5 314.8,313 314.9,309.4 314.9,312.4 315,309.9 315,313.2 315,310.3 315.1,309.3 315.1,311.9 315.2,308.4 315.2,312.6 315.2,312 315.3,310.8 315.3,309.7 315.4,312.8 315.4,313.4 315.4,312.2 315.5,310.5 315.5,313.3 315.6,314.5 315.6,312.4 315.7,310.4 315.7,313.3 315.7,312.1 315.8,316.9 315.8,313.3 315.9,312.7 315.9,312.2 315.9,312.5 316,311.5 316,314.3 316.1,311.8 316.1,316 316.1,314.7 316.2,312.6 316.2,312.7 316.3,317.9 316.3,312.7 316.3,314.3 316.4,314.4 316.4,313.1 316.5,314.1 316.5,311.9 316.5,318.5 316.6,315.9 316.6,314.6 316.7,318.1 316.7,311.9 316.7,310.7 316.8,315.2 316.8,313.4 316.9,314.2 316.9,314.1 316.9,316.6 317,314 317,317.8 317.1,312.8 317.1,314.9 317.1,312 317.2,319.9 317.2,317.3 317.3,320.1 317.3,317.3 317.3,316.1 317.4,318.7 317.4,318.5 317.5,318.9 317.5,315 317.5,312.4 317.6,313.2 317.6,315.1 317.7,317.1 317.7,316.8 317.8,319.2 317.8,320 317.8,315.8 317.9,318.3 317.9,317.1 318,317.7 318,314.2 318,313.6 318.1,317.5 318.1,316.7 318.2,317.7 318.2,313.9 318.2,314 318.3,317.1 318.3,311.2 318.4,315.8 318.4,318 318.4,320.3 318.5,318.7 318.5,317.4 318.6,318.9 318.6,316.6 318.6,315.3 318.7,318 318.7,316.7 318.8,315.1 318.8,316.8 318.8,319 318.9,317.2 318.9,317 319,314.2 319,318.7 319,320.8 319.1,317.7 319.1,317.8 319.2,319.1 319.2,318.2 319.2,318.8 319.3,316.6 319.3,320.6 319.4,319.3 319.4,318.4 319.4,320 319.5,316.6 319.5,317.7 319.6,318.7 319.6,316.4 319.6,318.2 319.7,318 319.7,317.7 319.8,318.8 319.8,318.7 319.8,317.8 319.9,321.3 319.9,320 320,318 320,319.1 320.1,320.8 320.1,315.2 320.1,321.6 320.2,318.5 320.2,317.9 320.3,316.8 320.3,320.2 320.3,319.5 320.4,320.9 320.4,319 320.5,320.4 320.5,319.8 320.5,318.2 320.6,316.1 320.6,319 320.7,318.6 320.7,322.7 320.7,319.1 320.8,321.7 320.8,318 320.9,319.1 320.9,321.2 320.9,322.6 321,320.8 321,320.8 321.1,322.1 321.1,321.1 321.1,321.4 321.2,321.7 321.2,320.7 321.3,319.4 321.3,317.2 321.3,318.4 321.4,321.2 321.4,317.9 321.5,319.3 321.5,320.9 321.5,318.2 321.6,321.3 321.6,321.6 321.7,321.6 321.7,318.3 321.7,320.8 321.8,321.1 321.8,322.6 321.9,323.3 321.9,321.4 321.9,319.7 322,317.1 322,322 322.1,318.4 322.1,321.3 322.2,325.8 322.2,321.3 322.2,319.7 322.3,320 322.3,321 322.4,321.4 322.4,325.3 322.4,321.5 322.5,321.7 322.5,322.9 322.6,321.2 322.6,323.2 322.6,318.2 322.7,324 322.7,323.3 322.8,326.2 322.8,323.5 322.8,323.1 322.9,324 322.9,323.2 323,320.8 323,321.7 323,319.6 323.1,323.2 323.1,325.8 323.2,323.3 323.2,325.5 323.2,322.4 323.3,325.2 323.3,324.9 323.4,324.1 323.4,326.7 323.4,325.1 323.5,322.8 323.5,325 323.6,323.8 323.6,323 323.6,324.1 323.7,323.2 323.7,322.4 323.8,323.5 323.8,323.5 323.8,323.8 323.9,325.3 323.9,325.9 324,320.6 324,322 324,324.6 324.1,323 324.1,322.6 324.2,322.1 324.2,324.2 324.3,326.3 324.3,326.3 324.3,325.7 324.4,323.3 324.4,322.5 324.5,325.2 324.5,325.1 324.5,322.2 324.6,321.7 324.6,325.7 324.7,322.8 324.7,323.3 324.7,324 324.8,324.8 324.8,325 324.9,325.1 324.9,327.9 324.9,324.8 325,323.2 325,323.1 325.1,322.7 325.1,323.8 325.1,324.1 325.2,321.5 325.2,325.5 325.3,325.3 325.3,323.7 325.3,325.1 325.4,327.4 325.4,325.7 325.5,326 325.5,325.4 325.5,325.4 325.6,323 325.6,322.7 325.7,322.5 325.7,323.9 325.7,322.6 325.8,323.4 325.8,322.4 325.9,326.8 325.9,324.8 325.9,322.6 326,326.4 326,323.8 326.1,325.2 326.1,325.3 326.1,327.6 326.2,326.2 326.2,327.9 326.3,323.9 326.3,325.8 326.4,325 326.4,325.4 326.4,324 326.5,324.8 326.5,324.6 326.6,325.9 326.6,325.8 326.6,328 326.7,327.5 326.7,328 326.8,328.7 326.8,329.4 326.8,329 326.9,325.9 326.9,325.6 327,326.9 327,325.4 327,325 327.1,321.4 327.1,328.2 327.2,325.2 327.2,328.9 327.2,325 327.3,327.4 327.3,326.3 327.4,326.6 327.4,325.3 327.4,331 327.5,328.2 327.5,326.3 327.6,328.3 327.6,325.4 327.6,324.5 327.7,327.8 327.7,326.9 327.8,325.3 327.8,323.3 327.8,325.1 327.9,325.9 327.9,328.4 328,326.4 328,326.3 328,327.3 328.1,325.8 328.1,327.6 328.2,328.2 328.2,324.2 328.2,327.7 328.3,324.6 328.3,328 328.4,327.4 328.4,328.8 328.4,327.2 328.5,323.5 328.5,325.8 328.6,329.6 328.6,323.3 328.7,327.8 328.7,326.9 328.7,326.7 328.8,330.7 328.8,324.6 328.9,325.2 328.9,327 328.9,325.7 329,327 329,327.5 329.1,327.1 329.1,329.3 329.1,327.5 329.2,327.4 329.2,323.5 329.3,328.6 329.3,324.6 329.3,325.2 329.4,326.1 329.4,327.9 329.5,323.9 329.5,324.9 329.5,327.4 329.6,327 329.6,325.8 329.7,324 329.7,328.5 329.7,327.5 329.8,325.9 329.8,329.4 329.9,326.5 329.9,325 329.9,327.6 330,327.4 330,331 330.1,326.8 330.1,329.6 330.1,328.1 330.2,326.6 330.2,328.6 330.3,325.9 330.3,326.3 330.3,326.8 330.4,325.7 330.4,328 330.5,330.7 330.5,325.5 330.5,326.1 330.6,327.9 330.6,328.7 330.7,325.3 330.7,328.2 330.8,327.5 330.8,327.3 330.8,323 330.9,327.5 330.9,331.6 331,328 331,330.1 331,331.1 331.1,327.8 331.1,329.1 331.2,325.9 331.2,328 331.2,325.6 331.3,325.5 331.3,327.7 331.4,327.1 331.4,325.1 331.4,327.2 331.5,330.4 331.5,327.3 331.6,326.9 331.6,325.7 331.6,327.3 331.7,326.7 331.7,328.2 331.8,327.5 331.8,327.5 331.8,326.3 331.9,327 331.9,325 332,325.9 332,325.2 332,323.3 332.1,322.5 332.1,321.4 332.2,318.8 332.2,317.8 332.2,316.2 332.3,317.9 332.3,315.8 332.3,320.2 332.4,320.8 332.4,321.4 332.4,324.2 332.5,324.1 332.5,325.4 332.6,326.8 332.6,327.1 332.6,327.5 332.7,326.5 332.7,327 332.8,328.6 332.8,329.5 332.9,327.9 332.9,333.1 332.9,329.5 333,327 333,325.9 333.1,326.2 333.1,325.8 333.1,326.5 333.2,327.8 333.2,331.8 333.3,329.3 333.3,328.7 333.3,325.7 333.4,328.9 333.4,329.1 333.5,327.5 333.5,330.9 333.5,328.6 333.6,327.2 333.6,328.6 333.7,328.2 333.7,330.9 333.7,330.2 333.8,328.1 333.8,325.5 333.9,328.3 333.9,329.2 333.9,329.1 334,326.9 334,329.6 334.1,327.3 334.1,328.9 334.1,328.6 334.2,330 334.2,329.1 334.3,326.5 334.3,328.9 334.3,329.5 334.4,332.2 334.4,327.7 334.5,330 334.5,328.9 334.5,329.4 334.6,330.8 334.6,330.1 334.7,330.8 334.7,326.4 334.7,328.3 334.8,328.5 334.8,327.9 334.9,326.9 334.9,327.6 334.9,327.9 335,325.6 335,332.7 335.1,330.3 335.1,330.7 335.2,329.6 335.2,333.1 335.2,329.7 335.3,327.4 335.3,330.9 335.4,328.3 335.4,331.1 335.4,330 335.5,331.9 335.5,330.2 335.6,331.5 335.6,327.9 335.6,331.5 335.7,328.6 335.7,329.8 335.8,329.9 335.8,326.8 335.8,328.8 335.9,329.8 335.9,328.9 336,328.8 336,330.6 336,327.4 336.1,329 336.1,329.6 336.2,330.5 336.2,329.7 336.2,328.9 336.3,328.7 336.3,329.8 336.4,329.5 336.4,328 336.4,330.8 336.5,326.3 336.5,327.7 336.6,329.7 336.6,328 336.6,330.3 336.7,326.3 336.7,328.4 336.8,328.5 336.8,324.5 336.8,326.7 336.9,323.4 336.9,322.4 337,319.1 337,315.8 337,313.7 337.1,309.7 337.1,310.3 337.1,311.7 337.2,311.7 337.2,315.9 337.3,318.9 337.3,320.8 337.3,324.3 337.4,323.8 337.4,327.2 337.5,328.5 337.5,326.4 337.5,329.5 337.6,329 337.6,329.9 337.7,329.1 337.7,328.4 337.7,331.7 337.8,329.3 337.8,330.6 337.9,327.3 337.9,326.6 337.9,328.2 338,328.1 338,327.8 338.1,328.5 338.1,332.2 338.1,332.2 338.2,330.4 338.2,331.2 338.3,330.1 338.3,328.4 338.3,330.8 338.4,328.5 338.4,326.9 338.5,329.6 338.5,328.6 338.5,330 338.6,330.1 338.6,330.5 338.7,332 338.7,329.6 338.7,329.6 338.8,332.3 338.8,331.4 338.9,333.6 338.9,330.4 338.9,328.8 339,330.4 339,329.9 339.1,332.9 339.1,333.2 339.1,331.1 339.2,328.3 339.2,330.2 339.3,332.4 339.3,331.3 339.4,331.2 339.4,329.1 339.4,329.2 339.5,331.9 339.5,331.8 339.6,331.5 339.6,330.7 339.6,331.9 339.7,329.6 339.7,331.3 339.8,330.8 339.8,331.9 339.8,330.4 339.9,331.5 339.9,330.4 340,329 340,330 340,327.6 340.1,331.4 340.1,329.8 340.2,330.8 340.2,332.4 340.2,331.4 340.3,328.3 340.3,331.6 340.4,330.3 340.4,334.5 340.4,331.1 340.5,332.9 340.5,330.6 340.6,329.3 340.6,332 340.6,328.9 340.7,332.3 340.7,331.4 340.8,332.5 340.8,332.2 340.8,331.7 340.9,334.2 340.9,332 341,332.6 341,329.9 341,336 341.1,331.3 341.1,329.5 341.2,327 341.2,328.7 341.2,330.3 341.3,328.4 341.3,331.6 341.4,331 341.4,332 341.5,331.8 341.5,328.3 341.5,334 341.6,333.5 341.6,330.3 341.7,330.8 341.7,328.9 341.7,330.5 341.8,329.5 341.8,331.4 341.9,332.4 341.9,332.2 341.9,331.5 342,331.5 342,331.9 342.1,329.4 342.1,330.2 342.1,331.5 342.2,333.3 342.2,331.3 342.3,334.5 342.3,333.2 342.3,333.5 342.4,332.9 342.4,331.2 342.5,336.9 342.5,329.1 342.5,331.2 342.6,332 342.6,331.5 342.7,330.6 342.7,331.2 342.7,328.2 342.8,331.1 342.8,331.8 342.9,333.2 342.9,331.7 342.9,330.5 343,334.1 343,330.5 343.1,331.5 343.1,332.2 343.1,329.9 343.2,333.9 343.2,333.6 343.3,330.9 343.3,329.8 343.3,329.3 343.4,330 343.4,331.4 343.5,328.9 343.5,330.1 343.5,328.5 343.6,329.1 343.6,331.1 343.6,329.8 343.7,329.4 343.7,329.4 343.8,330.7 343.8,330.4 343.8,327.8 343.9,329.1 343.9,329.6 344,329.5 344,330 344,330.8 344.1,332.1 344.1,329.1 344.2,332.2 344.2,330.5 344.2,330 344.3,332.8 344.3,333.1 344.4,331.2 344.4,332.8 344.4,333.8 344.5,329.9 344.5,331.9 344.6,331.5 344.6,329.2 344.6,333.7 344.7,332.2 344.7,333.5 344.8,329.8 344.8,333 344.8,328.1 344.9,330.6 344.9,329.8 345,328.8 345,330.5 345,331.4 345.1,332.1 345.1,330.8 345.2,332.3 345.2,331 345.2,331.8 345.3,331.5 345.3,332.6 345.4,330.2 345.4,329.5 345.4,330 345.5,332.1 345.5,332.4 345.6,329.4 345.6,329.7 345.6,329.8 345.7,332.4 345.7,331 345.8,331.5 345.8,329.4 345.9,330.1 345.9,331.2 345.9,331.9 346,329.4 346,331.3 346.1,330.8 346.1,331.4 346.1,330.8 346.2,329.9 346.2,332.1 346.3,332 346.3,330.5 346.3,336.3 346.4,331.4 346.4,332 346.5,330.1 346.5,330.5 346.5,331.4 346.6,333.1 346.6,331.6 346.7,331.8 346.7,331.5 346.7,331.1 346.8,331.7 346.8,330.9 346.9,331.9 346.9,330.3 346.9,330.6 347,328.8 347,331.2 347.1,329.3 347.1,332.4 347.1,332.7 347.2,330.8 347.2,333.1 347.3,331.2 347.3,331.9 347.3,331.9 347.4,331.6 347.4,332.2 347.5,331 347.5,332.6 347.5,335.5 347.6,332.3 347.6,329.4 347.7,329.3 347.7,329.5 347.7,330.7 347.8,332.8 347.8,329.2 347.9,332.2 347.9,332.3 348,333.4 348,327.5 348,330 348.1,332.2 348.1,328.7 348.2,327.8 348.2,329.6 348.2,326.7 348.3,325.7 348.3,324.2 348.4,322.3 348.4,322.8 348.4,321.3 348.4,322.7 348.5,324.1 348.5,323.5 348.6,326.4 348.6,327.6 348.6,327.3 348.7,330.1 348.7,331 348.8,329.5 348.8,330.1 348.8,331.7 348.9,330.5 348.9,333.2 349,331.2 349,333.6 349,331.2 349.1,334.1 349.1,331.3 349.2,332.2 349.2,332.4 349.2,331.7 349.3,331.6 349.3,329.7 349.4,332.3 349.4,330.8 349.4,332.4 349.5,333.7 349.5,333.5 349.6,334.4 349.6,331.8 349.6,332.3 349.7,332 349.7,334.8 349.8,333.2 349.8,329.8 349.8,330.2 349.9,332.1 349.9,332 350,331.6 350,330.2 350.1,329.9 350.1,331.2 350.1,330.8 350.2,331.6 350.2,330.9 350.3,329 350.3,332.9 350.3,330.3 350.4,332.8 350.4,332.7 350.5,333.1 350.5,332 350.5,329.5 350.6,329.1 350.6,330.5 350.7,331.3 350.7,329.7 350.7,333.9 350.8,334.4 350.8,334.1 350.9,332.5 350.9,334.4 350.9,332.9 351,329.4 351,332.9 351.1,332.9 351.1,333.4 351.1,331.8 351.2,331 351.2,331.8 351.3,332.4 351.3,334.6 351.3,334.4 351.4,332.9 351.4,333.3 351.5,332.3 351.5,332.3 351.5,329.4 351.6,330.5 351.6,334.2 351.7,331.4 351.7,332 351.7,332 351.8,332.7 351.8,331.9 351.9,329.9 351.9,333.8 351.9,332.8 352,331.8 352,334 352.1,330.9 352.1,332.2 352.1,331.8 352.2,331.1 352.2,329.7 352.3,332.7 352.3,332.3 352.4,330.8 352.4,329.1 352.4,332 352.5,331.4 352.5,331.4 352.6,331 352.6,332.5 352.6,333 352.7,333.1 352.7,333.3 352.8,332.2 352.8,333.5 352.8,333.4 352.9,332 352.9,332.5 353,332.3 353,333.5 353,329 353.1,331.7 353.1,332.2 353.2,333.3 353.2,331.7 353.2,331.3 353.3,333.3 353.3,333.2 353.4,333.3 353.4,329 353.4,330.5 353.5,331.7 353.5,330.4 353.6,329 353.6,330.3 353.6,330.1 353.7,330.6 353.7,332 353.8,330.5 353.8,329.8 353.8,331.5 353.9,331.6 353.9,333.2 354,331.2 354,332 354,332.5 354.1,329.9 354.1,331 354.2,329.6 354.2,330.2 354.2,331.6 354.3,329.5 354.3,330.2 354.4,328.9 354.4,331.6 354.5,330.8 354.5,329.1 354.5,327.8 354.6,328.8 354.6,329.8 354.7,329 354.7,326.8 354.7,326.9 354.8,323.1 354.8,318.2 354.9,311.4 354.9,301.1 354.9,288.3 355,273.4 355,263.5 355,259.8 355.1,261 355.1,268.8 355.1,284.9 355.2,298.2 355.2,308.5 355.3,317.3 355.3,321.5 355.3,324.8 355.4,325.3 355.4,327.5 355.5,329.2 355.5,328.2 355.5,327.8 355.6,329.4 355.6,329.2 355.7,331.1 355.7,328.6 355.7,331.6 355.8,330.1 355.8,330.6 355.9,329.9 355.9,329.9 355.9,332.7 356,331.7 356,333.2 356.1,332.6 356.1,333 356.1,328.1 356.2,330.9 356.2,329.4 356.3,331.3 356.3,328.3 356.3,330.9 356.4,332 356.4,332.7 356.5,334.3 356.5,335.2 356.6,331.8 356.6,333.3 356.6,332.3 356.7,329.1 356.7,331.9 356.8,328.1 356.8,330.1 356.8,331.8 356.9,329.9 356.9,329.7 357,330.5 357,333 357,333.2 357.1,330.4 357.1,328.7 357.2,328.6 357.2,331.6 357.2,331.5 357.3,331.3 357.3,330.8 357.4,332 357.4,332.2 357.4,332.6 357.5,335.7 357.5,333.2 357.6,331.8 357.6,334.2 357.6,329.6 357.7,333.8 357.7,331.1 357.8,330.4 357.8,330.1 357.8,333.4 357.9,331.6 357.9,329.3 358,330.7 358,329.1 358,334.1 358.1,329.6 358.1,330.6 358.2,331.3 358.2,333.8 358.2,333.2 358.3,332.5 358.3,332.3 358.4,333.1 358.4,330 358.4,329.5 358.5,331.8 358.5,329.9 358.6,333.2 358.6,331.7 358.7,330.7 358.7,331.9 358.7,333.7 358.8,332.7 358.8,333.1 358.9,333.3 358.9,333 358.9,331.4 359,331.3 359,330.5 359.1,332.5 359.1,331.1 359.1,330.4 359.2,333 359.2,329 359.3,332.5 359.3,332.1 359.3,332.1 359.4,334.1 359.4,334.4 359.5,333.7 359.5,332 359.5,332 359.6,328.9 359.6,331.7 359.7,331.9 359.7,332.2 359.7,330.6 359.8,330.7 359.8,330.8 359.9,330 359.9,329.6 359.9,333.4 360,330.9 360,332 360.1,331.4 360.1,332.9 360.1,331.7 360.2,331.8 360.2,331.8 360.3,333 360.3,331 360.3,333.7 360.4,335.3 360.4,331.5 360.5,332.4 360.5,334.3 360.5,332.4 360.6,331.2 360.6,329.4 360.7,331.2 360.7,332.6 360.7,333.2 360.8,334 360.8,332.4 360.9,332.6 360.9,330.5 361,332.9 361,329.5 361,331.8 361.1,332 361.1,331.5 361.2,331.8 361.2,329.8 361.2,332.7 361.3,332.6 361.3,332.9 361.4,330.7 361.4,333.7 361.4,330.1 361.5,332.9 361.5,332.7 361.6,330.7 361.6,331.3 361.6,333 361.7,330.6 361.7,329.7 361.8,331.5 361.8,330.7 361.8,330.4 361.9,327.9 361.9,332 362,331.5 362,332 362,331 362.1,331.8 362.1,331.5 362.2,331.7 362.2,330.1 362.2,331.5 362.3,330.3 362.3,331.8 362.4,330.3 362.4,333.8 362.4,334.1 362.5,331.3 362.5,329.3 362.6,331.2 362.6,332.5 362.6,328.2 362.7,329.8 362.7,331.3 362.8,328.3 362.8,327.9 362.8,330 362.9,329.8 362.9,328.3 363,327.9 363,326.2 363.1,326.1 363.1,323.3 363.1,323.6 363.2,321.5 363.2,319.2 363.3,317.3 363.3,317.5 363.3,317.4 363.3,317.5 363.4,319.5 363.4,321.5 363.5,325.1 363.5,327.6 363.5,327.9 363.6,328.9 363.6,330.8 363.7,330.4 363.7,331 363.7,330.7 363.8,332.4 363.8,329.7 363.9,331.7 363.9,333.5 363.9,329.8 364,328.5 364,330.2 364.1,332.6 364.1,330.7 364.1,328.7 364.2,330.3 364.2,330.4 364.3,332.8 364.3,332 364.3,332.7 364.4,330 364.4,331.1 364.5,329.5 364.5,333.4 364.5,331.7 364.6,331 364.6,330.4 364.7,330.7 364.7,333.2 364.7,328.7 364.8,332.9 364.8,332.6 364.9,332.2 364.9,332.5 364.9,331.1 365,331.2 365,331.6 365.1,332.4 365.1,331.4 365.2,330.5 365.2,332.2 365.2,332.9 365.3,330.1 365.3,330.7 365.4,330 365.4,332.2 365.4,331.6 365.5,332.8 365.5,333.3 365.6,332 365.6,331.9 365.6,330.6 365.7,331.8 365.7,328.9 365.8,328.9 365.8,330.4 365.8,331.6 365.9,332.5 365.9,329.3 366,331.7 366,328.5 366,331.9 366.1,332.7 366.1,329.1 366.2,332.6 366.2,329.8 366.2,331 366.3,331.3 366.3,329.9 366.4,328.9 366.4,328.9 366.4,330.7 366.5,330.7 366.5,328.6 366.6,331.3 366.6,330.5 366.6,330.9 366.7,325.7 366.7,327.2 366.8,328.9 366.8,329.5 366.8,328.7 366.9,332 366.9,329.8 367,328.1 367,328.7 367,329.5 367.1,327.8 367.1,328.3 367.2,326.3 367.2,327 367.2,327.6 367.3,324.8 367.3,328 367.4,325.7 367.4,326.5 367.5,327.1 367.5,327.8 367.5,327 367.6,325.9 367.6,328.2 367.7,326.9 367.7,325.7 367.7,327.2 367.8,327.1 367.8,323.7 367.9,325.4 367.9,325.7 367.9,324.2 368,324.5 368,325.1 368.1,324.5 368.1,324.8 368.1,325.4 368.1,324.5 368.2,326.2 368.2,325.5 368.3,326.4 368.3,324.8 368.3,326.7 368.4,325.7 368.4,327.3 368.5,327.8 368.5,325.5 368.5,326.3 368.6,327.2 368.6,325.9 368.7,326.9 368.7,324.8 368.7,326.9 368.8,326.3 368.8,327 368.9,326.7 368.9,327.4 368.9,327.9 369,328.2 369,329.5 369.1,327.9 369.1,329.4 369.1,329.6 369.2,328.2 369.2,330.6 369.3,328.5 369.3,326.9 369.3,328.7 369.4,327.6 369.4,330.1 369.5,329.2 369.5,332 369.6,330.8 369.6,330.7 369.6,327.7 369.7,327.9 369.7,333 369.8,331.5 369.8,332 369.8,328.4 369.9,329.2 369.9,330.9 370,328.6 370,328.7 370,330.6 370.1,328.3 370.1,329.5 370.2,329.1 370.2,332.2 370.2,330.6 370.3,333.9 370.3,330.4 370.4,332.8 370.4,329.7 370.4,329 370.5,333.4 370.5,329.1 370.6,332.1 370.6,330.3 370.6,331.9 370.7,332.4 370.7,332.4 370.8,332.7 370.8,329.1 370.8,330.5 370.9,331.8 370.9,329.9 371,331.4 371,330.4 371,331.9 371.1,329.5 371.1,332 371.2,331.6 371.2,330.4 371.2,329.1 371.3,330 371.3,330.3 371.4,326.2 371.4,331.3 371.4,335.1 371.5,330.8 371.5,333 371.6,333.7 371.6,330.1 371.7,330.5 371.7,332.2 371.7,332 371.8,331.1 371.8,329.1 371.9,331.6 371.9,329 371.9,330.7 372,330.4 372,328.5 372.1,330.4 372.1,328.8 372.1,330.6 372.2,335.6 372.2,331.8 372.3,331.4 372.3,330.9 372.3,328.3 372.4,331 372.4,329.9 372.5,329.8 372.5,329.7 372.5,332.8 372.6,331.3 372.6,331.7 372.7,328.6 372.7,331 372.7,329.1 372.8,330.2 372.8,333.3 372.9,333.4 372.9,331.9 372.9,330.8 373,328.9 373,331 373.1,332 373.1,330.2 373.1,332.7 373.2,328.9 373.2,332.1 373.3,331.5 373.3,328.3 373.3,330.8 373.4,332.5 373.4,330.2 373.5,332.4 373.5,333 373.5,332 373.6,333 373.6,329.5 373.7,331.8 373.7,332.1 373.8,329.8 373.8,331.9 373.8,332.4 373.9,331.5 373.9,332.6 374,331.7 374,331.7 374,330.7 374.1,332.4 374.1,333.2 374.2,332.5 374.2,334.5 374.2,331.6 374.3,330.4 374.3,329 374.4,330.6 374.4,329 374.4,333.4 374.5,328.6 374.5,330.6 374.6,329.8 374.6,331.9 374.6,330.3 374.7,330.6 374.7,331.1 374.8,330.9 374.8,329 374.8,332.7 374.9,332 374.9,330.9 375,328.9 375,332.5 375,332.2 375.1,333.5 375.1,330.6 375.2,331.7 375.2,331.1 375.2,331.1 375.3,333.6 375.3,329.4 375.4,330.3 375.4,333.6 375.4,332.3 375.5,332.9 375.5,332.1 375.6,328.3 375.6,329.5 375.6,331.6 375.7,327.3 375.7,329.7 375.8,330.5 375.8,332.1 375.8,332.3 375.9,331.2 375.9,326.6 376,333.2 376,332.3 376.1,329.6 376.1,330.7 376.1,330.8 376.2,325.6 376.2,330.9 376.3,332 376.3,331.9 376.3,331.1 376.4,330.4 376.4,328.9 376.5,329.8 376.5,331.3 376.5,328.1 376.6,331.2 376.6,331.6 376.7,330.1 376.7,329.4 376.7,331.7 376.8,332.7 376.8,331.1 376.9,332.1 376.9,331.7 376.9,329.2 377,329.7 377,334.6 377.1,328.6 377.1,328.8 377.1,332.5 377.2,328.8 377.2,333.8 377.3,329.9 377.3,332.9 377.3,331.5 377.4,331.7 377.4,330.7 377.5,333.5 377.5,329.4 377.5,329.7 377.6,330.6 377.6,329.1 377.7,330.9 377.7,328 377.7,329.4 377.8,328 377.8,332 377.9,330.2 377.9,332.8 377.9,329.6 378,330.3 378,331.1 378.1,328.9 378.1,330.6 378.2,329.4 378.2,332.3 378.2,332.2 378.3,331.4 378.3,334.5 378.4,332.6 378.4,330.8 378.4,333.1 378.5,330.1 378.5,332.7 378.6,330.2 378.6,331.3 378.6,327.9 378.7,331.2 378.7,327.3 378.8,331.2 378.8,327.8 378.8,329.5 378.9,331.4 378.9,327.3 379,329 379,328.5 379,329.1 379.1,328.2 379.1,329.9 379.1,328.7 379.2,329.6 379.2,328.8 379.2,327.4 379.3,326.7 379.3,329.1 379.4,329.6 379.4,328.6 379.4,328.7 379.5,330.1 379.5,325 379.6,329.2 379.6,330.4 379.6,329.3 379.7,328.7 379.7,330.8 379.8,331.7 379.8,330.8 379.8,330.4 379.9,331.1 379.9,331.7 380,330.7 380,331.1 380,333 380.1,327.2 380.1,329.2 380.2,328.4 380.2,328.7 380.3,332.7 380.3,327.8 380.3,332.6 380.4,332.5 380.4,330.8 380.5,331.8 380.5,329.5 380.5,329.5 380.6,331.2 380.6,328.2 380.7,333.5 380.7,330.5 380.7,329.9 380.8,328.1 380.8,329.3 380.9,332.6 380.9,328.5 380.9,330.1 381,330.1 381,330 381.1,329.3 381.1,332.2 381.1,330 381.2,328.5 381.2,328.9 381.3,328.5 381.3,332 381.3,329.3 381.4,328.6 381.4,330.9 381.5,329.7 381.5,331.4 381.5,329.6 381.6,329.8 381.6,331.3 381.7,329.7 381.7,330.7 381.7,333.1 381.8,332.1 381.8,331.4 381.9,332.1 381.9,328.5 381.9,331.1 382,330 382,333.7 382.1,331.6 382.1,332.9 382.1,330.5 382.2,331.1 382.2,329 382.3,327.8 382.3,332.6 382.4,329.2 382.4,329.5 382.4,330.2 382.5,330.6 382.5,330.4 382.6,329.6 382.6,330.1 382.6,329.5 382.7,331.4 382.7,330.2 382.8,330.1 382.8,329.8 382.8,329.6 382.9,329.9 382.9,330 383,331.6 383,333.7 383,332.5 383.1,329.8 383.1,330.7 383.2,331.5 383.2,329 383.2,330.1 383.3,328.4 383.3,332.9 383.4,331.8 383.4,330 383.4,329.3 383.5,327.5 383.5,329 383.6,327.6 383.6,328.5 383.6,330.2 383.7,328.7 383.7,329.7 383.8,329.4 383.8,332.4 383.8,331.6 383.9,331.4 383.9,329.8 384,331.1 384,332.2 384,330.6 384.1,326.3 384.1,330.5 384.2,332 384.2,330.7 384.2,329.8 384.3,329 384.3,329.8 384.4,328.1 384.4,329.6 384.4,332 384.5,329.1 384.5,331.6 384.6,328.6 384.6,330.4 384.7,333.3 384.7,333.5 384.7,332 384.8,331.2 384.8,330.4 384.9,330.3 384.9,327.9 384.9,328.5 385,328.7 385,329.7 385.1,326.2 385.1,327.1 385.1,327.3 385.2,330.4 385.2,328.1 385.3,331.8 385.3,328.1 385.3,328.4 385.4,328.5 385.4,333.3 385.5,327.2 385.5,332.2 385.5,331.6 385.6,330.6 385.6,330.3 385.7,331.5 385.7,327.7 385.7,329.4 385.8,329.4 385.8,331.4 385.9,328.6 385.9,328.9 385.9,326.5 386,329.8 386,331.1 386.1,328.4 386.1,328.1 386.1,326.8 386.2,328 386.2,329.5 386.3,328.1 386.3,329.2 386.3,327 386.4,324.3 386.4,328.9 386.5,329.2 386.5,328.9 386.5,327.3 386.6,326.7 386.6,327 386.7,329.1 386.7,325.8 386.8,325.4 386.8,324.7 386.8,325.8 386.9,327.5 386.9,324.6 387,325.6 387,325.4 387,323.5 387.1,323.5 387.1,322.8 387.2,323.6 387.2,322.5 387.2,320.7 387.3,319.9 387.3,318.9 387.4,318.9 387.4,316.3 387.4,316.2 387.5,313 387.5,309.6 387.6,306 387.6,296.6 387.6,285 387.7,267.5 387.7,244.1 387.8,219 387.8,199.2 387.8,193.5 387.8,196.4 387.9,212.5 387.9,238.4 388,261.7 388,281.2 388,293.6 388.1,302.8 388.1,308.3 388.2,311.1 388.2,315.1 388.2,315.6 388.3,318 388.3,317.9 388.4,319.4 388.4,320.7 388.4,321 388.5,321.4 388.5,321.4 388.6,323 388.6,322.6 388.6,323.3 388.7,323.8 388.7,324.2 388.8,324.2 388.8,323.3 388.9,326.3 388.9,325.7 388.9,325.8 389,326.1 389,327.4 389.1,329.7 389.1,326.2 389.1,325.3 389.2,325 389.2,325.5 389.3,328.5 389.3,326.2 389.3,327.9 389.4,326.5 389.4,323.8 389.5,324.7 389.5,327.3 389.5,326.1 389.6,324.2 389.6,323.9 389.7,324.4 389.7,324.7 389.7,323.9 389.8,322.8 389.8,321.6 389.9,320.3 389.9,319.9 389.9,322.4 389.9,321.5 390,321.5 390,322.1 390.1,321.3 390.1,323.3 390.1,325.3 390.2,323.4 390.2,326.4 390.3,327.1 390.3,326.1 390.3,323.9 390.4,325.2 390.4,327.1 390.5,326.8 390.5,328.2 390.5,326.2 390.6,327.4 390.6,330.6 390.7,328 390.7,326.1 390.7,328.9 390.8,327 390.8,327.3 390.9,326.2 390.9,329 391,325.6 391,327.1 391,325.7 391.1,326.2 391.1,328.1 391.2,328.4 391.2,327.3 391.2,324.3 391.3,324.6 391.3,325.9 391.4,325.3 391.4,326.1 391.4,325.9 391.5,324.6 391.5,324.9 391.6,325.2 391.6,324.1 391.6,321.6 391.7,325.5 391.7,323.3 391.8,323.1 391.8,324.2 391.8,322.5 391.9,319.7 391.9,322.6 392,320.5 392,320.8 392,317.6 392.1,316.1 392.1,313.8 392.2,311 392.2,306.6 392.2,302 392.3,298.6 392.3,294.9 392.3,294.2 392.4,294.5 392.4,296.4 392.4,300.1 392.5,305.2 392.5,310.6 392.6,313.7 392.6,317.4 392.6,319.2 392.7,320.5 392.7,321.9 392.8,320.6 392.8,321.7 392.8,322.2 392.9,323.1 392.9,322.4 393,322.2 393,324.8 393,326.5 393.1,324.9 393.1,325.7 393.2,325.5 393.2,325.7 393.3,325.1 393.3,327 393.3,327.5 393.4,327.4 393.4,327.5 393.5,328 393.5,326 393.5,327 393.6,327.5 393.6,327.3 393.7,326.1 393.7,325.4 393.7,326.5 393.8,325.8 393.8,325.7 393.9,327.5 393.9,328.5 393.9,324.6 394,326.2 394,325.9 394.1,329.7 394.1,328.4 394.1,327.5 394.2,326.2 394.2,327.3 394.3,325.8 394.3,326.5 394.3,328.6 394.4,329.3 394.4,329.5 394.5,328 394.5,325.8 394.5,327.7 394.6,324.6 394.6,325.9 394.7,325.8 394.7,327 394.7,324.9 394.8,322.4 394.8,322.5 394.9,319.6 394.9,317.6 394.9,316.2 395,315.3 395,312.1 395.1,312 395.1,310 395.1,311.5 395.1,312.2 395.2,313.5 395.2,316.8 395.3,317.9 395.3,320.3 395.4,320.5 395.4,325.2 395.4,324.4 395.5,325.1 395.5,326 395.6,328.4 395.6,328.3 395.6,326.4 395.7,328.3 395.7,329 395.8,329.4 395.8,326.7 395.8,326.2 395.9,327.2 395.9,325.6 396,326.8 396,327 396,329 396.1,328.1 396.1,326.5 396.2,327.1 396.2,327.2 396.2,326.6 396.3,331.5 396.3,326.4 396.4,326.5 396.4,327.2 396.4,326.8 396.5,329.3 396.5,327 396.6,327 396.6,327.6 396.6,326.8 396.7,324.8 396.7,327.3 396.8,328.1 396.8,327.9 396.8,325.9 396.9,326.4 396.9,327.2 397,327.4 397,327.6 397,329.7 397.1,329.3 397.1,326.8 397.2,326.3 397.2,327.2 397.2,327 397.3,327.5 397.3,325.4 397.4,328.2 397.4,327.5 397.5,327.6 397.5,329.5 397.5,330.8 397.6,329.2 397.6,324.8 397.7,328.6 397.7,327.4 397.7,327.1 397.8,325.3 397.8,327.7 397.9,328.3 397.9,330.1 397.9,324.7 398,326 398,330.5 398.1,326.2 398.1,328.4 398.1,327.4 398.2,328.4 398.2,326.7 398.3,324.6 398.3,326.4 398.3,325 398.4,325.9 398.4,326.1 398.5,326.3 398.5,326 398.5,325.6 398.6,326.8 398.6,327.5 398.7,325.9 398.7,325.1 398.7,326.5 398.8,328.1 398.8,326.1 398.9,328.6 398.9,325.6 398.9,327.1 399,327 399,326.3 399.1,326.7 399.1,325.6 399.1,326 399.2,326.1 399.2,325.2 399.3,323.7 399.3,323.8 399.3,324.2 399.4,322.7 399.4,323.2 399.5,325 399.5,323.3 399.5,324.5 399.6,321.4 399.6,324.4 399.7,323.3 399.7,322.3 399.8,324.6 399.8,323.5 399.8,322 399.9,321.1 399.9,321.8 400,319.5 400,318.3 400,316.3 400.1,313.4 400.1,311.5 400.2,308.2 400.2,303.3 400.2,297.9 400.3,291.8 400.3,286 400.4,280.1 400.4,276.5 400.4,275 400.4,275.7 400.5,278 400.5,282.6 400.6,288.3 400.6,294.2 400.6,299.1 400.7,304 400.7,306.8 400.8,310 400.8,311.4 400.8,312.8 400.9,313.8 400.9,313.1 401,313.4 401,314.2 401,315.4 401.1,314.6 401.1,315.4 401.2,315.3 401.2,314.7 401.2,314.7 401.2,314.4 401.3,315.1 401.3,314.1 401.4,315.6 401.4,314.8 401.4,314.7 401.5,316.4 401.5,316.2 401.6,315.3 401.6,315.6 401.6,316.9 401.7,317.2 401.7,317.2 401.8,316 401.8,315.7 401.9,316.2 401.9,315.6 401.9,315.8 402,316.2 402,315.3 402.1,316.7 402.1,316.3 402.1,315 402.2,312.8 402.2,311.4 402.3,305.4 402.3,301.4 402.3,293.9 402.4,285.8 402.4,274.1 402.5,264.5 402.5,256.6 402.5,255.6 402.5,256 402.6,262.4 402.6,272.6 402.7,283.7 402.7,294.7 402.7,303.2 402.8,309.1 402.8,313.4 402.9,315.5 402.9,318.6 402.9,319.1 403,320.7 403,321.2 403.1,321 403.1,323.6 403.1,321 403.2,323.2 403.2,324.2 403.3,322.9 403.3,324.2 403.3,324 403.4,324.2 403.4,326.1 403.5,324.7 403.5,327 403.5,325.6 403.6,326.3 403.6,327.8 403.7,329.1 403.7,326.2 403.7,329.4 403.8,327.4 403.8,324.8 403.9,324.3 403.9,326 404,327.5 404,325.2 404,328.3 404.1,327.9 404.1,327.1 404.2,328.8 404.2,329.7 404.2,330.4 404.3,329.7 404.3,329.4 404.4,327.6 404.4,326.4 404.4,327.2 404.5,328.1 404.5,327 404.6,328.9 404.6,326.5 404.6,327.5 404.7,326.4 404.7,328 404.8,328.2 404.8,327.5 404.8,326.9 404.9,326.3 404.9,326.7 405,325.8 405,328.4 405,325.8 405.1,327.9 405.1,324.4 405.2,328.1 405.2,325.9 405.2,324 405.3,325.3 405.3,326.9 405.4,325 405.4,324.8 405.4,324.8 405.5,321.2 405.5,321.7 405.6,319.6 405.6,321.2 405.6,321.3 405.6,320.4 405.7,322.7 405.7,322.9 405.8,325.8 405.8,323.5 405.8,323.6 405.9,324.1 405.9,326.1 406,328.6 406,325.4 406.1,328.5 406.1,327.8 406.1,324.5 406.2,325.9 406.2,326 406.3,324.3 406.3,328.2 406.3,326.2 406.4,328.6 406.4,326.9 406.5,326.4 406.5,326.1 406.5,326.3 406.6,327.3 406.6,326.1 406.7,324.6 406.7,326.5 406.7,324.1 406.8,323.2 406.8,325.1 406.9,325.2 406.9,321.8 406.9,322.2 406.9,323.4 407,324.2 407,325.1 407.1,325.3 407.1,328.3 407.1,325.6 407.2,329.2 407.2,329.2 407.3,328.5 407.3,327.6 407.3,328.4 407.4,328.3 407.4,326.7 407.5,328.9 407.5,329.1 407.5,327.4 407.6,327.7 407.6,328.6 407.7,329.4 407.7,327.8 407.7,328.4 407.8,328.8 407.8,330.8 407.9,331.9 407.9,331 407.9,325 408,329.3 408,329.9 408.1,329.4 408.1,330.5 408.1,330.3 408.2,327.7 408.2,327.3 408.3,330.8 408.3,329.7 408.4,329.7 408.4,329 408.4,329.8 408.5,329.3 408.5,330.1 408.6,330.7 408.6,331.6 408.6,330 408.7,328.8 408.7,331.7 408.8,328.5 408.8,330.7 408.8,328.7 408.9,328.9 408.9,333.4 409,331.6 409,328.6 409,328.2 409.1,328.5 409.1,330.4 409.2,328.8 409.2,333.3 409.2,328.7 409.3,329.4 409.3,330.8 409.4,329.1 409.4,331.4 409.4,329.4 409.5,329.2 409.5,330.1 409.6,329.5 409.6,330.5 409.6,327.2 409.7,333.2 409.7,330.2 409.8,329.3 409.8,328.5 409.8,327.5 409.9,329.8 409.9,330.8 410,329.4 410,330 410,329 410.1,329.7 410.1,332 410.2,327.6 410.2,331.3 410.2,328.6 410.3,327.7 410.3,329.3 410.4,327.2 410.4,331.3 410.5,330.6 410.5,329.4 410.5,327.2 410.6,329.5 410.6,330.1 410.7,328.2 410.7,328.3 410.7,331.4 410.8,329.2 410.8,328.1 410.9,330 410.9,329.5 410.9,327.7 411,330.8 411,328.6 411.1,330.2 411.1,328.6 411.1,328.1 411.2,328.9 411.2,330.5 411.3,330.2 411.3,331 411.3,329.5 411.4,328.1 411.4,325.3 411.5,324.8 411.5,323.7 411.5,322.7 411.6,320.5 411.6,318.1 411.7,315.5 411.7,316 411.7,315.1 411.7,314.5 411.8,316.2 411.8,317.4 411.9,319.3 411.9,322.3 411.9,323.4 412,325.2 412,326.4 412.1,325.9 412.1,328.3 412.1,328.2 412.2,326.8 412.2,328.2 412.3,325.9 412.3,328.4 412.3,330.1 412.4,328.8 412.4,331.4 412.5,330.6 412.5,330.4 412.6,328.7 412.6,327.9 412.6,330.1 412.7,328.9 412.7,330.4 412.8,330.9 412.8,328.7 412.8,328.9 412.9,330.4 412.9,328.1 413,329.9 413,328 413,331.2 413.1,328.3 413.1,329.3 413.2,331.2 413.2,330.1 413.2,331.2 413.3,332.8 413.3,333.5 413.4,330.9 413.4,332.3 413.4,331 413.5,328.9 413.5,331.2 413.6,331.3 413.6,332.3 413.6,329.3 413.7,330.5 413.7,330.6 413.8,329.2 413.8,328.3 413.8,330 413.9,333.1 413.9,327.5 414,328.9 414,329.6 414,328.3 414.1,330.7 414.1,329.5 414.2,328.4 414.2,330 414.2,328 414.3,330.5 414.3,329.2 414.4,329 414.4,330.6 414.4,330.3 414.5,331 414.5,326.1 414.6,328.3 414.6,330.7 414.7,329.3 414.7,331.2 414.7,328.1 414.8,332.6 414.8,328.7 414.9,331.8 414.9,329.8 414.9,331.1 415,333.3 415,328.9 415.1,329.9 415.1,330.4 415.1,330.5 415.2,328.7 415.2,331.9 415.3,331.8 415.3,330 415.3,332.5 415.4,332.1 415.4,332.2 415.5,329.2 415.5,332.1 415.5,329.4 415.6,330.5 415.6,331 415.7,332 415.7,329.8 415.7,332.7 415.8,329 415.8,332.7 415.9,329.4 415.9,330.8 415.9,331.5 416,329.5 416,330.4 416.1,331.3 416.1,330.3 416.1,333.8 416.2,329.8 416.2,331.7 416.3,330.1 416.3,330.8 416.3,329 416.4,330.3 416.4,330.3 416.5,328.7 416.5,329.4 416.5,331.2 416.6,329.8 416.6,331.6 416.7,331.6 416.7,329.6 416.7,329.7 416.8,330 416.8,329.6 416.9,331.7 416.9,330.2 417,331.2 417,331.2 417,331.3 417.1,333.5 417.1,329.3 417.2,332.9 417.2,331.6 417.2,330.1 417.3,327.6 417.3,331.5 417.4,329.5 417.4,330.3 417.4,329.9 417.5,331.7 417.5,329.8 417.6,331.4 417.6,331.1 417.6,330.7 417.7,329.5 417.7,330.8 417.8,329.6 417.8,329.1 417.8,329 417.9,330 417.9,328.6 418,328.1 418,328.5 418,327 418.1,328.1 418.1,326.5 418.2,327.2 418.2,327.7 418.2,326.5 418.3,328 418.3,329 418.4,327.2 418.4,327.1 418.4,328.1 418.5,327 418.5,325.4 418.6,324.4 418.6,326 418.6,324.8 418.7,325.2 418.7,323.8 418.8,324.9 418.8,321.9 418.8,321.5 418.9,320.8 418.9,321 419,318.9 419,318.8 419.1,315.5 419.1,315.7 419.1,312.8 419.2,312.3 419.2,311.2 419.3,309.2 419.3,308.4 419.3,308 419.3,308.9 419.4,309.1 419.4,309.7 419.5,310.3 419.5,312 419.5,312.2 419.6,314.7 419.6,315.3 419.7,316.6 419.7,317.9 419.7,318.3 419.8,320.2 419.8,318.9 419.8,321.9 419.9,320.3 419.9,320.7 419.9,321.4 420,320.9 420,321.1 420.1,323.3 420.1,324 420.1,321 420.2,322.9 420.2,323.5 420.3,321.7 420.3,324.3 420.3,324.7 420.4,323.3 420.4,324.3 420.5,325.2 420.5,325.9 420.5,325.3 420.6,326.6 420.6,324.4 420.7,327.2 420.7,326.9 420.7,326.5 420.8,327.6 420.8,324.7 420.9,327 420.9,325.8 420.9,328.4 421,323.9 421,326.7 421.1,326.3 421.1,327.4 421.2,326.5 421.2,328.5 421.2,327.8 421.3,327.3 421.3,329.6 421.4,328.4 421.4,326.5 421.4,326.9 421.5,328.8 421.5,327.7 421.6,328.6 421.6,326.5 421.6,328.6 421.7,330.5 421.7,329.2 421.8,327.4 421.8,331.4 421.8,329.3 421.9,328.7 421.9,330.2 422,328.6 422,330.1 422,329.3 422.1,331 422.1,329.4 422.2,331.9 422.2,333.8 422.2,327.8 422.3,328.6 422.3,330.7 422.4,330.1 422.4,330.7 422.4,327.3 422.5,331 422.5,328.8 422.6,329.3 422.6,331.2 422.6,328 422.7,332.5 422.7,330.1 422.8,330.2 422.8,329.8 422.8,332.1 422.9,330.4 422.9,329.8 423,332.6 423,330.5 423,329.4 423.1,328.5 423.1,331.3 423.2,328.3 423.2,331.3 423.3,329.6 423.3,332.2 423.3,330 423.4,330.1 423.4,325.2 423.5,325.6 423.5,325.7 423.5,324.8 423.6,321.7 423.6,320.8 423.7,320.6 423.7,319.9 423.7,319.7 423.7,321.3 423.8,323.2 423.8,324.5 423.9,324.6 423.9,325.9 423.9,326.6 424,327 424,328.9 424.1,329.7 424.1,328.1 424.1,332.1 424.2,331.5 424.2,328.2 424.3,329.4 424.3,331.4 424.3,332.7 424.4,332.6 424.4,329.8 424.5,332.1 424.5,330.9 424.5,334.6 424.6,330.8 424.6,333 424.7,331.3 424.7,329.1 424.7,331.2 424.8,330.4 424.8,333.3 424.9,332.2 424.9,332.8 424.9,329.6 425,332.5 425,331.1 425.1,330.2 425.1,333.7 425.1,331.3 425.2,333.1 425.2,328.8 425.3,330 425.3,328.7 425.3,330.3 425.4,330.4 425.4,334.6 425.5,334 425.5,331.2 425.6,331.4 425.6,332.7 425.6,333.7 425.7,332.1 425.7,333 425.8,330.6 425.8,332.8 425.8,331.8 425.9,333.2 425.9,328.8 426,330.7 426,331.1 426,332 426.1,333.9 426.1,330.8 426.2,330.7 426.2,329.3 426.2,331.4 426.3,333.4 426.3,333.1 426.4,331.2 426.4,332.2 426.4,333.6 426.5,328.7 426.5,332.3 426.6,332.9 426.6,328.9 426.6,333.9 426.7,331.1 426.7,330.5 426.8,331.6 426.8,331.9 426.8,332 426.9,330.7 426.9,333.1 427,329.6 427,328.6 427,335 427.1,329.7 427.1,331.1 427.2,330.7 427.2,330.5 427.2,331.7 427.3,330.7 427.3,333.8 427.4,330.4 427.4,330.5 427.4,331 427.5,329.3 427.5,332.5 427.6,330.4 427.6,330.2 427.7,333.5 427.7,331.8 427.7,332.5 427.8,332.4 427.8,328.1 427.9,331 427.9,332.2 427.9,331.9 428,331.7 428,328.4 428.1,330.5 428.1,333.1 428.1,332.3 428.2,332.1 428.2,333.4 428.3,332.6 428.3,332.9 428.3,331.5 428.4,330.3 428.4,333.6 428.5,332.5 428.5,332.1 428.5,330.3 428.6,333.2 428.6,332.9 428.7,331.2 428.7,333 428.7,333.6 428.8,330.1 428.8,332 428.9,330.5 428.9,331.8 428.9,332.2 429,332.1 429,327.9 429.1,327.8 429.1,328.3 429.1,327.7 429.2,329.8 429.2,329.6 429.2,331.8 429.3,329.1 429.3,328.6 429.3,329.3 429.4,327.8 429.4,331.7 429.5,330.6 429.5,332.4 429.5,331.8 429.6,333 429.6,332.4 429.7,334.4 429.7,331.1 429.8,331.8 429.8,332.5 429.8,333.9 429.9,331.4 429.9,333.5 430,333.5 430,334.4 430,332.1 430.1,331 430.1,333.6 430.2,329.7 430.2,331.5 430.2,332.2 430.3,330.7 430.3,332.2 430.4,330.3 430.4,331.3 430.4,329.4 430.5,332.9 430.5,332 430.6,331 430.6,330.7 430.6,333.6 430.7,329.1 430.7,332.8 430.8,332.3 430.8,331.3 430.8,333.3 430.9,333 430.9,332.6 431,333.6 431,329.8 431,331.5 431.1,331.5 431.1,331 431.2,331 431.2,331.2 431.2,333 431.3,329.9 431.3,329.4 431.4,328.2 431.4,331.6 431.4,332.5 431.5,333.2 431.5,334.4 431.6,332.6 431.6,334 431.6,332.5 431.7,330.1 431.7,330.8 431.8,330 431.8,334.7 431.8,331.6 431.9,332.2 431.9,332.2 432,330.9 432,331.6 432.1,332 432.1,334.1 432.1,329.8 432.2,333.6 432.2,331.4 432.3,334.2 432.3,334.5 432.3,332.4 432.4,334.1 432.4,331.6 432.5,332.2 432.5,331.2 432.5,329.9 432.6,333.4 432.6,331 432.7,335.9 432.7,334.1 432.7,333.9 432.8,334.8 432.8,332 432.9,332.8 432.9,333.8 432.9,329.1 433,332.7 433,332.1 433.1,332.5 433.1,330.8 433.1,331.4 433.2,332.3 433.2,328.3 433.3,330.2 433.3,331.9 433.3,335.6 433.4,331.9 433.4,333 433.5,332.7 433.5,333.6 433.5,331.3 433.6,330.7 433.6,333.1 433.7,334.3 433.7,334.3 433.7,332.4 433.8,334.4 433.8,333.3 433.9,330.7 433.9,331.3 433.9,331.9 434,333.7 434,331.1 434.1,331.1 434.1,333.2 434.2,331.7 434.2,330.2 434.2,328.6 434.3,331 434.3,331.2 434.4,333.1 434.4,332.3 434.4,333.4 434.5,330.9 434.5,333.5 434.6,331.9 434.6,334.6 434.6,333.8 434.7,333.6 434.7,333.2 434.8,332 434.8,331.3 434.8,330.9 434.9,331.8 434.9,332.7 435,332.7 435,331 435,332.7 435.1,327.7 435.1,329 435.2,329.7 435.2,332 435.2,330.2 435.3,330.3 435.3,329.4 435.4,329.1 435.4,326.2 435.4,328.6 435.5,326.9 435.5,325.7 435.6,325.5 435.6,326.9 435.6,324.1 435.6,326.4 435.7,326.2 435.7,326.6 435.8,326.8 435.8,327.3 435.8,327.9 435.9,328.7 435.9,328.4 436,330.9 436,330.3 436,330.7 436.1,331.2 436.1,330.4 436.2,332.3 436.2,332.9 436.3,331 436.3,332 436.3,331.8 436.4,330.5 436.4,330.4 436.5,333.5 436.5,329.9 436.5,334 436.6,330.8 436.6,333.6 436.7,332.8 436.7,333.1 436.7,332.9 436.8,333.2 436.8,334.9 436.9,332.6 436.9,332.4 436.9,331 437,332.4 437,333 437.1,331.5 437.1,330.4 437.1,334.4 437.2,330.7 437.2,331.6 437.3,330.5 437.3,332.9 437.3,333.2 437.4,331 437.4,332.6 437.5,332.6 437.5,332.2 437.5,331 437.6,330.8 437.6,331.2 437.7,333.3 437.7,335.4 437.7,331.5 437.8,332.3 437.8,333.3 437.9,332.7 437.9,332.2 437.9,333.1 438,330.8 438,330.5 438.1,330.6 438.1,330.8 438.1,332.1 438.2,334.6 438.2,332.8 438.3,331.3 438.3,331.6 438.4,331.1 438.4,332.8 438.4,331 438.5,332.1 438.5,331.7 438.6,330.8 438.6,329.2 438.6,329.9 438.7,330.7 438.7,331.5 438.8,327.9 438.8,328 438.8,330.2 438.9,327 438.9,325.1 439,325.8 439,324 439,324.2 439.1,322.7 439.1,323 439.1,324.3 439.2,324.4 439.2,326.1 439.2,325.4 439.3,328.5 439.3,327.3 439.4,329.6 439.4,330 439.4,328.4 439.5,329.9 439.5,329.9 439.6,331.5 439.6,333.4 439.6,331.7 439.7,333.6 439.7,330.7 439.8,329.8 439.8,329.7 439.8,331.9 439.9,333.6 439.9,329.9 440,332.5 440,331.1 440,334.1 440.1,333.2 440.1,332.4 440.2,334.2 440.2,332 440.2,333 440.3,331.6 440.3,334.2 440.4,331.7 440.4,330.4 440.4,331.9 440.5,333.2 440.5,333.8 440.6,334.6 440.6,333.3 440.7,334.2 440.7,333.4 440.7,330.6 440.8,333.1 440.8,334.1 440.9,329.8 440.9,330.6 440.9,329.5 441,332 441,332.8 441.1,331.3 441.1,331.6 441.1,327.8 441.2,332.4 441.2,332.2 441.3,332.4 441.3,334 441.3,328.6 441.4,330.7 441.4,330 441.5,329.4 441.5,331.2 441.5,329.2 441.6,328 441.6,329.1 441.7,326.5 441.7,327.1 441.7,326.6 441.8,327.5 441.8,328.2 441.8,328.8 441.9,327.7 441.9,328.4 441.9,328 442,331.5 442,327 442.1,331 442.1,332.1 442.1,329.9 442.2,332.3 442.2,329.6 442.3,330.3 442.3,332.8 442.3,334.5 442.4,331.3 442.4,331.1 442.5,333.4 442.5,332.1 442.5,333.2 442.6,333.8 442.6,332.2 442.7,332.5 442.7,332.3 442.8,337.3 442.8,335 442.8,331.3 442.9,330.2 442.9,329.7 443,330.6 443,330.4 443,331.1 443.1,332.5 443.1,331.7 443.2,330.5 443.2,331.6 443.2,332.5 443.3,329.7 443.3,333.1 443.4,332.3 443.4,334.9 443.4,332.5 443.5,333.3 443.5,334.5 443.6,329.7 443.6,333 443.6,332.5 443.7,331.9 443.7,331 443.8,334 443.8,332.5 443.8,333.6 443.9,337.1 443.9,333.3 444,335.9 444,332.1 444,333.4 444.1,333.1 444.1,332.6 444.2,334.2 444.2,332.6 444.2,332.9 444.3,330.6 444.3,333.2 444.4,332.6 444.4,332.6 444.4,334.5 444.5,333.4 444.5,331.6 444.6,331.3 444.6,330.9 444.6,331.4 444.7,332.4 444.7,333.9 444.8,333.6 444.8,333.9 444.9,332.8 444.9,332.2 444.9,332.4 445,330.3 445,331.7 445.1,332.7 445.1,332.1 445.1,329.9 445.2,331.7 445.2,330.9 445.3,331 445.3,329.5 445.3,332.7 445.3,328.7 445.4,330.8 445.4,331.2 445.5,329 445.5,330.5 445.5,331 445.6,332.5 445.6,330.3 445.7,331 445.7,332.9 445.7,333.5 445.8,333.1 445.8,330 445.9,331.4 445.9,334.5 445.9,333.8 446,334.9 446,330.3 446.1,330.5 446.1,332.2 446.1,330.3 446.2,332.9 446.2,330.5 446.3,330.3 446.3,333 446.3,333 446.4,330.9 446.4,329.9 446.5,332.3 446.5,332.9 446.5,329.5 446.6,331.1 446.6,330.3 446.7,329.7 446.7,328.3 446.7,331.7 446.8,329.5 446.8,328.5 446.9,329.3 446.9,330.2 446.9,330.5 447,326.5 447,330.5 447,326.9 447.1,329.8 447.1,330.8 447.2,331.6 447.2,330.3 447.2,330.8 447.3,330.8 447.3,330.9 447.4,331.4 447.4,331.1 447.4,331.5 447.5,332.2 447.5,331.5 447.6,333.1 447.6,330.7 447.6,332.9 447.7,332.1 447.7,331.4 447.8,331.4 447.8,332.8 447.8,332.2 447.9,331.2 447.9,333.8 448,331.4 448,331.9 448,333 448.1,332.7 448.1,333.1 448.2,333.4 448.2,334.4 448.2,332.1 448.3,333.1 448.3,329.9 448.4,332.2 448.4,330.1 448.4,333.4 448.5,331.7 448.5,333.5 448.6,333.3 448.6,330.5 448.6,331.3 448.7,333.9 448.7,332 448.8,333.9 448.8,332.5 448.8,330.2 448.9,331 448.9,331.3 449,329.1 449,331.6 449,330.2 449.1,330 449.1,330.1 449.2,331.1 449.2,329.8 449.3,330.5 449.3,329.9 449.3,330.5 449.4,329.7 449.4,329.2 449.5,328.3 449.5,328 449.5,327.5 449.5,327.8 449.6,328.6 449.6,329.1 449.7,328.4 449.7,328.8 449.7,328.3 449.8,328.6 449.8,330.1 449.9,330.1 449.9,326.8 449.9,330.6 450,329.3 450,329 450.1,328.7 450.1,330.7 450.1,330.3 450.2,330.2 450.2,327.9 450.2,330.3 450.3,328.3 450.3,331.4 450.3,331.6 450.4,330.2 450.4,331.1 450.5,332.3 450.5,332.2 450.5,332.2 450.6,330.8 450.6,330.9 450.7,332 450.7,332.8 450.7,330.9 450.8,331.9 450.8,332.7 450.9,332.6 450.9,331.6 450.9,329.8 451,333.1 451,332.5 451.1,331.9 451.1,334.8 451.1,332.8 451.2,334.2 451.2,332.4 451.3,332.9 451.3,334.2 451.4,329.9 451.4,335 451.4,335.6 451.5,332.9 451.5,335.4 451.6,331 451.6,333.3 451.6,331.7 451.7,330.2 451.7,330.9 451.8,332.2 451.8,333.2 451.8,332.7 451.9,334.4 451.9,333.3 452,329.3 452,333.4 452,331.3 452.1,333.3 452.1,335.8 452.2,332.6 452.2,334.1 452.2,332.1 452.3,330.5 452.3,336.9 452.4,332.5 452.4,335.7 452.4,334.3 452.5,334.3 452.5,333.9 452.6,334.4 452.6,333.8 452.6,335.1 452.7,335.6 452.7,331 452.8,331.5 452.8,333 452.8,330.2 452.9,330.4 452.9,331 453,334.1 453,333.4 453,331.2 453.1,332.3 453.1,332 453.2,334.3 453.2,333.1 453.2,333.8 453.3,332.5 453.3,330.5 453.4,335.2 453.4,333 453.5,332.6 453.5,333.2 453.5,336.6 453.6,333.2 453.6,334.3 453.7,330.7 453.7,334.6 453.7,331.2 453.8,332 453.8,336.9 453.9,335 453.9,332.9 453.9,333.8 454,333.4 454,329.6 454.1,333.3 454.1,332.7 454.1,331.8 454.2,331.8 454.2,335.2 454.3,332.1 454.3,331.5 454.3,330.7 454.4,334 454.4,333 454.5,331.6 454.5,332 454.5,334 454.6,334 454.6,329.2 454.7,330.6 454.7,334.5 454.7,331.6 454.8,332.4 454.8,333.1 454.9,330.6 454.9,331.5 454.9,333.2 455,331.4 455,331.1 455.1,334 455.1,332.4 455.1,330.8 455.2,334.6 455.2,330.8 455.3,332.5 455.3,333.1 455.3,332.8 455.4,332 455.4,330.4 455.5,331.2 455.5,331.2 455.6,333.4 455.6,334.9 455.6,331.4 455.7,331.8 455.7,332.4 455.8,331 455.8,330.5 455.8,330.2 455.9,335.9 455.9,334.1 456,332 456,333.6 456,332 456.1,334.9 456.1,333 456.2,330.2 456.2,334.4 456.2,334 456.3,336.8 456.3,333.5 456.4,333.4 456.4,333.7 456.4,332.8 456.5,333.3 456.5,333.1 456.6,331.9 456.6,330.1 456.6,334.1 456.7,333.2 456.7,333.9 456.8,333.6 456.8,331.7 456.8,332.5 456.9,333.8 456.9,332.4 457,333.3 457,333.4 457,333.8 457.1,331.6 457.1,332.6 457.2,332.3 457.2,328.9 457.2,333.1 457.3,330.8 457.3,331.4 457.4,331 457.4,332.2 457.4,332.5 457.5,331 457.5,333.9 457.6,334.5 457.6,336.5 457.6,333.2 457.7,332.3 457.7,332.3 457.8,335 457.8,334.2 457.9,334.1 457.9,333.6 457.9,333.2 458,330 458,329.9 458.1,332.5 458.1,328.3 458.1,328.8 458.2,329 458.2,329.5 458.3,331 458.3,326.5 458.3,326.9 458.4,327.2 458.4,324.8 458.5,323.4 458.5,320.6 458.5,321.8 458.6,321.2 458.6,320.9 458.6,322 458.7,322.6 458.7,324.3 458.7,326.5 458.8,326.6 458.8,331.3 458.9,329.5 458.9,331.2 458.9,328.7 459,331.5 459,333.9 459.1,331.8 459.1,332.1 459.1,331 459.2,332.4 459.2,330.7 459.3,333.9 459.3,334.4 459.3,333.1 459.4,333.8 459.4,335.6 459.5,334.3 459.5,331.8 459.5,334.8 459.6,329.8 459.6,335 459.7,331.3 459.7,334.1 459.7,331.6 459.8,330.7 459.8,333 459.9,331.9 459.9,333 460,334 460,333.5 460,333.8 460.1,332.9 460.1,331.4 460.2,331.5 460.2,331.7 460.2,335.1 460.3,331.3 460.3,331.5 460.4,332.7 460.4,332.7 460.4,333.8 460.5,333.9 460.5,333 460.6,331.7 460.6,333.7 460.6,332.9 460.7,330.5 460.7,333.8 460.8,331.3 460.8,333.2 460.8,332.7 460.9,332.3 460.9,332.9 461,333.2 461,331.5 461,333.4 461.1,332.4 461.1,333.8 461.2,334 461.2,333.2 461.2,332.1 461.3,334.1 461.3,333.5 461.4,332.2 461.4,332.4 461.4,332.1 461.5,330.6 461.5,332.7 461.6,330 461.6,325.6 461.6,327.7 461.7,325.3 461.7,326 461.8,323.3 461.8,324 461.8,325.1 461.8,325.2 461.9,324.7 461.9,328.2 462,328.5 462,328.9 462.1,332.2 462.1,332.5 462.1,331.4 462.2,333.2 462.2,332.2 462.3,331.8 462.3,332.1 462.3,333.3 462.4,332.9 462.4,332 462.5,335.3 462.5,331.9 462.5,332.6 462.6,329.4 462.6,332.6 462.7,332 462.7,333 462.7,334.4 462.8,331.5 462.8,336.1 462.9,332.1 462.9,332.2 462.9,330.3 463,331.5 463,331.7 463.1,331.4 463.1,332.1 463.1,332.4 463.2,331.6 463.2,331.1 463.3,331.3 463.3,332.8 463.3,332.7 463.4,334.9 463.4,335.9 463.5,331.5 463.5,331.7 463.5,331.6 463.6,330.1 463.6,330.2 463.7,332 463.7,335.2 463.7,333.7 463.8,333.1 463.8,333.2 463.9,333.9 463.9,335.1 463.9,333.3 464,332.5 464,332 464.1,333.2 464.1,330 464.1,333.3 464.2,332.3 464.2,330.2 464.3,328.9 464.3,328.4 464.4,328.7 464.4,329.5 464.4,325.7 464.5,325.3 464.5,321.7 464.6,319.2 464.6,314.9 464.6,311.1 464.7,309.4 464.7,308.6 464.7,307.3 464.8,309.8 464.8,313.5 464.8,319.1 464.9,322.5 464.9,325.8 465,326.9 465,328.6 465,331 465.1,330.6 465.1,331.1 465.2,330.7 465.2,330.4 465.2,331.5 465.3,332.9 465.3,332.1 465.4,333.3 465.4,331.4 465.4,333.7 465.5,333.4 465.5,333 465.6,333.5 465.6,331.9 465.6,332.2 465.7,332.9 465.7,332.2 465.8,333.3 465.8,331.6 465.8,331.5 465.9,331.9 465.9,331.1 466,332.6 466,332.3 466,332.3 466.1,331.7 466.1,331.5 466.2,332.9 466.2,334.3 466.2,331.4 466.3,328.5 466.3,330.8 466.4,331.7 466.4,333.5 466.5,328.1 466.5,331.5 466.5,332.8 466.6,331.8 466.6,330.6 466.7,333 466.7,334.9 466.7,334.5 466.8,334.2 466.8,332.4 466.9,333.8 466.9,333.1 466.9,333.2 467,331.2 467,334.4 467.1,334.7 467.1,331.1 467.1,334.2 467.2,331.9 467.2,334.7 467.3,333.3 467.3,337.5 467.3,333.3 467.4,332.4 467.4,333.5 467.5,333.7 467.5,331.3 467.5,332.7 467.6,334.3 467.6,333 467.7,332.8 467.7,334.4 467.7,334.3 467.8,334.2 467.8,334.8 467.9,335.7 467.9,332.5 467.9,332.6 468,336.2 468,332.9 468.1,334.2 468.1,334.3 468.1,333.6 468.2,333.7 468.2,334.8 468.3,333.9 468.3,334 468.3,333.3 468.4,332.5 468.4,332.6 468.5,331.7 468.5,329.7 468.6,331.4 468.6,331.4 468.6,334 468.7,330.8 468.7,333.4 468.8,332.6 468.8,331.8 468.8,332.8 468.9,331.4 468.9,333.6 469,335.2 469,333.8 469,336.9 469.1,332.6 469.1,332.5 469.2,332.9 469.2,332.5 469.2,335.9 469.3,333.5 469.3,336.1 469.4,331.4 469.4,331.9 469.4,333.8 469.5,331.2 469.5,334.3 469.6,334.4 469.6,334.8 469.6,333.4 469.7,332.9 469.7,330.3 469.8,332.2 469.8,335.4 469.8,331.5 469.9,335.4 469.9,333.2 470,333.1 470,334.5 470,336.3 470.1,330.9 470.1,333.5 470.2,333.4 470.2,332.4 470.2,333.9 470.3,331.6 470.3,333.9 470.4,333.6 470.4,334.1 470.4,333.4 470.5,330.8 470.5,333.7 470.6,333.5 470.6,334.1 470.7,331.9 470.7,331.1 470.7,330.7 470.8,330.4 470.8,334.9 470.9,333.1 470.9,332.7 470.9,334.4 471,335.2 471,333.5 471.1,332.1 471.1,332.7 471.1,335.6 471.2,333.6 471.2,330.4 471.3,335.7 471.3,331.8 471.3,332.9 471.4,333.2 471.4,333.7 471.5,335.1 471.5,330.6 471.5,332.2 471.6,331.8 471.6,335 471.7,333.8 471.7,332.1 471.7,328.9 471.8,333.1 471.8,329.9 471.9,330 471.9,332.3 471.9,333.4 472,332.1 472,329.9 472.1,330.4 472.1,330.2 472.1,329.9 472.2,329.1 472.2,326.3 472.3,321.8 472.3,319.8 472.3,315.6 472.4,313.2 472.4,309.4 472.5,309.1 472.5,309.8 472.5,312.3 472.5,314.9 472.6,318.4 472.6,323 472.7,325.3 472.7,327.4 472.7,329.9 472.8,329.9 472.8,331.2 472.9,331 472.9,332.8 473,331.7 473,332.5 473,332.5 473.1,330 473.1,332.9 473.2,328.6 473.2,330.6 473.2,329.5 473.3,330.5 473.3,333.7 473.4,333 473.4,330.8 473.4,331.5 473.5,333.3 473.5,332.9 473.6,331.1 473.6,332.1 473.6,329.3 473.7,329.3 473.7,330.1 473.8,329.5 473.8,329.2 473.8,327.3 473.9,326.5 473.9,323.6 474,321.2 474,321.5 474,320.1 474.1,319.6 474.1,319.7 474.1,320.3 474.2,322.2 474.2,323.5 474.2,326.3 474.3,327.2 474.3,329.6 474.4,329.3 474.4,328.3 474.4,330.5 474.5,331.6 474.5,331.9 474.6,333 474.6,331 474.6,330.4 474.7,332.2 474.7,331.2 474.8,334.2 474.8,331.1 474.8,332.9 474.9,333 474.9,331.9 475,331.1 475,333.2 475.1,332 475.1,332.2 475.1,332.6 475.2,335.5 475.2,331.2 475.3,333.9 475.3,331.4 475.3,332 475.4,330.2 475.4,332.4 475.5,330.2 475.5,333.1 475.5,331.5 475.6,333.7 475.6,334.4 475.7,334.8 475.7,333.5 475.7,337.3 475.8,336.9 475.8,333.5 475.9,334.7 475.9,332.1 475.9,333.5 476,333.1 476,333.1 476.1,332.2 476.1,332.6 476.1,331.3 476.2,333.6 476.2,335.8 476.3,331.2 476.3,334.2 476.3,332.3 476.4,332.9 476.4,335.2 476.5,333.3 476.5,331.1 476.5,331.5 476.6,331.7 476.6,332.3 476.7,335.4 476.7,334.1 476.7,333.9 476.8,332.7 476.8,333.1 476.9,333.3 476.9,333.5 476.9,333.3 477,332 477,333.1 477.1,333.6 477.1,333.8 477.2,330.5 477.2,336.8 477.2,331.5 477.3,331.4 477.3,332.1 477.4,333.5 477.4,332.2 477.4,334.6 477.5,330.4 477.5,333.7 477.6,334.3 477.6,336.2 477.6,333.2 477.7,332.4 477.7,334.8 477.8,333.2 477.8,332.9 477.8,330.4 477.9,331.8 477.9,330.5 478,331.5 478,330.5 478,329.4 478.1,332 478.1,333.1 478.2,329.9 478.2,331.2 478.2,332.8 478.3,334.5 478.3,332.7 478.4,332.2 478.4,329.8 478.4,331.9 478.5,334 478.5,334.5 478.6,335.3 478.6,331.8 478.6,336.4 478.7,333.3 478.7,332.4 478.8,328.6 478.8,330.2 478.8,332.4 478.9,332 478.9,335.5 479,335.7 479,334.8 479,331.3 479.1,331.4 479.1,334.5 479.2,335.4 479.2,332.7 479.3,333.4 479.3,331.7 479.3,331.8 479.4,334.9 479.4,335.7 479.5,331.8 479.5,333.2 479.5,333 479.6,332.2 479.6,331.8 479.7,331.3 479.7,333.6 479.7,335.3 479.8,331.7 479.8,332.4 479.9,333.2 479.9,331.7 479.9,333 480,334.2 480,333.3 480.1,331.4 480.1,333.3 480.1,333.5 480.2,333.8 480.2,334.7 480.3,334.7 480.3,332.8 480.3,331.4 480.4,330.8 480.4,332.1 480.5,331.7 480.5,331.5 480.5,331.4 480.6,335.1 480.6,334.4 480.7,334.2 480.7,332.7 480.7,332.4 480.8,332.4 480.8,333.1 480.9,332.6 480.9,333.5 480.9,334 481,331.5 481,332.5 481.1,331.7 481.1,331.8 481.1,331.4 481.2,334.2 481.2,331.4 481.3,330.6 481.3,331.9 481.3,333.1 481.4,333.9 481.4,334.9 481.5,333.3 481.5,335.7 481.6,331.3 481.6,335.3 481.6,333.2 481.7,333 481.7,332.9 481.8,334.5 481.8,330.8 481.8,332 481.9,333.5 481.9,334.6 482,334 482,334.2 482,331.1 482.1,333.1 482.1,334.3 482.2,332.9 482.2,332.1 482.2,332.1 482.3,332.3 482.3,333.4 482.4,330.8 482.4,334.3 482.4,335.2 482.5,333.9 482.5,332.9 482.6,334.4 482.6,334.5 482.6,332.4 482.7,331.8 482.7,332.8 482.8,330.7 482.8,334.5 482.8,336.2 482.9,333.8 482.9,331.8 483,332.2 483,332.3 483,332.8 483.1,333.1 483.1,332.1 483.2,333.9 483.2,332.2 483.2,331.9 483.3,331.6 483.3,335.7 483.4,335.8 483.4,333.2 483.4,334.5 483.5,335 483.5,334.2 483.6,334.8 483.6,332.9 483.7,333.1 483.7,333.2 483.7,332.2 483.8,333.9 483.8,330.8 483.9,332.3 483.9,332.8 483.9,332.8 484,335.2 484,332.3 484.1,329.5 484.1,331.6 484.1,333.2 484.2,330.7 484.2,331.9 484.3,331 484.3,331.3 484.3,334.6 484.4,334.8 484.4,335.3 484.5,331.9 484.5,331.4 484.5,331 484.6,331.1 484.6,332.8 484.7,333.3 484.7,331.4 484.7,331.9 484.8,333.1 484.8,332.1 484.9,333.1 484.9,334.1 484.9,331.5 485,333.8 485,330.3 485.1,333.4 485.1,332.6 485.1,331 485.2,332.5 485.2,335.7 485.3,330.6 485.3,331.7 485.3,335.9 485.4,331.8 485.4,330 485.5,333.5 485.5,330.8 485.5,332.2 485.6,329.5 485.6,331.4 485.7,335.2 485.7,334.7 485.8,334.1 485.8,334.9 485.8,333.3 485.9,329.6 485.9,333.3 486,332.1 486,329.7 486,330.6 486.1,332.7 486.1,335 486.2,333.7 486.2,332.8 486.2,331.3 486.3,331.4 486.3,331.8 486.4,332.4 486.4,330.3 486.4,332.3 486.5,329.9 486.5,331.3 486.6,331.2 486.6,328.5 486.6,328.8 486.7,330.2 486.7,328.3 486.8,328 486.8,328.6 486.8,326.9 486.9,327 486.9,326.2 487,327.1 487,326.5 487,326.9 487,325.1 487.1,326.7 487.1,328.2 487.2,328.5 487.2,329.9 487.2,327.8 487.3,329.9 487.3,331.9 487.4,331 487.4,332.5 487.4,333.6 487.5,330.9 487.5,332.8 487.6,330.6 487.6,330.3 487.6,333.1 487.7,332.9 487.7,328.5 487.8,330.8 487.8,332.6 487.9,334.6 487.9,335.5 487.9,333.1 488,331.6 488,331.8 488.1,328.9 488.1,333.6 488.1,333.1 488.2,331.9 488.2,332.7 488.3,333.4 488.3,331.4 488.3,331.7 488.4,332.3 488.4,332.3 488.5,332.1 488.5,330.5 488.5,332.4 488.6,334.1 488.6,332.5 488.7,331.2 488.7,331 488.7,333 488.8,330.9 488.8,330.1 488.9,331.8 488.9,332.4 488.9,330.7 489,328.7 489,328.2 489.1,326.5 489.1,326.9 489.1,326.1 489.2,326.5 489.2,326.5 489.2,328.4 489.3,326.5 489.3,326.8 489.3,327.5 489.4,327.4 489.4,328.1 489.5,329.5 489.5,330.1 489.5,329.8 489.6,330.8 489.6,330.5 489.7,329.2 489.7,329.8 489.7,331 489.8,331.7 489.8,332.9 489.9,332 489.9,333 489.9,329.4 490,333.3 490,330.2 490.1,331.8 490.1,334 490.2,333.7 490.2,331.1 490.2,332.6 490.3,330.9 490.3,331.2 490.4,332.3 490.4,332.3 490.4,331.5 490.5,332.8 490.5,331.3 490.6,331.3 490.6,331.5 490.6,330.5 490.7,331.9 490.7,330.5 490.8,330.4 490.8,333.2 490.8,328.8 490.9,329 490.9,328.5 490.9,333 491,329.3 491,331.7 491,331 491.1,332.9 491.1,330 491.2,331 491.2,328.2 491.2,331.4 491.3,331.3 491.3,329.8 491.4,333.1 491.4,334.5 491.4,331.3 491.5,333.9 491.5,333.2 491.6,331.9 491.6,332.6 491.6,330.6 491.7,333.2 491.7,333.6 491.8,331.3 491.8,332.8 491.8,334.5 491.9,333.1 491.9,332 492,334.1 492,333.6 492,335.8 492.1,331.4 492.1,335.7 492.2,331.7 492.2,332.1 492.3,330.4 492.3,332.2 492.3,331 492.4,332.1 492.4,334.2 492.5,331.8 492.5,331.4 492.5,334.7 492.6,331.9 492.6,331.5 492.7,333 492.7,330.7 492.7,332.7 492.8,332.3 492.8,331.5 492.9,334 492.9,331.5 492.9,331 493,331 493,332.9 493.1,332.5 493.1,330.6 493.1,332.9 493.2,332 493.2,330.4 493.3,335 493.3,333 493.3,333.6 493.4,333.1 493.4,330.9 493.5,333.4 493.5,330.2 493.5,333.7 493.6,332.8 493.6,331.6 493.7,333.9 493.7,335.6 493.7,334.3 493.8,331 493.8,331.4 493.9,338.3 493.9,333.3 493.9,333.5 494,336.2 494,333.9 494.1,332 494.1,334.7 494.1,331 494.2,333.2 494.2,333.4 494.3,334.3 494.3,332.9 494.4,331.5 494.4,333.5 494.4,334.3 494.5,334.2 494.5,333.7 494.6,332.2 494.6,333.6 494.6,334.3 494.7,331.2 494.7,331.7 494.8,331.5 494.8,331.4 494.8,329.8 494.9,332.2 494.9,333 495,335.7 495,334.5 495,335.5 495.1,331.6 495.1,334.1 495.2,333.9 495.2,333.2 495.2,333.1 495.3,335.1 495.3,334.2 495.4,330.9 495.4,333 495.4,331.4 495.5,334.1 495.5,332.7 495.6,331.9 495.6,330.8 495.6,333.5 495.7,334.8 495.7,333 495.8,333.8 495.8,334.5 495.8,333.2 495.9,331.9 495.9,332.8 496,331.6 496,333.7 496,335 496.1,333.6 496.1,332.5 496.2,336 496.2,334.3 496.2,331.5 496.3,333 496.3,329.3 496.4,336.2 496.4,335.5 496.4,332.2 496.5,332.4 496.5,333.4 496.6,333 496.6,334.2 496.7,334.6 496.7,331.7 496.7,333.9 496.8,330.6 496.8,332.5 496.9,332.6 496.9,331.3 496.9,331.9 497,329.1 497,332.4 497.1,334.8 497.1,332.6 497.1,334.6 497.2,332.7 497.2,334.1 497.3,334.3 497.3,333.8 497.3,332.4 497.4,334.3 497.4,331.2 497.5,332.9 497.5,334.1 497.5,334.8 497.6,332.5 497.6,334.3 497.7,335.3 497.7,335.3 497.7,333.7 497.8,334.8 497.8,332.4 497.9,330.7 497.9,333.6 497.9,333.3 498,330.2 498,334.7 498.1,330.8 498.1,336.1 498.1,335.3 498.2,334.4 498.2,330.1 498.3,332.2 498.3,330.7 498.3,332.3 498.4,330.1 498.4,331.7 498.5,329.8 498.5,332.1 498.5,330.9 498.6,331.3 498.6,332.4 498.6,331.1 498.7,330.9 498.7,332.2 498.8,332.3 498.8,329.7 498.8,333.1 498.9,331.6 498.9,331.6 499,330.7 499,329 499,331.7 499.1,332.3 499.1,334.6 499.2,333.2 499.2,335.1 499.2,333.5 499.3,335.6 499.3,332.6 499.4,331 499.4,333.3 499.4,335.1 499.5,332 499.5,335 499.6,334.9 499.6,333.7 499.6,334.1 499.7,332.7 499.7,330.6 499.8,333.9 499.8,332.4 499.8,332.7 499.9,332 499.9,334.9 500,333.6 500,331.3 500,332.1 500.1,332.7 500.1,332.4 500.2,332.5 500.2,334.2 500.2,335.3 500.3,331.7 500.3,331.7 500.4,333.7 500.4,334.3 500.4,330.6 500.5,329.8 500.5,336.7 500.6,332.8 500.6,332.6 500.6,333.8 500.7,334.7 500.7,332.4 500.8,330.7 500.8,335.8 500.9,336.4 500.9,331.9 500.9,333.7 501,334.8 501,334.1 501.1,332.1 501.1,337.1 501.1,336.6 501.2,331.9 501.2,335.6 501.3,331.8 501.3,337.7 501.3,335.8 501.4,336.5 501.4,333.1 501.5,331.4 501.5,331.5 501.5,333.2 501.6,334.1 501.6,332.4 501.7,335.7 501.7,332.4 501.7,331.8 501.8,332.4 501.8,334.4 501.9,336.1 501.9,331.7 501.9,337.1 502,335.6 502,331.5 502.1,331.3 502.1,335 502.1,335.5 502.2,335 502.2,334.1 502.3,334.7 502.3,332.8 502.3,330.7 502.4,335 502.4,333.2 502.5,334 502.5,333.3 502.5,334.8 502.6,333.1 502.6,335 502.7,333.6 502.7,331.9 502.7,332.5 502.8,333.6 502.8,333.2 502.9,333.3 502.9,331.8 503,333 503,331.1 503,335.4 503.1,335.5 503.1,333.4 503.2,334.1 503.2,333.6 503.2,332.6 503.3,335.2 503.3,333.9 503.4,334.5 503.4,331.4 503.4,332.9 503.5,332.9 503.5,333.7 503.6,335.7 503.6,333.3 503.6,334.6 503.7,332.6 503.7,335.6 503.8,334.5 503.8,334.1 503.8,335.2 503.9,331.1 503.9,334.3 504,332.7 504,333.7 504,334.2 504.1,334.2 504.1,332.1 504.2,332 504.2,333.2 504.2,331.9 504.3,335.3 504.3,330.2 504.4,336 504.4,333.4 504.4,330.1 504.5,334.4 504.5,333.1 504.6,333.3 504.6,333.6 504.6,331.6 504.7,333.4 504.7,335.8 504.8,330 504.8,334 504.8,333 504.9,335 504.9,333.8 505,336.3 505,333.6 505,333.7 505.1,336 505.1,333.8 505.2,333.1 505.2,330.2 505.3,332.2 505.3,334.7 505.3,333.5 505.4,332 505.4,331 505.5,333.4 505.5,333 505.5,333.8 505.6,332.4 505.6,331.8 505.7,333.4 505.7,332.9 505.7,332.4 505.8,332.5 505.8,334 505.9,332.2 505.9,333.5 505.9,331.4 506,332.4 506,331.1 506.1,334.2 506.1,330.2 506.1,334.3 506.2,334.5 506.2,333.5 506.3,333.8 506.3,333.3 506.3,333.2 506.4,332.7 506.4,330.6 506.5,332.6 506.5,335 506.5,333.8 506.6,331.9 506.6,330.8 506.7,331.8 506.7,330.6 506.7,329.1 506.8,329 506.8,329.1 506.9,329.8 506.9,327.3 506.9,326.2 507,327.9 507,327.5 507,327.6 507.1,328.7 507.1,327.3 507.1,327.9 507.2,329.2 507.2,329.4 507.3,329.5 507.3,329.6 507.4,329.3 507.4,330.2 507.4,330.4 507.5,330.8 507.5,331.1 507.6,330.2 507.6,328.9 507.6,330.7 507.7,330.8 507.7,330.9 507.8,332.5 507.8,332.9 507.8,330.7 507.9,333.6 507.9,333.4 508,332.4 508,333.1 508,334.5 508.1,331.7 508.1,333.2 508.2,332.2 508.2,332.1 508.2,334.5 508.3,331.4 508.3,333.6 508.4,332.7 508.4,334 508.4,334.3 508.5,334.1 508.5,332.6 508.6,333.6 508.6,336.7 508.6,334.8 508.7,333.8 508.7,331.9 508.8,333.4 508.8,332.8 508.8,333 508.9,332.7 508.9,335.8 509,334.6 509,334.6 509,333.3 509.1,334.1 509.1,332.6 509.2,330.2 509.2,331.9 509.2,331.4 509.3,331.5 509.3,331.6 509.4,332.7 509.4,334.3 509.5,334.4 509.5,335.7 509.5,333.7 509.6,331.5 509.6,331.2 509.7,330.9 509.7,334.2 509.7,332 509.8,333.7 509.8,334 509.9,333.6 509.9,332.1 509.9,332.9 510,334.2 510,334.3 510.1,335.1 510.1,332.1 510.1,330.9 510.2,331.4 510.2,330.9 510.3,332 510.3,329.5 510.3,331.7 510.4,332.6 510.4,331.7 510.5,331.2 510.5,335.3 510.5,332.8 510.6,333.1 510.6,334.5 510.7,334.1 510.7,332.4 510.7,331.4 510.8,332.1 510.8,332.1 510.9,332.2 510.9,333.3 510.9,333.3 511,332.6 511,333.5 511.1,336.3 511.1,335.1 511.1,333.5 511.2,336.3 511.2,332.2 511.3,333.8 511.3,332.7 511.3,333 511.4,334.7 511.4,335.7 511.5,332.1 511.5,333.5 511.6,334.8 511.6,335.9 511.6,331.6 511.7,333.3 511.7,335.1 511.8,334.5 511.8,332.7 511.8,333.8 511.9,329.6 511.9,331 512,332 512,332.7 512,334.3 512.1,334 512.1,331.6 512.2,333.3 512.2,333 512.2,333.2 512.3,331.7 512.3,333.3 512.4,332.1 512.4,332.8 512.4,333.4 512.5,335 512.5,335.1 512.6,332.4 512.6,333 512.6,332.4 512.7,333.1 512.7,337.4 512.8,336.2 512.8,335.9 512.8,334 512.9,334.4 512.9,333.3 513,332.4 513,331.6 513,334.2 513.1,333.5 513.1,335.1 513.2,335.9 513.2,331.7 513.2,332.4 513.3,334.1 513.3,334.2 513.4,332.3 513.4,333.9 513.4,333.8 513.5,333.6 513.5,333.6 513.6,335.4 513.6,334.7 513.6,334.7 513.7,335.9 513.7,335.4 513.8,334.1 513.8,337 513.9,334.7 513.9,334.7 513.9,332.8 514,333.3 514,333.6 514.1,334.6 514.1,332 514.1,335.6 514.2,335.5 514.2,334.1 514.3,334.9 514.3,329.3 514.3,333.5 514.4,332.9 514.4,333.8 514.5,335.1 514.5,332.7 514.5,331.4 514.6,332.7 514.6,332.7 514.7,332.7 514.7,332.6 514.7,333.6 514.8,330.8 514.8,334 514.9,333.6 514.9,331.1 514.9,330.8 515,331.4 515,330.7 515.1,334.7 515.1,333.7 515.1,332.9 515.2,332.2 515.2,332.5 515.3,334.7 515.3,331.5 515.3,334.3 515.4,332.4 515.4,334.7 515.5,331.4 515.5,335 515.5,332.5 515.6,335 515.6,332.8 515.7,332.7 515.7,332.9 515.7,333.2 515.8,329.5 515.8,331.6 515.9,330.5 515.9,329.7 516,328.9 516,327.9 516,328.8 516.1,326.9 516.1,326.3 516.2,325.1 516.2,326.6 516.2,326.8 516.2,326.3 516.3,325.1 516.3,325.3 516.4,327.2 516.4,327.6 516.4,330.6 516.5,330 516.5,330.8 516.6,331.5 516.6,329.1 516.6,330.3 516.7,330.2 516.7,328.2 516.8,331.3 516.8,332.9 516.8,329.6 516.9,336.4 516.9,332 517,330.2 517,334.5 517,329.8 517.1,333.9 517.1,333.2 517.2,331 517.2,332.1 517.2,331.6 517.3,333.1 517.3,332.5 517.4,332.8 517.4,331.5 517.4,331.4 517.5,330.3 517.5,328.9 517.6,329.6 517.6,328.6 517.6,328.2 517.7,327.2 517.7,327.2 517.8,328 517.8,328.8 517.8,327.3 517.8,327.8 517.9,327.3 517.9,327.6 518,329.7 518,330.8 518.1,328.7 518.1,331.5 518.1,330.1 518.2,329.2 518.2,328.2 518.3,331.3 518.3,332.6 518.3,330.6 518.4,331.8 518.4,333.4 518.5,334.1 518.5,332.8 518.5,333.1 518.6,334.4 518.6,332.4 518.7,333.9 518.7,332.1 518.7,332.5 518.8,335.3 518.8,335.5 518.9,333.3 518.9,334.9 518.9,333.5 519,333.8 519,333.1 519.1,330.5 519.1,335 519.1,334.8 519.2,334.7 519.2,332.3 519.3,330.4 519.3,333.6 519.3,333.6 519.4,333 519.4,333.7 519.5,333.5 519.5,335.8 519.5,334.3 519.6,332.2 519.6,333.2 519.7,335.5 519.7,332.7 519.7,332.8 519.8,332.9 519.8,333.2 519.9,333 519.9,334.1 519.9,332.4 520,333.3 520,333.3 520.1,333.8 520.1,332.4 520.2,334.9 520.2,333.5 520.2,335.1 520.3,334.1 520.3,334.3 520.4,333.6 520.4,334.1 520.4,334.6 520.5,335.2 520.5,332.7 520.6,334.7 520.6,332.1 520.6,333.6 520.7,331.9 520.7,333.5 520.8,333.7 520.8,333.1 520.8,335.6 520.9,333.6 520.9,333.9 521,336.3 521,337.3 521,336.3 521.1,336.6 521.1,331.9 521.2,334.9 521.2,334.1 521.2,334.6 521.3,332.6 521.3,332.7 521.4,334.9 521.4,335.6 521.4,332.7 521.5,336.6 521.5,335.1 521.6,335.2 521.6,335.5 521.6,335.3 521.7,333.6 521.7,332.4 521.8,332.8 521.8,332.8 521.8,335.2 521.9,332.9 521.9,333.9 522,335.5 522,335 522,336 522.1,334.5 522.1,332.7 522.2,332.9 522.2,333 522.2,331.7 522.3,331.2 522.3,335.4 522.4,334.9 522.4,333.9 522.5,331.4 522.5,335 522.5,333.3 522.6,335.9 522.6,335.4 522.7,332 522.7,332.1 522.7,331.9 522.8,332.8 522.8,334.5 522.9,331.5 522.9,336.2 522.9,333.5 523,332.4 523,334.6 523.1,332 523.1,336.1 523.1,335.3 523.2,334.9 523.2,332.8 523.3,335.7 523.3,333.6 523.3,336.1 523.4,334.5 523.4,336.1 523.5,331.3 523.5,330.8 523.5,330.3 523.6,333.9 523.6,332.5 523.7,334.4 523.7,333 523.7,335 523.8,333 523.8,333.4 523.9,334.1 523.9,333.1 523.9,334.5 524,333.3 524,332.9 524.1,334 524.1,334.4 524.1,335.5 524.2,332.1 524.2,336.6 524.3,335.6 524.3,332.6 524.3,336.2 524.4,337.4 524.4,333.4 524.5,334.1 524.5,334.9 524.6,333.2 524.6,333.5 524.6,333.8 524.7,335.1 524.7,332.5 524.8,333.8 524.8,329.9 524.8,332.8 524.9,329.7 524.9,333.3 525,331.8 525,333 525,333.8 525.1,333.8 525.1,333.6 525.2,332.8 525.2,333.1 525.2,333.8 525.3,334.7 525.3,332.6 525.4,332.8 525.4,332.4 525.4,333.2 525.5,333 525.5,333.2 525.6,332.8 525.6,330.8 525.6,332.8 525.7,330.8 525.7,332.4 525.8,331.1 525.8,331.9 525.8,334.7 525.9,332.6 525.9,333.5 526,332.6 526,333.7 526,331.2 526.1,329.9 526.1,334 526.2,333.6 526.2,334.2 526.2,332.3 526.3,335 526.3,333.1 526.4,333.5 526.4,331.2 526.4,333.6 526.5,331.9 526.5,333.4 526.6,331.3 526.6,333.3 526.7,332.5 526.7,331.8 526.7,334.4 526.8,330 526.8,333.7 526.9,334.4 526.9,334.3 526.9,330.9 527,331.1 527,331.2 527.1,330.8 527.1,329.7 527.1,329.9 527.2,330.4 527.2,329 527.3,328.7 527.3,328.9 527.3,330.8 527.4,329.4 527.4,330.4 527.4,330.5 527.5,329.6 527.5,329.7 527.5,329.9 527.6,328.9 527.6,330.2 527.7,331.4 527.7,330 527.7,328.8 527.8,330.2 527.8,330 527.9,329.4 527.9,329.9 527.9,333.4 528,333.1 528,333.9 528.1,336.2 528.1,335 528.1,333.6 528.2,332.5 528.2,333.1 528.3,331.9 528.3,333.8 528.3,331.7 528.4,332.3 528.4,333.5 528.5,332.8 528.5,332.4 528.5,334.6 528.6,336.7 528.6,334.4 528.7,332.3 528.7,333.9 528.7,331.8 528.8,334.8 528.8,335.6 528.9,331.9 528.9,335.7 529,335.9 529,334.1 529,333.9 529.1,333.6 529.1,333 529.2,334.2 529.2,333.3 529.2,332.9 529.3,334.6 529.3,335.1 529.4,333.4 529.4,334.4 529.4,332.5 529.5,332.4 529.5,332.3 529.6,336.4 529.6,334.6 529.6,332.2 529.7,333 529.7,333.9 529.8,335.4 529.8,334.9 529.8,333.2 529.9,332.8 529.9,334.6 530,333.9 530,332.7 530,332.3 530.1,331.3 530.1,331.8 530.2,335.3 530.2,335.8 530.2,333.6 530.3,333.9 530.3,337.2 530.4,335.1 530.4,330.4 530.4,334.6 530.5,334.5 530.5,334.1 530.6,334.7 530.6,334.3 530.6,334.9 530.7,331.2 530.7,332.9 530.8,333.6 530.8,335.1 530.8,332.6 530.9,332.2 530.9,333.4 531,332.7 531,332.2 531.1,333.4 531.1,334.3 531.1,334.5 531.2,335.3 531.2,333.9 531.3,333.3 531.3,333.2 531.3,334.8 531.4,334.7 531.4,335.7 531.5,332 531.5,333.5 531.5,335.5 531.6,332.1 531.6,331.2 531.7,332.3 531.7,334.9 531.7,335.5 531.8,332.5 531.8,332.9 531.9,334.7 531.9,333.5 531.9,333.3 532,331.2 532,332.4 532.1,333.7 532.1,330.6 532.1,333.5 532.2,330.9 532.2,334.5 532.3,331.6 532.3,335.3 532.3,333.7 532.4,332.8 532.4,334.7 532.5,334.7 532.5,333.2 532.5,333.4 532.6,332.3 532.6,332.2 532.7,330 532.7,331.1 532.7,329.7 532.8,333.1 532.8,330.6 532.9,329.5 532.9,330.2 532.9,332.7 532.9,330.4 533,330.1 533,331.4 533.1,331.4 533.1,331 533.2,330.9 533.2,332.8 533.2,330.3 533.3,329.6 533.3,332.2 533.4,332.3 533.4,332.7 533.4,335.9 533.5,334.6 533.5,333.7 533.6,334.5 533.6,331.6 533.6,334.4 533.7,334.8 533.7,334.6 533.8,333.2 533.8,335.6 533.8,333.7 533.9,337.1 533.9,334.6 534,334.3 534,332.7 534,334.1 534.1,336.3 534.1,331.9 534.2,332.8 534.2,335 534.2,334.2 534.3,332 534.3,334 534.4,335.4 534.4,331.6 534.4,332.8 534.5,330.8 534.5,331.6 534.6,334.4 534.6,333.1 534.6,328.6 534.7,333.5 534.7,333.1 534.8,331 534.8,331.9 534.8,333.5 534.9,333.1 534.9,337.2 535,337.3 535,334 535,334.9 535.1,334.2 535.1,333.9 535.2,336.3 535.2,334.8 535.3,334 535.3,333.1 535.3,332.6 535.4,334.2 535.4,331.9 535.5,333.7 535.5,335.8 535.5,334.9 535.6,332.3 535.6,334.3 535.7,332.9 535.7,335 535.7,335.5 535.8,336.4 535.8,335.4 535.9,334.3 535.9,334.2 535.9,335.7 536,335.7 536,333.4 536.1,334.2 536.1,336.3 536.1,335.3 536.2,333.6 536.2,335.3 536.3,335.3 536.3,332.5 536.3,335.4 536.4,334.9 536.4,333.6 536.5,333.3 536.5,333.3 536.5,335.7 536.6,336.5 536.6,335.7 536.7,334.8 536.7,332 536.7,332.5 536.8,334.1 536.8,332 536.9,333.8 536.9,332.9 536.9,333.9 537,333.6 537,332.8 537.1,334.6 537.1,334.3 537.1,331.5 537.2,337.6 537.2,336.4 537.3,330.9 537.3,332 537.3,334.4 537.4,333.1 537.4,334.2 537.5,333.4 537.5,332.4 537.6,331.5 537.6,334.4 537.6,333.9 537.7,332 537.7,334.5 537.8,332.3 537.8,333.1 537.8,337 537.9,331.7 537.9,334.8 538,333.8 538,337.6 538,336.3 538.1,335.1 538.1,332.3 538.2,332.9 538.2,335.7 538.2,333.5 538.3,333.7 538.3,331.2 538.4,334.7 538.4,333.5 538.4,333.5 538.5,332.7 538.5,334.1 538.6,330.2 538.6,334.8 538.6,332.4 538.7,333.8 538.7,332.3 538.8,335.6 538.8,334.5 538.8,333 538.9,334 538.9,334.7 539,332.5 539,333.5 539,333.8 539.1,335.8 539.1,332.7 539.2,335.3 539.2,335.4 539.2,335.6 539.3,335.4 539.3,337 539.4,334.2 539.4,335.6 539.4,335.2 539.5,334.8 539.5,334.5 539.6,333 539.6,333 539.7,333.6 539.7,336.2 539.7,333.5 539.8,335.3 539.8,335.4 539.9,332.9 539.9,333.8 539.9,335.7 540,333.7 540,334.9 540.1,333.8 540.1,333.2 540.1,332.9 540.2,334.9 540.2,333.8 540.3,337 540.3,332.6 540.3,330.7 540.4,335.5 540.4,332.5 540.5,334 540.5,333.4 540.5,332.8 540.6,334.8 540.6,333.9 540.7,333.3 540.7,333.9 540.7,333.9 540.8,333.9 540.8,332.4 540.9,331.4 540.9,335.8 540.9,333.7 541,335.4 541,334.1 541.1,334.9 541.1,333.8 541.1,337.7 541.2,337.6 541.2,333.4 541.3,331.7 541.3,335.5 541.3,334.8 541.4,333.4 541.4,331.8 541.5,335.6 541.5,334.3 541.5,333.4 541.6,334.2 541.6,332 541.7,334 541.7,333.5 541.8,334 541.8,330.9 541.8,334 541.9,334.9 541.9,330.9 542,334.6 542,334 542,334.5 542.1,332.3 542.1,332.4 542.2,332.5 542.2,334.9 542.2,335.7 542.3,331.2 542.3,332.3 542.4,334.8 542.4,334.6 542.4,334.7 542.5,334.1 542.5,332.6 542.6,335.4 542.6,331.6 542.6,331.5 542.7,333.7 542.7,333.9 542.8,334.2 542.8,333.6 542.8,333.9 542.9,337.2 542.9,334.9 543,336.1 543,333.7 543,334 543.1,332.3 543.1,332.6 543.2,332.8 543.2,331.9 543.2,333.8 543.3,332.8 543.3,333.8 543.4,335.2 543.4,333.9 543.4,332.7 543.5,334.7 543.5,333.8 543.6,334 543.6,334.2 543.6,336.4 543.7,332.8 543.7,330.8 543.8,333.6 543.8,333.3 543.9,332.5 543.9,336.1 543.9,332.9 544,333.4 544,332.7 544.1,333.9 544.1,334.3 544.1,337.7 544.2,334.2 544.2,333.6 544.3,333.5 544.3,333.7 544.3,331.2 544.4,332 544.4,335.8 544.5,333.3 544.5,333.4 544.5,335.4 544.6,331.3 544.6,334.5 544.7,332.3 544.7,334.7 544.7,332.6 544.8,337.1 544.8,335.2 544.9,334.3 544.9,333.6 544.9,333.7 545,331.4 545,335 545.1,333.2 545.1,334.3 545.1,334.7 545.2,333 545.2,332.5 545.3,334 545.3,333 545.3,335 545.4,333.7 545.4,335.4"/>
<path d="M312.9 338.4v-1.8 M312.9 185.9v1.8 M316.1 338.4v-1.8 M316.1 185.9v1.8 M319.4 338.4v-1.8 M319.4 185.9v1.8 M322.6 338.4v-1.8 M322.6 185.9v1.8 M325.8 338.4v-1.8 M325.8 185.9v1.8 M329 338.4v-1.8 M329 185.9v1.8 M332.3 338.4v-1.8 M332.3 185.9v1.8 M335.5 338.4v-3.6 M335.5 185.9v3.6 M338.7 338.4v-1.8 M338.7 185.9v1.8 M342 338.4v-1.8 M342 185.9v1.8 M345.2 338.4v-1.8 M345.2 185.9v1.8 M348.4 338.4v-1.8 M348.4 185.9v1.8 M351.6 338.4v-1.8 M351.6 185.9v1.8 M354.9 338.4v-1.8 M354.9 185.9v1.8 M358.1 338.4v-1.8 M358.1 185.9v1.8 M361.3 338.4v-1.8 M361.3 185.9v1.8 M364.6 338.4v-1.8 M364.6 185.9v1.8 M367.8 338.4v-3.6 M367.8 185.9v3.6 M371 338.4v-1.8 M371 185.9v1.8 M374.3 338.4v-1.8 M374.3 185.9v1.8 M377.5 338.4v-1.8 M377.5 185.9v1.8 M380.7 338.4v-1.8 M380.7 185.9v1.8 M383.9 338.4v-1.8 M383.9 185.9v1.8 M387.2 338.4v-1.8 M387.2 185.9v1.8 M390.4 338.4v-1.8 M390.4 185.9v1.8 M393.6 338.4v-1.8 M393.6 185.9v1.8 M396.9 338.4v-1.8 M396.9 185.9v1.8 M400.1 338.4v-3.6 M400.1 185.9v3.6 M403.3 338.4v-1.8 M403.3 185.9v1.8 M406.6 338.4v-1.8 M406.6 185.9v1.8 M409.8 338.4v-1.8 M409.8 185.9v1.8 M413 338.4v-1.8 M413 185.9v1.8 M416.2 338.4v-1.8 M416.2 185.9v1.8 M419.5 338.4v-1.8 M419.5 185.9v1.8 M422.7 338.4v-1.8 M422.7 185.9v1.8 M425.9 338.4v-1.8 M425.9 185.9v1.8 M429.2 338.4v-1.8 M429.2 185.9v1.8 M432.4 338.4v-3.6 M432.4 185.9v3.6 M435.6 338.4v-1.8 M435.6 185.9v1.8 M438.9 338.4v-1.8 M438.9 185.9v1.8 M442.1 338.4v-1.8 M442.1 185.9v1.8 M445.3 338.4v-1.8 M445.3 185.9v1.8 M448.6 338.4v-1.8 M448.6 185.9v1.8 M451.8 338.4v-1.8 M451.8 185.9v1.8 M455 338.4v-1.8 M455 185.9v1.8 M458.2 338.4v-1.8 M458.2 185.9v1.8 M461.5 338.4v-1.8 M461.5 185.9v1.8 M464.7 338.4v-3.6 M464.7 185.9v3.6 M467.9 338.4v-1.8 M467.9 185.9v1.8 M471.2 338.4v-1.8 M471.2 185.9v1.8 M474.4 338.4v-1.8 M474.4 185.9v1.8 M477.6 338.4v-1.8 M477.6 185.9v1.8 M480.9 338.4v-1.8 M480.9 185.9v1.8 M484.1 338.4v-1.8 M484.1 185.9v1.8 M487.3 338.4v-1.8 M487.3 185.9v1.8 M490.5 338.4v-1.8 M490.5 185.9v1.8 M493.8 338.4v-1.8 M493.8 185.9v1.8 M497 338.4v-3.6 M497 185.9v3.6 M500.2 338.4v-1.8 M500.2 185.9v1.8 M503.5 338.4v-1.8 M503.5 185.9v1.8 M506.7 338.4v-1.8 M506.7 185.9v1.8 M509.9 338.4v-1.8 M509.9 185.9v1.8 M513.1 338.4v-1.8 M513.1 185.9v1.8 M516.4 338.4v-1.8 M516.4 185.9v1.8 M519.6 338.4v-1.8 M519.6 185.9v1.8 M522.8 338.4v-1.8 M522.8 185.9v1.8 M526.1 338.4v-1.8 M526.1 185.9v1.8 M529.3 338.4v-3.6 M529.3 185.9v3.6 M532.5 338.4v-1.8 M532.5 185.9v1.8 M535.8 338.4v-1.8 M535.8 185.9v1.8 M539 338.4v-1.8 M539 185.9v1.8 M542.2 338.4v-1.8 M542.2 185.9v1.8 M309.9 333.8h1.8 M545.7 333.8h-1.8 M309.9 329.2h1.8 M545.7 329.2h-1.8 M309.9 324.7h1.8 M545.7 324.7h-1.8 M309.9 320.1h1.8 M545.7 320.1h-1.8 M309.9 315.5h3.6 M545.7 315.5h-3.6 M309.9 310.9h1.8 M545.7 310.9h-1.8 M309.9 306.3h1.8 M545.7 306.3h-1.8 M309.9 301.8h1.8 M545.7 301.8h-1.8 M309.9 297.2h1.8 M545.7 297.2h-1.8 M309.9 292.6h3.6 M545.7 292.6h-3.6 M309.9 288h1.8 M545.7 288h-1.8 M309.9 283.4h1.8 M545.7 283.4h-1.8 M309.9 278.9h1.8 M545.7 278.9h-1.8 M309.9 274.3h1.8 M545.7 274.3h-1.8 M309.9 269.7h3.6 M545.7 269.7h-3.6 M309.9 265.1h1.8 M545.7 265.1h-1.8 M309.9 260.5h1.8 M545.7 260.5h-1.8 M309.9 256h1.8 M545.7 256h-1.8 M309.9 251.4h1.8 M545.7 251.4h-1.8 M309.9 246.8h3.6 M545.7 246.8h-3.6 M309.9 242.2h1.8 M545.7 242.2h-1.8 M309.9 237.6h1.8 M545.7 237.6h-1.8 M309.9 233.1h1.8 M545.7 233.1h-1.8 M309.9 228.5h1.8 M545.7 228.5h-1.8 M309.9 223.9h3.6 M545.7 223.9h-3.6 M309.9 219.3h1.8 M545.7 219.3h-1.8 M309.9 214.7h1.8 M545.7 214.7h-1.8 M309.9 210.2h1.8 M545.7 210.2h-1.8 M309.9 205.6h1.8 M545.7 205.6h-1.8 M309.9 201h3.6 M545.7 201h-3.6 M309.9 196.4h1.8 M545.7 196.4h-1.8 M309.9 191.8h1.8 M545.7 191.8h-1.8 M309.9 187.3h1.8 M545.7 187.3h-1.8" stroke="#585858" stroke-width="0.8" fill="none"/>
<text x="306.3" y="343.7" text-anchor="end" font-size="7.2" textLength="3.6" lengthAdjust="spacingAndGlyphs">0</text>
<text x="306.3" y="317.2" text-anchor="end" font-size="7.2" textLength="10.8" lengthAdjust="spacingAndGlyphs">100</text>
<text x="306.3" y="293.9" text-anchor="end" font-size="7.2" textLength="10.8" lengthAdjust="spacingAndGlyphs">200</text>
<text x="306.3" y="271.3" text-anchor="end" font-size="7.2" textLength="10.8" lengthAdjust="spacingAndGlyphs">300</text>
<text x="306.3" y="247.7" text-anchor="end" font-size="7.2" textLength="10.8" lengthAdjust="spacingAndGlyphs">400</text>
<text x="306.3" y="224.4" text-anchor="end" font-size="7.2" textLength="10.8" lengthAdjust="spacingAndGlyphs">500</text>
<text x="306.3" y="202.2" text-anchor="end" font-size="7.2" textLength="10.8" lengthAdjust="spacingAndGlyphs">600</text>
<text x="333.7" y="349.6" text-anchor="middle" font-size="7.2" textLength="12.9" lengthAdjust="spacingAndGlyphs">10.0</text>
<text x="365.8" y="349.6" text-anchor="middle" font-size="7.2" textLength="12.9" lengthAdjust="spacingAndGlyphs">20.0</text>
<text x="400.3" y="349.6" text-anchor="middle" font-size="7.2" textLength="12.9" lengthAdjust="spacingAndGlyphs">30.0</text>
<text x="432.8" y="349.6" text-anchor="middle" font-size="7.2" textLength="12.9" lengthAdjust="spacingAndGlyphs">40.0</text>
<text x="464.2" y="349.6" text-anchor="middle" font-size="7.2" textLength="12.9" lengthAdjust="spacingAndGlyphs">50.0</text>
<text x="495.3" y="349.6" text-anchor="middle" font-size="7.2" textLength="12.9" lengthAdjust="spacingAndGlyphs">60.0</text>
<text x="529.7" y="349.6" text-anchor="middle" font-size="7.2" textLength="12.9" lengthAdjust="spacingAndGlyphs">70.0</text>
<text x="427.8" y="360.7" text-anchor="middle" font-size="7.0" textLength="68" lengthAdjust="spacingAndGlyphs">Diffraction Angle (&#730;2&#952;)</text>
<g transform="translate(281.9 259.6) rotate(-90)"><text x="-24.05" y="2.4" font-size="6.6" textLength="21.9" lengthAdjust="spacingAndGlyphs">Intensity</text><text x="-0.75" y="2.4" font-size="6.6" textLength="24.3" lengthAdjust="spacingAndGlyphs">(counts)</text></g>
<text x="321.5" y="203.4" font-size="10" font-weight="bold" fill="#111" xml:space="preserve">( d )</text>
<text x="330.7" y="314.7" text-anchor="middle" font-size="7">Hal</text>
<text x="339" y="308.9" text-anchor="middle" font-size="7">Amp</text>
<text x="346.8" y="321.3" text-anchor="middle" font-size="7">Ntr</text>
<text x="354.3" y="258.6" text-anchor="middle" font-size="7">Lct</text>
<text x="362.9" y="314.7" text-anchor="middle" font-size="7">Gbs</text>
<text x="387.6" y="194.7" text-anchor="middle" font-size="7">Lct</text>
<text x="392.7" y="293.2" text-anchor="middle" font-size="7">Nph</text>
<text x="397.1" y="275.2" text-anchor="middle" font-size="7">Di</text>
<text x="401.5" y="253.6" text-anchor="middle" font-size="7">Lct</text>
<text x="419.7" y="307.4" text-anchor="middle" font-size="7">Hem</text>
<text x="439.1" y="321.3" text-anchor="middle" font-size="7">Chm</text>
<text x="455.9" y="317.3" text-anchor="middle" font-size="7">Bhm</text>
<text x="464.3" y="304.9" text-anchor="middle" font-size="7">Hem</text>
<text x="477.6" y="308.4" text-anchor="middle" font-size="7">Gbs</text>
<text x="486.4" y="322.6" text-anchor="middle" font-size="7">Thrn</text>
<path d="M75.6 110 L58.9 132 M75.6 110 L91.3 131.3 M100.4 116.6 V131.4" stroke="#8a8a8a" stroke-width="0.6" fill="none"/>
</svg>
</body></html>
